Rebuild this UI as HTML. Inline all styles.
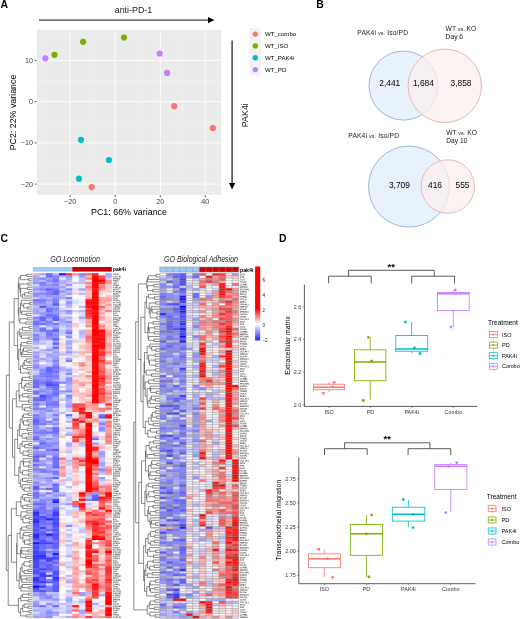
<!DOCTYPE html>
<html lang="en"><head><meta charset="utf-8"><title>Figure</title>
<style>html,body{margin:0;padding:0;background:#fff}svg{display:block}text{font-family:"Liberation Sans", Arial, Helvetica, sans-serif}</style></head><body>
<svg width="520" height="619" viewBox="0 0 520 619">
<rect width="520" height="619" fill="#fff"/>
<defs><filter id="hb" x="-2%" y="-1%" width="104%" height="102%"><feGaussianBlur stdDeviation="0.45"/></filter><filter id="hb1" x="-2%" y="-1%" width="104%" height="102%"><feGaussianBlur stdDeviation="0.6"/></filter></defs>
<g font-weight="bold" font-size="10.4">
<text x="0.5" y="7.7">A</text>
<text x="316.3" y="7.7">B</text>
<text x="0.5" y="242">C</text>
<text x="279" y="241.8">D</text>
</g>
<rect x="36.9" y="29.85" width="184.3" height="165.0" fill="#EBEBEB"/>
<g stroke="#F5F5F5" stroke-width="0.5">
<line x1="47.61" x2="47.61" y1="29.85" y2="194.85"/>
<line x1="92.67" x2="92.67" y1="29.85" y2="194.85"/>
<line x1="137.73" x2="137.73" y1="29.85" y2="194.85"/>
<line x1="182.79" x2="182.79" y1="29.85" y2="194.85"/>
<line y1="39.78" y2="39.78" x1="36.9" x2="221.2"/>
<line y1="81.01" y2="81.01" x1="36.9" x2="221.2"/>
<line y1="122.25" y2="122.25" x1="36.9" x2="221.2"/>
<line y1="163.47" y2="163.47" x1="36.9" x2="221.2"/>
</g>
<g stroke="#FFFFFF" stroke-width="0.9">
<line x1="70.14" x2="70.14" y1="29.85" y2="194.85"/>
<line x1="115.20" x2="115.20" y1="29.85" y2="194.85"/>
<line x1="160.26" x2="160.26" y1="29.85" y2="194.85"/>
<line x1="205.32" x2="205.32" y1="29.85" y2="194.85"/>
<line y1="60.40" y2="60.40" x1="36.9" x2="221.2"/>
<line y1="101.63" y2="101.63" x1="36.9" x2="221.2"/>
<line y1="142.86" y2="142.86" x1="36.9" x2="221.2"/>
<line y1="184.09" y2="184.09" x1="36.9" x2="221.2"/>
</g>
<g stroke="#333" stroke-width="0.7">
<line x1="70.14" x2="70.14" y1="194.85" y2="197.25"/>
<line x1="115.20" x2="115.20" y1="194.85" y2="197.25"/>
<line x1="160.26" x2="160.26" y1="194.85" y2="197.25"/>
<line x1="205.32" x2="205.32" y1="194.85" y2="197.25"/>
<line y1="60.40" y2="60.40" x1="34.40" x2="36.9"/>
<line y1="101.63" y2="101.63" x1="34.40" x2="36.9"/>
<line y1="142.86" y2="142.86" x1="34.40" x2="36.9"/>
<line y1="184.09" y2="184.09" x1="34.40" x2="36.9"/>
</g>
<g font-size="7.2" fill="#444">
<text x="70.14" y="204.4" text-anchor="middle">−20</text>
<text x="115.20" y="204.4" text-anchor="middle">0</text>
<text x="160.26" y="204.4" text-anchor="middle">20</text>
<text x="205.32" y="204.4" text-anchor="middle">40</text>
<text x="32.9" y="63.00" text-anchor="end">10</text>
<text x="32.9" y="104.23" text-anchor="end">0</text>
<text x="32.9" y="145.46" text-anchor="end">−10</text>
<text x="32.9" y="186.69" text-anchor="end">−20</text>
</g>
<text x="129.00" y="214.70" font-size="8.9" text-anchor="middle">PC1: 66% variance</text>
<text x="16.20" y="112.50" font-size="8.85" text-anchor="middle" transform="rotate(-90 16.20 112.50)">PC2: 22% variance</text>
<circle cx="45.3" cy="58.3" r="3.1" fill="#C77CFF"/>
<circle cx="54.5" cy="54.8" r="3.1" fill="#7CAE00"/>
<circle cx="83.1" cy="41.8" r="3.1" fill="#7CAE00"/>
<circle cx="124" cy="37.5" r="3.1" fill="#7CAE00"/>
<circle cx="159.7" cy="53.5" r="3.1" fill="#C77CFF"/>
<circle cx="167.1" cy="72.9" r="3.1" fill="#C77CFF"/>
<circle cx="174.2" cy="106.2" r="3.1" fill="#F8766D"/>
<circle cx="212.9" cy="128" r="3.1" fill="#F8766D"/>
<circle cx="81" cy="139.8" r="3.1" fill="#00BFC4"/>
<circle cx="109" cy="160" r="3.1" fill="#00BFC4"/>
<circle cx="79" cy="178.7" r="3.1" fill="#00BFC4"/>
<circle cx="91.7" cy="187.1" r="3.1" fill="#F8766D"/>
<rect x="249.7" y="28.2" width="11" height="11.83" fill="#F2F2F2"/>
<circle cx="255.3" cy="34.1" r="2.7" fill="#F8766D"/>
<text x="265.00" y="36.30" font-size="6.1">WT_combo</text>
<rect x="249.7" y="40.0" width="11" height="11.83" fill="#F2F2F2"/>
<circle cx="255.3" cy="45.9" r="2.7" fill="#7CAE00"/>
<text x="265.00" y="48.13" font-size="6.1">WT_ISO</text>
<rect x="249.7" y="51.9" width="11" height="11.83" fill="#F2F2F2"/>
<circle cx="255.3" cy="57.8" r="2.7" fill="#00BFC4"/>
<text x="265.00" y="59.96" font-size="6.1">WT_PAK4i</text>
<rect x="249.7" y="63.7" width="11" height="11.83" fill="#F2F2F2"/>
<circle cx="255.3" cy="69.6" r="2.7" fill="#C77CFF"/>
<text x="265.00" y="71.79" font-size="6.1">WT_PD</text>
<line x1="39" x2="209" y1="20.1" y2="20.1" stroke="#404040" stroke-width="1.1"/>
<path d="M214.4 20.1 L208 17 L208 23.2 Z" fill="#000"/>
<text x="133.50" y="13.00" font-size="8.9" fill="#222" text-anchor="middle">anti-PD-1</text>
<line x1="232.1" x2="232.1" y1="40.4" y2="184" stroke="#505050" stroke-width="1.6"/>
<path d="M232.1 189.6 L229 183 L235.2 183 Z" fill="#000"/>
<text x="247.60" y="115.20" font-size="8.9" fill="#222" text-anchor="middle" transform="rotate(-90 247.60 115.20)">PAK4i</text>
<circle cx="403.5" cy="85.6" r="34.5" fill="#E7F2FD" stroke="#9DB7DC" stroke-width="1"/>
<circle cx="444.8" cy="85.8" r="36.7" fill="#FCEFEF" fill-opacity="0.75" stroke="#E3B9B9" stroke-width="1"/>
<g font-size="8.4" fill="#000" text-anchor="middle">
<text x="389.8" y="85.5">2,441</text><text x="423.4" y="85.5">1,684</text><text x="461" y="85.5">3,858</text>
</g>
<circle cx="409" cy="186.6" r="40.5" fill="#E7F2FD" stroke="#9DB7DC" stroke-width="1"/>
<circle cx="447.8" cy="186.5" r="26.7" fill="#FCEFEF" fill-opacity="0.75" stroke="#E3B9B9" stroke-width="1"/>
<g font-size="8.4" fill="#000" text-anchor="middle">
<text x="399.4" y="187.6">3,709</text><text x="435" y="187.6">416</text><text x="462.5" y="187.6">555</text>
</g>
<g font-size="6.7" fill="#1A1A1A">
<text x="357.3" y="34.8" letter-spacing="0.12">PAK4i <tspan font-size="5.5">vs.</tspan> Iso/PD</text>
<text x="445.6" y="30.8">WT <tspan font-size="5.5">vs.</tspan> KO</text>
<text x="445.6" y="39.4">Day 6</text>
<text x="348.3" y="137.6" letter-spacing="0.12">PAK4i <tspan font-size="5.5">vs.</tspan> Iso/PD</text>
<text x="446.2" y="134.5">WT <tspan font-size="5.5">vs.</tspan> KO</text>
<text x="446.2" y="143.1">Day 10</text>
</g>
<text x="75.00" y="261.70" font-size="8.5" fill="#1A1A1A" text-anchor="middle" font-style="italic" textLength="49.7" lengthAdjust="spacingAndGlyphs">GO Locomotion</text>
<rect x="32.80" y="267.0" width="39.50" height="4.60" fill="#9ACBFA"/>
<rect x="72.30" y="267.0" width="39.50" height="4.60" fill="#C60004"/>
<text x="113.00" y="271.10" font-size="5.0" font-weight="bold">pak4i</text>
<g filter="url(#hb1)">
<rect x="32.80" y="273.20" width="6.98" height="2.57" fill="#FFB2B2"/>
<rect x="39.38" y="273.20" width="6.98" height="2.57" fill="#A4A4FF"/>
<rect x="45.97" y="273.20" width="6.98" height="2.57" fill="#6565FF"/>
<rect x="52.55" y="273.20" width="6.98" height="2.57" fill="#B2B2FF"/>
<rect x="59.13" y="273.20" width="6.98" height="2.57" fill="#1919FF"/>
<rect x="65.72" y="273.20" width="6.98" height="2.57" fill="#FF3333"/>
<rect x="72.30" y="273.20" width="6.98" height="2.57" fill="#FF9999"/>
<rect x="78.88" y="273.20" width="6.98" height="2.57" fill="#8080FF"/>
<rect x="85.47" y="273.20" width="6.98" height="2.57" fill="#FF6767"/>
<rect x="92.05" y="273.20" width="6.98" height="2.57" fill="#FF2626"/>
<rect x="98.63" y="273.20" width="6.98" height="2.57" fill="#FFFFFF"/>
<rect x="105.22" y="273.20" width="6.58" height="2.57" fill="#A6A6FF"/>
<rect x="32.80" y="275.37" width="6.98" height="2.57" fill="#A6A6FF"/>
<rect x="39.38" y="275.37" width="6.98" height="2.57" fill="#E2E2FF"/>
<rect x="45.97" y="275.37" width="6.98" height="2.57" fill="#6D6DFF"/>
<rect x="52.55" y="275.37" width="6.98" height="2.57" fill="#8787FF"/>
<rect x="59.13" y="275.37" width="6.98" height="2.57" fill="#B1B1FF"/>
<rect x="65.72" y="275.37" width="6.98" height="2.57" fill="#9393FF"/>
<rect x="72.30" y="275.37" width="6.98" height="2.57" fill="#E8E8FF"/>
<rect x="78.88" y="275.37" width="6.98" height="2.57" fill="#9999FF"/>
<rect x="85.47" y="275.37" width="6.98" height="2.57" fill="#FFB9B9"/>
<rect x="92.05" y="275.37" width="6.98" height="2.57" fill="#FF0909"/>
<rect x="98.63" y="275.37" width="6.98" height="2.57" fill="#FF4F4F"/>
<rect x="105.22" y="275.37" width="6.58" height="2.57" fill="#A6A6FF"/>
<rect x="32.80" y="277.54" width="6.98" height="2.57" fill="#A4A4FF"/>
<rect x="39.38" y="277.54" width="6.98" height="2.57" fill="#8181FF"/>
<rect x="45.97" y="277.54" width="6.98" height="2.57" fill="#A0A0FF"/>
<rect x="52.55" y="277.54" width="6.98" height="2.57" fill="#8080FF"/>
<rect x="59.13" y="277.54" width="6.98" height="2.57" fill="#E4E4FF"/>
<rect x="65.72" y="277.54" width="6.98" height="2.57" fill="#AAAAFF"/>
<rect x="72.30" y="277.54" width="6.98" height="2.57" fill="#FEFEFF"/>
<rect x="78.88" y="277.54" width="6.98" height="2.57" fill="#C2C2FF"/>
<rect x="85.47" y="277.54" width="6.98" height="2.57" fill="#FF8282"/>
<rect x="92.05" y="277.54" width="6.98" height="2.57" fill="#FF0404"/>
<rect x="98.63" y="277.54" width="6.98" height="2.57" fill="#FF4C4C"/>
<rect x="105.22" y="277.54" width="6.58" height="2.57" fill="#D9D9FF"/>
<rect x="32.80" y="279.71" width="6.98" height="2.57" fill="#A4A4FF"/>
<rect x="39.38" y="279.71" width="6.98" height="2.57" fill="#BBBBFF"/>
<rect x="45.97" y="279.71" width="6.98" height="2.57" fill="#8A8AFF"/>
<rect x="52.55" y="279.71" width="6.98" height="2.57" fill="#7070FF"/>
<rect x="59.13" y="279.71" width="6.98" height="2.57" fill="#B5B5FF"/>
<rect x="65.72" y="279.71" width="6.98" height="2.57" fill="#B7B7FF"/>
<rect x="72.30" y="279.71" width="6.98" height="2.57" fill="#FFFCFC"/>
<rect x="78.88" y="279.71" width="6.98" height="2.57" fill="#C1C1FF"/>
<rect x="85.47" y="279.71" width="6.98" height="2.57" fill="#FFE0E0"/>
<rect x="92.05" y="279.71" width="6.98" height="2.57" fill="#FF0000"/>
<rect x="98.63" y="279.71" width="6.98" height="2.57" fill="#FF0505"/>
<rect x="105.22" y="279.71" width="6.58" height="2.57" fill="#FF8B8B"/>
<rect x="32.80" y="281.88" width="6.98" height="2.57" fill="#9898FF"/>
<rect x="39.38" y="281.88" width="6.98" height="2.57" fill="#7F7FFF"/>
<rect x="45.97" y="281.88" width="6.98" height="2.57" fill="#ADADFF"/>
<rect x="52.55" y="281.88" width="6.98" height="2.57" fill="#9494FF"/>
<rect x="59.13" y="281.88" width="6.98" height="2.57" fill="#B1B1FF"/>
<rect x="65.72" y="281.88" width="6.98" height="2.57" fill="#C5C5FF"/>
<rect x="72.30" y="281.88" width="6.98" height="2.57" fill="#C5C5FF"/>
<rect x="78.88" y="281.88" width="6.98" height="2.57" fill="#BEBEFF"/>
<rect x="85.47" y="281.88" width="6.98" height="2.57" fill="#FF8585"/>
<rect x="92.05" y="281.88" width="6.98" height="2.57" fill="#FF0A0A"/>
<rect x="98.63" y="281.88" width="6.98" height="2.57" fill="#FF3B3B"/>
<rect x="105.22" y="281.88" width="6.58" height="2.57" fill="#FF9393"/>
<rect x="32.80" y="284.05" width="6.98" height="2.57" fill="#CECEFF"/>
<rect x="39.38" y="284.05" width="6.98" height="2.57" fill="#8686FF"/>
<rect x="45.97" y="284.05" width="6.98" height="2.57" fill="#9393FF"/>
<rect x="52.55" y="284.05" width="6.98" height="2.57" fill="#8585FF"/>
<rect x="59.13" y="284.05" width="6.98" height="2.57" fill="#C1C1FF"/>
<rect x="65.72" y="284.05" width="6.98" height="2.57" fill="#9898FF"/>
<rect x="72.30" y="284.05" width="6.98" height="2.57" fill="#F5F5FF"/>
<rect x="78.88" y="284.05" width="6.98" height="2.57" fill="#EAEAFF"/>
<rect x="85.47" y="284.05" width="6.98" height="2.57" fill="#FFADAD"/>
<rect x="92.05" y="284.05" width="6.98" height="2.57" fill="#FF0000"/>
<rect x="98.63" y="284.05" width="6.98" height="2.57" fill="#FF9191"/>
<rect x="105.22" y="284.05" width="6.58" height="2.57" fill="#FFCFCF"/>
<rect x="32.80" y="286.22" width="6.98" height="2.57" fill="#ABABFF"/>
<rect x="39.38" y="286.22" width="6.98" height="2.57" fill="#9B9BFF"/>
<rect x="45.97" y="286.22" width="6.98" height="2.57" fill="#9999FF"/>
<rect x="52.55" y="286.22" width="6.98" height="2.57" fill="#9999FF"/>
<rect x="59.13" y="286.22" width="6.98" height="2.57" fill="#9F9FFF"/>
<rect x="65.72" y="286.22" width="6.98" height="2.57" fill="#DCDCFF"/>
<rect x="72.30" y="286.22" width="6.98" height="2.57" fill="#ECECFF"/>
<rect x="78.88" y="286.22" width="6.98" height="2.57" fill="#E9E9FF"/>
<rect x="85.47" y="286.22" width="6.98" height="2.57" fill="#FF7373"/>
<rect x="92.05" y="286.22" width="6.98" height="2.57" fill="#FF0000"/>
<rect x="98.63" y="286.22" width="6.98" height="2.57" fill="#FF7A7A"/>
<rect x="105.22" y="286.22" width="6.58" height="2.57" fill="#FFC1C1"/>
<rect x="32.80" y="288.38" width="6.98" height="2.57" fill="#9191FF"/>
<rect x="39.38" y="288.38" width="6.98" height="2.57" fill="#7F7FFF"/>
<rect x="45.97" y="288.38" width="6.98" height="2.57" fill="#5E5EFF"/>
<rect x="52.55" y="288.38" width="6.98" height="2.57" fill="#7272FF"/>
<rect x="59.13" y="288.38" width="6.98" height="2.57" fill="#B8B8FF"/>
<rect x="65.72" y="288.38" width="6.98" height="2.57" fill="#7C7CFF"/>
<rect x="72.30" y="288.38" width="6.98" height="2.57" fill="#E1E1FF"/>
<rect x="78.88" y="288.38" width="6.98" height="2.57" fill="#9F9FFF"/>
<rect x="85.47" y="288.38" width="6.98" height="2.57" fill="#FFA4A4"/>
<rect x="92.05" y="288.38" width="6.98" height="2.57" fill="#FF1414"/>
<rect x="98.63" y="288.38" width="6.98" height="2.57" fill="#FF9494"/>
<rect x="105.22" y="288.38" width="6.58" height="2.57" fill="#FFD4D4"/>
<rect x="32.80" y="290.55" width="6.98" height="2.57" fill="#B9B9FF"/>
<rect x="39.38" y="290.55" width="6.98" height="2.57" fill="#ADADFF"/>
<rect x="45.97" y="290.55" width="6.98" height="2.57" fill="#8888FF"/>
<rect x="52.55" y="290.55" width="6.98" height="2.57" fill="#6363FF"/>
<rect x="59.13" y="290.55" width="6.98" height="2.57" fill="#9393FF"/>
<rect x="65.72" y="290.55" width="6.98" height="2.57" fill="#C2C2FF"/>
<rect x="72.30" y="290.55" width="6.98" height="2.57" fill="#FFDDDD"/>
<rect x="78.88" y="290.55" width="6.98" height="2.57" fill="#E0E0FF"/>
<rect x="85.47" y="290.55" width="6.98" height="2.57" fill="#FFBDBD"/>
<rect x="92.05" y="290.55" width="6.98" height="2.57" fill="#FF0B0B"/>
<rect x="98.63" y="290.55" width="6.98" height="2.57" fill="#FFD3D3"/>
<rect x="105.22" y="290.55" width="6.58" height="2.57" fill="#FFCACA"/>
<rect x="32.80" y="292.72" width="6.98" height="2.57" fill="#8B8BFF"/>
<rect x="39.38" y="292.72" width="6.98" height="2.57" fill="#8787FF"/>
<rect x="45.97" y="292.72" width="6.98" height="2.57" fill="#7B7BFF"/>
<rect x="52.55" y="292.72" width="6.98" height="2.57" fill="#6565FF"/>
<rect x="59.13" y="292.72" width="6.98" height="2.57" fill="#BDBDFF"/>
<rect x="65.72" y="292.72" width="6.98" height="2.57" fill="#9D9DFF"/>
<rect x="72.30" y="292.72" width="6.98" height="2.57" fill="#FFD0D0"/>
<rect x="78.88" y="292.72" width="6.98" height="2.57" fill="#BABAFF"/>
<rect x="85.47" y="292.72" width="6.98" height="2.57" fill="#FFB9B9"/>
<rect x="92.05" y="292.72" width="6.98" height="2.57" fill="#FF0000"/>
<rect x="98.63" y="292.72" width="6.98" height="2.57" fill="#FFD5D5"/>
<rect x="105.22" y="292.72" width="6.58" height="2.57" fill="#FFF0F0"/>
<rect x="32.80" y="294.89" width="6.98" height="2.57" fill="#9191FF"/>
<rect x="39.38" y="294.89" width="6.98" height="2.57" fill="#ABABFF"/>
<rect x="45.97" y="294.89" width="6.98" height="2.57" fill="#9393FF"/>
<rect x="52.55" y="294.89" width="6.98" height="2.57" fill="#9D9DFF"/>
<rect x="59.13" y="294.89" width="6.98" height="2.57" fill="#B1B1FF"/>
<rect x="65.72" y="294.89" width="6.98" height="2.57" fill="#E1E1FF"/>
<rect x="72.30" y="294.89" width="6.98" height="2.57" fill="#FFFDFD"/>
<rect x="78.88" y="294.89" width="6.98" height="2.57" fill="#F5F5FF"/>
<rect x="85.47" y="294.89" width="6.98" height="2.57" fill="#FFBCBC"/>
<rect x="92.05" y="294.89" width="6.98" height="2.57" fill="#FF0D0D"/>
<rect x="98.63" y="294.89" width="6.98" height="2.57" fill="#FFF1F1"/>
<rect x="105.22" y="294.89" width="6.58" height="2.57" fill="#FFC5C5"/>
<rect x="32.80" y="297.06" width="6.98" height="2.57" fill="#CACAFF"/>
<rect x="39.38" y="297.06" width="6.98" height="2.57" fill="#A2A2FF"/>
<rect x="45.97" y="297.06" width="6.98" height="2.57" fill="#B4B4FF"/>
<rect x="52.55" y="297.06" width="6.98" height="2.57" fill="#8C8CFF"/>
<rect x="59.13" y="297.06" width="6.98" height="2.57" fill="#A9A9FF"/>
<rect x="65.72" y="297.06" width="6.98" height="2.57" fill="#8181FF"/>
<rect x="72.30" y="297.06" width="6.98" height="2.57" fill="#FFFAFA"/>
<rect x="78.88" y="297.06" width="6.98" height="2.57" fill="#FDFDFF"/>
<rect x="85.47" y="297.06" width="6.98" height="2.57" fill="#FFA0A0"/>
<rect x="92.05" y="297.06" width="6.98" height="2.57" fill="#FF0000"/>
<rect x="98.63" y="297.06" width="6.98" height="2.57" fill="#FFAAAA"/>
<rect x="105.22" y="297.06" width="6.58" height="2.57" fill="#FFA5A5"/>
<rect x="32.80" y="299.23" width="6.98" height="2.57" fill="#6F6FFF"/>
<rect x="39.38" y="299.23" width="6.98" height="2.57" fill="#7979FF"/>
<rect x="45.97" y="299.23" width="6.98" height="2.57" fill="#9797FF"/>
<rect x="52.55" y="299.23" width="6.98" height="2.57" fill="#7979FF"/>
<rect x="59.13" y="299.23" width="6.98" height="2.57" fill="#DDDDFF"/>
<rect x="65.72" y="299.23" width="6.98" height="2.57" fill="#C5C5FF"/>
<rect x="72.30" y="299.23" width="6.98" height="2.57" fill="#DFDFFF"/>
<rect x="78.88" y="299.23" width="6.98" height="2.57" fill="#F3F3FF"/>
<rect x="85.47" y="299.23" width="6.98" height="2.57" fill="#FF1414"/>
<rect x="92.05" y="299.23" width="6.98" height="2.57" fill="#FF0404"/>
<rect x="98.63" y="299.23" width="6.98" height="2.57" fill="#FF9999"/>
<rect x="105.22" y="299.23" width="6.58" height="2.57" fill="#FF9292"/>
<rect x="32.80" y="301.40" width="6.98" height="2.57" fill="#9090FF"/>
<rect x="39.38" y="301.40" width="6.98" height="2.57" fill="#8585FF"/>
<rect x="45.97" y="301.40" width="6.98" height="2.57" fill="#B0B0FF"/>
<rect x="52.55" y="301.40" width="6.98" height="2.57" fill="#7A7AFF"/>
<rect x="59.13" y="301.40" width="6.98" height="2.57" fill="#F8F8FF"/>
<rect x="65.72" y="301.40" width="6.98" height="2.57" fill="#8E8EFF"/>
<rect x="72.30" y="301.40" width="6.98" height="2.57" fill="#D7D7FF"/>
<rect x="78.88" y="301.40" width="6.98" height="2.57" fill="#E6E6FF"/>
<rect x="85.47" y="301.40" width="6.98" height="2.57" fill="#FF0000"/>
<rect x="92.05" y="301.40" width="6.98" height="2.57" fill="#FF0000"/>
<rect x="98.63" y="301.40" width="6.98" height="2.57" fill="#FFA0A0"/>
<rect x="105.22" y="301.40" width="6.58" height="2.57" fill="#FFD0D0"/>
<rect x="32.80" y="303.57" width="6.98" height="2.57" fill="#9E9EFF"/>
<rect x="39.38" y="303.57" width="6.98" height="2.57" fill="#A6A6FF"/>
<rect x="45.97" y="303.57" width="6.98" height="2.57" fill="#A4A4FF"/>
<rect x="52.55" y="303.57" width="6.98" height="2.57" fill="#5A5AFF"/>
<rect x="59.13" y="303.57" width="6.98" height="2.57" fill="#D3D3FF"/>
<rect x="65.72" y="303.57" width="6.98" height="2.57" fill="#A9A9FF"/>
<rect x="72.30" y="303.57" width="6.98" height="2.57" fill="#EEEEFF"/>
<rect x="78.88" y="303.57" width="6.98" height="2.57" fill="#FFF7F7"/>
<rect x="85.47" y="303.57" width="6.98" height="2.57" fill="#FF1E1E"/>
<rect x="92.05" y="303.57" width="6.98" height="2.57" fill="#FF0B0B"/>
<rect x="98.63" y="303.57" width="6.98" height="2.57" fill="#FFCFCF"/>
<rect x="105.22" y="303.57" width="6.58" height="2.57" fill="#FF9999"/>
<rect x="32.80" y="305.74" width="6.98" height="2.57" fill="#C2C2FF"/>
<rect x="39.38" y="305.74" width="6.98" height="2.57" fill="#5B5BFF"/>
<rect x="45.97" y="305.74" width="6.98" height="2.57" fill="#9797FF"/>
<rect x="52.55" y="305.74" width="6.98" height="2.57" fill="#A2A2FF"/>
<rect x="59.13" y="305.74" width="6.98" height="2.57" fill="#FFEBEB"/>
<rect x="65.72" y="305.74" width="6.98" height="2.57" fill="#BBBBFF"/>
<rect x="72.30" y="305.74" width="6.98" height="2.57" fill="#FFF8F8"/>
<rect x="78.88" y="305.74" width="6.98" height="2.57" fill="#B5B5FF"/>
<rect x="85.47" y="305.74" width="6.98" height="2.57" fill="#FF1212"/>
<rect x="92.05" y="305.74" width="6.98" height="2.57" fill="#FF0000"/>
<rect x="98.63" y="305.74" width="6.98" height="2.57" fill="#FF6666"/>
<rect x="105.22" y="305.74" width="6.58" height="2.57" fill="#FFD1D1"/>
<rect x="32.80" y="307.91" width="6.98" height="2.57" fill="#AAAAFF"/>
<rect x="39.38" y="307.91" width="6.98" height="2.57" fill="#AFAFFF"/>
<rect x="45.97" y="307.91" width="6.98" height="2.57" fill="#7373FF"/>
<rect x="52.55" y="307.91" width="6.98" height="2.57" fill="#8383FF"/>
<rect x="59.13" y="307.91" width="6.98" height="2.57" fill="#D5D5FF"/>
<rect x="65.72" y="307.91" width="6.98" height="2.57" fill="#E4E4FF"/>
<rect x="72.30" y="307.91" width="6.98" height="2.57" fill="#FFFDFD"/>
<rect x="78.88" y="307.91" width="6.98" height="2.57" fill="#EDEDFF"/>
<rect x="85.47" y="307.91" width="6.98" height="2.57" fill="#FF4C4C"/>
<rect x="92.05" y="307.91" width="6.98" height="2.57" fill="#FF0000"/>
<rect x="98.63" y="307.91" width="6.98" height="2.57" fill="#FFA8A8"/>
<rect x="105.22" y="307.91" width="6.58" height="2.57" fill="#FFCECE"/>
<rect x="32.80" y="310.08" width="6.98" height="2.57" fill="#A0A0FF"/>
<rect x="39.38" y="310.08" width="6.98" height="2.57" fill="#BBBBFF"/>
<rect x="45.97" y="310.08" width="6.98" height="2.57" fill="#6D6DFF"/>
<rect x="52.55" y="310.08" width="6.98" height="2.57" fill="#9292FF"/>
<rect x="59.13" y="310.08" width="6.98" height="2.57" fill="#ABABFF"/>
<rect x="65.72" y="310.08" width="6.98" height="2.57" fill="#8F8FFF"/>
<rect x="72.30" y="310.08" width="6.98" height="2.57" fill="#CECEFF"/>
<rect x="78.88" y="310.08" width="6.98" height="2.57" fill="#B3B3FF"/>
<rect x="85.47" y="310.08" width="6.98" height="2.57" fill="#FF1C1C"/>
<rect x="92.05" y="310.08" width="6.98" height="2.57" fill="#FF1414"/>
<rect x="98.63" y="310.08" width="6.98" height="2.57" fill="#FFC0C0"/>
<rect x="105.22" y="310.08" width="6.58" height="2.57" fill="#FF8282"/>
<rect x="32.80" y="312.25" width="6.98" height="2.57" fill="#A0A0FF"/>
<rect x="39.38" y="312.25" width="6.98" height="2.57" fill="#8F8FFF"/>
<rect x="45.97" y="312.25" width="6.98" height="2.57" fill="#8B8BFF"/>
<rect x="52.55" y="312.25" width="6.98" height="2.57" fill="#8D8DFF"/>
<rect x="59.13" y="312.25" width="6.98" height="2.57" fill="#CBCBFF"/>
<rect x="65.72" y="312.25" width="6.98" height="2.57" fill="#9F9FFF"/>
<rect x="72.30" y="312.25" width="6.98" height="2.57" fill="#FFF1F1"/>
<rect x="78.88" y="312.25" width="6.98" height="2.57" fill="#DBDBFF"/>
<rect x="85.47" y="312.25" width="6.98" height="2.57" fill="#FF2525"/>
<rect x="92.05" y="312.25" width="6.98" height="2.57" fill="#FF0101"/>
<rect x="98.63" y="312.25" width="6.98" height="2.57" fill="#FFA4A4"/>
<rect x="105.22" y="312.25" width="6.58" height="2.57" fill="#FFE2E2"/>
<rect x="32.80" y="314.41" width="6.98" height="2.57" fill="#E3E3FF"/>
<rect x="39.38" y="314.41" width="6.98" height="2.57" fill="#9F9FFF"/>
<rect x="45.97" y="314.41" width="6.98" height="2.57" fill="#6666FF"/>
<rect x="52.55" y="314.41" width="6.98" height="2.57" fill="#7C7CFF"/>
<rect x="59.13" y="314.41" width="6.98" height="2.57" fill="#D7D7FF"/>
<rect x="65.72" y="314.41" width="6.98" height="2.57" fill="#E3E3FF"/>
<rect x="72.30" y="314.41" width="6.98" height="2.57" fill="#FFFBFB"/>
<rect x="78.88" y="314.41" width="6.98" height="2.57" fill="#DFDFFF"/>
<rect x="85.47" y="314.41" width="6.98" height="2.57" fill="#FF3131"/>
<rect x="92.05" y="314.41" width="6.98" height="2.57" fill="#FF0909"/>
<rect x="98.63" y="314.41" width="6.98" height="2.57" fill="#FFC5C5"/>
<rect x="105.22" y="314.41" width="6.58" height="2.57" fill="#FFEDED"/>
<rect x="32.80" y="316.58" width="6.98" height="2.57" fill="#8383FF"/>
<rect x="39.38" y="316.58" width="6.98" height="2.57" fill="#6363FF"/>
<rect x="45.97" y="316.58" width="6.98" height="2.57" fill="#8A8AFF"/>
<rect x="52.55" y="316.58" width="6.98" height="2.57" fill="#6262FF"/>
<rect x="59.13" y="316.58" width="6.98" height="2.57" fill="#C2C2FF"/>
<rect x="65.72" y="316.58" width="6.98" height="2.57" fill="#ADADFF"/>
<rect x="72.30" y="316.58" width="6.98" height="2.57" fill="#EAEAFF"/>
<rect x="78.88" y="316.58" width="6.98" height="2.57" fill="#A1A1FF"/>
<rect x="85.47" y="316.58" width="6.98" height="2.57" fill="#FF4F4F"/>
<rect x="92.05" y="316.58" width="6.98" height="2.57" fill="#FF0707"/>
<rect x="98.63" y="316.58" width="6.98" height="2.57" fill="#FF9E9E"/>
<rect x="105.22" y="316.58" width="6.58" height="2.57" fill="#FFD5D5"/>
<rect x="32.80" y="318.75" width="6.98" height="2.57" fill="#9D9DFF"/>
<rect x="39.38" y="318.75" width="6.98" height="2.57" fill="#6464FF"/>
<rect x="45.97" y="318.75" width="6.98" height="2.57" fill="#ADADFF"/>
<rect x="52.55" y="318.75" width="6.98" height="2.57" fill="#6161FF"/>
<rect x="59.13" y="318.75" width="6.98" height="2.57" fill="#A0A0FF"/>
<rect x="65.72" y="318.75" width="6.98" height="2.57" fill="#C8C8FF"/>
<rect x="72.30" y="318.75" width="6.98" height="2.57" fill="#F6F6FF"/>
<rect x="78.88" y="318.75" width="6.98" height="2.57" fill="#DADAFF"/>
<rect x="85.47" y="318.75" width="6.98" height="2.57" fill="#FFA8A8"/>
<rect x="92.05" y="318.75" width="6.98" height="2.57" fill="#FF0505"/>
<rect x="98.63" y="318.75" width="6.98" height="2.57" fill="#FFB3B3"/>
<rect x="105.22" y="318.75" width="6.58" height="2.57" fill="#FFD6D6"/>
<rect x="32.80" y="320.92" width="6.98" height="2.57" fill="#7777FF"/>
<rect x="39.38" y="320.92" width="6.98" height="2.57" fill="#9393FF"/>
<rect x="45.97" y="320.92" width="6.98" height="2.57" fill="#7D7DFF"/>
<rect x="52.55" y="320.92" width="6.98" height="2.57" fill="#CBCBFF"/>
<rect x="59.13" y="320.92" width="6.98" height="2.57" fill="#A3A3FF"/>
<rect x="65.72" y="320.92" width="6.98" height="2.57" fill="#8E8EFF"/>
<rect x="72.30" y="320.92" width="6.98" height="2.57" fill="#FFF2F2"/>
<rect x="78.88" y="320.92" width="6.98" height="2.57" fill="#DFDFFF"/>
<rect x="85.47" y="320.92" width="6.98" height="2.57" fill="#FF9999"/>
<rect x="92.05" y="320.92" width="6.98" height="2.57" fill="#FF0000"/>
<rect x="98.63" y="320.92" width="6.98" height="2.57" fill="#FFF2F2"/>
<rect x="105.22" y="320.92" width="6.58" height="2.57" fill="#FFC3C3"/>
<rect x="32.80" y="323.09" width="6.98" height="2.57" fill="#7171FF"/>
<rect x="39.38" y="323.09" width="6.98" height="2.57" fill="#7070FF"/>
<rect x="45.97" y="323.09" width="6.98" height="2.57" fill="#8D8DFF"/>
<rect x="52.55" y="323.09" width="6.98" height="2.57" fill="#7777FF"/>
<rect x="59.13" y="323.09" width="6.98" height="2.57" fill="#B5B5FF"/>
<rect x="65.72" y="323.09" width="6.98" height="2.57" fill="#B1B1FF"/>
<rect x="72.30" y="323.09" width="6.98" height="2.57" fill="#FFC2C2"/>
<rect x="78.88" y="323.09" width="6.98" height="2.57" fill="#F2F2FF"/>
<rect x="85.47" y="323.09" width="6.98" height="2.57" fill="#FFB0B0"/>
<rect x="92.05" y="323.09" width="6.98" height="2.57" fill="#FF0606"/>
<rect x="98.63" y="323.09" width="6.98" height="2.57" fill="#FFBBBB"/>
<rect x="105.22" y="323.09" width="6.58" height="2.57" fill="#FFDEDE"/>
<rect x="32.80" y="325.26" width="6.98" height="2.57" fill="#9292FF"/>
<rect x="39.38" y="325.26" width="6.98" height="2.57" fill="#E2E2FF"/>
<rect x="45.97" y="325.26" width="6.98" height="2.57" fill="#A7A7FF"/>
<rect x="52.55" y="325.26" width="6.98" height="2.57" fill="#A8A8FF"/>
<rect x="59.13" y="325.26" width="6.98" height="2.57" fill="#C7C7FF"/>
<rect x="65.72" y="325.26" width="6.98" height="2.57" fill="#A4A4FF"/>
<rect x="72.30" y="325.26" width="6.98" height="2.57" fill="#FFCBCB"/>
<rect x="78.88" y="325.26" width="6.98" height="2.57" fill="#F5F5FF"/>
<rect x="85.47" y="325.26" width="6.98" height="2.57" fill="#FF8383"/>
<rect x="92.05" y="325.26" width="6.98" height="2.57" fill="#FF0101"/>
<rect x="98.63" y="325.26" width="6.98" height="2.57" fill="#FF7A7A"/>
<rect x="105.22" y="325.26" width="6.58" height="2.57" fill="#FFD1D1"/>
<rect x="32.80" y="327.43" width="6.98" height="2.57" fill="#A4A4FF"/>
<rect x="39.38" y="327.43" width="6.98" height="2.57" fill="#7575FF"/>
<rect x="45.97" y="327.43" width="6.98" height="2.57" fill="#D7D7FF"/>
<rect x="52.55" y="327.43" width="6.98" height="2.57" fill="#8585FF"/>
<rect x="59.13" y="327.43" width="6.98" height="2.57" fill="#DDDDFF"/>
<rect x="65.72" y="327.43" width="6.98" height="2.57" fill="#C4C4FF"/>
<rect x="72.30" y="327.43" width="6.98" height="2.57" fill="#F7F7FF"/>
<rect x="78.88" y="327.43" width="6.98" height="2.57" fill="#FFFFFF"/>
<rect x="85.47" y="327.43" width="6.98" height="2.57" fill="#FFFDFD"/>
<rect x="92.05" y="327.43" width="6.98" height="2.57" fill="#FF0707"/>
<rect x="98.63" y="327.43" width="6.98" height="2.57" fill="#FFA8A8"/>
<rect x="105.22" y="327.43" width="6.58" height="2.57" fill="#FFD5D5"/>
<rect x="32.80" y="329.60" width="6.98" height="2.57" fill="#9D9DFF"/>
<rect x="39.38" y="329.60" width="6.98" height="2.57" fill="#7171FF"/>
<rect x="45.97" y="329.60" width="6.98" height="2.57" fill="#7D7DFF"/>
<rect x="52.55" y="329.60" width="6.98" height="2.57" fill="#5D5DFF"/>
<rect x="59.13" y="329.60" width="6.98" height="2.57" fill="#C7C7FF"/>
<rect x="65.72" y="329.60" width="6.98" height="2.57" fill="#9A9AFF"/>
<rect x="72.30" y="329.60" width="6.98" height="2.57" fill="#FFF1F1"/>
<rect x="78.88" y="329.60" width="6.98" height="2.57" fill="#BABAFF"/>
<rect x="85.47" y="329.60" width="6.98" height="2.57" fill="#FF9D9D"/>
<rect x="92.05" y="329.60" width="6.98" height="2.57" fill="#FF0000"/>
<rect x="98.63" y="329.60" width="6.98" height="2.57" fill="#FF0303"/>
<rect x="105.22" y="329.60" width="6.58" height="2.57" fill="#FFA9A9"/>
<rect x="32.80" y="331.77" width="6.98" height="2.57" fill="#BABAFF"/>
<rect x="39.38" y="331.77" width="6.98" height="2.57" fill="#B0B0FF"/>
<rect x="45.97" y="331.77" width="6.98" height="2.57" fill="#7575FF"/>
<rect x="52.55" y="331.77" width="6.98" height="2.57" fill="#9797FF"/>
<rect x="59.13" y="331.77" width="6.98" height="2.57" fill="#C5C5FF"/>
<rect x="65.72" y="331.77" width="6.98" height="2.57" fill="#7575FF"/>
<rect x="72.30" y="331.77" width="6.98" height="2.57" fill="#FFF5F5"/>
<rect x="78.88" y="331.77" width="6.98" height="2.57" fill="#B3B3FF"/>
<rect x="85.47" y="331.77" width="6.98" height="2.57" fill="#FFADAD"/>
<rect x="92.05" y="331.77" width="6.98" height="2.57" fill="#FF0000"/>
<rect x="98.63" y="331.77" width="6.98" height="2.57" fill="#FF1717"/>
<rect x="105.22" y="331.77" width="6.58" height="2.57" fill="#FFA0A0"/>
<rect x="32.80" y="333.94" width="6.98" height="2.57" fill="#8383FF"/>
<rect x="39.38" y="333.94" width="6.98" height="2.57" fill="#BABAFF"/>
<rect x="45.97" y="333.94" width="6.98" height="2.57" fill="#7373FF"/>
<rect x="52.55" y="333.94" width="6.98" height="2.57" fill="#8C8CFF"/>
<rect x="59.13" y="333.94" width="6.98" height="2.57" fill="#D2D2FF"/>
<rect x="65.72" y="333.94" width="6.98" height="2.57" fill="#B3B3FF"/>
<rect x="72.30" y="333.94" width="6.98" height="2.57" fill="#F0F0FF"/>
<rect x="78.88" y="333.94" width="6.98" height="2.57" fill="#C2C2FF"/>
<rect x="85.47" y="333.94" width="6.98" height="2.57" fill="#FF8F8F"/>
<rect x="92.05" y="333.94" width="6.98" height="2.57" fill="#FF0000"/>
<rect x="98.63" y="333.94" width="6.98" height="2.57" fill="#FF1212"/>
<rect x="105.22" y="333.94" width="6.58" height="2.57" fill="#FF9393"/>
<rect x="32.80" y="336.11" width="6.98" height="2.57" fill="#9191FF"/>
<rect x="39.38" y="336.11" width="6.98" height="2.57" fill="#A9A9FF"/>
<rect x="45.97" y="336.11" width="6.98" height="2.57" fill="#8282FF"/>
<rect x="52.55" y="336.11" width="6.98" height="2.57" fill="#8A8AFF"/>
<rect x="59.13" y="336.11" width="6.98" height="2.57" fill="#FFFAFA"/>
<rect x="65.72" y="336.11" width="6.98" height="2.57" fill="#8B8BFF"/>
<rect x="72.30" y="336.11" width="6.98" height="2.57" fill="#FFFCFC"/>
<rect x="78.88" y="336.11" width="6.98" height="2.57" fill="#C1C1FF"/>
<rect x="85.47" y="336.11" width="6.98" height="2.57" fill="#FF6060"/>
<rect x="92.05" y="336.11" width="6.98" height="2.57" fill="#FF0909"/>
<rect x="98.63" y="336.11" width="6.98" height="2.57" fill="#FF1313"/>
<rect x="105.22" y="336.11" width="6.58" height="2.57" fill="#FFAAAA"/>
<rect x="32.80" y="338.28" width="6.98" height="2.57" fill="#7D7DFF"/>
<rect x="39.38" y="338.28" width="6.98" height="2.57" fill="#ABABFF"/>
<rect x="45.97" y="338.28" width="6.98" height="2.57" fill="#9797FF"/>
<rect x="52.55" y="338.28" width="6.98" height="2.57" fill="#5D5DFF"/>
<rect x="59.13" y="338.28" width="6.98" height="2.57" fill="#DDDDFF"/>
<rect x="65.72" y="338.28" width="6.98" height="2.57" fill="#DADAFF"/>
<rect x="72.30" y="338.28" width="6.98" height="2.57" fill="#FFE1E1"/>
<rect x="78.88" y="338.28" width="6.98" height="2.57" fill="#DEDEFF"/>
<rect x="85.47" y="338.28" width="6.98" height="2.57" fill="#FF6F6F"/>
<rect x="92.05" y="338.28" width="6.98" height="2.57" fill="#FF0303"/>
<rect x="98.63" y="338.28" width="6.98" height="2.57" fill="#FF0101"/>
<rect x="105.22" y="338.28" width="6.58" height="2.57" fill="#FFB1B1"/>
<rect x="32.80" y="340.44" width="6.98" height="2.57" fill="#A3A3FF"/>
<rect x="39.38" y="340.44" width="6.98" height="2.57" fill="#CDCDFF"/>
<rect x="45.97" y="340.44" width="6.98" height="2.57" fill="#DBDBFF"/>
<rect x="52.55" y="340.44" width="6.98" height="2.57" fill="#A1A1FF"/>
<rect x="59.13" y="340.44" width="6.98" height="2.57" fill="#FAFAFF"/>
<rect x="65.72" y="340.44" width="6.98" height="2.57" fill="#A1A1FF"/>
<rect x="72.30" y="340.44" width="6.98" height="2.57" fill="#CECEFF"/>
<rect x="78.88" y="340.44" width="6.98" height="2.57" fill="#FFD3D3"/>
<rect x="85.47" y="340.44" width="6.98" height="2.57" fill="#FF8888"/>
<rect x="92.05" y="340.44" width="6.98" height="2.57" fill="#FF0303"/>
<rect x="98.63" y="340.44" width="6.98" height="2.57" fill="#FF1D1D"/>
<rect x="105.22" y="340.44" width="6.58" height="2.57" fill="#FFBDBD"/>
<rect x="32.80" y="342.61" width="6.98" height="2.57" fill="#B3B3FF"/>
<rect x="39.38" y="342.61" width="6.98" height="2.57" fill="#B8B8FF"/>
<rect x="45.97" y="342.61" width="6.98" height="2.57" fill="#D8D8FF"/>
<rect x="52.55" y="342.61" width="6.98" height="2.57" fill="#6262FF"/>
<rect x="59.13" y="342.61" width="6.98" height="2.57" fill="#FFCFCF"/>
<rect x="65.72" y="342.61" width="6.98" height="2.57" fill="#A8A8FF"/>
<rect x="72.30" y="342.61" width="6.98" height="2.57" fill="#FFF5F5"/>
<rect x="78.88" y="342.61" width="6.98" height="2.57" fill="#FFE9E9"/>
<rect x="85.47" y="342.61" width="6.98" height="2.57" fill="#FFB7B7"/>
<rect x="92.05" y="342.61" width="6.98" height="2.57" fill="#FF1F1F"/>
<rect x="98.63" y="342.61" width="6.98" height="2.57" fill="#FF0909"/>
<rect x="105.22" y="342.61" width="6.58" height="2.57" fill="#FFA1A1"/>
<rect x="32.80" y="344.78" width="6.98" height="2.57" fill="#DADAFF"/>
<rect x="39.38" y="344.78" width="6.98" height="2.57" fill="#FFECEC"/>
<rect x="45.97" y="344.78" width="6.98" height="2.57" fill="#D7D7FF"/>
<rect x="52.55" y="344.78" width="6.98" height="2.57" fill="#A8A8FF"/>
<rect x="59.13" y="344.78" width="6.98" height="2.57" fill="#FFD9D9"/>
<rect x="65.72" y="344.78" width="6.98" height="2.57" fill="#BFBFFF"/>
<rect x="72.30" y="344.78" width="6.98" height="2.57" fill="#FFF1F1"/>
<rect x="78.88" y="344.78" width="6.98" height="2.57" fill="#FFC9C9"/>
<rect x="85.47" y="344.78" width="6.98" height="2.57" fill="#FFAEAE"/>
<rect x="92.05" y="344.78" width="6.98" height="2.57" fill="#FF0000"/>
<rect x="98.63" y="344.78" width="6.98" height="2.57" fill="#FF0C0C"/>
<rect x="105.22" y="344.78" width="6.58" height="2.57" fill="#FFA0A0"/>
<rect x="32.80" y="346.95" width="6.98" height="2.57" fill="#B0B0FF"/>
<rect x="39.38" y="346.95" width="6.98" height="2.57" fill="#F3F3FF"/>
<rect x="45.97" y="346.95" width="6.98" height="2.57" fill="#C5C5FF"/>
<rect x="52.55" y="346.95" width="6.98" height="2.57" fill="#6E6EFF"/>
<rect x="59.13" y="346.95" width="6.98" height="2.57" fill="#FFE0E0"/>
<rect x="65.72" y="346.95" width="6.98" height="2.57" fill="#A5A5FF"/>
<rect x="72.30" y="346.95" width="6.98" height="2.57" fill="#F9F9FF"/>
<rect x="78.88" y="346.95" width="6.98" height="2.57" fill="#FFCACA"/>
<rect x="85.47" y="346.95" width="6.98" height="2.57" fill="#FFA9A9"/>
<rect x="92.05" y="346.95" width="6.98" height="2.57" fill="#FF0A0A"/>
<rect x="98.63" y="346.95" width="6.98" height="2.57" fill="#FF1515"/>
<rect x="105.22" y="346.95" width="6.58" height="2.57" fill="#FFB5B5"/>
<rect x="32.80" y="349.12" width="6.98" height="2.57" fill="#DDDDFF"/>
<rect x="39.38" y="349.12" width="6.98" height="2.57" fill="#B5B5FF"/>
<rect x="45.97" y="349.12" width="6.98" height="2.57" fill="#9393FF"/>
<rect x="52.55" y="349.12" width="6.98" height="2.57" fill="#B2B2FF"/>
<rect x="59.13" y="349.12" width="6.98" height="2.57" fill="#FFEEEE"/>
<rect x="65.72" y="349.12" width="6.98" height="2.57" fill="#C1C1FF"/>
<rect x="72.30" y="349.12" width="6.98" height="2.57" fill="#FFE7E7"/>
<rect x="78.88" y="349.12" width="6.98" height="2.57" fill="#FFE6E6"/>
<rect x="85.47" y="349.12" width="6.98" height="2.57" fill="#FFB6B6"/>
<rect x="92.05" y="349.12" width="6.98" height="2.57" fill="#FF0000"/>
<rect x="98.63" y="349.12" width="6.98" height="2.57" fill="#FF5959"/>
<rect x="105.22" y="349.12" width="6.58" height="2.57" fill="#FFB4B4"/>
<rect x="32.80" y="351.29" width="6.98" height="2.57" fill="#9E9EFF"/>
<rect x="39.38" y="351.29" width="6.98" height="2.57" fill="#BCBCFF"/>
<rect x="45.97" y="351.29" width="6.98" height="2.57" fill="#D3D3FF"/>
<rect x="52.55" y="351.29" width="6.98" height="2.57" fill="#9F9FFF"/>
<rect x="59.13" y="351.29" width="6.98" height="2.57" fill="#D5D5FF"/>
<rect x="65.72" y="351.29" width="6.98" height="2.57" fill="#9595FF"/>
<rect x="72.30" y="351.29" width="6.98" height="2.57" fill="#C6C6FF"/>
<rect x="78.88" y="351.29" width="6.98" height="2.57" fill="#FFABAB"/>
<rect x="85.47" y="351.29" width="6.98" height="2.57" fill="#FFA9A9"/>
<rect x="92.05" y="351.29" width="6.98" height="2.57" fill="#FF0000"/>
<rect x="98.63" y="351.29" width="6.98" height="2.57" fill="#FF3B3B"/>
<rect x="105.22" y="351.29" width="6.58" height="2.57" fill="#FF8484"/>
<rect x="32.80" y="353.46" width="6.98" height="2.57" fill="#AFAFFF"/>
<rect x="39.38" y="353.46" width="6.98" height="2.57" fill="#D2D2FF"/>
<rect x="45.97" y="353.46" width="6.98" height="2.57" fill="#9B9BFF"/>
<rect x="52.55" y="353.46" width="6.98" height="2.57" fill="#AFAFFF"/>
<rect x="59.13" y="353.46" width="6.98" height="2.57" fill="#BCBCFF"/>
<rect x="65.72" y="353.46" width="6.98" height="2.57" fill="#C5C5FF"/>
<rect x="72.30" y="353.46" width="6.98" height="2.57" fill="#FFE3E3"/>
<rect x="78.88" y="353.46" width="6.98" height="2.57" fill="#FFCACA"/>
<rect x="85.47" y="353.46" width="6.98" height="2.57" fill="#FFF1F1"/>
<rect x="92.05" y="353.46" width="6.98" height="2.57" fill="#FF0404"/>
<rect x="98.63" y="353.46" width="6.98" height="2.57" fill="#FF2525"/>
<rect x="105.22" y="353.46" width="6.58" height="2.57" fill="#FFB5B5"/>
<rect x="32.80" y="355.63" width="6.98" height="2.57" fill="#9292FF"/>
<rect x="39.38" y="355.63" width="6.98" height="2.57" fill="#E2E2FF"/>
<rect x="45.97" y="355.63" width="6.98" height="2.57" fill="#A8A8FF"/>
<rect x="52.55" y="355.63" width="6.98" height="2.57" fill="#A5A5FF"/>
<rect x="59.13" y="355.63" width="6.98" height="2.57" fill="#FFE9E9"/>
<rect x="65.72" y="355.63" width="6.98" height="2.57" fill="#E0E0FF"/>
<rect x="72.30" y="355.63" width="6.98" height="2.57" fill="#D4D4FF"/>
<rect x="78.88" y="355.63" width="6.98" height="2.57" fill="#FFDEDE"/>
<rect x="85.47" y="355.63" width="6.98" height="2.57" fill="#FFA5A5"/>
<rect x="92.05" y="355.63" width="6.98" height="2.57" fill="#FF0000"/>
<rect x="98.63" y="355.63" width="6.98" height="2.57" fill="#FF6D6D"/>
<rect x="105.22" y="355.63" width="6.58" height="2.57" fill="#FFDCDC"/>
<rect x="32.80" y="357.80" width="6.98" height="2.57" fill="#ADADFF"/>
<rect x="39.38" y="357.80" width="6.98" height="2.57" fill="#A5A5FF"/>
<rect x="45.97" y="357.80" width="6.98" height="2.57" fill="#C0C0FF"/>
<rect x="52.55" y="357.80" width="6.98" height="2.57" fill="#9999FF"/>
<rect x="59.13" y="357.80" width="6.98" height="2.57" fill="#FFDCDC"/>
<rect x="65.72" y="357.80" width="6.98" height="2.57" fill="#A4A4FF"/>
<rect x="72.30" y="357.80" width="6.98" height="2.57" fill="#FFF9F9"/>
<rect x="78.88" y="357.80" width="6.98" height="2.57" fill="#FCFCFF"/>
<rect x="85.47" y="357.80" width="6.98" height="2.57" fill="#FFB7B7"/>
<rect x="92.05" y="357.80" width="6.98" height="2.57" fill="#FF0000"/>
<rect x="98.63" y="357.80" width="6.98" height="2.57" fill="#FF7373"/>
<rect x="105.22" y="357.80" width="6.58" height="2.57" fill="#FCFCFF"/>
<rect x="32.80" y="359.97" width="6.98" height="2.57" fill="#9595FF"/>
<rect x="39.38" y="359.97" width="6.98" height="2.57" fill="#C3C3FF"/>
<rect x="45.97" y="359.97" width="6.98" height="2.57" fill="#AFAFFF"/>
<rect x="52.55" y="359.97" width="6.98" height="2.57" fill="#8181FF"/>
<rect x="59.13" y="359.97" width="6.98" height="2.57" fill="#FFEAEA"/>
<rect x="65.72" y="359.97" width="6.98" height="2.57" fill="#7D7DFF"/>
<rect x="72.30" y="359.97" width="6.98" height="2.57" fill="#FFF8F8"/>
<rect x="78.88" y="359.97" width="6.98" height="2.57" fill="#F3F3FF"/>
<rect x="85.47" y="359.97" width="6.98" height="2.57" fill="#FFC3C3"/>
<rect x="92.05" y="359.97" width="6.98" height="2.57" fill="#FF0000"/>
<rect x="98.63" y="359.97" width="6.98" height="2.57" fill="#FF3636"/>
<rect x="105.22" y="359.97" width="6.58" height="2.57" fill="#FFB5B5"/>
<rect x="32.80" y="362.14" width="6.98" height="2.57" fill="#B0B0FF"/>
<rect x="39.38" y="362.14" width="6.98" height="2.57" fill="#FFF4F4"/>
<rect x="45.97" y="362.14" width="6.98" height="2.57" fill="#CBCBFF"/>
<rect x="52.55" y="362.14" width="6.98" height="2.57" fill="#9797FF"/>
<rect x="59.13" y="362.14" width="6.98" height="2.57" fill="#E6E6FF"/>
<rect x="65.72" y="362.14" width="6.98" height="2.57" fill="#EEEEFF"/>
<rect x="72.30" y="362.14" width="6.98" height="2.57" fill="#FFC7C7"/>
<rect x="78.88" y="362.14" width="6.98" height="2.57" fill="#FF9494"/>
<rect x="85.47" y="362.14" width="6.98" height="2.57" fill="#FFD7D7"/>
<rect x="92.05" y="362.14" width="6.98" height="2.57" fill="#FF0404"/>
<rect x="98.63" y="362.14" width="6.98" height="2.57" fill="#FF5F5F"/>
<rect x="105.22" y="362.14" width="6.58" height="2.57" fill="#FF7373"/>
<rect x="32.80" y="364.31" width="6.98" height="2.57" fill="#8D8DFF"/>
<rect x="39.38" y="364.31" width="6.98" height="2.57" fill="#BEBEFF"/>
<rect x="45.97" y="364.31" width="6.98" height="2.57" fill="#C9C9FF"/>
<rect x="52.55" y="364.31" width="6.98" height="2.57" fill="#7F7FFF"/>
<rect x="59.13" y="364.31" width="6.98" height="2.57" fill="#FFE9E9"/>
<rect x="65.72" y="364.31" width="6.98" height="2.57" fill="#F2F2FF"/>
<rect x="72.30" y="364.31" width="6.98" height="2.57" fill="#FFDADA"/>
<rect x="78.88" y="364.31" width="6.98" height="2.57" fill="#FF7E7E"/>
<rect x="85.47" y="364.31" width="6.98" height="2.57" fill="#FFC2C2"/>
<rect x="92.05" y="364.31" width="6.98" height="2.57" fill="#FF0000"/>
<rect x="98.63" y="364.31" width="6.98" height="2.57" fill="#FF7676"/>
<rect x="105.22" y="364.31" width="6.58" height="2.57" fill="#FFE0E0"/>
<rect x="32.80" y="366.47" width="6.98" height="2.57" fill="#8585FF"/>
<rect x="39.38" y="366.47" width="6.98" height="2.57" fill="#ACACFF"/>
<rect x="45.97" y="366.47" width="6.98" height="2.57" fill="#6F6FFF"/>
<rect x="52.55" y="366.47" width="6.98" height="2.57" fill="#6B6BFF"/>
<rect x="59.13" y="366.47" width="6.98" height="2.57" fill="#B4B4FF"/>
<rect x="65.72" y="366.47" width="6.98" height="2.57" fill="#E1E1FF"/>
<rect x="72.30" y="366.47" width="6.98" height="2.57" fill="#F7F7FF"/>
<rect x="78.88" y="366.47" width="6.98" height="2.57" fill="#FFDADA"/>
<rect x="85.47" y="366.47" width="6.98" height="2.57" fill="#FFD0D0"/>
<rect x="92.05" y="366.47" width="6.98" height="2.57" fill="#FF0000"/>
<rect x="98.63" y="366.47" width="6.98" height="2.57" fill="#FF6C6C"/>
<rect x="105.22" y="366.47" width="6.58" height="2.57" fill="#FFE0E0"/>
<rect x="32.80" y="368.64" width="6.98" height="2.57" fill="#B2B2FF"/>
<rect x="39.38" y="368.64" width="6.98" height="2.57" fill="#8A8AFF"/>
<rect x="45.97" y="368.64" width="6.98" height="2.57" fill="#5D5DFF"/>
<rect x="52.55" y="368.64" width="6.98" height="2.57" fill="#8282FF"/>
<rect x="59.13" y="368.64" width="6.98" height="2.57" fill="#ADADFF"/>
<rect x="65.72" y="368.64" width="6.98" height="2.57" fill="#A1A1FF"/>
<rect x="72.30" y="368.64" width="6.98" height="2.57" fill="#FFD3D3"/>
<rect x="78.88" y="368.64" width="6.98" height="2.57" fill="#FFBCBC"/>
<rect x="85.47" y="368.64" width="6.98" height="2.57" fill="#FFDBDB"/>
<rect x="92.05" y="368.64" width="6.98" height="2.57" fill="#FF0A0A"/>
<rect x="98.63" y="368.64" width="6.98" height="2.57" fill="#FF6363"/>
<rect x="105.22" y="368.64" width="6.58" height="2.57" fill="#FFB9B9"/>
<rect x="32.80" y="370.81" width="6.98" height="2.57" fill="#CECEFF"/>
<rect x="39.38" y="370.81" width="6.98" height="2.57" fill="#8C8CFF"/>
<rect x="45.97" y="370.81" width="6.98" height="2.57" fill="#6A6AFF"/>
<rect x="52.55" y="370.81" width="6.98" height="2.57" fill="#6F6FFF"/>
<rect x="59.13" y="370.81" width="6.98" height="2.57" fill="#CDCDFF"/>
<rect x="65.72" y="370.81" width="6.98" height="2.57" fill="#B1B1FF"/>
<rect x="72.30" y="370.81" width="6.98" height="2.57" fill="#E1E1FF"/>
<rect x="78.88" y="370.81" width="6.98" height="2.57" fill="#FFFFFF"/>
<rect x="85.47" y="370.81" width="6.98" height="2.57" fill="#FFAAAA"/>
<rect x="92.05" y="370.81" width="6.98" height="2.57" fill="#FF0000"/>
<rect x="98.63" y="370.81" width="6.98" height="2.57" fill="#FF4E4E"/>
<rect x="105.22" y="370.81" width="6.58" height="2.57" fill="#FFBABA"/>
<rect x="32.80" y="372.98" width="6.98" height="2.57" fill="#C2C2FF"/>
<rect x="39.38" y="372.98" width="6.98" height="2.57" fill="#7B7BFF"/>
<rect x="45.97" y="372.98" width="6.98" height="2.57" fill="#7878FF"/>
<rect x="52.55" y="372.98" width="6.98" height="2.57" fill="#8C8CFF"/>
<rect x="59.13" y="372.98" width="6.98" height="2.57" fill="#D8D8FF"/>
<rect x="65.72" y="372.98" width="6.98" height="2.57" fill="#8B8BFF"/>
<rect x="72.30" y="372.98" width="6.98" height="2.57" fill="#FFF8F8"/>
<rect x="78.88" y="372.98" width="6.98" height="2.57" fill="#FFCACA"/>
<rect x="85.47" y="372.98" width="6.98" height="2.57" fill="#FFF7F7"/>
<rect x="92.05" y="372.98" width="6.98" height="2.57" fill="#FF0000"/>
<rect x="98.63" y="372.98" width="6.98" height="2.57" fill="#FF6D6D"/>
<rect x="105.22" y="372.98" width="6.58" height="2.57" fill="#FFAFAF"/>
<rect x="32.80" y="375.15" width="6.98" height="2.57" fill="#8A8AFF"/>
<rect x="39.38" y="375.15" width="6.98" height="2.57" fill="#8181FF"/>
<rect x="45.97" y="375.15" width="6.98" height="2.57" fill="#6E6EFF"/>
<rect x="52.55" y="375.15" width="6.98" height="2.57" fill="#7676FF"/>
<rect x="59.13" y="375.15" width="6.98" height="2.57" fill="#D8D8FF"/>
<rect x="65.72" y="375.15" width="6.98" height="2.57" fill="#CDCDFF"/>
<rect x="72.30" y="375.15" width="6.98" height="2.57" fill="#FFBFBF"/>
<rect x="78.88" y="375.15" width="6.98" height="2.57" fill="#FFC8C8"/>
<rect x="85.47" y="375.15" width="6.98" height="2.57" fill="#FF8383"/>
<rect x="92.05" y="375.15" width="6.98" height="2.57" fill="#FF0C0C"/>
<rect x="98.63" y="375.15" width="6.98" height="2.57" fill="#FF3B3B"/>
<rect x="105.22" y="375.15" width="6.58" height="2.57" fill="#FF9191"/>
<rect x="32.80" y="377.32" width="6.98" height="2.57" fill="#8D8DFF"/>
<rect x="39.38" y="377.32" width="6.98" height="2.57" fill="#9696FF"/>
<rect x="45.97" y="377.32" width="6.98" height="2.57" fill="#8686FF"/>
<rect x="52.55" y="377.32" width="6.98" height="2.57" fill="#8484FF"/>
<rect x="59.13" y="377.32" width="6.98" height="2.57" fill="#D3D3FF"/>
<rect x="65.72" y="377.32" width="6.98" height="2.57" fill="#8A8AFF"/>
<rect x="72.30" y="377.32" width="6.98" height="2.57" fill="#FFDEDE"/>
<rect x="78.88" y="377.32" width="6.98" height="2.57" fill="#FFD7D7"/>
<rect x="85.47" y="377.32" width="6.98" height="2.57" fill="#FFBEBE"/>
<rect x="92.05" y="377.32" width="6.98" height="2.57" fill="#FF0707"/>
<rect x="98.63" y="377.32" width="6.98" height="2.57" fill="#FF1313"/>
<rect x="105.22" y="377.32" width="6.58" height="2.57" fill="#FF8686"/>
<rect x="32.80" y="379.49" width="6.98" height="2.57" fill="#7272FF"/>
<rect x="39.38" y="379.49" width="6.98" height="2.57" fill="#8B8BFF"/>
<rect x="45.97" y="379.49" width="6.98" height="2.57" fill="#7F7FFF"/>
<rect x="52.55" y="379.49" width="6.98" height="2.57" fill="#A8A8FF"/>
<rect x="59.13" y="379.49" width="6.98" height="2.57" fill="#CDCDFF"/>
<rect x="65.72" y="379.49" width="6.98" height="2.57" fill="#9090FF"/>
<rect x="72.30" y="379.49" width="6.98" height="2.57" fill="#FFB4B4"/>
<rect x="78.88" y="379.49" width="6.98" height="2.57" fill="#FFDEDE"/>
<rect x="85.47" y="379.49" width="6.98" height="2.57" fill="#FFE2E2"/>
<rect x="92.05" y="379.49" width="6.98" height="2.57" fill="#FF0000"/>
<rect x="98.63" y="379.49" width="6.98" height="2.57" fill="#FF3A3A"/>
<rect x="105.22" y="379.49" width="6.58" height="2.57" fill="#FFC1C1"/>
<rect x="32.80" y="381.66" width="6.98" height="2.57" fill="#6969FF"/>
<rect x="39.38" y="381.66" width="6.98" height="2.57" fill="#7676FF"/>
<rect x="45.97" y="381.66" width="6.98" height="2.57" fill="#5D5DFF"/>
<rect x="52.55" y="381.66" width="6.98" height="2.57" fill="#6F6FFF"/>
<rect x="59.13" y="381.66" width="6.98" height="2.57" fill="#8484FF"/>
<rect x="65.72" y="381.66" width="6.98" height="2.57" fill="#9C9CFF"/>
<rect x="72.30" y="381.66" width="6.98" height="2.57" fill="#FFB8B8"/>
<rect x="78.88" y="381.66" width="6.98" height="2.57" fill="#FFA9A9"/>
<rect x="85.47" y="381.66" width="6.98" height="2.57" fill="#FFABAB"/>
<rect x="92.05" y="381.66" width="6.98" height="2.57" fill="#FF1212"/>
<rect x="98.63" y="381.66" width="6.98" height="2.57" fill="#FF5656"/>
<rect x="105.22" y="381.66" width="6.58" height="2.57" fill="#FF9191"/>
<rect x="32.80" y="383.83" width="6.98" height="2.57" fill="#7373FF"/>
<rect x="39.38" y="383.83" width="6.98" height="2.57" fill="#8C8CFF"/>
<rect x="45.97" y="383.83" width="6.98" height="2.57" fill="#4A4AFF"/>
<rect x="52.55" y="383.83" width="6.98" height="2.57" fill="#5858FF"/>
<rect x="59.13" y="383.83" width="6.98" height="2.57" fill="#EEEEFF"/>
<rect x="65.72" y="383.83" width="6.98" height="2.57" fill="#AAAAFF"/>
<rect x="72.30" y="383.83" width="6.98" height="2.57" fill="#FFD0D0"/>
<rect x="78.88" y="383.83" width="6.98" height="2.57" fill="#FF9898"/>
<rect x="85.47" y="383.83" width="6.98" height="2.57" fill="#FFD4D4"/>
<rect x="92.05" y="383.83" width="6.98" height="2.57" fill="#FF0505"/>
<rect x="98.63" y="383.83" width="6.98" height="2.57" fill="#FF5858"/>
<rect x="105.22" y="383.83" width="6.58" height="2.57" fill="#FFE3E3"/>
<rect x="32.80" y="386.00" width="6.98" height="2.57" fill="#6A6AFF"/>
<rect x="39.38" y="386.00" width="6.98" height="2.57" fill="#B2B2FF"/>
<rect x="45.97" y="386.00" width="6.98" height="2.57" fill="#7575FF"/>
<rect x="52.55" y="386.00" width="6.98" height="2.57" fill="#6C6CFF"/>
<rect x="59.13" y="386.00" width="6.98" height="2.57" fill="#CBCBFF"/>
<rect x="65.72" y="386.00" width="6.98" height="2.57" fill="#B7B7FF"/>
<rect x="72.30" y="386.00" width="6.98" height="2.57" fill="#FFCACA"/>
<rect x="78.88" y="386.00" width="6.98" height="2.57" fill="#FFD6D6"/>
<rect x="85.47" y="386.00" width="6.98" height="2.57" fill="#FFE3E3"/>
<rect x="92.05" y="386.00" width="6.98" height="2.57" fill="#FF0000"/>
<rect x="98.63" y="386.00" width="6.98" height="2.57" fill="#FF8B8B"/>
<rect x="105.22" y="386.00" width="6.58" height="2.57" fill="#FFAFAF"/>
<rect x="32.80" y="388.17" width="6.98" height="2.57" fill="#C9C9FF"/>
<rect x="39.38" y="388.17" width="6.98" height="2.57" fill="#9A9AFF"/>
<rect x="45.97" y="388.17" width="6.98" height="2.57" fill="#8C8CFF"/>
<rect x="52.55" y="388.17" width="6.98" height="2.57" fill="#6868FF"/>
<rect x="59.13" y="388.17" width="6.98" height="2.57" fill="#EDEDFF"/>
<rect x="65.72" y="388.17" width="6.98" height="2.57" fill="#ABABFF"/>
<rect x="72.30" y="388.17" width="6.98" height="2.57" fill="#FFC8C8"/>
<rect x="78.88" y="388.17" width="6.98" height="2.57" fill="#FFFCFC"/>
<rect x="85.47" y="388.17" width="6.98" height="2.57" fill="#FFC7C7"/>
<rect x="92.05" y="388.17" width="6.98" height="2.57" fill="#FF0202"/>
<rect x="98.63" y="388.17" width="6.98" height="2.57" fill="#FF4040"/>
<rect x="105.22" y="388.17" width="6.58" height="2.57" fill="#FFBEBE"/>
<rect x="32.80" y="390.34" width="6.98" height="2.57" fill="#7474FF"/>
<rect x="39.38" y="390.34" width="6.98" height="2.57" fill="#8787FF"/>
<rect x="45.97" y="390.34" width="6.98" height="2.57" fill="#9999FF"/>
<rect x="52.55" y="390.34" width="6.98" height="2.57" fill="#7C7CFF"/>
<rect x="59.13" y="390.34" width="6.98" height="2.57" fill="#9898FF"/>
<rect x="65.72" y="390.34" width="6.98" height="2.57" fill="#8585FF"/>
<rect x="72.30" y="390.34" width="6.98" height="2.57" fill="#FFBCBC"/>
<rect x="78.88" y="390.34" width="6.98" height="2.57" fill="#FFE4E4"/>
<rect x="85.47" y="390.34" width="6.98" height="2.57" fill="#FFBDBD"/>
<rect x="92.05" y="390.34" width="6.98" height="2.57" fill="#FF0000"/>
<rect x="98.63" y="390.34" width="6.98" height="2.57" fill="#FF4F4F"/>
<rect x="105.22" y="390.34" width="6.58" height="2.57" fill="#FFA2A2"/>
<rect x="32.80" y="392.51" width="6.98" height="2.57" fill="#6F6FFF"/>
<rect x="39.38" y="392.51" width="6.98" height="2.57" fill="#AAAAFF"/>
<rect x="45.97" y="392.51" width="6.98" height="2.57" fill="#8C8CFF"/>
<rect x="52.55" y="392.51" width="6.98" height="2.57" fill="#6464FF"/>
<rect x="59.13" y="392.51" width="6.98" height="2.57" fill="#C2C2FF"/>
<rect x="65.72" y="392.51" width="6.98" height="2.57" fill="#DCDCFF"/>
<rect x="72.30" y="392.51" width="6.98" height="2.57" fill="#FFC3C3"/>
<rect x="78.88" y="392.51" width="6.98" height="2.57" fill="#FFB7B7"/>
<rect x="85.47" y="392.51" width="6.98" height="2.57" fill="#FFB8B8"/>
<rect x="92.05" y="392.51" width="6.98" height="2.57" fill="#FF0808"/>
<rect x="98.63" y="392.51" width="6.98" height="2.57" fill="#FF3232"/>
<rect x="105.22" y="392.51" width="6.58" height="2.57" fill="#FF7A7A"/>
<rect x="32.80" y="394.67" width="6.98" height="2.57" fill="#D4D4FF"/>
<rect x="39.38" y="394.67" width="6.98" height="2.57" fill="#4D4DFF"/>
<rect x="45.97" y="394.67" width="6.98" height="2.57" fill="#7676FF"/>
<rect x="52.55" y="394.67" width="6.98" height="2.57" fill="#7B7BFF"/>
<rect x="59.13" y="394.67" width="6.98" height="2.57" fill="#F1F1FF"/>
<rect x="65.72" y="394.67" width="6.98" height="2.57" fill="#8383FF"/>
<rect x="72.30" y="394.67" width="6.98" height="2.57" fill="#FFCBCB"/>
<rect x="78.88" y="394.67" width="6.98" height="2.57" fill="#FFC4C4"/>
<rect x="85.47" y="394.67" width="6.98" height="2.57" fill="#FF9A9A"/>
<rect x="92.05" y="394.67" width="6.98" height="2.57" fill="#FF0000"/>
<rect x="98.63" y="394.67" width="6.98" height="2.57" fill="#FF6969"/>
<rect x="105.22" y="394.67" width="6.58" height="2.57" fill="#FFB7B7"/>
<rect x="32.80" y="396.84" width="6.98" height="2.57" fill="#7474FF"/>
<rect x="39.38" y="396.84" width="6.98" height="2.57" fill="#6161FF"/>
<rect x="45.97" y="396.84" width="6.98" height="2.57" fill="#7777FF"/>
<rect x="52.55" y="396.84" width="6.98" height="2.57" fill="#A0A0FF"/>
<rect x="59.13" y="396.84" width="6.98" height="2.57" fill="#DADAFF"/>
<rect x="65.72" y="396.84" width="6.98" height="2.57" fill="#9696FF"/>
<rect x="72.30" y="396.84" width="6.98" height="2.57" fill="#FFEFEF"/>
<rect x="78.88" y="396.84" width="6.98" height="2.57" fill="#FFC4C4"/>
<rect x="85.47" y="396.84" width="6.98" height="2.57" fill="#FFE3E3"/>
<rect x="92.05" y="396.84" width="6.98" height="2.57" fill="#FF0707"/>
<rect x="98.63" y="396.84" width="6.98" height="2.57" fill="#FF6666"/>
<rect x="105.22" y="396.84" width="6.58" height="2.57" fill="#FF8989"/>
<rect x="32.80" y="399.01" width="6.98" height="2.57" fill="#6A6AFF"/>
<rect x="39.38" y="399.01" width="6.98" height="2.57" fill="#6464FF"/>
<rect x="45.97" y="399.01" width="6.98" height="2.57" fill="#8484FF"/>
<rect x="52.55" y="399.01" width="6.98" height="2.57" fill="#9C9CFF"/>
<rect x="59.13" y="399.01" width="6.98" height="2.57" fill="#C4C4FF"/>
<rect x="65.72" y="399.01" width="6.98" height="2.57" fill="#ACACFF"/>
<rect x="72.30" y="399.01" width="6.98" height="2.57" fill="#FFE4E4"/>
<rect x="78.88" y="399.01" width="6.98" height="2.57" fill="#FFCCCC"/>
<rect x="85.47" y="399.01" width="6.98" height="2.57" fill="#FFC4C4"/>
<rect x="92.05" y="399.01" width="6.98" height="2.57" fill="#FF0000"/>
<rect x="98.63" y="399.01" width="6.98" height="2.57" fill="#FF5858"/>
<rect x="105.22" y="399.01" width="6.58" height="2.57" fill="#FFA6A6"/>
<rect x="32.80" y="401.18" width="6.98" height="2.57" fill="#9191FF"/>
<rect x="39.38" y="401.18" width="6.98" height="2.57" fill="#ACACFF"/>
<rect x="45.97" y="401.18" width="6.98" height="2.57" fill="#7E7EFF"/>
<rect x="52.55" y="401.18" width="6.98" height="2.57" fill="#6D6DFF"/>
<rect x="59.13" y="401.18" width="6.98" height="2.57" fill="#F8F8FF"/>
<rect x="65.72" y="401.18" width="6.98" height="2.57" fill="#B1B1FF"/>
<rect x="72.30" y="401.18" width="6.98" height="2.57" fill="#FFE8E8"/>
<rect x="78.88" y="401.18" width="6.98" height="2.57" fill="#FFDDDD"/>
<rect x="85.47" y="401.18" width="6.98" height="2.57" fill="#FF9898"/>
<rect x="92.05" y="401.18" width="6.98" height="2.57" fill="#FF0000"/>
<rect x="98.63" y="401.18" width="6.98" height="2.57" fill="#FF6E6E"/>
<rect x="105.22" y="401.18" width="6.58" height="2.57" fill="#FFBCBC"/>
<rect x="32.80" y="403.35" width="6.98" height="2.57" fill="#6C6CFF"/>
<rect x="39.38" y="403.35" width="6.98" height="2.57" fill="#A1A1FF"/>
<rect x="45.97" y="403.35" width="6.98" height="2.57" fill="#6D6DFF"/>
<rect x="52.55" y="403.35" width="6.98" height="2.57" fill="#6C6CFF"/>
<rect x="59.13" y="403.35" width="6.98" height="2.57" fill="#DCDCFF"/>
<rect x="65.72" y="403.35" width="6.98" height="2.57" fill="#A3A3FF"/>
<rect x="72.30" y="403.35" width="6.98" height="2.57" fill="#FF4949"/>
<rect x="78.88" y="403.35" width="6.98" height="2.57" fill="#FF4E4E"/>
<rect x="85.47" y="403.35" width="6.98" height="2.57" fill="#FFA3A3"/>
<rect x="92.05" y="403.35" width="6.98" height="2.57" fill="#FF8888"/>
<rect x="98.63" y="403.35" width="6.98" height="2.57" fill="#E5E5FF"/>
<rect x="105.22" y="403.35" width="6.58" height="2.57" fill="#FF2828"/>
<rect x="32.80" y="405.52" width="6.98" height="2.57" fill="#9A9AFF"/>
<rect x="39.38" y="405.52" width="6.98" height="2.57" fill="#EEEEFF"/>
<rect x="45.97" y="405.52" width="6.98" height="2.57" fill="#8F8FFF"/>
<rect x="52.55" y="405.52" width="6.98" height="2.57" fill="#8484FF"/>
<rect x="59.13" y="405.52" width="6.98" height="2.57" fill="#DDDDFF"/>
<rect x="65.72" y="405.52" width="6.98" height="2.57" fill="#9A9AFF"/>
<rect x="72.30" y="405.52" width="6.98" height="2.57" fill="#FF4040"/>
<rect x="78.88" y="405.52" width="6.98" height="2.57" fill="#FF5D5D"/>
<rect x="85.47" y="405.52" width="6.98" height="2.57" fill="#FF9F9F"/>
<rect x="92.05" y="405.52" width="6.98" height="2.57" fill="#FF9D9D"/>
<rect x="98.63" y="405.52" width="6.98" height="2.57" fill="#FBFBFF"/>
<rect x="105.22" y="405.52" width="6.58" height="2.57" fill="#FFACAC"/>
<rect x="32.80" y="407.69" width="6.98" height="2.57" fill="#7B7BFF"/>
<rect x="39.38" y="407.69" width="6.98" height="2.57" fill="#8181FF"/>
<rect x="45.97" y="407.69" width="6.98" height="2.57" fill="#A0A0FF"/>
<rect x="52.55" y="407.69" width="6.98" height="2.57" fill="#BCBCFF"/>
<rect x="59.13" y="407.69" width="6.98" height="2.57" fill="#F2F2FF"/>
<rect x="65.72" y="407.69" width="6.98" height="2.57" fill="#D2D2FF"/>
<rect x="72.30" y="407.69" width="6.98" height="2.57" fill="#FF5F5F"/>
<rect x="78.88" y="407.69" width="6.98" height="2.57" fill="#FF1212"/>
<rect x="85.47" y="407.69" width="6.98" height="2.57" fill="#FFB7B7"/>
<rect x="92.05" y="407.69" width="6.98" height="2.57" fill="#FF9A9A"/>
<rect x="98.63" y="407.69" width="6.98" height="2.57" fill="#FF7777"/>
<rect x="105.22" y="407.69" width="6.58" height="2.57" fill="#FF6464"/>
<rect x="32.80" y="409.86" width="6.98" height="2.57" fill="#A9A9FF"/>
<rect x="39.38" y="409.86" width="6.98" height="2.57" fill="#A0A0FF"/>
<rect x="45.97" y="409.86" width="6.98" height="2.57" fill="#8787FF"/>
<rect x="52.55" y="409.86" width="6.98" height="2.57" fill="#A9A9FF"/>
<rect x="59.13" y="409.86" width="6.98" height="2.57" fill="#E6E6FF"/>
<rect x="65.72" y="409.86" width="6.98" height="2.57" fill="#CFCFFF"/>
<rect x="72.30" y="409.86" width="6.98" height="2.57" fill="#FF5454"/>
<rect x="78.88" y="409.86" width="6.98" height="2.57" fill="#FF3B3B"/>
<rect x="85.47" y="409.86" width="6.98" height="2.57" fill="#FFDADA"/>
<rect x="92.05" y="409.86" width="6.98" height="2.57" fill="#FFB3B3"/>
<rect x="98.63" y="409.86" width="6.98" height="2.57" fill="#FF8585"/>
<rect x="105.22" y="409.86" width="6.58" height="2.57" fill="#FFE1E1"/>
<rect x="32.80" y="412.03" width="6.98" height="2.57" fill="#BBBBFF"/>
<rect x="39.38" y="412.03" width="6.98" height="2.57" fill="#9C9CFF"/>
<rect x="45.97" y="412.03" width="6.98" height="2.57" fill="#C9C9FF"/>
<rect x="52.55" y="412.03" width="6.98" height="2.57" fill="#AEAEFF"/>
<rect x="59.13" y="412.03" width="6.98" height="2.57" fill="#BCBCFF"/>
<rect x="65.72" y="412.03" width="6.98" height="2.57" fill="#F6F6FF"/>
<rect x="72.30" y="412.03" width="6.98" height="2.57" fill="#FFE9E9"/>
<rect x="78.88" y="412.03" width="6.98" height="2.57" fill="#FF1212"/>
<rect x="85.47" y="412.03" width="6.98" height="2.57" fill="#FF0B0B"/>
<rect x="92.05" y="412.03" width="6.98" height="2.57" fill="#FFDDDD"/>
<rect x="98.63" y="412.03" width="6.98" height="2.57" fill="#DEDEFF"/>
<rect x="105.22" y="412.03" width="6.58" height="2.57" fill="#FFEDED"/>
<rect x="32.80" y="414.20" width="6.98" height="2.57" fill="#7878FF"/>
<rect x="39.38" y="414.20" width="6.98" height="2.57" fill="#9C9CFF"/>
<rect x="45.97" y="414.20" width="6.98" height="2.57" fill="#B8B8FF"/>
<rect x="52.55" y="414.20" width="6.98" height="2.57" fill="#7878FF"/>
<rect x="59.13" y="414.20" width="6.98" height="2.57" fill="#FAFAFF"/>
<rect x="65.72" y="414.20" width="6.98" height="2.57" fill="#6565FF"/>
<rect x="72.30" y="414.20" width="6.98" height="2.57" fill="#FFE5E5"/>
<rect x="78.88" y="414.20" width="6.98" height="2.57" fill="#FF8E8E"/>
<rect x="85.47" y="414.20" width="6.98" height="2.57" fill="#FF0000"/>
<rect x="92.05" y="414.20" width="6.98" height="2.57" fill="#FFE1E1"/>
<rect x="98.63" y="414.20" width="6.98" height="2.57" fill="#7171FF"/>
<rect x="105.22" y="414.20" width="6.58" height="2.57" fill="#FF1818"/>
<rect x="32.80" y="416.37" width="6.98" height="2.57" fill="#8585FF"/>
<rect x="39.38" y="416.37" width="6.98" height="2.57" fill="#9292FF"/>
<rect x="45.97" y="416.37" width="6.98" height="2.57" fill="#B0B0FF"/>
<rect x="52.55" y="416.37" width="6.98" height="2.57" fill="#AEAEFF"/>
<rect x="59.13" y="416.37" width="6.98" height="2.57" fill="#FCFCFF"/>
<rect x="65.72" y="416.37" width="6.98" height="2.57" fill="#BBBBFF"/>
<rect x="72.30" y="416.37" width="6.98" height="2.57" fill="#E9E9FF"/>
<rect x="78.88" y="416.37" width="6.98" height="2.57" fill="#FF7777"/>
<rect x="85.47" y="416.37" width="6.98" height="2.57" fill="#FF0202"/>
<rect x="92.05" y="416.37" width="6.98" height="2.57" fill="#FFD3D3"/>
<rect x="98.63" y="416.37" width="6.98" height="2.57" fill="#5252FF"/>
<rect x="105.22" y="416.37" width="6.58" height="2.57" fill="#FF0000"/>
<rect x="32.80" y="418.54" width="6.98" height="2.57" fill="#6B6BFF"/>
<rect x="39.38" y="418.54" width="6.98" height="2.57" fill="#8C8CFF"/>
<rect x="45.97" y="418.54" width="6.98" height="2.57" fill="#E1E1FF"/>
<rect x="52.55" y="418.54" width="6.98" height="2.57" fill="#7676FF"/>
<rect x="59.13" y="418.54" width="6.98" height="2.57" fill="#FFF4F4"/>
<rect x="65.72" y="418.54" width="6.98" height="2.57" fill="#DDDDFF"/>
<rect x="72.30" y="418.54" width="6.98" height="2.57" fill="#FF0A0A"/>
<rect x="78.88" y="418.54" width="6.98" height="2.57" fill="#FF7373"/>
<rect x="85.47" y="418.54" width="6.98" height="2.57" fill="#FFD2D2"/>
<rect x="92.05" y="418.54" width="6.98" height="2.57" fill="#FF8C8C"/>
<rect x="98.63" y="418.54" width="6.98" height="2.57" fill="#E0E0FF"/>
<rect x="105.22" y="418.54" width="6.58" height="2.57" fill="#FFE0E0"/>
<rect x="32.80" y="420.70" width="6.98" height="2.57" fill="#5F5FFF"/>
<rect x="39.38" y="420.70" width="6.98" height="2.57" fill="#9090FF"/>
<rect x="45.97" y="420.70" width="6.98" height="2.57" fill="#8080FF"/>
<rect x="52.55" y="420.70" width="6.98" height="2.57" fill="#ACACFF"/>
<rect x="59.13" y="420.70" width="6.98" height="2.57" fill="#FFFEFE"/>
<rect x="65.72" y="420.70" width="6.98" height="2.57" fill="#B6B6FF"/>
<rect x="72.30" y="420.70" width="6.98" height="2.57" fill="#FF5353"/>
<rect x="78.88" y="420.70" width="6.98" height="2.57" fill="#FF1414"/>
<rect x="85.47" y="420.70" width="6.98" height="2.57" fill="#FF8C8C"/>
<rect x="92.05" y="420.70" width="6.98" height="2.57" fill="#FFADAD"/>
<rect x="98.63" y="420.70" width="6.98" height="2.57" fill="#AFAFFF"/>
<rect x="105.22" y="420.70" width="6.58" height="2.57" fill="#FF7A7A"/>
<rect x="32.80" y="422.87" width="6.98" height="2.57" fill="#6E6EFF"/>
<rect x="39.38" y="422.87" width="6.98" height="2.57" fill="#7777FF"/>
<rect x="45.97" y="422.87" width="6.98" height="2.57" fill="#A0A0FF"/>
<rect x="52.55" y="422.87" width="6.98" height="2.57" fill="#8B8BFF"/>
<rect x="59.13" y="422.87" width="6.98" height="2.57" fill="#FFE7E7"/>
<rect x="65.72" y="422.87" width="6.98" height="2.57" fill="#FBFBFF"/>
<rect x="72.30" y="422.87" width="6.98" height="2.57" fill="#FF3A3A"/>
<rect x="78.88" y="422.87" width="6.98" height="2.57" fill="#FFF3F3"/>
<rect x="85.47" y="422.87" width="6.98" height="2.57" fill="#FF0101"/>
<rect x="92.05" y="422.87" width="6.98" height="2.57" fill="#FFF1F1"/>
<rect x="98.63" y="422.87" width="6.98" height="2.57" fill="#8484FF"/>
<rect x="105.22" y="422.87" width="6.58" height="2.57" fill="#FF8A8A"/>
<rect x="32.80" y="425.04" width="6.98" height="2.57" fill="#9090FF"/>
<rect x="39.38" y="425.04" width="6.98" height="2.57" fill="#C6C6FF"/>
<rect x="45.97" y="425.04" width="6.98" height="2.57" fill="#E9E9FF"/>
<rect x="52.55" y="425.04" width="6.98" height="2.57" fill="#B6B6FF"/>
<rect x="59.13" y="425.04" width="6.98" height="2.57" fill="#FFEDED"/>
<rect x="65.72" y="425.04" width="6.98" height="2.57" fill="#E9E9FF"/>
<rect x="72.30" y="425.04" width="6.98" height="2.57" fill="#FF4646"/>
<rect x="78.88" y="425.04" width="6.98" height="2.57" fill="#FFD3D3"/>
<rect x="85.47" y="425.04" width="6.98" height="2.57" fill="#FF0000"/>
<rect x="92.05" y="425.04" width="6.98" height="2.57" fill="#FFD9D9"/>
<rect x="98.63" y="425.04" width="6.98" height="2.57" fill="#B2B2FF"/>
<rect x="105.22" y="425.04" width="6.58" height="2.57" fill="#FF7878"/>
<rect x="32.80" y="427.21" width="6.98" height="2.57" fill="#8989FF"/>
<rect x="39.38" y="427.21" width="6.98" height="2.57" fill="#B4B4FF"/>
<rect x="45.97" y="427.21" width="6.98" height="2.57" fill="#8E8EFF"/>
<rect x="52.55" y="427.21" width="6.98" height="2.57" fill="#6666FF"/>
<rect x="59.13" y="427.21" width="6.98" height="2.57" fill="#FFDBDB"/>
<rect x="65.72" y="427.21" width="6.98" height="2.57" fill="#A6A6FF"/>
<rect x="72.30" y="427.21" width="6.98" height="2.57" fill="#FF5959"/>
<rect x="78.88" y="427.21" width="6.98" height="2.57" fill="#FFA4A4"/>
<rect x="85.47" y="427.21" width="6.98" height="2.57" fill="#FF0B0B"/>
<rect x="92.05" y="427.21" width="6.98" height="2.57" fill="#FEFEFF"/>
<rect x="98.63" y="427.21" width="6.98" height="2.57" fill="#8383FF"/>
<rect x="105.22" y="427.21" width="6.58" height="2.57" fill="#FFB0B0"/>
<rect x="32.80" y="429.38" width="6.98" height="2.57" fill="#8F8FFF"/>
<rect x="39.38" y="429.38" width="6.98" height="2.57" fill="#8585FF"/>
<rect x="45.97" y="429.38" width="6.98" height="2.57" fill="#A4A4FF"/>
<rect x="52.55" y="429.38" width="6.98" height="2.57" fill="#6666FF"/>
<rect x="59.13" y="429.38" width="6.98" height="2.57" fill="#DCDCFF"/>
<rect x="65.72" y="429.38" width="6.98" height="2.57" fill="#EEEEFF"/>
<rect x="72.30" y="429.38" width="6.98" height="2.57" fill="#FFAEAE"/>
<rect x="78.88" y="429.38" width="6.98" height="2.57" fill="#FF8B8B"/>
<rect x="85.47" y="429.38" width="6.98" height="2.57" fill="#FF0000"/>
<rect x="92.05" y="429.38" width="6.98" height="2.57" fill="#FFFBFB"/>
<rect x="98.63" y="429.38" width="6.98" height="2.57" fill="#8888FF"/>
<rect x="105.22" y="429.38" width="6.58" height="2.57" fill="#FF9393"/>
<rect x="32.80" y="431.55" width="6.98" height="2.57" fill="#7A7AFF"/>
<rect x="39.38" y="431.55" width="6.98" height="2.57" fill="#7777FF"/>
<rect x="45.97" y="431.55" width="6.98" height="2.57" fill="#6D6DFF"/>
<rect x="52.55" y="431.55" width="6.98" height="2.57" fill="#7272FF"/>
<rect x="59.13" y="431.55" width="6.98" height="2.57" fill="#FFF9F9"/>
<rect x="65.72" y="431.55" width="6.98" height="2.57" fill="#C3C3FF"/>
<rect x="72.30" y="431.55" width="6.98" height="2.57" fill="#FFAFAF"/>
<rect x="78.88" y="431.55" width="6.98" height="2.57" fill="#FF8B8B"/>
<rect x="85.47" y="431.55" width="6.98" height="2.57" fill="#FF0000"/>
<rect x="92.05" y="431.55" width="6.98" height="2.57" fill="#FFD7D7"/>
<rect x="98.63" y="431.55" width="6.98" height="2.57" fill="#EAEAFF"/>
<rect x="105.22" y="431.55" width="6.58" height="2.57" fill="#FF9C9C"/>
<rect x="32.80" y="433.72" width="6.98" height="2.57" fill="#9A9AFF"/>
<rect x="39.38" y="433.72" width="6.98" height="2.57" fill="#9292FF"/>
<rect x="45.97" y="433.72" width="6.98" height="2.57" fill="#B3B3FF"/>
<rect x="52.55" y="433.72" width="6.98" height="2.57" fill="#8C8CFF"/>
<rect x="59.13" y="433.72" width="6.98" height="2.57" fill="#DDDDFF"/>
<rect x="65.72" y="433.72" width="6.98" height="2.57" fill="#A2A2FF"/>
<rect x="72.30" y="433.72" width="6.98" height="2.57" fill="#FF8E8E"/>
<rect x="78.88" y="433.72" width="6.98" height="2.57" fill="#FF6464"/>
<rect x="85.47" y="433.72" width="6.98" height="2.57" fill="#FF0000"/>
<rect x="92.05" y="433.72" width="6.98" height="2.57" fill="#FFD6D6"/>
<rect x="98.63" y="433.72" width="6.98" height="2.57" fill="#FFFEFE"/>
<rect x="105.22" y="433.72" width="6.58" height="2.57" fill="#FF8A8A"/>
<rect x="32.80" y="435.89" width="6.98" height="2.57" fill="#7878FF"/>
<rect x="39.38" y="435.89" width="6.98" height="2.57" fill="#B3B3FF"/>
<rect x="45.97" y="435.89" width="6.98" height="2.57" fill="#C5C5FF"/>
<rect x="52.55" y="435.89" width="6.98" height="2.57" fill="#A0A0FF"/>
<rect x="59.13" y="435.89" width="6.98" height="2.57" fill="#FFBEBE"/>
<rect x="65.72" y="435.89" width="6.98" height="2.57" fill="#FAFAFF"/>
<rect x="72.30" y="435.89" width="6.98" height="2.57" fill="#FF2D2D"/>
<rect x="78.88" y="435.89" width="6.98" height="2.57" fill="#FF3F3F"/>
<rect x="85.47" y="435.89" width="6.98" height="2.57" fill="#FF0606"/>
<rect x="92.05" y="435.89" width="6.98" height="2.57" fill="#ACACFF"/>
<rect x="98.63" y="435.89" width="6.98" height="2.57" fill="#FFCCCC"/>
<rect x="105.22" y="435.89" width="6.58" height="2.57" fill="#FF7878"/>
<rect x="32.80" y="438.06" width="6.98" height="2.57" fill="#6464FF"/>
<rect x="39.38" y="438.06" width="6.98" height="2.57" fill="#9E9EFF"/>
<rect x="45.97" y="438.06" width="6.98" height="2.57" fill="#8C8CFF"/>
<rect x="52.55" y="438.06" width="6.98" height="2.57" fill="#A5A5FF"/>
<rect x="59.13" y="438.06" width="6.98" height="2.57" fill="#FFFFFF"/>
<rect x="65.72" y="438.06" width="6.98" height="2.57" fill="#FFF8F8"/>
<rect x="72.30" y="438.06" width="6.98" height="2.57" fill="#FF5B5B"/>
<rect x="78.88" y="438.06" width="6.98" height="2.57" fill="#FFB6B6"/>
<rect x="85.47" y="438.06" width="6.98" height="2.57" fill="#FF0101"/>
<rect x="92.05" y="438.06" width="6.98" height="2.57" fill="#7171FF"/>
<rect x="98.63" y="438.06" width="6.98" height="2.57" fill="#FFC9C9"/>
<rect x="105.22" y="438.06" width="6.58" height="2.57" fill="#FF8D8D"/>
<rect x="32.80" y="440.23" width="6.98" height="2.57" fill="#9797FF"/>
<rect x="39.38" y="440.23" width="6.98" height="2.57" fill="#8585FF"/>
<rect x="45.97" y="440.23" width="6.98" height="2.57" fill="#A7A7FF"/>
<rect x="52.55" y="440.23" width="6.98" height="2.57" fill="#9E9EFF"/>
<rect x="59.13" y="440.23" width="6.98" height="2.57" fill="#FFF3F3"/>
<rect x="65.72" y="440.23" width="6.98" height="2.57" fill="#EBEBFF"/>
<rect x="72.30" y="440.23" width="6.98" height="2.57" fill="#FF3535"/>
<rect x="78.88" y="440.23" width="6.98" height="2.57" fill="#FFB9B9"/>
<rect x="85.47" y="440.23" width="6.98" height="2.57" fill="#FF0000"/>
<rect x="92.05" y="440.23" width="6.98" height="2.57" fill="#F7F7FF"/>
<rect x="98.63" y="440.23" width="6.98" height="2.57" fill="#F7F7FF"/>
<rect x="105.22" y="440.23" width="6.58" height="2.57" fill="#FF7878"/>
<rect x="32.80" y="442.40" width="6.98" height="2.57" fill="#EAEAFF"/>
<rect x="39.38" y="442.40" width="6.98" height="2.57" fill="#6161FF"/>
<rect x="45.97" y="442.40" width="6.98" height="2.57" fill="#8A8AFF"/>
<rect x="52.55" y="442.40" width="6.98" height="2.57" fill="#8585FF"/>
<rect x="59.13" y="442.40" width="6.98" height="2.57" fill="#F9F9FF"/>
<rect x="65.72" y="442.40" width="6.98" height="2.57" fill="#A9A9FF"/>
<rect x="72.30" y="442.40" width="6.98" height="2.57" fill="#FFE2E2"/>
<rect x="78.88" y="442.40" width="6.98" height="2.57" fill="#B1B1FF"/>
<rect x="85.47" y="442.40" width="6.98" height="2.57" fill="#FF0B0B"/>
<rect x="92.05" y="442.40" width="6.98" height="2.57" fill="#9E9EFF"/>
<rect x="98.63" y="442.40" width="6.98" height="2.57" fill="#E2E2FF"/>
<rect x="105.22" y="442.40" width="6.58" height="2.57" fill="#FF9292"/>
<rect x="32.80" y="444.57" width="6.98" height="2.57" fill="#9494FF"/>
<rect x="39.38" y="444.57" width="6.98" height="2.57" fill="#8B8BFF"/>
<rect x="45.97" y="444.57" width="6.98" height="2.57" fill="#8080FF"/>
<rect x="52.55" y="444.57" width="6.98" height="2.57" fill="#9D9DFF"/>
<rect x="59.13" y="444.57" width="6.98" height="2.57" fill="#F3F3FF"/>
<rect x="65.72" y="444.57" width="6.98" height="2.57" fill="#ABABFF"/>
<rect x="72.30" y="444.57" width="6.98" height="2.57" fill="#FFCFCF"/>
<rect x="78.88" y="444.57" width="6.98" height="2.57" fill="#C6C6FF"/>
<rect x="85.47" y="444.57" width="6.98" height="2.57" fill="#FF0202"/>
<rect x="92.05" y="444.57" width="6.98" height="2.57" fill="#FFB1B1"/>
<rect x="98.63" y="444.57" width="6.98" height="2.57" fill="#FFC7C7"/>
<rect x="105.22" y="444.57" width="6.58" height="2.57" fill="#FFFBFB"/>
<rect x="32.80" y="446.73" width="6.98" height="2.57" fill="#5C5CFF"/>
<rect x="39.38" y="446.73" width="6.98" height="2.57" fill="#8484FF"/>
<rect x="45.97" y="446.73" width="6.98" height="2.57" fill="#9B9BFF"/>
<rect x="52.55" y="446.73" width="6.98" height="2.57" fill="#A1A1FF"/>
<rect x="59.13" y="446.73" width="6.98" height="2.57" fill="#FFEAEA"/>
<rect x="65.72" y="446.73" width="6.98" height="2.57" fill="#D5D5FF"/>
<rect x="72.30" y="446.73" width="6.98" height="2.57" fill="#FFDDDD"/>
<rect x="78.88" y="446.73" width="6.98" height="2.57" fill="#F5F5FF"/>
<rect x="85.47" y="446.73" width="6.98" height="2.57" fill="#FF0000"/>
<rect x="92.05" y="446.73" width="6.98" height="2.57" fill="#FF2020"/>
<rect x="98.63" y="446.73" width="6.98" height="2.57" fill="#FFB7B7"/>
<rect x="105.22" y="446.73" width="6.58" height="2.57" fill="#FFD7D7"/>
<rect x="32.80" y="448.90" width="6.98" height="2.57" fill="#ABABFF"/>
<rect x="39.38" y="448.90" width="6.98" height="2.57" fill="#CDCDFF"/>
<rect x="45.97" y="448.90" width="6.98" height="2.57" fill="#7979FF"/>
<rect x="52.55" y="448.90" width="6.98" height="2.57" fill="#5A5AFF"/>
<rect x="59.13" y="448.90" width="6.98" height="2.57" fill="#FFE1E1"/>
<rect x="65.72" y="448.90" width="6.98" height="2.57" fill="#CDCDFF"/>
<rect x="72.30" y="448.90" width="6.98" height="2.57" fill="#FFE4E4"/>
<rect x="78.88" y="448.90" width="6.98" height="2.57" fill="#F6F6FF"/>
<rect x="85.47" y="448.90" width="6.98" height="2.57" fill="#FF0000"/>
<rect x="92.05" y="448.90" width="6.98" height="2.57" fill="#FF3030"/>
<rect x="98.63" y="448.90" width="6.98" height="2.57" fill="#DDDDFF"/>
<rect x="105.22" y="448.90" width="6.58" height="2.57" fill="#ECECFF"/>
<rect x="32.80" y="451.07" width="6.98" height="2.57" fill="#9494FF"/>
<rect x="39.38" y="451.07" width="6.98" height="2.57" fill="#9797FF"/>
<rect x="45.97" y="451.07" width="6.98" height="2.57" fill="#9696FF"/>
<rect x="52.55" y="451.07" width="6.98" height="2.57" fill="#9D9DFF"/>
<rect x="59.13" y="451.07" width="6.98" height="2.57" fill="#FFCECE"/>
<rect x="65.72" y="451.07" width="6.98" height="2.57" fill="#BFBFFF"/>
<rect x="72.30" y="451.07" width="6.98" height="2.57" fill="#FFF4F4"/>
<rect x="78.88" y="451.07" width="6.98" height="2.57" fill="#FFFDFD"/>
<rect x="85.47" y="451.07" width="6.98" height="2.57" fill="#FF0707"/>
<rect x="92.05" y="451.07" width="6.98" height="2.57" fill="#FF9C9C"/>
<rect x="98.63" y="451.07" width="6.98" height="2.57" fill="#9F9FFF"/>
<rect x="105.22" y="451.07" width="6.58" height="2.57" fill="#FDFDFF"/>
<rect x="32.80" y="453.24" width="6.98" height="2.57" fill="#8585FF"/>
<rect x="39.38" y="453.24" width="6.98" height="2.57" fill="#8383FF"/>
<rect x="45.97" y="453.24" width="6.98" height="2.57" fill="#9595FF"/>
<rect x="52.55" y="453.24" width="6.98" height="2.57" fill="#8C8CFF"/>
<rect x="59.13" y="453.24" width="6.98" height="2.57" fill="#FEFEFF"/>
<rect x="65.72" y="453.24" width="6.98" height="2.57" fill="#EBEBFF"/>
<rect x="72.30" y="453.24" width="6.98" height="2.57" fill="#FFE4E4"/>
<rect x="78.88" y="453.24" width="6.98" height="2.57" fill="#F3F3FF"/>
<rect x="85.47" y="453.24" width="6.98" height="2.57" fill="#FF0000"/>
<rect x="92.05" y="453.24" width="6.98" height="2.57" fill="#FFB1B1"/>
<rect x="98.63" y="453.24" width="6.98" height="2.57" fill="#9898FF"/>
<rect x="105.22" y="453.24" width="6.58" height="2.57" fill="#FEFEFF"/>
<rect x="32.80" y="455.41" width="6.98" height="2.57" fill="#6161FF"/>
<rect x="39.38" y="455.41" width="6.98" height="2.57" fill="#7373FF"/>
<rect x="45.97" y="455.41" width="6.98" height="2.57" fill="#D6D6FF"/>
<rect x="52.55" y="455.41" width="6.98" height="2.57" fill="#7B7BFF"/>
<rect x="59.13" y="455.41" width="6.98" height="2.57" fill="#FFF3F3"/>
<rect x="65.72" y="455.41" width="6.98" height="2.57" fill="#E3E3FF"/>
<rect x="72.30" y="455.41" width="6.98" height="2.57" fill="#FFCDCD"/>
<rect x="78.88" y="455.41" width="6.98" height="2.57" fill="#DBDBFF"/>
<rect x="85.47" y="455.41" width="6.98" height="2.57" fill="#FF0000"/>
<rect x="92.05" y="455.41" width="6.98" height="2.57" fill="#FF8787"/>
<rect x="98.63" y="455.41" width="6.98" height="2.57" fill="#A6A6FF"/>
<rect x="105.22" y="455.41" width="6.58" height="2.57" fill="#F7F7FF"/>
<rect x="32.80" y="457.58" width="6.98" height="2.57" fill="#7E7EFF"/>
<rect x="39.38" y="457.58" width="6.98" height="2.57" fill="#DEDEFF"/>
<rect x="45.97" y="457.58" width="6.98" height="2.57" fill="#9191FF"/>
<rect x="52.55" y="457.58" width="6.98" height="2.57" fill="#6565FF"/>
<rect x="59.13" y="457.58" width="6.98" height="2.57" fill="#FF6F6F"/>
<rect x="65.72" y="457.58" width="6.98" height="2.57" fill="#E2E2FF"/>
<rect x="72.30" y="457.58" width="6.98" height="2.57" fill="#FF5050"/>
<rect x="78.88" y="457.58" width="6.98" height="2.57" fill="#FF7E7E"/>
<rect x="85.47" y="457.58" width="6.98" height="2.57" fill="#FF0000"/>
<rect x="92.05" y="457.58" width="6.98" height="2.57" fill="#FF2020"/>
<rect x="98.63" y="457.58" width="6.98" height="2.57" fill="#C5C5FF"/>
<rect x="105.22" y="457.58" width="6.58" height="2.57" fill="#EDEDFF"/>
<rect x="32.80" y="459.75" width="6.98" height="2.57" fill="#6767FF"/>
<rect x="39.38" y="459.75" width="6.98" height="2.57" fill="#A3A3FF"/>
<rect x="45.97" y="459.75" width="6.98" height="2.57" fill="#AAAAFF"/>
<rect x="52.55" y="459.75" width="6.98" height="2.57" fill="#7474FF"/>
<rect x="59.13" y="459.75" width="6.98" height="2.57" fill="#FFC5C5"/>
<rect x="65.72" y="459.75" width="6.98" height="2.57" fill="#B9B9FF"/>
<rect x="72.30" y="459.75" width="6.98" height="2.57" fill="#FF9A9A"/>
<rect x="78.88" y="459.75" width="6.98" height="2.57" fill="#FF3C3C"/>
<rect x="85.47" y="459.75" width="6.98" height="2.57" fill="#FF0000"/>
<rect x="92.05" y="459.75" width="6.98" height="2.57" fill="#FF0000"/>
<rect x="98.63" y="459.75" width="6.98" height="2.57" fill="#C7C7FF"/>
<rect x="105.22" y="459.75" width="6.58" height="2.57" fill="#FFFFFF"/>
<rect x="32.80" y="461.92" width="6.98" height="2.57" fill="#A3A3FF"/>
<rect x="39.38" y="461.92" width="6.98" height="2.57" fill="#9F9FFF"/>
<rect x="45.97" y="461.92" width="6.98" height="2.57" fill="#CACAFF"/>
<rect x="52.55" y="461.92" width="6.98" height="2.57" fill="#7171FF"/>
<rect x="59.13" y="461.92" width="6.98" height="2.57" fill="#FFB0B0"/>
<rect x="65.72" y="461.92" width="6.98" height="2.57" fill="#CBCBFF"/>
<rect x="72.30" y="461.92" width="6.98" height="2.57" fill="#FF9090"/>
<rect x="78.88" y="461.92" width="6.98" height="2.57" fill="#FF8A8A"/>
<rect x="85.47" y="461.92" width="6.98" height="2.57" fill="#FF0808"/>
<rect x="92.05" y="461.92" width="6.98" height="2.57" fill="#FF0000"/>
<rect x="98.63" y="461.92" width="6.98" height="2.57" fill="#A2A2FF"/>
<rect x="105.22" y="461.92" width="6.58" height="2.57" fill="#FFDADA"/>
<rect x="32.80" y="464.09" width="6.98" height="2.57" fill="#6868FF"/>
<rect x="39.38" y="464.09" width="6.98" height="2.57" fill="#8888FF"/>
<rect x="45.97" y="464.09" width="6.98" height="2.57" fill="#A4A4FF"/>
<rect x="52.55" y="464.09" width="6.98" height="2.57" fill="#6B6BFF"/>
<rect x="59.13" y="464.09" width="6.98" height="2.57" fill="#FFC7C7"/>
<rect x="65.72" y="464.09" width="6.98" height="2.57" fill="#CECEFF"/>
<rect x="72.30" y="464.09" width="6.98" height="2.57" fill="#FFA1A1"/>
<rect x="78.88" y="464.09" width="6.98" height="2.57" fill="#FF5F5F"/>
<rect x="85.47" y="464.09" width="6.98" height="2.57" fill="#FF1A1A"/>
<rect x="92.05" y="464.09" width="6.98" height="2.57" fill="#FF3737"/>
<rect x="98.63" y="464.09" width="6.98" height="2.57" fill="#9F9FFF"/>
<rect x="105.22" y="464.09" width="6.58" height="2.57" fill="#FFE9E9"/>
<rect x="32.80" y="466.26" width="6.98" height="2.57" fill="#9999FF"/>
<rect x="39.38" y="466.26" width="6.98" height="2.57" fill="#E5E5FF"/>
<rect x="45.97" y="466.26" width="6.98" height="2.57" fill="#9F9FFF"/>
<rect x="52.55" y="466.26" width="6.98" height="2.57" fill="#5B5BFF"/>
<rect x="59.13" y="466.26" width="6.98" height="2.57" fill="#FF8989"/>
<rect x="65.72" y="466.26" width="6.98" height="2.57" fill="#FFEBEB"/>
<rect x="72.30" y="466.26" width="6.98" height="2.57" fill="#FF8E8E"/>
<rect x="78.88" y="466.26" width="6.98" height="2.57" fill="#FFEEEE"/>
<rect x="85.47" y="466.26" width="6.98" height="2.57" fill="#FF0E0E"/>
<rect x="92.05" y="466.26" width="6.98" height="2.57" fill="#FF7C7C"/>
<rect x="98.63" y="466.26" width="6.98" height="2.57" fill="#C3C3FF"/>
<rect x="105.22" y="466.26" width="6.58" height="2.57" fill="#FFA6A6"/>
<rect x="32.80" y="468.43" width="6.98" height="2.57" fill="#7A7AFF"/>
<rect x="39.38" y="468.43" width="6.98" height="2.57" fill="#7F7FFF"/>
<rect x="45.97" y="468.43" width="6.98" height="2.57" fill="#9C9CFF"/>
<rect x="52.55" y="468.43" width="6.98" height="2.57" fill="#B8B8FF"/>
<rect x="59.13" y="468.43" width="6.98" height="2.57" fill="#FFB2B2"/>
<rect x="65.72" y="468.43" width="6.98" height="2.57" fill="#DFDFFF"/>
<rect x="72.30" y="468.43" width="6.98" height="2.57" fill="#FFBEBE"/>
<rect x="78.88" y="468.43" width="6.98" height="2.57" fill="#FFF6F6"/>
<rect x="85.47" y="468.43" width="6.98" height="2.57" fill="#FF0101"/>
<rect x="92.05" y="468.43" width="6.98" height="2.57" fill="#FF5B5B"/>
<rect x="98.63" y="468.43" width="6.98" height="2.57" fill="#8484FF"/>
<rect x="105.22" y="468.43" width="6.58" height="2.57" fill="#FF8383"/>
<rect x="32.80" y="470.60" width="6.98" height="2.57" fill="#9D9DFF"/>
<rect x="39.38" y="470.60" width="6.98" height="2.57" fill="#7979FF"/>
<rect x="45.97" y="470.60" width="6.98" height="2.57" fill="#8181FF"/>
<rect x="52.55" y="470.60" width="6.98" height="2.57" fill="#7676FF"/>
<rect x="59.13" y="470.60" width="6.98" height="2.57" fill="#FFB3B3"/>
<rect x="65.72" y="470.60" width="6.98" height="2.57" fill="#E3E3FF"/>
<rect x="72.30" y="470.60" width="6.98" height="2.57" fill="#FFB3B3"/>
<rect x="78.88" y="470.60" width="6.98" height="2.57" fill="#DDDDFF"/>
<rect x="85.47" y="470.60" width="6.98" height="2.57" fill="#FF0303"/>
<rect x="92.05" y="470.60" width="6.98" height="2.57" fill="#FFB8B8"/>
<rect x="98.63" y="470.60" width="6.98" height="2.57" fill="#A6A6FF"/>
<rect x="105.22" y="470.60" width="6.58" height="2.57" fill="#FF8A8A"/>
<rect x="32.80" y="472.76" width="6.98" height="2.57" fill="#BABAFF"/>
<rect x="39.38" y="472.76" width="6.98" height="2.57" fill="#C5C5FF"/>
<rect x="45.97" y="472.76" width="6.98" height="2.57" fill="#B6B6FF"/>
<rect x="52.55" y="472.76" width="6.98" height="2.57" fill="#7878FF"/>
<rect x="59.13" y="472.76" width="6.98" height="2.57" fill="#FF9999"/>
<rect x="65.72" y="472.76" width="6.98" height="2.57" fill="#D7D7FF"/>
<rect x="72.30" y="472.76" width="6.98" height="2.57" fill="#FFEBEB"/>
<rect x="78.88" y="472.76" width="6.98" height="2.57" fill="#E9E9FF"/>
<rect x="85.47" y="472.76" width="6.98" height="2.57" fill="#FF0000"/>
<rect x="92.05" y="472.76" width="6.98" height="2.57" fill="#FF7878"/>
<rect x="98.63" y="472.76" width="6.98" height="2.57" fill="#C7C7FF"/>
<rect x="105.22" y="472.76" width="6.58" height="2.57" fill="#FFA2A2"/>
<rect x="32.80" y="474.93" width="6.98" height="2.57" fill="#9393FF"/>
<rect x="39.38" y="474.93" width="6.98" height="2.57" fill="#BABAFF"/>
<rect x="45.97" y="474.93" width="6.98" height="2.57" fill="#BABAFF"/>
<rect x="52.55" y="474.93" width="6.98" height="2.57" fill="#ABABFF"/>
<rect x="59.13" y="474.93" width="6.98" height="2.57" fill="#FF9595"/>
<rect x="65.72" y="474.93" width="6.98" height="2.57" fill="#E9E9FF"/>
<rect x="72.30" y="474.93" width="6.98" height="2.57" fill="#FFC6C6"/>
<rect x="78.88" y="474.93" width="6.98" height="2.57" fill="#ECECFF"/>
<rect x="85.47" y="474.93" width="6.98" height="2.57" fill="#FF0707"/>
<rect x="92.05" y="474.93" width="6.98" height="2.57" fill="#FFB5B5"/>
<rect x="98.63" y="474.93" width="6.98" height="2.57" fill="#FFFFFF"/>
<rect x="105.22" y="474.93" width="6.58" height="2.57" fill="#FFFAFA"/>
<rect x="32.80" y="477.10" width="6.98" height="2.57" fill="#A6A6FF"/>
<rect x="39.38" y="477.10" width="6.98" height="2.57" fill="#9D9DFF"/>
<rect x="45.97" y="477.10" width="6.98" height="2.57" fill="#8C8CFF"/>
<rect x="52.55" y="477.10" width="6.98" height="2.57" fill="#6565FF"/>
<rect x="59.13" y="477.10" width="6.98" height="2.57" fill="#FFFEFE"/>
<rect x="65.72" y="477.10" width="6.98" height="2.57" fill="#D0D0FF"/>
<rect x="72.30" y="477.10" width="6.98" height="2.57" fill="#FFDBDB"/>
<rect x="78.88" y="477.10" width="6.98" height="2.57" fill="#EBEBFF"/>
<rect x="85.47" y="477.10" width="6.98" height="2.57" fill="#FF0000"/>
<rect x="92.05" y="477.10" width="6.98" height="2.57" fill="#FF9A9A"/>
<rect x="98.63" y="477.10" width="6.98" height="2.57" fill="#9494FF"/>
<rect x="105.22" y="477.10" width="6.58" height="2.57" fill="#FFFEFE"/>
<rect x="32.80" y="479.27" width="6.98" height="2.57" fill="#B4B4FF"/>
<rect x="39.38" y="479.27" width="6.98" height="2.57" fill="#AFAFFF"/>
<rect x="45.97" y="479.27" width="6.98" height="2.57" fill="#9595FF"/>
<rect x="52.55" y="479.27" width="6.98" height="2.57" fill="#DDDDFF"/>
<rect x="59.13" y="479.27" width="6.98" height="2.57" fill="#FFB0B0"/>
<rect x="65.72" y="479.27" width="6.98" height="2.57" fill="#C2C2FF"/>
<rect x="72.30" y="479.27" width="6.98" height="2.57" fill="#FFCECE"/>
<rect x="78.88" y="479.27" width="6.98" height="2.57" fill="#FFE6E6"/>
<rect x="85.47" y="479.27" width="6.98" height="2.57" fill="#FF0000"/>
<rect x="92.05" y="479.27" width="6.98" height="2.57" fill="#FF7F7F"/>
<rect x="98.63" y="479.27" width="6.98" height="2.57" fill="#BFBFFF"/>
<rect x="105.22" y="479.27" width="6.58" height="2.57" fill="#FFC4C4"/>
<rect x="32.80" y="481.44" width="6.98" height="2.57" fill="#8888FF"/>
<rect x="39.38" y="481.44" width="6.98" height="2.57" fill="#C4C4FF"/>
<rect x="45.97" y="481.44" width="6.98" height="2.57" fill="#A9A9FF"/>
<rect x="52.55" y="481.44" width="6.98" height="2.57" fill="#BCBCFF"/>
<rect x="59.13" y="481.44" width="6.98" height="2.57" fill="#D0D0FF"/>
<rect x="65.72" y="481.44" width="6.98" height="2.57" fill="#F2F2FF"/>
<rect x="72.30" y="481.44" width="6.98" height="2.57" fill="#FFAEAE"/>
<rect x="78.88" y="481.44" width="6.98" height="2.57" fill="#CFCFFF"/>
<rect x="85.47" y="481.44" width="6.98" height="2.57" fill="#FF0000"/>
<rect x="92.05" y="481.44" width="6.98" height="2.57" fill="#FF5E5E"/>
<rect x="98.63" y="481.44" width="6.98" height="2.57" fill="#DBDBFF"/>
<rect x="105.22" y="481.44" width="6.58" height="2.57" fill="#FFE7E7"/>
<rect x="32.80" y="483.61" width="6.98" height="2.57" fill="#A2A2FF"/>
<rect x="39.38" y="483.61" width="6.98" height="2.57" fill="#9797FF"/>
<rect x="45.97" y="483.61" width="6.98" height="2.57" fill="#B0B0FF"/>
<rect x="52.55" y="483.61" width="6.98" height="2.57" fill="#6565FF"/>
<rect x="59.13" y="483.61" width="6.98" height="2.57" fill="#D0D0FF"/>
<rect x="65.72" y="483.61" width="6.98" height="2.57" fill="#FFFFFF"/>
<rect x="72.30" y="483.61" width="6.98" height="2.57" fill="#FFB6B6"/>
<rect x="78.88" y="483.61" width="6.98" height="2.57" fill="#EEEEFF"/>
<rect x="85.47" y="483.61" width="6.98" height="2.57" fill="#FF0000"/>
<rect x="92.05" y="483.61" width="6.98" height="2.57" fill="#FF5959"/>
<rect x="98.63" y="483.61" width="6.98" height="2.57" fill="#D0D0FF"/>
<rect x="105.22" y="483.61" width="6.58" height="2.57" fill="#FFACAC"/>
<rect x="32.80" y="485.78" width="6.98" height="2.57" fill="#6060FF"/>
<rect x="39.38" y="485.78" width="6.98" height="2.57" fill="#D2D2FF"/>
<rect x="45.97" y="485.78" width="6.98" height="2.57" fill="#BDBDFF"/>
<rect x="52.55" y="485.78" width="6.98" height="2.57" fill="#7979FF"/>
<rect x="59.13" y="485.78" width="6.98" height="2.57" fill="#FCFCFF"/>
<rect x="65.72" y="485.78" width="6.98" height="2.57" fill="#B9B9FF"/>
<rect x="72.30" y="485.78" width="6.98" height="2.57" fill="#FFF0F0"/>
<rect x="78.88" y="485.78" width="6.98" height="2.57" fill="#FDFDFF"/>
<rect x="85.47" y="485.78" width="6.98" height="2.57" fill="#FF0000"/>
<rect x="92.05" y="485.78" width="6.98" height="2.57" fill="#FF4444"/>
<rect x="98.63" y="485.78" width="6.98" height="2.57" fill="#FF7474"/>
<rect x="105.22" y="485.78" width="6.58" height="2.57" fill="#FF7878"/>
<rect x="32.80" y="487.95" width="6.98" height="2.57" fill="#6161FF"/>
<rect x="39.38" y="487.95" width="6.98" height="2.57" fill="#9393FF"/>
<rect x="45.97" y="487.95" width="6.98" height="2.57" fill="#6565FF"/>
<rect x="52.55" y="487.95" width="6.98" height="2.57" fill="#7474FF"/>
<rect x="59.13" y="487.95" width="6.98" height="2.57" fill="#EFEFFF"/>
<rect x="65.72" y="487.95" width="6.98" height="2.57" fill="#E4E4FF"/>
<rect x="72.30" y="487.95" width="6.98" height="2.57" fill="#FFF7F7"/>
<rect x="78.88" y="487.95" width="6.98" height="2.57" fill="#F2F2FF"/>
<rect x="85.47" y="487.95" width="6.98" height="2.57" fill="#FF0505"/>
<rect x="92.05" y="487.95" width="6.98" height="2.57" fill="#FF1A1A"/>
<rect x="98.63" y="487.95" width="6.98" height="2.57" fill="#FFB3B3"/>
<rect x="105.22" y="487.95" width="6.58" height="2.57" fill="#FF7676"/>
<rect x="32.80" y="490.12" width="6.98" height="2.57" fill="#9E9EFF"/>
<rect x="39.38" y="490.12" width="6.98" height="2.57" fill="#F4F4FF"/>
<rect x="45.97" y="490.12" width="6.98" height="2.57" fill="#E6E6FF"/>
<rect x="52.55" y="490.12" width="6.98" height="2.57" fill="#6262FF"/>
<rect x="59.13" y="490.12" width="6.98" height="2.57" fill="#EFEFFF"/>
<rect x="65.72" y="490.12" width="6.98" height="2.57" fill="#FFFEFE"/>
<rect x="72.30" y="490.12" width="6.98" height="2.57" fill="#FFDCDC"/>
<rect x="78.88" y="490.12" width="6.98" height="2.57" fill="#FFD8D8"/>
<rect x="85.47" y="490.12" width="6.98" height="2.57" fill="#FF0606"/>
<rect x="92.05" y="490.12" width="6.98" height="2.57" fill="#FF4848"/>
<rect x="98.63" y="490.12" width="6.98" height="2.57" fill="#FF8F8F"/>
<rect x="105.22" y="490.12" width="6.58" height="2.57" fill="#FF7777"/>
<rect x="32.80" y="492.29" width="6.98" height="2.57" fill="#6969FF"/>
<rect x="39.38" y="492.29" width="6.98" height="2.57" fill="#ACACFF"/>
<rect x="45.97" y="492.29" width="6.98" height="2.57" fill="#7878FF"/>
<rect x="52.55" y="492.29" width="6.98" height="2.57" fill="#AAAAFF"/>
<rect x="59.13" y="492.29" width="6.98" height="2.57" fill="#B9B9FF"/>
<rect x="65.72" y="492.29" width="6.98" height="2.57" fill="#D1D1FF"/>
<rect x="72.30" y="492.29" width="6.98" height="2.57" fill="#FFC5C5"/>
<rect x="78.88" y="492.29" width="6.98" height="2.57" fill="#FF0000"/>
<rect x="85.47" y="492.29" width="6.98" height="2.57" fill="#FF6D6D"/>
<rect x="92.05" y="492.29" width="6.98" height="2.57" fill="#9D9DFF"/>
<rect x="98.63" y="492.29" width="6.98" height="2.57" fill="#FF6969"/>
<rect x="105.22" y="492.29" width="6.58" height="2.57" fill="#FF0000"/>
<rect x="32.80" y="494.46" width="6.98" height="2.57" fill="#7171FF"/>
<rect x="39.38" y="494.46" width="6.98" height="2.57" fill="#8B8BFF"/>
<rect x="45.97" y="494.46" width="6.98" height="2.57" fill="#C3C3FF"/>
<rect x="52.55" y="494.46" width="6.98" height="2.57" fill="#9494FF"/>
<rect x="59.13" y="494.46" width="6.98" height="2.57" fill="#9696FF"/>
<rect x="65.72" y="494.46" width="6.98" height="2.57" fill="#DADAFF"/>
<rect x="72.30" y="494.46" width="6.98" height="2.57" fill="#FFDDDD"/>
<rect x="78.88" y="494.46" width="6.98" height="2.57" fill="#FF1919"/>
<rect x="85.47" y="494.46" width="6.98" height="2.57" fill="#9C9CFF"/>
<rect x="92.05" y="494.46" width="6.98" height="2.57" fill="#6767FF"/>
<rect x="98.63" y="494.46" width="6.98" height="2.57" fill="#FFA9A9"/>
<rect x="105.22" y="494.46" width="6.58" height="2.57" fill="#FF0B0B"/>
<rect x="32.80" y="496.63" width="6.98" height="2.57" fill="#7A7AFF"/>
<rect x="39.38" y="496.63" width="6.98" height="2.57" fill="#B3B3FF"/>
<rect x="45.97" y="496.63" width="6.98" height="2.57" fill="#A3A3FF"/>
<rect x="52.55" y="496.63" width="6.98" height="2.57" fill="#B1B1FF"/>
<rect x="59.13" y="496.63" width="6.98" height="2.57" fill="#F5F5FF"/>
<rect x="65.72" y="496.63" width="6.98" height="2.57" fill="#C5C5FF"/>
<rect x="72.30" y="496.63" width="6.98" height="2.57" fill="#FFDFDF"/>
<rect x="78.88" y="496.63" width="6.98" height="2.57" fill="#FF8B8B"/>
<rect x="85.47" y="496.63" width="6.98" height="2.57" fill="#C5C5FF"/>
<rect x="92.05" y="496.63" width="6.98" height="2.57" fill="#6262FF"/>
<rect x="98.63" y="496.63" width="6.98" height="2.57" fill="#FF0909"/>
<rect x="105.22" y="496.63" width="6.58" height="2.57" fill="#FF3030"/>
<rect x="32.80" y="498.79" width="6.98" height="2.57" fill="#C0C0FF"/>
<rect x="39.38" y="498.79" width="6.98" height="2.57" fill="#8B8BFF"/>
<rect x="45.97" y="498.79" width="6.98" height="2.57" fill="#9191FF"/>
<rect x="52.55" y="498.79" width="6.98" height="2.57" fill="#4747FF"/>
<rect x="59.13" y="498.79" width="6.98" height="2.57" fill="#E3E3FF"/>
<rect x="65.72" y="498.79" width="6.98" height="2.57" fill="#C2C2FF"/>
<rect x="72.30" y="498.79" width="6.98" height="2.57" fill="#FFDCDC"/>
<rect x="78.88" y="498.79" width="6.98" height="2.57" fill="#FF1414"/>
<rect x="85.47" y="498.79" width="6.98" height="2.57" fill="#8181FF"/>
<rect x="92.05" y="498.79" width="6.98" height="2.57" fill="#5656FF"/>
<rect x="98.63" y="498.79" width="6.98" height="2.57" fill="#FF3E3E"/>
<rect x="105.22" y="498.79" width="6.58" height="2.57" fill="#FF5555"/>
<rect x="32.80" y="500.96" width="6.98" height="2.57" fill="#9191FF"/>
<rect x="39.38" y="500.96" width="6.98" height="2.57" fill="#8282FF"/>
<rect x="45.97" y="500.96" width="6.98" height="2.57" fill="#A2A2FF"/>
<rect x="52.55" y="500.96" width="6.98" height="2.57" fill="#2626FF"/>
<rect x="59.13" y="500.96" width="6.98" height="2.57" fill="#D7D7FF"/>
<rect x="65.72" y="500.96" width="6.98" height="2.57" fill="#CFCFFF"/>
<rect x="72.30" y="500.96" width="6.98" height="2.57" fill="#FF5959"/>
<rect x="78.88" y="500.96" width="6.98" height="2.57" fill="#FFBABA"/>
<rect x="85.47" y="500.96" width="6.98" height="2.57" fill="#E9E9FF"/>
<rect x="92.05" y="500.96" width="6.98" height="2.57" fill="#FFF3F3"/>
<rect x="98.63" y="500.96" width="6.98" height="2.57" fill="#FF5555"/>
<rect x="105.22" y="500.96" width="6.58" height="2.57" fill="#FF7D7D"/>
<rect x="32.80" y="503.13" width="6.98" height="2.57" fill="#6363FF"/>
<rect x="39.38" y="503.13" width="6.98" height="2.57" fill="#6A6AFF"/>
<rect x="45.97" y="503.13" width="6.98" height="2.57" fill="#9595FF"/>
<rect x="52.55" y="503.13" width="6.98" height="2.57" fill="#9090FF"/>
<rect x="59.13" y="503.13" width="6.98" height="2.57" fill="#BDBDFF"/>
<rect x="65.72" y="503.13" width="6.98" height="2.57" fill="#9898FF"/>
<rect x="72.30" y="503.13" width="6.98" height="2.57" fill="#FF5151"/>
<rect x="78.88" y="503.13" width="6.98" height="2.57" fill="#FF1111"/>
<rect x="85.47" y="503.13" width="6.98" height="2.57" fill="#C8C8FF"/>
<rect x="92.05" y="503.13" width="6.98" height="2.57" fill="#F2F2FF"/>
<rect x="98.63" y="503.13" width="6.98" height="2.57" fill="#FF6D6D"/>
<rect x="105.22" y="503.13" width="6.58" height="2.57" fill="#FFCECE"/>
<rect x="32.80" y="505.30" width="6.98" height="2.57" fill="#9797FF"/>
<rect x="39.38" y="505.30" width="6.98" height="2.57" fill="#7878FF"/>
<rect x="45.97" y="505.30" width="6.98" height="2.57" fill="#9E9EFF"/>
<rect x="52.55" y="505.30" width="6.98" height="2.57" fill="#8E8EFF"/>
<rect x="59.13" y="505.30" width="6.98" height="2.57" fill="#F2F2FF"/>
<rect x="65.72" y="505.30" width="6.98" height="2.57" fill="#E3E3FF"/>
<rect x="72.30" y="505.30" width="6.98" height="2.57" fill="#8585FF"/>
<rect x="78.88" y="505.30" width="6.98" height="2.57" fill="#FF1111"/>
<rect x="85.47" y="505.30" width="6.98" height="2.57" fill="#E5E5FF"/>
<rect x="92.05" y="505.30" width="6.98" height="2.57" fill="#FFC9C9"/>
<rect x="98.63" y="505.30" width="6.98" height="2.57" fill="#FF5858"/>
<rect x="105.22" y="505.30" width="6.58" height="2.57" fill="#FF8383"/>
<rect x="32.80" y="507.47" width="6.98" height="2.57" fill="#8282FF"/>
<rect x="39.38" y="507.47" width="6.98" height="2.57" fill="#6F6FFF"/>
<rect x="45.97" y="507.47" width="6.98" height="2.57" fill="#B0B0FF"/>
<rect x="52.55" y="507.47" width="6.98" height="2.57" fill="#6E6EFF"/>
<rect x="59.13" y="507.47" width="6.98" height="2.57" fill="#C6C6FF"/>
<rect x="65.72" y="507.47" width="6.98" height="2.57" fill="#F3F3FF"/>
<rect x="72.30" y="507.47" width="6.98" height="2.57" fill="#E2E2FF"/>
<rect x="78.88" y="507.47" width="6.98" height="2.57" fill="#FF4848"/>
<rect x="85.47" y="507.47" width="6.98" height="2.57" fill="#FFB6B6"/>
<rect x="92.05" y="507.47" width="6.98" height="2.57" fill="#FFF2F2"/>
<rect x="98.63" y="507.47" width="6.98" height="2.57" fill="#FF1010"/>
<rect x="105.22" y="507.47" width="6.58" height="2.57" fill="#FF9F9F"/>
<rect x="32.80" y="509.64" width="6.98" height="2.57" fill="#6161FF"/>
<rect x="39.38" y="509.64" width="6.98" height="2.57" fill="#7B7BFF"/>
<rect x="45.97" y="509.64" width="6.98" height="2.57" fill="#7D7DFF"/>
<rect x="52.55" y="509.64" width="6.98" height="2.57" fill="#5D5DFF"/>
<rect x="59.13" y="509.64" width="6.98" height="2.57" fill="#F1F1FF"/>
<rect x="65.72" y="509.64" width="6.98" height="2.57" fill="#D2D2FF"/>
<rect x="72.30" y="509.64" width="6.98" height="2.57" fill="#CBCBFF"/>
<rect x="78.88" y="509.64" width="6.98" height="2.57" fill="#FF8484"/>
<rect x="85.47" y="509.64" width="6.98" height="2.57" fill="#FFB9B9"/>
<rect x="92.05" y="509.64" width="6.98" height="2.57" fill="#FF6C6C"/>
<rect x="98.63" y="509.64" width="6.98" height="2.57" fill="#FFC8C8"/>
<rect x="105.22" y="509.64" width="6.58" height="2.57" fill="#FF0E0E"/>
<rect x="32.80" y="511.81" width="6.98" height="2.57" fill="#2E2EFF"/>
<rect x="39.38" y="511.81" width="6.98" height="2.57" fill="#7B7BFF"/>
<rect x="45.97" y="511.81" width="6.98" height="2.57" fill="#8787FF"/>
<rect x="52.55" y="511.81" width="6.98" height="2.57" fill="#3E3EFF"/>
<rect x="59.13" y="511.81" width="6.98" height="2.57" fill="#FFF0F0"/>
<rect x="65.72" y="511.81" width="6.98" height="2.57" fill="#CACAFF"/>
<rect x="72.30" y="511.81" width="6.98" height="2.57" fill="#FFB5B5"/>
<rect x="78.88" y="511.81" width="6.98" height="2.57" fill="#FFD9D9"/>
<rect x="85.47" y="511.81" width="6.98" height="2.57" fill="#FF3B3B"/>
<rect x="92.05" y="511.81" width="6.98" height="2.57" fill="#FF7575"/>
<rect x="98.63" y="511.81" width="6.98" height="2.57" fill="#FF6767"/>
<rect x="105.22" y="511.81" width="6.58" height="2.57" fill="#FF8383"/>
<rect x="32.80" y="513.98" width="6.98" height="2.57" fill="#3737FF"/>
<rect x="39.38" y="513.98" width="6.98" height="2.57" fill="#8C8CFF"/>
<rect x="45.97" y="513.98" width="6.98" height="2.57" fill="#7777FF"/>
<rect x="52.55" y="513.98" width="6.98" height="2.57" fill="#3939FF"/>
<rect x="59.13" y="513.98" width="6.98" height="2.57" fill="#E4E4FF"/>
<rect x="65.72" y="513.98" width="6.98" height="2.57" fill="#D4D4FF"/>
<rect x="72.30" y="513.98" width="6.98" height="2.57" fill="#FFC5C5"/>
<rect x="78.88" y="513.98" width="6.98" height="2.57" fill="#FFDCDC"/>
<rect x="85.47" y="513.98" width="6.98" height="2.57" fill="#FF5A5A"/>
<rect x="92.05" y="513.98" width="6.98" height="2.57" fill="#FF3939"/>
<rect x="98.63" y="513.98" width="6.98" height="2.57" fill="#FF5C5C"/>
<rect x="105.22" y="513.98" width="6.58" height="2.57" fill="#FFA8A8"/>
<rect x="32.80" y="516.15" width="6.98" height="2.57" fill="#4C4CFF"/>
<rect x="39.38" y="516.15" width="6.98" height="2.57" fill="#4242FF"/>
<rect x="45.97" y="516.15" width="6.98" height="2.57" fill="#7171FF"/>
<rect x="52.55" y="516.15" width="6.98" height="2.57" fill="#5454FF"/>
<rect x="59.13" y="516.15" width="6.98" height="2.57" fill="#FDFDFF"/>
<rect x="65.72" y="516.15" width="6.98" height="2.57" fill="#F4F4FF"/>
<rect x="72.30" y="516.15" width="6.98" height="2.57" fill="#FFB9B9"/>
<rect x="78.88" y="516.15" width="6.98" height="2.57" fill="#FFECEC"/>
<rect x="85.47" y="516.15" width="6.98" height="2.57" fill="#FF7C7C"/>
<rect x="92.05" y="516.15" width="6.98" height="2.57" fill="#FF8181"/>
<rect x="98.63" y="516.15" width="6.98" height="2.57" fill="#FF7474"/>
<rect x="105.22" y="516.15" width="6.58" height="2.57" fill="#FFA5A5"/>
<rect x="32.80" y="518.32" width="6.98" height="2.57" fill="#3434FF"/>
<rect x="39.38" y="518.32" width="6.98" height="2.57" fill="#5B5BFF"/>
<rect x="45.97" y="518.32" width="6.98" height="2.57" fill="#2020FF"/>
<rect x="52.55" y="518.32" width="6.98" height="2.57" fill="#4141FF"/>
<rect x="59.13" y="518.32" width="6.98" height="2.57" fill="#EAEAFF"/>
<rect x="65.72" y="518.32" width="6.98" height="2.57" fill="#F6F6FF"/>
<rect x="72.30" y="518.32" width="6.98" height="2.57" fill="#FFEDED"/>
<rect x="78.88" y="518.32" width="6.98" height="2.57" fill="#FFCECE"/>
<rect x="85.47" y="518.32" width="6.98" height="2.57" fill="#FF7878"/>
<rect x="92.05" y="518.32" width="6.98" height="2.57" fill="#FF5F5F"/>
<rect x="98.63" y="518.32" width="6.98" height="2.57" fill="#FF4242"/>
<rect x="105.22" y="518.32" width="6.58" height="2.57" fill="#EFEFFF"/>
<rect x="32.80" y="520.49" width="6.98" height="2.57" fill="#2424FF"/>
<rect x="39.38" y="520.49" width="6.98" height="2.57" fill="#6F6FFF"/>
<rect x="45.97" y="520.49" width="6.98" height="2.57" fill="#8D8DFF"/>
<rect x="52.55" y="520.49" width="6.98" height="2.57" fill="#5151FF"/>
<rect x="59.13" y="520.49" width="6.98" height="2.57" fill="#F1F1FF"/>
<rect x="65.72" y="520.49" width="6.98" height="2.57" fill="#F7F7FF"/>
<rect x="72.30" y="520.49" width="6.98" height="2.57" fill="#FFDDDD"/>
<rect x="78.88" y="520.49" width="6.98" height="2.57" fill="#FFAFAF"/>
<rect x="85.47" y="520.49" width="6.98" height="2.57" fill="#FF3030"/>
<rect x="92.05" y="520.49" width="6.98" height="2.57" fill="#FF2F2F"/>
<rect x="98.63" y="520.49" width="6.98" height="2.57" fill="#FF6363"/>
<rect x="105.22" y="520.49" width="6.58" height="2.57" fill="#FF5555"/>
<rect x="32.80" y="522.66" width="6.98" height="2.57" fill="#4E4EFF"/>
<rect x="39.38" y="522.66" width="6.98" height="2.57" fill="#7373FF"/>
<rect x="45.97" y="522.66" width="6.98" height="2.57" fill="#7171FF"/>
<rect x="52.55" y="522.66" width="6.98" height="2.57" fill="#4242FF"/>
<rect x="59.13" y="522.66" width="6.98" height="2.57" fill="#FFCACA"/>
<rect x="65.72" y="522.66" width="6.98" height="2.57" fill="#D6D6FF"/>
<rect x="72.30" y="522.66" width="6.98" height="2.57" fill="#FFD9D9"/>
<rect x="78.88" y="522.66" width="6.98" height="2.57" fill="#FFEBEB"/>
<rect x="85.47" y="522.66" width="6.98" height="2.57" fill="#FF4646"/>
<rect x="92.05" y="522.66" width="6.98" height="2.57" fill="#FF1212"/>
<rect x="98.63" y="522.66" width="6.98" height="2.57" fill="#FF3E3E"/>
<rect x="105.22" y="522.66" width="6.58" height="2.57" fill="#FFAFAF"/>
<rect x="32.80" y="524.83" width="6.98" height="2.57" fill="#5050FF"/>
<rect x="39.38" y="524.83" width="6.98" height="2.57" fill="#7B7BFF"/>
<rect x="45.97" y="524.83" width="6.98" height="2.57" fill="#8D8DFF"/>
<rect x="52.55" y="524.83" width="6.98" height="2.57" fill="#5353FF"/>
<rect x="59.13" y="524.83" width="6.98" height="2.57" fill="#FFC7C7"/>
<rect x="65.72" y="524.83" width="6.98" height="2.57" fill="#8686FF"/>
<rect x="72.30" y="524.83" width="6.98" height="2.57" fill="#D6D6FF"/>
<rect x="78.88" y="524.83" width="6.98" height="2.57" fill="#FFEFEF"/>
<rect x="85.47" y="524.83" width="6.98" height="2.57" fill="#FF7171"/>
<rect x="92.05" y="524.83" width="6.98" height="2.57" fill="#FF3535"/>
<rect x="98.63" y="524.83" width="6.98" height="2.57" fill="#FF8181"/>
<rect x="105.22" y="524.83" width="6.58" height="2.57" fill="#FF5555"/>
<rect x="32.80" y="526.99" width="6.98" height="2.57" fill="#6060FF"/>
<rect x="39.38" y="526.99" width="6.98" height="2.57" fill="#4747FF"/>
<rect x="45.97" y="526.99" width="6.98" height="2.57" fill="#8D8DFF"/>
<rect x="52.55" y="526.99" width="6.98" height="2.57" fill="#6161FF"/>
<rect x="59.13" y="526.99" width="6.98" height="2.57" fill="#FFDFDF"/>
<rect x="65.72" y="526.99" width="6.98" height="2.57" fill="#E9E9FF"/>
<rect x="72.30" y="526.99" width="6.98" height="2.57" fill="#ECECFF"/>
<rect x="78.88" y="526.99" width="6.98" height="2.57" fill="#D9D9FF"/>
<rect x="85.47" y="526.99" width="6.98" height="2.57" fill="#FF8888"/>
<rect x="92.05" y="526.99" width="6.98" height="2.57" fill="#FF3F3F"/>
<rect x="98.63" y="526.99" width="6.98" height="2.57" fill="#FF4C4C"/>
<rect x="105.22" y="526.99" width="6.58" height="2.57" fill="#FF5757"/>
<rect x="32.80" y="529.16" width="6.98" height="2.57" fill="#4747FF"/>
<rect x="39.38" y="529.16" width="6.98" height="2.57" fill="#7C7CFF"/>
<rect x="45.97" y="529.16" width="6.98" height="2.57" fill="#5F5FFF"/>
<rect x="52.55" y="529.16" width="6.98" height="2.57" fill="#4D4DFF"/>
<rect x="59.13" y="529.16" width="6.98" height="2.57" fill="#F6F6FF"/>
<rect x="65.72" y="529.16" width="6.98" height="2.57" fill="#C6C6FF"/>
<rect x="72.30" y="529.16" width="6.98" height="2.57" fill="#F3F3FF"/>
<rect x="78.88" y="529.16" width="6.98" height="2.57" fill="#C2C2FF"/>
<rect x="85.47" y="529.16" width="6.98" height="2.57" fill="#FF9E9E"/>
<rect x="92.05" y="529.16" width="6.98" height="2.57" fill="#FF2626"/>
<rect x="98.63" y="529.16" width="6.98" height="2.57" fill="#FF5656"/>
<rect x="105.22" y="529.16" width="6.58" height="2.57" fill="#FF8585"/>
<rect x="32.80" y="531.33" width="6.98" height="2.57" fill="#5D5DFF"/>
<rect x="39.38" y="531.33" width="6.98" height="2.57" fill="#5959FF"/>
<rect x="45.97" y="531.33" width="6.98" height="2.57" fill="#A6A6FF"/>
<rect x="52.55" y="531.33" width="6.98" height="2.57" fill="#6464FF"/>
<rect x="59.13" y="531.33" width="6.98" height="2.57" fill="#FFD0D0"/>
<rect x="65.72" y="531.33" width="6.98" height="2.57" fill="#F6F6FF"/>
<rect x="72.30" y="531.33" width="6.98" height="2.57" fill="#E1E1FF"/>
<rect x="78.88" y="531.33" width="6.98" height="2.57" fill="#BDBDFF"/>
<rect x="85.47" y="531.33" width="6.98" height="2.57" fill="#FFB9B9"/>
<rect x="92.05" y="531.33" width="6.98" height="2.57" fill="#FF3A3A"/>
<rect x="98.63" y="531.33" width="6.98" height="2.57" fill="#FF2D2D"/>
<rect x="105.22" y="531.33" width="6.58" height="2.57" fill="#FF9696"/>
<rect x="32.80" y="533.50" width="6.98" height="2.57" fill="#2B2BFF"/>
<rect x="39.38" y="533.50" width="6.98" height="2.57" fill="#5C5CFF"/>
<rect x="45.97" y="533.50" width="6.98" height="2.57" fill="#1A1AFF"/>
<rect x="52.55" y="533.50" width="6.98" height="2.57" fill="#5050FF"/>
<rect x="59.13" y="533.50" width="6.98" height="2.57" fill="#FFD5D5"/>
<rect x="65.72" y="533.50" width="6.98" height="2.57" fill="#C1C1FF"/>
<rect x="72.30" y="533.50" width="6.98" height="2.57" fill="#FFEFEF"/>
<rect x="78.88" y="533.50" width="6.98" height="2.57" fill="#FFFBFB"/>
<rect x="85.47" y="533.50" width="6.98" height="2.57" fill="#FFD6D6"/>
<rect x="92.05" y="533.50" width="6.98" height="2.57" fill="#FF4D4D"/>
<rect x="98.63" y="533.50" width="6.98" height="2.57" fill="#FF7070"/>
<rect x="105.22" y="533.50" width="6.58" height="2.57" fill="#FF7E7E"/>
<rect x="32.80" y="535.67" width="6.98" height="2.57" fill="#2A2AFF"/>
<rect x="39.38" y="535.67" width="6.98" height="2.57" fill="#7272FF"/>
<rect x="45.97" y="535.67" width="6.98" height="2.57" fill="#6F6FFF"/>
<rect x="52.55" y="535.67" width="6.98" height="2.57" fill="#5555FF"/>
<rect x="59.13" y="535.67" width="6.98" height="2.57" fill="#FFE3E3"/>
<rect x="65.72" y="535.67" width="6.98" height="2.57" fill="#CACAFF"/>
<rect x="72.30" y="535.67" width="6.98" height="2.57" fill="#FFE8E8"/>
<rect x="78.88" y="535.67" width="6.98" height="2.57" fill="#E1E1FF"/>
<rect x="85.47" y="535.67" width="6.98" height="2.57" fill="#FFDDDD"/>
<rect x="92.05" y="535.67" width="6.98" height="2.57" fill="#FF0000"/>
<rect x="98.63" y="535.67" width="6.98" height="2.57" fill="#FF2C2C"/>
<rect x="105.22" y="535.67" width="6.58" height="2.57" fill="#FF8A8A"/>
<rect x="32.80" y="537.84" width="6.98" height="2.57" fill="#4F4FFF"/>
<rect x="39.38" y="537.84" width="6.98" height="2.57" fill="#6D6DFF"/>
<rect x="45.97" y="537.84" width="6.98" height="2.57" fill="#8C8CFF"/>
<rect x="52.55" y="537.84" width="6.98" height="2.57" fill="#5353FF"/>
<rect x="59.13" y="537.84" width="6.98" height="2.57" fill="#FFD5D5"/>
<rect x="65.72" y="537.84" width="6.98" height="2.57" fill="#E5E5FF"/>
<rect x="72.30" y="537.84" width="6.98" height="2.57" fill="#FFE7E7"/>
<rect x="78.88" y="537.84" width="6.98" height="2.57" fill="#F5F5FF"/>
<rect x="85.47" y="537.84" width="6.98" height="2.57" fill="#FF8080"/>
<rect x="92.05" y="537.84" width="6.98" height="2.57" fill="#FF0000"/>
<rect x="98.63" y="537.84" width="6.98" height="2.57" fill="#FF0505"/>
<rect x="105.22" y="537.84" width="6.58" height="2.57" fill="#FF9191"/>
<rect x="32.80" y="540.01" width="6.98" height="2.57" fill="#7373FF"/>
<rect x="39.38" y="540.01" width="6.98" height="2.57" fill="#5050FF"/>
<rect x="45.97" y="540.01" width="6.98" height="2.57" fill="#7575FF"/>
<rect x="52.55" y="540.01" width="6.98" height="2.57" fill="#7171FF"/>
<rect x="59.13" y="540.01" width="6.98" height="2.57" fill="#FFBABA"/>
<rect x="65.72" y="540.01" width="6.98" height="2.57" fill="#BABAFF"/>
<rect x="72.30" y="540.01" width="6.98" height="2.57" fill="#FFEAEA"/>
<rect x="78.88" y="540.01" width="6.98" height="2.57" fill="#F7F7FF"/>
<rect x="85.47" y="540.01" width="6.98" height="2.57" fill="#FF2F2F"/>
<rect x="92.05" y="540.01" width="6.98" height="2.57" fill="#FFF8F8"/>
<rect x="98.63" y="540.01" width="6.98" height="2.57" fill="#FF9191"/>
<rect x="105.22" y="540.01" width="6.58" height="2.57" fill="#FF5C5C"/>
<rect x="32.80" y="542.18" width="6.98" height="2.57" fill="#1616FF"/>
<rect x="39.38" y="542.18" width="6.98" height="2.57" fill="#4242FF"/>
<rect x="45.97" y="542.18" width="6.98" height="2.57" fill="#4141FF"/>
<rect x="52.55" y="542.18" width="6.98" height="2.57" fill="#5959FF"/>
<rect x="59.13" y="542.18" width="6.98" height="2.57" fill="#FFD4D4"/>
<rect x="65.72" y="542.18" width="6.98" height="2.57" fill="#EBEBFF"/>
<rect x="72.30" y="542.18" width="6.98" height="2.57" fill="#FFA0A0"/>
<rect x="78.88" y="542.18" width="6.98" height="2.57" fill="#FFE2E2"/>
<rect x="85.47" y="542.18" width="6.98" height="2.57" fill="#FF3838"/>
<rect x="92.05" y="542.18" width="6.98" height="2.57" fill="#FF8787"/>
<rect x="98.63" y="542.18" width="6.98" height="2.57" fill="#FF7979"/>
<rect x="105.22" y="542.18" width="6.58" height="2.57" fill="#FF4848"/>
<rect x="32.80" y="544.35" width="6.98" height="2.57" fill="#5353FF"/>
<rect x="39.38" y="544.35" width="6.98" height="2.57" fill="#6868FF"/>
<rect x="45.97" y="544.35" width="6.98" height="2.57" fill="#7B7BFF"/>
<rect x="52.55" y="544.35" width="6.98" height="2.57" fill="#5E5EFF"/>
<rect x="59.13" y="544.35" width="6.98" height="2.57" fill="#FFDEDE"/>
<rect x="65.72" y="544.35" width="6.98" height="2.57" fill="#BBBBFF"/>
<rect x="72.30" y="544.35" width="6.98" height="2.57" fill="#FFADAD"/>
<rect x="78.88" y="544.35" width="6.98" height="2.57" fill="#FFD8D8"/>
<rect x="85.47" y="544.35" width="6.98" height="2.57" fill="#FF0C0C"/>
<rect x="92.05" y="544.35" width="6.98" height="2.57" fill="#FFEFEF"/>
<rect x="98.63" y="544.35" width="6.98" height="2.57" fill="#FF9797"/>
<rect x="105.22" y="544.35" width="6.58" height="2.57" fill="#FF3B3B"/>
<rect x="32.80" y="546.52" width="6.98" height="2.57" fill="#4444FF"/>
<rect x="39.38" y="546.52" width="6.98" height="2.57" fill="#6767FF"/>
<rect x="45.97" y="546.52" width="6.98" height="2.57" fill="#7171FF"/>
<rect x="52.55" y="546.52" width="6.98" height="2.57" fill="#5D5DFF"/>
<rect x="59.13" y="546.52" width="6.98" height="2.57" fill="#FCFCFF"/>
<rect x="65.72" y="546.52" width="6.98" height="2.57" fill="#D6D6FF"/>
<rect x="72.30" y="546.52" width="6.98" height="2.57" fill="#FFD5D5"/>
<rect x="78.88" y="546.52" width="6.98" height="2.57" fill="#FFC7C7"/>
<rect x="85.47" y="546.52" width="6.98" height="2.57" fill="#FF0D0D"/>
<rect x="92.05" y="546.52" width="6.98" height="2.57" fill="#FAFAFF"/>
<rect x="98.63" y="546.52" width="6.98" height="2.57" fill="#FFADAD"/>
<rect x="105.22" y="546.52" width="6.58" height="2.57" fill="#FF8D8D"/>
<rect x="32.80" y="548.69" width="6.98" height="2.57" fill="#5858FF"/>
<rect x="39.38" y="548.69" width="6.98" height="2.57" fill="#8181FF"/>
<rect x="45.97" y="548.69" width="6.98" height="2.57" fill="#B1B1FF"/>
<rect x="52.55" y="548.69" width="6.98" height="2.57" fill="#8F8FFF"/>
<rect x="59.13" y="548.69" width="6.98" height="2.57" fill="#FFFFFF"/>
<rect x="65.72" y="548.69" width="6.98" height="2.57" fill="#DEDEFF"/>
<rect x="72.30" y="548.69" width="6.98" height="2.57" fill="#FFE9E9"/>
<rect x="78.88" y="548.69" width="6.98" height="2.57" fill="#FCFCFF"/>
<rect x="85.47" y="548.69" width="6.98" height="2.57" fill="#FF3E3E"/>
<rect x="92.05" y="548.69" width="6.98" height="2.57" fill="#FF5757"/>
<rect x="98.63" y="548.69" width="6.98" height="2.57" fill="#FFBCBC"/>
<rect x="105.22" y="548.69" width="6.58" height="2.57" fill="#FF5F5F"/>
<rect x="32.80" y="550.86" width="6.98" height="2.57" fill="#3C3CFF"/>
<rect x="39.38" y="550.86" width="6.98" height="2.57" fill="#5555FF"/>
<rect x="45.97" y="550.86" width="6.98" height="2.57" fill="#7E7EFF"/>
<rect x="52.55" y="550.86" width="6.98" height="2.57" fill="#7777FF"/>
<rect x="59.13" y="550.86" width="6.98" height="2.57" fill="#FFE8E8"/>
<rect x="65.72" y="550.86" width="6.98" height="2.57" fill="#DBDBFF"/>
<rect x="72.30" y="550.86" width="6.98" height="2.57" fill="#FFA7A7"/>
<rect x="78.88" y="550.86" width="6.98" height="2.57" fill="#FFF5F5"/>
<rect x="85.47" y="550.86" width="6.98" height="2.57" fill="#FF1313"/>
<rect x="92.05" y="550.86" width="6.98" height="2.57" fill="#FF1919"/>
<rect x="98.63" y="550.86" width="6.98" height="2.57" fill="#FFBCBC"/>
<rect x="105.22" y="550.86" width="6.58" height="2.57" fill="#FF0000"/>
<rect x="32.80" y="553.02" width="6.98" height="2.57" fill="#4848FF"/>
<rect x="39.38" y="553.02" width="6.98" height="2.57" fill="#5151FF"/>
<rect x="45.97" y="553.02" width="6.98" height="2.57" fill="#9D9DFF"/>
<rect x="52.55" y="553.02" width="6.98" height="2.57" fill="#2323FF"/>
<rect x="59.13" y="553.02" width="6.98" height="2.57" fill="#FFFAFA"/>
<rect x="65.72" y="553.02" width="6.98" height="2.57" fill="#CFCFFF"/>
<rect x="72.30" y="553.02" width="6.98" height="2.57" fill="#FFB9B9"/>
<rect x="78.88" y="553.02" width="6.98" height="2.57" fill="#FFF5F5"/>
<rect x="85.47" y="553.02" width="6.98" height="2.57" fill="#FF0909"/>
<rect x="92.05" y="553.02" width="6.98" height="2.57" fill="#FFC5C5"/>
<rect x="98.63" y="553.02" width="6.98" height="2.57" fill="#FFBDBD"/>
<rect x="105.22" y="553.02" width="6.58" height="2.57" fill="#FF5050"/>
<rect x="32.80" y="555.19" width="6.98" height="2.57" fill="#2929FF"/>
<rect x="39.38" y="555.19" width="6.98" height="2.57" fill="#2222FF"/>
<rect x="45.97" y="555.19" width="6.98" height="2.57" fill="#9292FF"/>
<rect x="52.55" y="555.19" width="6.98" height="2.57" fill="#6060FF"/>
<rect x="59.13" y="555.19" width="6.98" height="2.57" fill="#E1E1FF"/>
<rect x="65.72" y="555.19" width="6.98" height="2.57" fill="#AEAEFF"/>
<rect x="72.30" y="555.19" width="6.98" height="2.57" fill="#FFB7B7"/>
<rect x="78.88" y="555.19" width="6.98" height="2.57" fill="#FFF9F9"/>
<rect x="85.47" y="555.19" width="6.98" height="2.57" fill="#FF0F0F"/>
<rect x="92.05" y="555.19" width="6.98" height="2.57" fill="#FF5D5D"/>
<rect x="98.63" y="555.19" width="6.98" height="2.57" fill="#FFD9D9"/>
<rect x="105.22" y="555.19" width="6.58" height="2.57" fill="#FF7A7A"/>
<rect x="32.80" y="557.36" width="6.98" height="2.57" fill="#3636FF"/>
<rect x="39.38" y="557.36" width="6.98" height="2.57" fill="#3C3CFF"/>
<rect x="45.97" y="557.36" width="6.98" height="2.57" fill="#4040FF"/>
<rect x="52.55" y="557.36" width="6.98" height="2.57" fill="#3C3CFF"/>
<rect x="59.13" y="557.36" width="6.98" height="2.57" fill="#FFF1F1"/>
<rect x="65.72" y="557.36" width="6.98" height="2.57" fill="#F0F0FF"/>
<rect x="72.30" y="557.36" width="6.98" height="2.57" fill="#FF9191"/>
<rect x="78.88" y="557.36" width="6.98" height="2.57" fill="#FFE3E3"/>
<rect x="85.47" y="557.36" width="6.98" height="2.57" fill="#FF3737"/>
<rect x="92.05" y="557.36" width="6.98" height="2.57" fill="#FF6868"/>
<rect x="98.63" y="557.36" width="6.98" height="2.57" fill="#FFD0D0"/>
<rect x="105.22" y="557.36" width="6.58" height="2.57" fill="#FF7575"/>
<rect x="32.80" y="559.53" width="6.98" height="2.57" fill="#4444FF"/>
<rect x="39.38" y="559.53" width="6.98" height="2.57" fill="#8585FF"/>
<rect x="45.97" y="559.53" width="6.98" height="2.57" fill="#3F3FFF"/>
<rect x="52.55" y="559.53" width="6.98" height="2.57" fill="#8282FF"/>
<rect x="59.13" y="559.53" width="6.98" height="2.57" fill="#FDFDFF"/>
<rect x="65.72" y="559.53" width="6.98" height="2.57" fill="#EDEDFF"/>
<rect x="72.30" y="559.53" width="6.98" height="2.57" fill="#FFBCBC"/>
<rect x="78.88" y="559.53" width="6.98" height="2.57" fill="#FFDEDE"/>
<rect x="85.47" y="559.53" width="6.98" height="2.57" fill="#FF0202"/>
<rect x="92.05" y="559.53" width="6.98" height="2.57" fill="#FF4D4D"/>
<rect x="98.63" y="559.53" width="6.98" height="2.57" fill="#FFC4C4"/>
<rect x="105.22" y="559.53" width="6.58" height="2.57" fill="#FF5151"/>
<rect x="32.80" y="561.70" width="6.98" height="2.57" fill="#4E4EFF"/>
<rect x="39.38" y="561.70" width="6.98" height="2.57" fill="#6A6AFF"/>
<rect x="45.97" y="561.70" width="6.98" height="2.57" fill="#7D7DFF"/>
<rect x="52.55" y="561.70" width="6.98" height="2.57" fill="#6565FF"/>
<rect x="59.13" y="561.70" width="6.98" height="2.57" fill="#FFBDBD"/>
<rect x="65.72" y="561.70" width="6.98" height="2.57" fill="#D1D1FF"/>
<rect x="72.30" y="561.70" width="6.98" height="2.57" fill="#FFBABA"/>
<rect x="78.88" y="561.70" width="6.98" height="2.57" fill="#FFEBEB"/>
<rect x="85.47" y="561.70" width="6.98" height="2.57" fill="#FF0000"/>
<rect x="92.05" y="561.70" width="6.98" height="2.57" fill="#FFC5C5"/>
<rect x="98.63" y="561.70" width="6.98" height="2.57" fill="#FFC0C0"/>
<rect x="105.22" y="561.70" width="6.58" height="2.57" fill="#FF7474"/>
<rect x="32.80" y="563.87" width="6.98" height="2.57" fill="#4F4FFF"/>
<rect x="39.38" y="563.87" width="6.98" height="2.57" fill="#6F6FFF"/>
<rect x="45.97" y="563.87" width="6.98" height="2.57" fill="#5E5EFF"/>
<rect x="52.55" y="563.87" width="6.98" height="2.57" fill="#9797FF"/>
<rect x="59.13" y="563.87" width="6.98" height="2.57" fill="#FFAAAA"/>
<rect x="65.72" y="563.87" width="6.98" height="2.57" fill="#DDDDFF"/>
<rect x="72.30" y="563.87" width="6.98" height="2.57" fill="#FFC7C7"/>
<rect x="78.88" y="563.87" width="6.98" height="2.57" fill="#FFBBBB"/>
<rect x="85.47" y="563.87" width="6.98" height="2.57" fill="#FF0000"/>
<rect x="92.05" y="563.87" width="6.98" height="2.57" fill="#FF5D5D"/>
<rect x="98.63" y="563.87" width="6.98" height="2.57" fill="#FF7676"/>
<rect x="105.22" y="563.87" width="6.58" height="2.57" fill="#FF6B6B"/>
<rect x="32.80" y="566.04" width="6.98" height="2.57" fill="#4545FF"/>
<rect x="39.38" y="566.04" width="6.98" height="2.57" fill="#7676FF"/>
<rect x="45.97" y="566.04" width="6.98" height="2.57" fill="#6363FF"/>
<rect x="52.55" y="566.04" width="6.98" height="2.57" fill="#7373FF"/>
<rect x="59.13" y="566.04" width="6.98" height="2.57" fill="#FFF4F4"/>
<rect x="65.72" y="566.04" width="6.98" height="2.57" fill="#C3C3FF"/>
<rect x="72.30" y="566.04" width="6.98" height="2.57" fill="#FFA3A3"/>
<rect x="78.88" y="566.04" width="6.98" height="2.57" fill="#FAFAFF"/>
<rect x="85.47" y="566.04" width="6.98" height="2.57" fill="#FF2121"/>
<rect x="92.05" y="566.04" width="6.98" height="2.57" fill="#FF5959"/>
<rect x="98.63" y="566.04" width="6.98" height="2.57" fill="#FFC6C6"/>
<rect x="105.22" y="566.04" width="6.58" height="2.57" fill="#FF3838"/>
<rect x="32.80" y="568.21" width="6.98" height="2.57" fill="#5252FF"/>
<rect x="39.38" y="568.21" width="6.98" height="2.57" fill="#3E3EFF"/>
<rect x="45.97" y="568.21" width="6.98" height="2.57" fill="#4F4FFF"/>
<rect x="52.55" y="568.21" width="6.98" height="2.57" fill="#7171FF"/>
<rect x="59.13" y="568.21" width="6.98" height="2.57" fill="#FCFCFF"/>
<rect x="65.72" y="568.21" width="6.98" height="2.57" fill="#DFDFFF"/>
<rect x="72.30" y="568.21" width="6.98" height="2.57" fill="#FF9494"/>
<rect x="78.88" y="568.21" width="6.98" height="2.57" fill="#FFF7F7"/>
<rect x="85.47" y="568.21" width="6.98" height="2.57" fill="#FF8181"/>
<rect x="92.05" y="568.21" width="6.98" height="2.57" fill="#FF6464"/>
<rect x="98.63" y="568.21" width="6.98" height="2.57" fill="#FF8888"/>
<rect x="105.22" y="568.21" width="6.58" height="2.57" fill="#FF2121"/>
<rect x="32.80" y="570.38" width="6.98" height="2.57" fill="#4242FF"/>
<rect x="39.38" y="570.38" width="6.98" height="2.57" fill="#7070FF"/>
<rect x="45.97" y="570.38" width="6.98" height="2.57" fill="#7C7CFF"/>
<rect x="52.55" y="570.38" width="6.98" height="2.57" fill="#5252FF"/>
<rect x="59.13" y="570.38" width="6.98" height="2.57" fill="#FFDCDC"/>
<rect x="65.72" y="570.38" width="6.98" height="2.57" fill="#FBFBFF"/>
<rect x="72.30" y="570.38" width="6.98" height="2.57" fill="#FFABAB"/>
<rect x="78.88" y="570.38" width="6.98" height="2.57" fill="#FFB5B5"/>
<rect x="85.47" y="570.38" width="6.98" height="2.57" fill="#FF6262"/>
<rect x="92.05" y="570.38" width="6.98" height="2.57" fill="#FF8787"/>
<rect x="98.63" y="570.38" width="6.98" height="2.57" fill="#FFBBBB"/>
<rect x="105.22" y="570.38" width="6.58" height="2.57" fill="#FF2F2F"/>
<rect x="32.80" y="572.55" width="6.98" height="2.57" fill="#5757FF"/>
<rect x="39.38" y="572.55" width="6.98" height="2.57" fill="#4040FF"/>
<rect x="45.97" y="572.55" width="6.98" height="2.57" fill="#CFCFFF"/>
<rect x="52.55" y="572.55" width="6.98" height="2.57" fill="#4A4AFF"/>
<rect x="59.13" y="572.55" width="6.98" height="2.57" fill="#E9E9FF"/>
<rect x="65.72" y="572.55" width="6.98" height="2.57" fill="#FEFEFF"/>
<rect x="72.30" y="572.55" width="6.98" height="2.57" fill="#FF9999"/>
<rect x="78.88" y="572.55" width="6.98" height="2.57" fill="#FFE8E8"/>
<rect x="85.47" y="572.55" width="6.98" height="2.57" fill="#FF4141"/>
<rect x="92.05" y="572.55" width="6.98" height="2.57" fill="#FF6B6B"/>
<rect x="98.63" y="572.55" width="6.98" height="2.57" fill="#FFC1C1"/>
<rect x="105.22" y="572.55" width="6.58" height="2.57" fill="#FF3737"/>
<rect x="32.80" y="574.72" width="6.98" height="2.57" fill="#8787FF"/>
<rect x="39.38" y="574.72" width="6.98" height="2.57" fill="#3A3AFF"/>
<rect x="45.97" y="574.72" width="6.98" height="2.57" fill="#4141FF"/>
<rect x="52.55" y="574.72" width="6.98" height="2.57" fill="#6262FF"/>
<rect x="59.13" y="574.72" width="6.98" height="2.57" fill="#FBFBFF"/>
<rect x="65.72" y="574.72" width="6.98" height="2.57" fill="#BABAFF"/>
<rect x="72.30" y="574.72" width="6.98" height="2.57" fill="#FFC1C1"/>
<rect x="78.88" y="574.72" width="6.98" height="2.57" fill="#FFEFEF"/>
<rect x="85.47" y="574.72" width="6.98" height="2.57" fill="#FFCBCB"/>
<rect x="92.05" y="574.72" width="6.98" height="2.57" fill="#FF7676"/>
<rect x="98.63" y="574.72" width="6.98" height="2.57" fill="#FF9A9A"/>
<rect x="105.22" y="574.72" width="6.58" height="2.57" fill="#FF4646"/>
<rect x="32.80" y="576.89" width="6.98" height="2.57" fill="#3737FF"/>
<rect x="39.38" y="576.89" width="6.98" height="2.57" fill="#5D5DFF"/>
<rect x="45.97" y="576.89" width="6.98" height="2.57" fill="#DEDEFF"/>
<rect x="52.55" y="576.89" width="6.98" height="2.57" fill="#2E2EFF"/>
<rect x="59.13" y="576.89" width="6.98" height="2.57" fill="#FFB3B3"/>
<rect x="65.72" y="576.89" width="6.98" height="2.57" fill="#E1E1FF"/>
<rect x="72.30" y="576.89" width="6.98" height="2.57" fill="#FFAEAE"/>
<rect x="78.88" y="576.89" width="6.98" height="2.57" fill="#FFF3F3"/>
<rect x="85.47" y="576.89" width="6.98" height="2.57" fill="#FF7575"/>
<rect x="92.05" y="576.89" width="6.98" height="2.57" fill="#FF8282"/>
<rect x="98.63" y="576.89" width="6.98" height="2.57" fill="#FFB9B9"/>
<rect x="105.22" y="576.89" width="6.58" height="2.57" fill="#FF4C4C"/>
<rect x="32.80" y="579.05" width="6.98" height="2.57" fill="#2727FF"/>
<rect x="39.38" y="579.05" width="6.98" height="2.57" fill="#5E5EFF"/>
<rect x="45.97" y="579.05" width="6.98" height="2.57" fill="#8181FF"/>
<rect x="52.55" y="579.05" width="6.98" height="2.57" fill="#4141FF"/>
<rect x="59.13" y="579.05" width="6.98" height="2.57" fill="#FFD3D3"/>
<rect x="65.72" y="579.05" width="6.98" height="2.57" fill="#BDBDFF"/>
<rect x="72.30" y="579.05" width="6.98" height="2.57" fill="#FFA0A0"/>
<rect x="78.88" y="579.05" width="6.98" height="2.57" fill="#FFD4D4"/>
<rect x="85.47" y="579.05" width="6.98" height="2.57" fill="#FF5A5A"/>
<rect x="92.05" y="579.05" width="6.98" height="2.57" fill="#FF4141"/>
<rect x="98.63" y="579.05" width="6.98" height="2.57" fill="#FF9F9F"/>
<rect x="105.22" y="579.05" width="6.58" height="2.57" fill="#FF2C2C"/>
<rect x="32.80" y="581.22" width="6.98" height="2.57" fill="#4343FF"/>
<rect x="39.38" y="581.22" width="6.98" height="2.57" fill="#3434FF"/>
<rect x="45.97" y="581.22" width="6.98" height="2.57" fill="#5757FF"/>
<rect x="52.55" y="581.22" width="6.98" height="2.57" fill="#5F5FFF"/>
<rect x="59.13" y="581.22" width="6.98" height="2.57" fill="#FFECEC"/>
<rect x="65.72" y="581.22" width="6.98" height="2.57" fill="#A6A6FF"/>
<rect x="72.30" y="581.22" width="6.98" height="2.57" fill="#FF9797"/>
<rect x="78.88" y="581.22" width="6.98" height="2.57" fill="#FFEDED"/>
<rect x="85.47" y="581.22" width="6.98" height="2.57" fill="#FF4646"/>
<rect x="92.05" y="581.22" width="6.98" height="2.57" fill="#FF7171"/>
<rect x="98.63" y="581.22" width="6.98" height="2.57" fill="#FF9999"/>
<rect x="105.22" y="581.22" width="6.58" height="2.57" fill="#FF3B3B"/>
<rect x="32.80" y="583.39" width="6.98" height="2.57" fill="#6666FF"/>
<rect x="39.38" y="583.39" width="6.98" height="2.57" fill="#8484FF"/>
<rect x="45.97" y="583.39" width="6.98" height="2.57" fill="#D7D7FF"/>
<rect x="52.55" y="583.39" width="6.98" height="2.57" fill="#6666FF"/>
<rect x="59.13" y="583.39" width="6.98" height="2.57" fill="#FFE0E0"/>
<rect x="65.72" y="583.39" width="6.98" height="2.57" fill="#EEEEFF"/>
<rect x="72.30" y="583.39" width="6.98" height="2.57" fill="#FFA9A9"/>
<rect x="78.88" y="583.39" width="6.98" height="2.57" fill="#FFB4B4"/>
<rect x="85.47" y="583.39" width="6.98" height="2.57" fill="#FF9797"/>
<rect x="92.05" y="583.39" width="6.98" height="2.57" fill="#FF0808"/>
<rect x="98.63" y="583.39" width="6.98" height="2.57" fill="#FF9393"/>
<rect x="105.22" y="583.39" width="6.58" height="2.57" fill="#FF6262"/>
<rect x="32.80" y="585.56" width="6.98" height="2.57" fill="#1111FF"/>
<rect x="39.38" y="585.56" width="6.98" height="2.57" fill="#3A3AFF"/>
<rect x="45.97" y="585.56" width="6.98" height="2.57" fill="#8686FF"/>
<rect x="52.55" y="585.56" width="6.98" height="2.57" fill="#5858FF"/>
<rect x="59.13" y="585.56" width="6.98" height="2.57" fill="#FFF0F0"/>
<rect x="65.72" y="585.56" width="6.98" height="2.57" fill="#DDDDFF"/>
<rect x="72.30" y="585.56" width="6.98" height="2.57" fill="#FFA1A1"/>
<rect x="78.88" y="585.56" width="6.98" height="2.57" fill="#FF9090"/>
<rect x="85.47" y="585.56" width="6.98" height="2.57" fill="#FF7575"/>
<rect x="92.05" y="585.56" width="6.98" height="2.57" fill="#FF1F1F"/>
<rect x="98.63" y="585.56" width="6.98" height="2.57" fill="#FF7474"/>
<rect x="105.22" y="585.56" width="6.58" height="2.57" fill="#FF5A5A"/>
<rect x="32.80" y="587.73" width="6.98" height="2.57" fill="#4E4EFF"/>
<rect x="39.38" y="587.73" width="6.98" height="2.57" fill="#9696FF"/>
<rect x="45.97" y="587.73" width="6.98" height="2.57" fill="#7B7BFF"/>
<rect x="52.55" y="587.73" width="6.98" height="2.57" fill="#5D5DFF"/>
<rect x="59.13" y="587.73" width="6.98" height="2.57" fill="#FAFAFF"/>
<rect x="65.72" y="587.73" width="6.98" height="2.57" fill="#F3F3FF"/>
<rect x="72.30" y="587.73" width="6.98" height="2.57" fill="#FFBFBF"/>
<rect x="78.88" y="587.73" width="6.98" height="2.57" fill="#FFE4E4"/>
<rect x="85.47" y="587.73" width="6.98" height="2.57" fill="#FF8D8D"/>
<rect x="92.05" y="587.73" width="6.98" height="2.57" fill="#FF1D1D"/>
<rect x="98.63" y="587.73" width="6.98" height="2.57" fill="#FF9494"/>
<rect x="105.22" y="587.73" width="6.58" height="2.57" fill="#FF4848"/>
<rect x="32.80" y="589.90" width="6.98" height="2.57" fill="#6161FF"/>
<rect x="39.38" y="589.90" width="6.98" height="2.57" fill="#5353FF"/>
<rect x="45.97" y="589.90" width="6.98" height="2.57" fill="#8080FF"/>
<rect x="52.55" y="589.90" width="6.98" height="2.57" fill="#5B5BFF"/>
<rect x="59.13" y="589.90" width="6.98" height="2.57" fill="#FEFEFF"/>
<rect x="65.72" y="589.90" width="6.98" height="2.57" fill="#C0C0FF"/>
<rect x="72.30" y="589.90" width="6.98" height="2.57" fill="#FFA4A4"/>
<rect x="78.88" y="589.90" width="6.98" height="2.57" fill="#FCFCFF"/>
<rect x="85.47" y="589.90" width="6.98" height="2.57" fill="#FF9B9B"/>
<rect x="92.05" y="589.90" width="6.98" height="2.57" fill="#FF4343"/>
<rect x="98.63" y="589.90" width="6.98" height="2.57" fill="#FFA8A8"/>
<rect x="105.22" y="589.90" width="6.58" height="2.57" fill="#FF5555"/>
<rect x="32.80" y="592.07" width="6.98" height="2.57" fill="#A6A6FF"/>
<rect x="39.38" y="592.07" width="6.98" height="2.57" fill="#8A8AFF"/>
<rect x="45.97" y="592.07" width="6.98" height="2.57" fill="#C5C5FF"/>
<rect x="52.55" y="592.07" width="6.98" height="2.57" fill="#BDBDFF"/>
<rect x="59.13" y="592.07" width="6.98" height="2.57" fill="#F9F9FF"/>
<rect x="65.72" y="592.07" width="6.98" height="2.57" fill="#D3D3FF"/>
<rect x="72.30" y="592.07" width="6.98" height="2.57" fill="#FF6666"/>
<rect x="78.88" y="592.07" width="6.98" height="2.57" fill="#9999FF"/>
<rect x="85.47" y="592.07" width="6.98" height="2.57" fill="#B2B2FF"/>
<rect x="92.05" y="592.07" width="6.98" height="2.57" fill="#FF3333"/>
<rect x="98.63" y="592.07" width="6.98" height="2.57" fill="#FFCCCC"/>
<rect x="105.22" y="592.07" width="6.58" height="2.57" fill="#FF0808"/>
<rect x="32.80" y="594.24" width="6.98" height="2.57" fill="#9A9AFF"/>
<rect x="39.38" y="594.24" width="6.98" height="2.57" fill="#8484FF"/>
<rect x="45.97" y="594.24" width="6.98" height="2.57" fill="#9E9EFF"/>
<rect x="52.55" y="594.24" width="6.98" height="2.57" fill="#B1B1FF"/>
<rect x="59.13" y="594.24" width="6.98" height="2.57" fill="#FFE8E8"/>
<rect x="65.72" y="594.24" width="6.98" height="2.57" fill="#D8D8FF"/>
<rect x="72.30" y="594.24" width="6.98" height="2.57" fill="#FFB2B2"/>
<rect x="78.88" y="594.24" width="6.98" height="2.57" fill="#9999FF"/>
<rect x="85.47" y="594.24" width="6.98" height="2.57" fill="#FFA8A8"/>
<rect x="92.05" y="594.24" width="6.98" height="2.57" fill="#FF3333"/>
<rect x="98.63" y="594.24" width="6.98" height="2.57" fill="#A6A6FF"/>
<rect x="105.22" y="594.24" width="6.58" height="2.57" fill="#FF0E0E"/>
<rect x="32.80" y="596.41" width="6.98" height="2.57" fill="#D4D4FF"/>
<rect x="39.38" y="596.41" width="6.98" height="2.57" fill="#9494FF"/>
<rect x="45.97" y="596.41" width="6.98" height="2.57" fill="#7D7DFF"/>
<rect x="52.55" y="596.41" width="6.98" height="2.57" fill="#BDBDFF"/>
<rect x="59.13" y="596.41" width="6.98" height="2.57" fill="#FFFFFF"/>
<rect x="65.72" y="596.41" width="6.98" height="2.57" fill="#B1B1FF"/>
<rect x="72.30" y="596.41" width="6.98" height="2.57" fill="#ECECFF"/>
<rect x="78.88" y="596.41" width="6.98" height="2.57" fill="#FFFFFF"/>
<rect x="85.47" y="596.41" width="6.98" height="2.57" fill="#FF9797"/>
<rect x="92.05" y="596.41" width="6.98" height="2.57" fill="#FF4D4D"/>
<rect x="98.63" y="596.41" width="6.98" height="2.57" fill="#F9F9FF"/>
<rect x="105.22" y="596.41" width="6.58" height="2.57" fill="#FF0000"/>
<rect x="32.80" y="598.58" width="6.98" height="2.57" fill="#D4D4FF"/>
<rect x="39.38" y="598.58" width="6.98" height="2.57" fill="#AAAAFF"/>
<rect x="45.97" y="598.58" width="6.98" height="2.57" fill="#AAAAFF"/>
<rect x="52.55" y="598.58" width="6.98" height="2.57" fill="#9090FF"/>
<rect x="59.13" y="598.58" width="6.98" height="2.57" fill="#D8D8FF"/>
<rect x="65.72" y="598.58" width="6.98" height="2.57" fill="#9C9CFF"/>
<rect x="72.30" y="598.58" width="6.98" height="2.57" fill="#F4F4FF"/>
<rect x="78.88" y="598.58" width="6.98" height="2.57" fill="#CDCDFF"/>
<rect x="85.47" y="598.58" width="6.98" height="2.57" fill="#FF5959"/>
<rect x="92.05" y="598.58" width="6.98" height="2.57" fill="#F7F7FF"/>
<rect x="98.63" y="598.58" width="6.98" height="2.57" fill="#FFF4F4"/>
<rect x="105.22" y="598.58" width="6.58" height="2.57" fill="#FF0C0C"/>
<rect x="32.80" y="600.75" width="6.98" height="2.57" fill="#9F9FFF"/>
<rect x="39.38" y="600.75" width="6.98" height="2.57" fill="#D7D7FF"/>
<rect x="45.97" y="600.75" width="6.98" height="2.57" fill="#D2D2FF"/>
<rect x="52.55" y="600.75" width="6.98" height="2.57" fill="#C4C4FF"/>
<rect x="59.13" y="600.75" width="6.98" height="2.57" fill="#FFF9F9"/>
<rect x="65.72" y="600.75" width="6.98" height="2.57" fill="#B1B1FF"/>
<rect x="72.30" y="600.75" width="6.98" height="2.57" fill="#D7D7FF"/>
<rect x="78.88" y="600.75" width="6.98" height="2.57" fill="#B7B7FF"/>
<rect x="85.47" y="600.75" width="6.98" height="2.57" fill="#FF0000"/>
<rect x="92.05" y="600.75" width="6.98" height="2.57" fill="#F0F0FF"/>
<rect x="98.63" y="600.75" width="6.98" height="2.57" fill="#E7E7FF"/>
<rect x="105.22" y="600.75" width="6.58" height="2.57" fill="#FF0000"/>
<rect x="32.80" y="602.92" width="6.98" height="2.57" fill="#9696FF"/>
<rect x="39.38" y="602.92" width="6.98" height="2.57" fill="#DEDEFF"/>
<rect x="45.97" y="602.92" width="6.98" height="2.57" fill="#9494FF"/>
<rect x="52.55" y="602.92" width="6.98" height="2.57" fill="#C0C0FF"/>
<rect x="59.13" y="602.92" width="6.98" height="2.57" fill="#BEBEFF"/>
<rect x="65.72" y="602.92" width="6.98" height="2.57" fill="#C9C9FF"/>
<rect x="72.30" y="602.92" width="6.98" height="2.57" fill="#FFE3E3"/>
<rect x="78.88" y="602.92" width="6.98" height="2.57" fill="#D9D9FF"/>
<rect x="85.47" y="602.92" width="6.98" height="2.57" fill="#FF1414"/>
<rect x="92.05" y="602.92" width="6.98" height="2.57" fill="#A6A6FF"/>
<rect x="98.63" y="602.92" width="6.98" height="2.57" fill="#FFF5F5"/>
<rect x="105.22" y="602.92" width="6.58" height="2.57" fill="#FF0000"/>
<rect x="32.80" y="605.08" width="6.98" height="2.57" fill="#8B8BFF"/>
<rect x="39.38" y="605.08" width="6.98" height="2.57" fill="#7878FF"/>
<rect x="45.97" y="605.08" width="6.98" height="2.57" fill="#C0C0FF"/>
<rect x="52.55" y="605.08" width="6.98" height="2.57" fill="#6D6DFF"/>
<rect x="59.13" y="605.08" width="6.98" height="2.57" fill="#E1E1FF"/>
<rect x="65.72" y="605.08" width="6.98" height="2.57" fill="#B4B4FF"/>
<rect x="72.30" y="605.08" width="6.98" height="2.57" fill="#FF1919"/>
<rect x="78.88" y="605.08" width="6.98" height="2.57" fill="#E8E8FF"/>
<rect x="85.47" y="605.08" width="6.98" height="2.57" fill="#FF0606"/>
<rect x="92.05" y="605.08" width="6.98" height="2.57" fill="#E8E8FF"/>
<rect x="98.63" y="605.08" width="6.98" height="2.57" fill="#CACAFF"/>
<rect x="105.22" y="605.08" width="6.58" height="2.57" fill="#FFA6A6"/>
<rect x="32.80" y="607.25" width="6.98" height="2.57" fill="#C6C6FF"/>
<rect x="39.38" y="607.25" width="6.98" height="2.57" fill="#B1B1FF"/>
<rect x="45.97" y="607.25" width="6.98" height="2.57" fill="#C0C0FF"/>
<rect x="52.55" y="607.25" width="6.98" height="2.57" fill="#B4B4FF"/>
<rect x="59.13" y="607.25" width="6.98" height="2.57" fill="#D3D3FF"/>
<rect x="65.72" y="607.25" width="6.98" height="2.57" fill="#C1C1FF"/>
<rect x="72.30" y="607.25" width="6.98" height="2.57" fill="#FFB2B2"/>
<rect x="78.88" y="607.25" width="6.98" height="2.57" fill="#EDEDFF"/>
<rect x="85.47" y="607.25" width="6.98" height="2.57" fill="#FF1D1D"/>
<rect x="92.05" y="607.25" width="6.98" height="2.57" fill="#FFDADA"/>
<rect x="98.63" y="607.25" width="6.98" height="2.57" fill="#FFF1F1"/>
<rect x="105.22" y="607.25" width="6.58" height="2.57" fill="#FF0101"/>
<rect x="32.80" y="609.42" width="6.98" height="2.57" fill="#A6A6FF"/>
<rect x="39.38" y="609.42" width="6.98" height="2.57" fill="#B7B7FF"/>
<rect x="45.97" y="609.42" width="6.98" height="2.57" fill="#9D9DFF"/>
<rect x="52.55" y="609.42" width="6.98" height="2.57" fill="#D3D3FF"/>
<rect x="59.13" y="609.42" width="6.98" height="2.57" fill="#DBDBFF"/>
<rect x="65.72" y="609.42" width="6.98" height="2.57" fill="#B0B0FF"/>
<rect x="72.30" y="609.42" width="6.98" height="2.57" fill="#FF6666"/>
<rect x="78.88" y="609.42" width="6.98" height="2.57" fill="#A3A3FF"/>
<rect x="85.47" y="609.42" width="6.98" height="2.57" fill="#FF0202"/>
<rect x="92.05" y="609.42" width="6.98" height="2.57" fill="#F8F8FF"/>
<rect x="98.63" y="609.42" width="6.98" height="2.57" fill="#FFB2B2"/>
<rect x="105.22" y="609.42" width="6.58" height="2.57" fill="#FF0000"/>
<rect x="32.80" y="611.59" width="6.98" height="2.57" fill="#D8D8FF"/>
<rect x="39.38" y="611.59" width="6.98" height="2.57" fill="#AFAFFF"/>
<rect x="45.97" y="611.59" width="6.98" height="2.57" fill="#8989FF"/>
<rect x="52.55" y="611.59" width="6.98" height="2.57" fill="#9696FF"/>
<rect x="59.13" y="611.59" width="6.98" height="2.57" fill="#CECEFF"/>
<rect x="65.72" y="611.59" width="6.98" height="2.57" fill="#B1B1FF"/>
<rect x="72.30" y="611.59" width="6.98" height="2.57" fill="#FFF6F6"/>
<rect x="78.88" y="611.59" width="6.98" height="2.57" fill="#A6A6FF"/>
<rect x="85.47" y="611.59" width="6.98" height="2.57" fill="#FF8C8C"/>
<rect x="92.05" y="611.59" width="6.98" height="2.57" fill="#FFB2B2"/>
<rect x="98.63" y="611.59" width="6.98" height="2.57" fill="#FFBABA"/>
<rect x="105.22" y="611.59" width="6.58" height="2.57" fill="#FF1212"/>
<rect x="32.80" y="613.76" width="6.98" height="2.57" fill="#B9B9FF"/>
<rect x="39.38" y="613.76" width="6.98" height="2.57" fill="#A8A8FF"/>
<rect x="45.97" y="613.76" width="6.98" height="2.57" fill="#9C9CFF"/>
<rect x="52.55" y="613.76" width="6.98" height="2.57" fill="#ADADFF"/>
<rect x="59.13" y="613.76" width="6.98" height="2.57" fill="#FFF8F8"/>
<rect x="65.72" y="613.76" width="6.98" height="2.57" fill="#F2F2FF"/>
<rect x="72.30" y="613.76" width="6.98" height="2.57" fill="#FF9999"/>
<rect x="78.88" y="613.76" width="6.98" height="2.57" fill="#C7C7FF"/>
<rect x="85.47" y="613.76" width="6.98" height="2.57" fill="#FFE2E2"/>
<rect x="92.05" y="613.76" width="6.98" height="2.57" fill="#FFB2B2"/>
<rect x="98.63" y="613.76" width="6.98" height="2.57" fill="#FFE1E1"/>
<rect x="105.22" y="613.76" width="6.58" height="2.57" fill="#FF0000"/>
<rect x="32.80" y="615.93" width="6.98" height="2.17" fill="#9F9FFF"/>
<rect x="39.38" y="615.93" width="6.98" height="2.17" fill="#A5A5FF"/>
<rect x="45.97" y="615.93" width="6.98" height="2.17" fill="#8E8EFF"/>
<rect x="52.55" y="615.93" width="6.98" height="2.17" fill="#DFDFFF"/>
<rect x="59.13" y="615.93" width="6.98" height="2.17" fill="#CECEFF"/>
<rect x="65.72" y="615.93" width="6.98" height="2.17" fill="#AFAFFF"/>
<rect x="72.30" y="615.93" width="6.98" height="2.17" fill="#FF8080"/>
<rect x="78.88" y="615.93" width="6.98" height="2.17" fill="#FFB2B2"/>
<rect x="85.47" y="615.93" width="6.98" height="2.17" fill="#FF3434"/>
<rect x="92.05" y="615.93" width="6.98" height="2.17" fill="#FFA6A6"/>
<rect x="98.63" y="615.93" width="6.98" height="2.17" fill="#FF9999"/>
<rect x="105.22" y="615.93" width="6.58" height="2.17" fill="#FF6666"/>
</g>
<g transform="translate(113.10 273.20) scale(0.1)" font-size="21" fill="#2A2A2A" font-weight="bold" text-rendering="geometricPrecision">
<text transform="translate(0 18) rotate(0.4)">CD44</text>
<text transform="translate(0 40) rotate(0.4)">COL5A1</text>
<text transform="translate(0 62) rotate(0.4)">EFNB2</text>
<text transform="translate(0 83) rotate(0.4)">FBN1</text>
<text transform="translate(0 105) rotate(0.4)">HGF</text>
<text transform="translate(0 127) rotate(0.4)">ITGB1</text>
<text transform="translate(0 149) rotate(0.4)">LGALS1</text>
<text transform="translate(0 170) rotate(0.4)">NRP1</text>
<text transform="translate(0 192) rotate(0.4)">PLXND1</text>
<text transform="translate(0 214) rotate(0.4)">SELP</text>
<text transform="translate(0 235) rotate(0.4)">SPARC</text>
<text transform="translate(0 257) rotate(0.4)">THY1</text>
<text transform="translate(0 279) rotate(0.4)">VEGFC</text>
<text transform="translate(0 300) rotate(0.4)">ACVRL1</text>
<text transform="translate(0 322) rotate(0.4)">COL6A1</text>
<text transform="translate(0 344) rotate(0.4)">LAMA2</text>
<text transform="translate(0 365) rotate(0.4)">SOX17</text>
<text transform="translate(0 387) rotate(0.4)">MFAP5</text>
<text transform="translate(0 409) rotate(0.4)">AXL</text>
<text transform="translate(0 431) rotate(0.4)">CD44</text>
<text transform="translate(0 452) rotate(0.4)">COL5A1</text>
<text transform="translate(0 474) rotate(0.4)">EFNB2</text>
<text transform="translate(0 496) rotate(0.4)">FBN1</text>
<text transform="translate(0 517) rotate(0.4)">HGF</text>
<text transform="translate(0 539) rotate(0.4)">ITGB1</text>
<text transform="translate(0 561) rotate(0.4)">LGALS1</text>
<text transform="translate(0 582) rotate(0.4)">NRP1</text>
<text transform="translate(0 604) rotate(0.4)">PLXND1</text>
<text transform="translate(0 626) rotate(0.4)">SELP</text>
<text transform="translate(0 647) rotate(0.4)">SPARC</text>
<text transform="translate(0 669) rotate(0.4)">THY1</text>
<text transform="translate(0 691) rotate(0.4)">VEGFC</text>
<text transform="translate(0 713) rotate(0.4)">ACVRL1</text>
<text transform="translate(0 734) rotate(0.4)">COL6A1</text>
<text transform="translate(0 756) rotate(0.4)">LAMA2</text>
<text transform="translate(0 778) rotate(0.4)">SOX17</text>
<text transform="translate(0 799) rotate(0.4)">MFAP5</text>
<text transform="translate(0 821) rotate(0.4)">AXL</text>
<text transform="translate(0 843) rotate(0.4)">CD44</text>
<text transform="translate(0 864) rotate(0.4)">COL5A1</text>
<text transform="translate(0 886) rotate(0.4)">EFNB2</text>
<text transform="translate(0 908) rotate(0.4)">FBN1</text>
<text transform="translate(0 929) rotate(0.4)">HGF</text>
<text transform="translate(0 951) rotate(0.4)">ITGB1</text>
<text transform="translate(0 973) rotate(0.4)">LGALS1</text>
<text transform="translate(0 995) rotate(0.4)">NRP1</text>
<text transform="translate(0 1016) rotate(0.4)">PLXND1</text>
<text transform="translate(0 1038) rotate(0.4)">SELP</text>
<text transform="translate(0 1060) rotate(0.4)">SPARC</text>
<text transform="translate(0 1081) rotate(0.4)">THY1</text>
<text transform="translate(0 1103) rotate(0.4)">VEGFC</text>
<text transform="translate(0 1125) rotate(0.4)">ACVRL1</text>
<text transform="translate(0 1146) rotate(0.4)">COL6A1</text>
<text transform="translate(0 1168) rotate(0.4)">LAMA2</text>
<text transform="translate(0 1190) rotate(0.4)">SOX17</text>
<text transform="translate(0 1211) rotate(0.4)">MFAP5</text>
<text transform="translate(0 1233) rotate(0.4)">AXL</text>
<text transform="translate(0 1255) rotate(0.4)">CD44</text>
<text transform="translate(0 1277) rotate(0.4)">COL5A1</text>
<text transform="translate(0 1298) rotate(0.4)">EFNB2</text>
<text transform="translate(0 1320) rotate(0.4)">FBN1</text>
<text transform="translate(0 1342) rotate(0.4)">HGF</text>
<text transform="translate(0 1363) rotate(0.4)">ITGB1</text>
<text transform="translate(0 1385) rotate(0.4)">LGALS1</text>
<text transform="translate(0 1407) rotate(0.4)">NRP1</text>
<text transform="translate(0 1428) rotate(0.4)">PLXND1</text>
<text transform="translate(0 1450) rotate(0.4)">SELP</text>
<text transform="translate(0 1472) rotate(0.4)">SPARC</text>
<text transform="translate(0 1493) rotate(0.4)">THY1</text>
<text transform="translate(0 1515) rotate(0.4)">VEGFC</text>
<text transform="translate(0 1537) rotate(0.4)">ACVRL1</text>
<text transform="translate(0 1559) rotate(0.4)">COL6A1</text>
<text transform="translate(0 1580) rotate(0.4)">LAMA2</text>
<text transform="translate(0 1602) rotate(0.4)">SOX17</text>
<text transform="translate(0 1624) rotate(0.4)">MFAP5</text>
<text transform="translate(0 1645) rotate(0.4)">AXL</text>
<text transform="translate(0 1667) rotate(0.4)">CD44</text>
<text transform="translate(0 1689) rotate(0.4)">COL5A1</text>
<text transform="translate(0 1710) rotate(0.4)">EFNB2</text>
<text transform="translate(0 1732) rotate(0.4)">FBN1</text>
<text transform="translate(0 1754) rotate(0.4)">HGF</text>
<text transform="translate(0 1775) rotate(0.4)">ITGB1</text>
<text transform="translate(0 1797) rotate(0.4)">LGALS1</text>
<text transform="translate(0 1819) rotate(0.4)">NRP1</text>
<text transform="translate(0 1841) rotate(0.4)">PLXND1</text>
<text transform="translate(0 1862) rotate(0.4)">SELP</text>
<text transform="translate(0 1884) rotate(0.4)">SPARC</text>
<text transform="translate(0 1906) rotate(0.4)">THY1</text>
<text transform="translate(0 1927) rotate(0.4)">VEGFC</text>
<text transform="translate(0 1949) rotate(0.4)">ACVRL1</text>
<text transform="translate(0 1971) rotate(0.4)">COL6A1</text>
<text transform="translate(0 1992) rotate(0.4)">LAMA2</text>
<text transform="translate(0 2014) rotate(0.4)">SOX17</text>
<text transform="translate(0 2036) rotate(0.4)">MFAP5</text>
<text transform="translate(0 2057) rotate(0.4)">AXL</text>
<text transform="translate(0 2079) rotate(0.4)">CD44</text>
<text transform="translate(0 2101) rotate(0.4)">COL5A1</text>
<text transform="translate(0 2123) rotate(0.4)">EFNB2</text>
<text transform="translate(0 2144) rotate(0.4)">FBN1</text>
<text transform="translate(0 2166) rotate(0.4)">HGF</text>
<text transform="translate(0 2188) rotate(0.4)">ITGB1</text>
<text transform="translate(0 2209) rotate(0.4)">LGALS1</text>
<text transform="translate(0 2231) rotate(0.4)">NRP1</text>
<text transform="translate(0 2253) rotate(0.4)">PLXND1</text>
<text transform="translate(0 2274) rotate(0.4)">SELP</text>
<text transform="translate(0 2296) rotate(0.4)">SPARC</text>
<text transform="translate(0 2318) rotate(0.4)">THY1</text>
<text transform="translate(0 2339) rotate(0.4)">VEGFC</text>
<text transform="translate(0 2361) rotate(0.4)">ACVRL1</text>
<text transform="translate(0 2383) rotate(0.4)">COL6A1</text>
<text transform="translate(0 2405) rotate(0.4)">LAMA2</text>
<text transform="translate(0 2426) rotate(0.4)">SOX17</text>
<text transform="translate(0 2448) rotate(0.4)">MFAP5</text>
<text transform="translate(0 2470) rotate(0.4)">AXL</text>
<text transform="translate(0 2491) rotate(0.4)">CD44</text>
<text transform="translate(0 2513) rotate(0.4)">COL5A1</text>
<text transform="translate(0 2535) rotate(0.4)">EFNB2</text>
<text transform="translate(0 2556) rotate(0.4)">FBN1</text>
<text transform="translate(0 2578) rotate(0.4)">HGF</text>
<text transform="translate(0 2600) rotate(0.4)">ITGB1</text>
<text transform="translate(0 2621) rotate(0.4)">LGALS1</text>
<text transform="translate(0 2643) rotate(0.4)">NRP1</text>
<text transform="translate(0 2665) rotate(0.4)">PLXND1</text>
<text transform="translate(0 2687) rotate(0.4)">SELP</text>
<text transform="translate(0 2708) rotate(0.4)">SPARC</text>
<text transform="translate(0 2730) rotate(0.4)">THY1</text>
<text transform="translate(0 2752) rotate(0.4)">VEGFC</text>
<text transform="translate(0 2773) rotate(0.4)">ACVRL1</text>
<text transform="translate(0 2795) rotate(0.4)">COL6A1</text>
<text transform="translate(0 2817) rotate(0.4)">LAMA2</text>
<text transform="translate(0 2838) rotate(0.4)">SOX17</text>
<text transform="translate(0 2860) rotate(0.4)">MFAP5</text>
<text transform="translate(0 2882) rotate(0.4)">AXL</text>
<text transform="translate(0 2903) rotate(0.4)">CD44</text>
<text transform="translate(0 2925) rotate(0.4)">COL5A1</text>
<text transform="translate(0 2947) rotate(0.4)">EFNB2</text>
<text transform="translate(0 2968) rotate(0.4)">FBN1</text>
<text transform="translate(0 2990) rotate(0.4)">HGF</text>
<text transform="translate(0 3012) rotate(0.4)">ITGB1</text>
<text transform="translate(0 3034) rotate(0.4)">LGALS1</text>
<text transform="translate(0 3055) rotate(0.4)">NRP1</text>
<text transform="translate(0 3077) rotate(0.4)">PLXND1</text>
<text transform="translate(0 3099) rotate(0.4)">SELP</text>
<text transform="translate(0 3120) rotate(0.4)">SPARC</text>
<text transform="translate(0 3142) rotate(0.4)">THY1</text>
<text transform="translate(0 3164) rotate(0.4)">VEGFC</text>
<text transform="translate(0 3185) rotate(0.4)">ACVRL1</text>
<text transform="translate(0 3207) rotate(0.4)">COL6A1</text>
<text transform="translate(0 3229) rotate(0.4)">LAMA2</text>
<text transform="translate(0 3250) rotate(0.4)">SOX17</text>
<text transform="translate(0 3272) rotate(0.4)">MFAP5</text>
<text transform="translate(0 3294) rotate(0.4)">AXL</text>
<text transform="translate(0 3316) rotate(0.4)">CD44</text>
<text transform="translate(0 3337) rotate(0.4)">COL5A1</text>
<text transform="translate(0 3359) rotate(0.4)">EFNB2</text>
<text transform="translate(0 3381) rotate(0.4)">FBN1</text>
<text transform="translate(0 3402) rotate(0.4)">HGF</text>
<text transform="translate(0 3424) rotate(0.4)">ITGB1</text>
<text transform="translate(0 3446) rotate(0.4)">LGALS1</text>
</g>
<path d="M32.5 274.3H26.7M32.5 276.5H26.7M26.7 274.3V276.5M32.5 278.6H28.7M32.5 280.8H28.7M28.7 278.6V280.8M26.7 275.4H20.6M28.7 279.7H20.6M20.6 275.4V279.7M32.5 283.0H27.8M32.5 285.1H27.8M27.8 283.0V285.1M32.5 287.3H27.2M32.5 289.5H27.2M27.2 287.3V289.5M32.5 291.6H28.6M32.5 293.8H28.6M28.6 291.6V293.8M28.6 292.7H24.6M32.5 296.0H24.6M24.6 292.7V296.0M24.6 294.3H22.4M32.5 298.1H22.4M22.4 294.3V298.1M27.2 288.4H20.6M22.4 296.2H20.6M20.6 288.4V296.2M27.8 284.0H19.9M20.6 292.3H19.9M19.9 284.0V292.3M20.6 277.5H18.8M19.9 288.2H18.8M18.8 277.5V288.2M32.5 302.5H29.8M32.5 304.7H29.8M29.8 302.5V304.7M32.5 306.8H27.6M32.5 309.0H27.6M27.6 306.8V309.0M29.8 303.6H23.7M27.6 307.9H23.7M23.7 303.6V307.9M32.5 300.3H21.6M23.7 305.7H21.6M21.6 300.3V305.7M32.5 313.3H26.4M32.5 315.5H26.4M26.4 313.3V315.5M32.5 311.2H21.7M26.4 314.4H21.7M21.7 311.2V314.4M21.6 303.0H20.5M21.7 312.8H20.5M20.5 303.0V312.8M32.5 317.7H27.2M32.5 319.8H27.2M27.2 317.7V319.8M32.5 322.0H25.6M32.5 324.2H25.6M25.6 322.0V324.2M27.2 318.8H19.8M25.6 323.1H19.8M19.8 318.8V323.1M20.5 307.9H18.9M19.8 320.9H18.9M18.9 307.9V320.9M32.5 326.3H29.0M32.5 328.5H29.0M29.0 326.3V328.5M29.0 327.4H22.4M32.5 330.7H22.4M22.4 327.4V330.7M32.5 337.2H28.3M32.5 339.4H28.3M28.3 337.2V339.4M32.5 335.0H21.6M28.3 338.3H21.6M21.6 335.0V338.3M32.5 332.9H20.1M21.6 336.6H20.1M20.1 332.9V336.6M22.4 329.1H19.3M20.1 334.8H19.3M19.3 329.1V334.8M32.5 341.5H26.9M32.5 343.7H26.9M26.9 341.5V343.7M26.9 342.6H21.3M32.5 345.9H21.3M21.3 342.6V345.9M32.5 350.2H27.2M32.5 352.4H27.2M27.2 350.2V352.4M32.5 348.0H23.5M27.2 351.3H23.5M23.5 348.0V351.3M23.5 349.7H22.7M32.5 354.5H22.7M22.7 349.7V354.5M22.7 352.1H21.4M32.5 356.7H21.4M21.4 352.1V356.7M21.3 344.2H20.5M21.4 354.4H20.5M20.5 344.2V354.4M32.5 361.1H29.0M32.5 363.2H29.0M29.0 361.1V363.2M32.5 358.9H26.3M29.0 362.1H26.3M26.3 358.9V362.1M26.3 360.5H24.3M32.5 365.4H24.3M24.3 360.5V365.4M32.5 367.6H26.8M32.5 369.7H26.8M26.8 367.6V369.7M24.3 362.9H23.0M26.8 368.6H23.0M23.0 362.9V368.6M32.5 371.9H28.6M32.5 374.1H28.6M28.6 371.9V374.1M23.0 365.8H20.5M28.6 373.0H20.5M20.5 365.8V373.0M20.5 349.3H18.7M20.5 369.4H18.7M18.7 349.3V369.4M32.5 376.2H29.3M32.5 378.4H29.3M29.3 376.2V378.4M29.3 377.3H22.4M32.5 380.6H22.4M22.4 377.3V380.6M32.5 382.7H28.7M32.5 384.9H28.7M28.7 382.7V384.9M28.7 383.8H25.7M32.5 387.1H25.7M25.7 383.8V387.1M32.5 389.3H27.6M32.5 391.4H27.6M27.6 389.3V391.4M25.7 385.5H24.2M27.6 390.3H24.2M24.2 385.5V390.3M22.4 378.9H21.6M24.2 387.9H21.6M21.6 378.9V387.9M32.5 395.8H27.8M32.5 397.9H27.8M27.8 395.8V397.9M32.5 393.6H22.7M27.8 396.8H22.7M22.7 393.6V396.8M32.5 400.1H28.5M32.5 402.3H28.5M28.5 400.1V402.3M22.7 395.2H19.7M28.5 401.2H19.7M19.7 395.2V401.2M21.6 383.4H19.0M19.7 398.2H19.0M19.0 383.4V398.2M32.5 406.6H30.0M32.5 408.8H30.0M30.0 406.6V408.8M30.0 407.7H24.6M32.5 410.9H24.6M24.6 407.7V410.9M32.5 404.4H22.3M24.6 409.3H22.3M22.3 404.4V409.3M32.5 413.1H28.2M32.5 415.3H28.2M28.2 413.1V415.3M28.2 414.2H23.4M32.5 417.5H23.4M23.4 414.2V417.5M32.5 419.6H27.3M32.5 421.8H27.3M27.3 419.6V421.8M32.5 424.0H28.4M32.5 426.1H28.4M28.4 424.0V426.1M27.3 420.7H23.5M28.4 425.0H23.5M23.5 420.7V425.0M23.4 415.8H22.2M23.5 422.9H22.2M22.2 415.8V422.9M32.5 428.3H27.2M32.5 430.5H27.2M27.2 428.3V430.5M22.2 419.3H20.2M27.2 429.4H20.2M20.2 419.3V429.4M32.5 432.6H28.4M32.5 434.8H28.4M28.4 432.6V434.8M32.5 437.0H26.3M32.5 439.1H26.3M26.3 437.0V439.1M28.4 433.7H22.0M26.3 438.1H22.0M22.0 433.7V438.1M20.2 424.4H19.3M22.0 435.9H19.3M19.3 424.4V435.9M32.5 443.5H28.7M32.5 445.6H28.7M28.7 443.5V445.6M28.7 444.6H24.7M32.5 447.8H24.7M24.7 444.6V447.8M32.5 441.3H22.1M24.7 446.2H22.1M22.1 441.3V446.2M32.5 450.0H27.9M32.5 452.2H27.9M27.9 450.0V452.2M32.5 454.3H28.3M32.5 456.5H28.3M28.3 454.3V456.5M27.9 451.1H23.0M28.3 455.4H23.0M23.0 451.1V455.4M22.1 443.8H20.0M23.0 453.2H20.0M20.0 443.8V453.2M32.5 460.8H29.2M32.5 463.0H29.2M29.2 460.8V463.0M32.5 465.2H28.6M32.5 467.3H28.6M28.6 465.2V467.3M29.2 461.9H23.6M28.6 466.3H23.6M23.6 461.9V466.3M32.5 458.7H23.1M23.6 464.1H23.1M23.1 458.7V464.1M32.5 469.5H28.4M32.5 471.7H28.4M28.4 469.5V471.7M32.5 473.8H28.5M32.5 476.0H28.5M28.5 473.8V476.0M28.4 470.6H22.5M28.5 474.9H22.5M22.5 470.6V474.9M23.1 461.4H20.2M22.5 472.8H20.2M20.2 461.4V472.8M32.5 480.4H27.3M32.5 482.5H27.3M27.3 480.4V482.5M32.5 478.2H22.6M27.3 481.4H22.6M22.6 478.2V481.4M32.5 486.9H29.4M32.5 489.0H29.4M29.4 486.9V489.0M29.4 487.9H24.1M32.5 491.2H24.1M24.1 487.9V491.2M32.5 484.7H22.2M24.1 489.6H22.2M22.2 484.7V489.6M22.6 479.8H20.6M22.2 487.1H20.6M20.6 479.8V487.1M20.2 467.1H18.8M20.6 483.5H18.8M18.8 467.1V483.5M32.5 493.4H27.6M32.5 495.5H27.6M27.6 493.4V495.5M32.5 499.9H29.3M32.5 502.0H29.3M29.3 499.9V502.0M32.5 497.7H24.6M29.3 501.0H24.6M24.6 497.7V501.0M27.6 494.5H22.8M24.6 499.3H22.8M22.8 494.5V499.3M32.5 504.2H27.1M32.5 506.4H27.1M27.1 504.2V506.4M27.1 505.3H22.8M32.5 508.6H22.8M22.8 505.3V508.6M22.8 496.9H20.9M22.8 506.9H20.9M20.9 496.9V506.9M32.5 510.7H26.8M32.5 512.9H26.8M26.8 510.7V512.9M32.5 517.2H29.1M32.5 519.4H29.1M29.1 517.2V519.4M32.5 515.1H25.0M29.1 518.3H25.0M25.0 515.1V518.3M32.5 521.6H29.1M32.5 523.7H29.1M29.1 521.6V523.7M25.0 516.7H22.9M29.1 522.7H22.9M22.9 516.7V522.7M26.8 511.8H21.0M22.9 519.7H21.0M21.0 511.8V519.7M32.5 525.9H26.6M32.5 528.1H26.6M26.6 525.9V528.1M26.6 527.0H21.6M32.5 530.2H21.6M21.6 527.0V530.2M32.5 534.6H29.2M32.5 536.8H29.2M29.2 534.6V536.8M32.5 532.4H23.8M29.2 535.7H23.8M23.8 532.4V535.7M32.5 538.9H29.1M32.5 541.1H29.1M29.1 538.9V541.1M32.5 543.3H29.1M32.5 545.4H29.1M29.1 543.3V545.4M29.1 540.0H24.5M29.1 544.3H24.5M24.5 540.0V544.3M23.8 534.0H22.9M24.5 542.2H22.9M22.9 534.0V542.2M21.6 528.6H20.1M22.9 538.1H20.1M20.1 528.6V538.1M32.5 549.8H27.9M32.5 551.9H27.9M27.9 549.8V551.9M27.9 550.9H21.8M32.5 554.1H21.8M21.8 550.9V554.1M32.5 547.6H21.2M21.8 552.5H21.2M21.2 547.6V552.5M32.5 556.3H25.5M32.5 558.4H25.5M25.5 556.3V558.4M21.2 550.0H20.5M25.5 557.4H20.5M20.5 550.0V557.4M20.1 533.4H17.1M20.5 553.7H17.1M17.1 533.4V553.7M32.5 560.6H29.4M32.5 562.8H29.4M29.4 560.6V562.8M32.5 565.0H29.8M32.5 567.1H29.8M29.8 565.0V567.1M29.4 561.7H24.0M29.8 566.0H24.0M24.0 561.7V566.0M32.5 569.3H27.9M32.5 571.5H27.9M27.9 569.3V571.5M27.9 570.4H24.1M32.5 573.6H24.1M24.1 570.4V573.6M24.0 563.9H22.1M24.1 572.0H22.1M22.1 563.9V572.0M32.5 578.0H26.5M32.5 580.1H26.5M26.5 578.0V580.1M26.5 579.1H21.9M32.5 582.3H21.9M21.9 579.1V582.3M32.5 575.8H21.1M21.9 580.7H21.1M21.1 575.8V580.7M22.1 567.9H20.3M21.1 578.2H20.3M20.3 567.9V578.2M32.5 586.6H28.9M32.5 588.8H28.9M28.9 586.6V588.8M32.5 584.5H22.2M28.9 587.7H22.2M22.2 584.5V587.7M22.2 586.1H21.0M32.5 591.0H21.0M21.0 586.1V591.0M20.3 573.1H19.2M21.0 588.5H19.2M19.2 573.1V588.5M32.5 593.2H28.4M32.5 595.3H28.4M28.4 593.2V595.3M28.4 594.2H22.3M32.5 597.5H22.3M22.3 594.2V597.5M32.5 599.7H28.1M32.5 601.8H28.1M28.1 599.7V601.8M22.3 595.9H20.8M28.1 600.7H20.8M20.8 595.9V600.7M32.5 606.2H27.9M32.5 608.3H27.9M27.9 606.2V608.3M32.5 604.0H24.1M27.9 607.3H24.1M24.1 604.0V607.3M32.5 610.5H29.1M32.5 612.7H29.1M29.1 610.5V612.7M24.1 605.6H22.7M29.1 611.6H22.7M22.7 605.6V611.6M32.5 614.8H26.1M32.5 617.0H26.1M26.1 614.8V617.0M22.7 608.6H20.6M26.1 615.9H20.6M20.6 608.6V615.9M20.8 598.3H18.4M20.6 612.3H18.4M18.4 598.3V612.3M18.8 282.9H18.3M18.9 314.4H18.3M18.3 282.9V314.4M19.3 331.9H17.6M18.7 359.4H17.6M17.6 331.9V359.4M18.3 298.6H14.1M17.6 345.6H14.1M14.1 298.6V345.6M19.0 390.8H16.3M22.3 406.9H16.3M16.3 390.8V406.9M19.3 430.1H17.6M20.0 448.5H17.6M17.6 430.1V448.5M17.6 439.3H14.7M18.8 475.3H14.7M14.7 439.3V475.3M16.3 398.8H12.5M14.7 457.3H12.5M12.5 398.8V457.3M14.1 322.1H9.3M12.5 428.1H9.3M9.3 322.1V428.1M20.9 501.9H16.3M21.0 515.7H16.3M16.3 501.9V515.7M17.1 543.5H16.6M19.2 580.8H16.6M16.6 543.5V580.8M16.3 508.8H11.4M16.6 562.2H11.4M11.4 508.8V562.2M11.4 535.5H8.2M18.4 605.3H8.2M8.2 535.5V605.3M9.3 375.1H6.3M8.2 570.4H6.3M6.3 375.1V570.4" fill="none" stroke="#2A2A2A" stroke-width="0.55"/>
<text x="201.00" y="261.70" font-size="8.5" fill="#1A1A1A" text-anchor="middle" font-style="italic" textLength="73.9" lengthAdjust="spacingAndGlyphs">GO Biological Adhesion</text>
<rect x="159.80" y="267.0" width="39.45" height="5.00" fill="#9ACBFA"/>
<rect x="199.25" y="267.0" width="39.45" height="5.00" fill="#C60004"/>
<path d="M159.80 267.0V272.0M166.38 267.0V272.0M172.95 267.0V272.0M179.53 267.0V272.0M186.10 267.0V272.0M192.68 267.0V272.0M199.25 267.0V272.0M205.82 267.0V272.0M212.40 267.0V272.0M218.97 267.0V272.0M225.55 267.0V272.0M232.12 267.0V272.0M238.70 267.0V272.0M159.80 267.0H238.70M159.80 272.0H238.70" stroke="#939393" stroke-width="0.5" fill="none"/>
<text x="239.90" y="271.50" font-size="5.3" font-weight="bold">pak4i</text>
<g filter="url(#hb)">
<rect x="159.80" y="273.20" width="6.97" height="2.88" fill="#FAFAFF"/>
<rect x="166.38" y="273.20" width="6.97" height="2.88" fill="#8181FF"/>
<rect x="172.95" y="273.20" width="6.97" height="2.88" fill="#6F6FFF"/>
<rect x="179.53" y="273.20" width="6.97" height="2.88" fill="#5353FF"/>
<rect x="186.10" y="273.20" width="6.97" height="2.88" fill="#F2F2FF"/>
<rect x="192.68" y="273.20" width="6.97" height="2.88" fill="#8080FF"/>
<rect x="199.25" y="273.20" width="6.97" height="2.88" fill="#FF4D4D"/>
<rect x="205.82" y="273.20" width="6.97" height="2.88" fill="#F2F2FF"/>
<rect x="212.40" y="273.20" width="6.97" height="2.88" fill="#FF2626"/>
<rect x="218.97" y="273.20" width="6.97" height="2.88" fill="#FF3333"/>
<rect x="225.55" y="273.20" width="6.97" height="2.88" fill="#FFE6E6"/>
<rect x="232.12" y="273.20" width="6.57" height="2.88" fill="#9999FF"/>
<rect x="159.80" y="275.68" width="6.97" height="2.88" fill="#D1D1FF"/>
<rect x="166.38" y="275.68" width="6.97" height="2.88" fill="#A0A0FF"/>
<rect x="172.95" y="275.68" width="6.97" height="2.88" fill="#6060FF"/>
<rect x="179.53" y="275.68" width="6.97" height="2.88" fill="#5151FF"/>
<rect x="186.10" y="275.68" width="6.97" height="2.88" fill="#B1B1FF"/>
<rect x="192.68" y="275.68" width="6.97" height="2.88" fill="#6666FF"/>
<rect x="199.25" y="275.68" width="6.97" height="2.88" fill="#FFFFFF"/>
<rect x="205.82" y="275.68" width="6.97" height="2.88" fill="#FF1919"/>
<rect x="212.40" y="275.68" width="6.97" height="2.88" fill="#FF9999"/>
<rect x="218.97" y="275.68" width="6.97" height="2.88" fill="#FF6666"/>
<rect x="225.55" y="275.68" width="6.97" height="2.88" fill="#FFD9D9"/>
<rect x="232.12" y="275.68" width="6.57" height="2.88" fill="#FFCCCC"/>
<rect x="159.80" y="278.17" width="6.97" height="2.88" fill="#A3A3FF"/>
<rect x="166.38" y="278.17" width="6.97" height="2.88" fill="#C2C2FF"/>
<rect x="172.95" y="278.17" width="6.97" height="2.88" fill="#9393FF"/>
<rect x="179.53" y="278.17" width="6.97" height="2.88" fill="#3D3DFF"/>
<rect x="186.10" y="278.17" width="6.97" height="2.88" fill="#F0F0FF"/>
<rect x="192.68" y="278.17" width="6.97" height="2.88" fill="#CCCCFF"/>
<rect x="199.25" y="278.17" width="6.97" height="2.88" fill="#FF9999"/>
<rect x="205.82" y="278.17" width="6.97" height="2.88" fill="#FF6666"/>
<rect x="212.40" y="278.17" width="6.97" height="2.88" fill="#FF8080"/>
<rect x="218.97" y="278.17" width="6.97" height="2.88" fill="#FF4D4D"/>
<rect x="225.55" y="278.17" width="6.97" height="2.88" fill="#FFFFFF"/>
<rect x="232.12" y="278.17" width="6.57" height="2.88" fill="#FFD9D9"/>
<rect x="159.80" y="280.65" width="6.97" height="2.88" fill="#CECEFF"/>
<rect x="166.38" y="280.65" width="6.97" height="2.88" fill="#5A5AFF"/>
<rect x="172.95" y="280.65" width="6.97" height="2.88" fill="#8C8CFF"/>
<rect x="179.53" y="280.65" width="6.97" height="2.88" fill="#4747FF"/>
<rect x="186.10" y="280.65" width="6.97" height="2.88" fill="#EAEAFF"/>
<rect x="192.68" y="280.65" width="6.97" height="2.88" fill="#E6E6FF"/>
<rect x="199.25" y="280.65" width="6.97" height="2.88" fill="#FF6666"/>
<rect x="205.82" y="280.65" width="6.97" height="2.88" fill="#FF3333"/>
<rect x="212.40" y="280.65" width="6.97" height="2.88" fill="#FF7373"/>
<rect x="218.97" y="280.65" width="6.97" height="2.88" fill="#FFB2B2"/>
<rect x="225.55" y="280.65" width="6.97" height="2.88" fill="#FFFFFF"/>
<rect x="232.12" y="280.65" width="6.57" height="2.88" fill="#FFFFFF"/>
<rect x="159.80" y="283.13" width="6.97" height="2.88" fill="#8C8CFF"/>
<rect x="166.38" y="283.13" width="6.97" height="2.88" fill="#E0E0FF"/>
<rect x="172.95" y="283.13" width="6.97" height="2.88" fill="#7F7FFF"/>
<rect x="179.53" y="283.13" width="6.97" height="2.88" fill="#4646FF"/>
<rect x="186.10" y="283.13" width="6.97" height="2.88" fill="#D6D6FF"/>
<rect x="192.68" y="283.13" width="6.97" height="2.88" fill="#D9D9FF"/>
<rect x="199.25" y="283.13" width="6.97" height="2.88" fill="#FF8080"/>
<rect x="205.82" y="283.13" width="6.97" height="2.88" fill="#E6E6FF"/>
<rect x="212.40" y="283.13" width="6.97" height="2.88" fill="#FF9999"/>
<rect x="218.97" y="283.13" width="6.97" height="2.88" fill="#FF0D0D"/>
<rect x="225.55" y="283.13" width="6.97" height="2.88" fill="#FFFFFF"/>
<rect x="232.12" y="283.13" width="6.57" height="2.88" fill="#FF6666"/>
<rect x="159.80" y="285.62" width="6.97" height="2.88" fill="#8C8CFF"/>
<rect x="166.38" y="285.62" width="6.97" height="2.88" fill="#9696FF"/>
<rect x="172.95" y="285.62" width="6.97" height="2.88" fill="#6969FF"/>
<rect x="179.53" y="285.62" width="6.97" height="2.88" fill="#D3D3FF"/>
<rect x="186.10" y="285.62" width="6.97" height="2.88" fill="#BCBCFF"/>
<rect x="192.68" y="285.62" width="6.97" height="2.88" fill="#FFFFFF"/>
<rect x="199.25" y="285.62" width="6.97" height="2.88" fill="#FF4D4D"/>
<rect x="205.82" y="285.62" width="6.97" height="2.88" fill="#FFF2F2"/>
<rect x="212.40" y="285.62" width="6.97" height="2.88" fill="#FFFFFF"/>
<rect x="218.97" y="285.62" width="6.97" height="2.88" fill="#FF0D0D"/>
<rect x="225.55" y="285.62" width="6.97" height="2.88" fill="#F2F2FF"/>
<rect x="232.12" y="285.62" width="6.57" height="2.88" fill="#F2F2FF"/>
<rect x="159.80" y="288.10" width="6.97" height="2.88" fill="#9E9EFF"/>
<rect x="166.38" y="288.10" width="6.97" height="2.88" fill="#EAEAFF"/>
<rect x="172.95" y="288.10" width="6.97" height="2.88" fill="#A6A6FF"/>
<rect x="179.53" y="288.10" width="6.97" height="2.88" fill="#4949FF"/>
<rect x="186.10" y="288.10" width="6.97" height="2.88" fill="#D0D0FF"/>
<rect x="192.68" y="288.10" width="6.97" height="2.88" fill="#A6A6FF"/>
<rect x="199.25" y="288.10" width="6.97" height="2.88" fill="#D9D9FF"/>
<rect x="205.82" y="288.10" width="6.97" height="2.88" fill="#FFFFFF"/>
<rect x="212.40" y="288.10" width="6.97" height="2.88" fill="#D9D9FF"/>
<rect x="218.97" y="288.10" width="6.97" height="2.88" fill="#FF0D0D"/>
<rect x="225.55" y="288.10" width="6.97" height="2.88" fill="#FF0D0D"/>
<rect x="232.12" y="288.10" width="6.57" height="2.88" fill="#FF9999"/>
<rect x="159.80" y="290.58" width="6.97" height="2.88" fill="#ADADFF"/>
<rect x="166.38" y="290.58" width="6.97" height="2.88" fill="#E6E6FF"/>
<rect x="172.95" y="290.58" width="6.97" height="2.88" fill="#7C7CFF"/>
<rect x="179.53" y="290.58" width="6.97" height="2.88" fill="#6A6AFF"/>
<rect x="186.10" y="290.58" width="6.97" height="2.88" fill="#F6F6FF"/>
<rect x="192.68" y="290.58" width="6.97" height="2.88" fill="#E6E6FF"/>
<rect x="199.25" y="290.58" width="6.97" height="2.88" fill="#FFF2F2"/>
<rect x="205.82" y="290.58" width="6.97" height="2.88" fill="#E6E6FF"/>
<rect x="212.40" y="290.58" width="6.97" height="2.88" fill="#FF9999"/>
<rect x="218.97" y="290.58" width="6.97" height="2.88" fill="#FF1919"/>
<rect x="225.55" y="290.58" width="6.97" height="2.88" fill="#FF6666"/>
<rect x="232.12" y="290.58" width="6.57" height="2.88" fill="#FF9999"/>
<rect x="159.80" y="293.07" width="6.97" height="2.88" fill="#7C7CFF"/>
<rect x="166.38" y="293.07" width="6.97" height="2.88" fill="#8C8CFF"/>
<rect x="172.95" y="293.07" width="6.97" height="2.88" fill="#ABABFF"/>
<rect x="179.53" y="293.07" width="6.97" height="2.88" fill="#8282FF"/>
<rect x="186.10" y="293.07" width="6.97" height="2.88" fill="#FFD7D7"/>
<rect x="192.68" y="293.07" width="6.97" height="2.88" fill="#6666FF"/>
<rect x="199.25" y="293.07" width="6.97" height="2.88" fill="#FFFFFF"/>
<rect x="205.82" y="293.07" width="6.97" height="2.88" fill="#CCCCFF"/>
<rect x="212.40" y="293.07" width="6.97" height="2.88" fill="#FF9999"/>
<rect x="218.97" y="293.07" width="6.97" height="2.88" fill="#FF0D0D"/>
<rect x="225.55" y="293.07" width="6.97" height="2.88" fill="#FF9999"/>
<rect x="232.12" y="293.07" width="6.57" height="2.88" fill="#FF8080"/>
<rect x="159.80" y="295.55" width="6.97" height="2.88" fill="#6666FF"/>
<rect x="166.38" y="295.55" width="6.97" height="2.88" fill="#8C8CFF"/>
<rect x="172.95" y="295.55" width="6.97" height="2.88" fill="#9696FF"/>
<rect x="179.53" y="295.55" width="6.97" height="2.88" fill="#1818FF"/>
<rect x="186.10" y="295.55" width="6.97" height="2.88" fill="#F7F7FF"/>
<rect x="192.68" y="295.55" width="6.97" height="2.88" fill="#6666FF"/>
<rect x="199.25" y="295.55" width="6.97" height="2.88" fill="#FFE6E6"/>
<rect x="205.82" y="295.55" width="6.97" height="2.88" fill="#8C8CFF"/>
<rect x="212.40" y="295.55" width="6.97" height="2.88" fill="#FF9999"/>
<rect x="218.97" y="295.55" width="6.97" height="2.88" fill="#FF3333"/>
<rect x="225.55" y="295.55" width="6.97" height="2.88" fill="#FF6666"/>
<rect x="232.12" y="295.55" width="6.57" height="2.88" fill="#FFA6A6"/>
<rect x="159.80" y="298.03" width="6.97" height="2.88" fill="#7676FF"/>
<rect x="166.38" y="298.03" width="6.97" height="2.88" fill="#8686FF"/>
<rect x="172.95" y="298.03" width="6.97" height="2.88" fill="#9393FF"/>
<rect x="179.53" y="298.03" width="6.97" height="2.88" fill="#0B0BFF"/>
<rect x="186.10" y="298.03" width="6.97" height="2.88" fill="#E6E6FF"/>
<rect x="192.68" y="298.03" width="6.97" height="2.88" fill="#9999FF"/>
<rect x="199.25" y="298.03" width="6.97" height="2.88" fill="#FF6666"/>
<rect x="205.82" y="298.03" width="6.97" height="2.88" fill="#FF8080"/>
<rect x="212.40" y="298.03" width="6.97" height="2.88" fill="#FFD9D9"/>
<rect x="218.97" y="298.03" width="6.97" height="2.88" fill="#FF8080"/>
<rect x="225.55" y="298.03" width="6.97" height="2.88" fill="#FF9999"/>
<rect x="232.12" y="298.03" width="6.57" height="2.88" fill="#FF6666"/>
<rect x="159.80" y="300.52" width="6.97" height="2.88" fill="#9191FF"/>
<rect x="166.38" y="300.52" width="6.97" height="2.88" fill="#D0D0FF"/>
<rect x="172.95" y="300.52" width="6.97" height="2.88" fill="#A0A0FF"/>
<rect x="179.53" y="300.52" width="6.97" height="2.88" fill="#3A3AFF"/>
<rect x="186.10" y="300.52" width="6.97" height="2.88" fill="#EDEDFF"/>
<rect x="192.68" y="300.52" width="6.97" height="2.88" fill="#B2B2FF"/>
<rect x="199.25" y="300.52" width="6.97" height="2.88" fill="#FFA6A6"/>
<rect x="205.82" y="300.52" width="6.97" height="2.88" fill="#FFCCCC"/>
<rect x="212.40" y="300.52" width="6.97" height="2.88" fill="#FFB2B2"/>
<rect x="218.97" y="300.52" width="6.97" height="2.88" fill="#FF6666"/>
<rect x="225.55" y="300.52" width="6.97" height="2.88" fill="#FF2626"/>
<rect x="232.12" y="300.52" width="6.57" height="2.88" fill="#FF8080"/>
<rect x="159.80" y="303.00" width="6.97" height="2.88" fill="#8080FF"/>
<rect x="166.38" y="303.00" width="6.97" height="2.88" fill="#5252FF"/>
<rect x="172.95" y="303.00" width="6.97" height="2.88" fill="#4B4BFF"/>
<rect x="179.53" y="303.00" width="6.97" height="2.88" fill="#7E7EFF"/>
<rect x="186.10" y="303.00" width="6.97" height="2.88" fill="#D0D0FF"/>
<rect x="192.68" y="303.00" width="6.97" height="2.88" fill="#CCCCFF"/>
<rect x="199.25" y="303.00" width="6.97" height="2.88" fill="#FF6666"/>
<rect x="205.82" y="303.00" width="6.97" height="2.88" fill="#FFF2F2"/>
<rect x="212.40" y="303.00" width="6.97" height="2.88" fill="#FF9999"/>
<rect x="218.97" y="303.00" width="6.97" height="2.88" fill="#FFFFFF"/>
<rect x="225.55" y="303.00" width="6.97" height="2.88" fill="#FF4D4D"/>
<rect x="232.12" y="303.00" width="6.57" height="2.88" fill="#FF9999"/>
<rect x="159.80" y="305.48" width="6.97" height="2.88" fill="#AFAFFF"/>
<rect x="166.38" y="305.48" width="6.97" height="2.88" fill="#A7A7FF"/>
<rect x="172.95" y="305.48" width="6.97" height="2.88" fill="#8E8EFF"/>
<rect x="179.53" y="305.48" width="6.97" height="2.88" fill="#0000FF"/>
<rect x="186.10" y="305.48" width="6.97" height="2.88" fill="#E0E0FF"/>
<rect x="192.68" y="305.48" width="6.97" height="2.88" fill="#CCCCFF"/>
<rect x="199.25" y="305.48" width="6.97" height="2.88" fill="#FFA6A6"/>
<rect x="205.82" y="305.48" width="6.97" height="2.88" fill="#FFBFBF"/>
<rect x="212.40" y="305.48" width="6.97" height="2.88" fill="#FFB2B2"/>
<rect x="218.97" y="305.48" width="6.97" height="2.88" fill="#FF6666"/>
<rect x="225.55" y="305.48" width="6.97" height="2.88" fill="#FF8080"/>
<rect x="232.12" y="305.48" width="6.57" height="2.88" fill="#FF9999"/>
<rect x="159.80" y="307.97" width="6.97" height="2.88" fill="#8080FF"/>
<rect x="166.38" y="307.97" width="6.97" height="2.88" fill="#7F7FFF"/>
<rect x="172.95" y="307.97" width="6.97" height="2.88" fill="#5858FF"/>
<rect x="179.53" y="307.97" width="6.97" height="2.88" fill="#2121FF"/>
<rect x="186.10" y="307.97" width="6.97" height="2.88" fill="#FFDEDE"/>
<rect x="192.68" y="307.97" width="6.97" height="2.88" fill="#EDEDFF"/>
<rect x="199.25" y="307.97" width="6.97" height="2.88" fill="#FFE1E1"/>
<rect x="205.82" y="307.97" width="6.97" height="2.88" fill="#FFB0B0"/>
<rect x="212.40" y="307.97" width="6.97" height="2.88" fill="#FF9999"/>
<rect x="218.97" y="307.97" width="6.97" height="2.88" fill="#FF3E3E"/>
<rect x="225.55" y="307.97" width="6.97" height="2.88" fill="#FF4141"/>
<rect x="232.12" y="307.97" width="6.57" height="2.88" fill="#FFA8A8"/>
<rect x="159.80" y="310.45" width="6.97" height="2.88" fill="#8B8BFF"/>
<rect x="166.38" y="310.45" width="6.97" height="2.88" fill="#8E8EFF"/>
<rect x="172.95" y="310.45" width="6.97" height="2.88" fill="#6565FF"/>
<rect x="179.53" y="310.45" width="6.97" height="2.88" fill="#1C1CFF"/>
<rect x="186.10" y="310.45" width="6.97" height="2.88" fill="#D1D1FF"/>
<rect x="192.68" y="310.45" width="6.97" height="2.88" fill="#BABAFF"/>
<rect x="199.25" y="310.45" width="6.97" height="2.88" fill="#FF8585"/>
<rect x="205.82" y="310.45" width="6.97" height="2.88" fill="#FFE7E7"/>
<rect x="212.40" y="310.45" width="6.97" height="2.88" fill="#FF9B9B"/>
<rect x="218.97" y="310.45" width="6.97" height="2.88" fill="#FF7C7C"/>
<rect x="225.55" y="310.45" width="6.97" height="2.88" fill="#FF3131"/>
<rect x="232.12" y="310.45" width="6.57" height="2.88" fill="#FF7878"/>
<rect x="159.80" y="312.94" width="6.97" height="2.88" fill="#2020FF"/>
<rect x="166.38" y="312.94" width="6.97" height="2.88" fill="#7F7FFF"/>
<rect x="172.95" y="312.94" width="6.97" height="2.88" fill="#8080FF"/>
<rect x="179.53" y="312.94" width="6.97" height="2.88" fill="#5353FF"/>
<rect x="186.10" y="312.94" width="6.97" height="2.88" fill="#FFEEEE"/>
<rect x="192.68" y="312.94" width="6.97" height="2.88" fill="#F6F6FF"/>
<rect x="199.25" y="312.94" width="6.97" height="2.88" fill="#FFEEEE"/>
<rect x="205.82" y="312.94" width="6.97" height="2.88" fill="#FFE3E3"/>
<rect x="212.40" y="312.94" width="6.97" height="2.88" fill="#FF9A9A"/>
<rect x="218.97" y="312.94" width="6.97" height="2.88" fill="#FF2A2A"/>
<rect x="225.55" y="312.94" width="6.97" height="2.88" fill="#FF5757"/>
<rect x="232.12" y="312.94" width="6.57" height="2.88" fill="#FF9090"/>
<rect x="159.80" y="315.42" width="6.97" height="2.88" fill="#7D7DFF"/>
<rect x="166.38" y="315.42" width="6.97" height="2.88" fill="#5B5BFF"/>
<rect x="172.95" y="315.42" width="6.97" height="2.88" fill="#9D9DFF"/>
<rect x="179.53" y="315.42" width="6.97" height="2.88" fill="#4646FF"/>
<rect x="186.10" y="315.42" width="6.97" height="2.88" fill="#D1D1FF"/>
<rect x="192.68" y="315.42" width="6.97" height="2.88" fill="#DBDBFF"/>
<rect x="199.25" y="315.42" width="6.97" height="2.88" fill="#FF7A7A"/>
<rect x="205.82" y="315.42" width="6.97" height="2.88" fill="#FFD4D4"/>
<rect x="212.40" y="315.42" width="6.97" height="2.88" fill="#FF8E8E"/>
<rect x="218.97" y="315.42" width="6.97" height="2.88" fill="#FF7979"/>
<rect x="225.55" y="315.42" width="6.97" height="2.88" fill="#FF5353"/>
<rect x="232.12" y="315.42" width="6.57" height="2.88" fill="#FFCDCD"/>
<rect x="159.80" y="317.90" width="6.97" height="2.88" fill="#ACACFF"/>
<rect x="166.38" y="317.90" width="6.97" height="2.88" fill="#7070FF"/>
<rect x="172.95" y="317.90" width="6.97" height="2.88" fill="#7373FF"/>
<rect x="179.53" y="317.90" width="6.97" height="2.88" fill="#5A5AFF"/>
<rect x="186.10" y="317.90" width="6.97" height="2.88" fill="#DCDCFF"/>
<rect x="192.68" y="317.90" width="6.97" height="2.88" fill="#9C9CFF"/>
<rect x="199.25" y="317.90" width="6.97" height="2.88" fill="#FFC5C5"/>
<rect x="205.82" y="317.90" width="6.97" height="2.88" fill="#FF8B8B"/>
<rect x="212.40" y="317.90" width="6.97" height="2.88" fill="#FFEBEB"/>
<rect x="218.97" y="317.90" width="6.97" height="2.88" fill="#FF3C3C"/>
<rect x="225.55" y="317.90" width="6.97" height="2.88" fill="#FF5151"/>
<rect x="232.12" y="317.90" width="6.57" height="2.88" fill="#FF8787"/>
<rect x="159.80" y="320.39" width="6.97" height="2.88" fill="#B3B3FF"/>
<rect x="166.38" y="320.39" width="6.97" height="2.88" fill="#6666FF"/>
<rect x="172.95" y="320.39" width="6.97" height="2.88" fill="#7D7DFF"/>
<rect x="179.53" y="320.39" width="6.97" height="2.88" fill="#4343FF"/>
<rect x="186.10" y="320.39" width="6.97" height="2.88" fill="#FFE1E1"/>
<rect x="192.68" y="320.39" width="6.97" height="2.88" fill="#BCBCFF"/>
<rect x="199.25" y="320.39" width="6.97" height="2.88" fill="#FF7272"/>
<rect x="205.82" y="320.39" width="6.97" height="2.88" fill="#FF9191"/>
<rect x="212.40" y="320.39" width="6.97" height="2.88" fill="#FF6363"/>
<rect x="218.97" y="320.39" width="6.97" height="2.88" fill="#FF7474"/>
<rect x="225.55" y="320.39" width="6.97" height="2.88" fill="#FF3A3A"/>
<rect x="232.12" y="320.39" width="6.57" height="2.88" fill="#FF9696"/>
<rect x="159.80" y="322.87" width="6.97" height="2.88" fill="#7C7CFF"/>
<rect x="166.38" y="322.87" width="6.97" height="2.88" fill="#6262FF"/>
<rect x="172.95" y="322.87" width="6.97" height="2.88" fill="#8686FF"/>
<rect x="179.53" y="322.87" width="6.97" height="2.88" fill="#2A2AFF"/>
<rect x="186.10" y="322.87" width="6.97" height="2.88" fill="#FEFEFF"/>
<rect x="192.68" y="322.87" width="6.97" height="2.88" fill="#AFAFFF"/>
<rect x="199.25" y="322.87" width="6.97" height="2.88" fill="#FF7F7F"/>
<rect x="205.82" y="322.87" width="6.97" height="2.88" fill="#FF9393"/>
<rect x="212.40" y="322.87" width="6.97" height="2.88" fill="#FF8B8B"/>
<rect x="218.97" y="322.87" width="6.97" height="2.88" fill="#FF2F2F"/>
<rect x="225.55" y="322.87" width="6.97" height="2.88" fill="#FF4D4D"/>
<rect x="232.12" y="322.87" width="6.57" height="2.88" fill="#FFB8B8"/>
<rect x="159.80" y="325.35" width="6.97" height="2.88" fill="#A1A1FF"/>
<rect x="166.38" y="325.35" width="6.97" height="2.88" fill="#5252FF"/>
<rect x="172.95" y="325.35" width="6.97" height="2.88" fill="#7878FF"/>
<rect x="179.53" y="325.35" width="6.97" height="2.88" fill="#5959FF"/>
<rect x="186.10" y="325.35" width="6.97" height="2.88" fill="#F2F2FF"/>
<rect x="192.68" y="325.35" width="6.97" height="2.88" fill="#8080FF"/>
<rect x="199.25" y="325.35" width="6.97" height="2.88" fill="#FF9F9F"/>
<rect x="205.82" y="325.35" width="6.97" height="2.88" fill="#FFB3B3"/>
<rect x="212.40" y="325.35" width="6.97" height="2.88" fill="#FF7B7B"/>
<rect x="218.97" y="325.35" width="6.97" height="2.88" fill="#FF6E6E"/>
<rect x="225.55" y="325.35" width="6.97" height="2.88" fill="#FF2828"/>
<rect x="232.12" y="325.35" width="6.57" height="2.88" fill="#FFE8E8"/>
<rect x="159.80" y="327.84" width="6.97" height="2.88" fill="#9F9FFF"/>
<rect x="166.38" y="327.84" width="6.97" height="2.88" fill="#6161FF"/>
<rect x="172.95" y="327.84" width="6.97" height="2.88" fill="#5050FF"/>
<rect x="179.53" y="327.84" width="6.97" height="2.88" fill="#1616FF"/>
<rect x="186.10" y="327.84" width="6.97" height="2.88" fill="#E6E6FF"/>
<rect x="192.68" y="327.84" width="6.97" height="2.88" fill="#BCBCFF"/>
<rect x="199.25" y="327.84" width="6.97" height="2.88" fill="#FF9595"/>
<rect x="205.82" y="327.84" width="6.97" height="2.88" fill="#FFBBBB"/>
<rect x="212.40" y="327.84" width="6.97" height="2.88" fill="#FF9191"/>
<rect x="218.97" y="327.84" width="6.97" height="2.88" fill="#FF4C4C"/>
<rect x="225.55" y="327.84" width="6.97" height="2.88" fill="#FF0000"/>
<rect x="232.12" y="327.84" width="6.57" height="2.88" fill="#FF5B5B"/>
<rect x="159.80" y="330.32" width="6.97" height="2.88" fill="#6E6EFF"/>
<rect x="166.38" y="330.32" width="6.97" height="2.88" fill="#6A6AFF"/>
<rect x="172.95" y="330.32" width="6.97" height="2.88" fill="#8989FF"/>
<rect x="179.53" y="330.32" width="6.97" height="2.88" fill="#4646FF"/>
<rect x="186.10" y="330.32" width="6.97" height="2.88" fill="#E4E4FF"/>
<rect x="192.68" y="330.32" width="6.97" height="2.88" fill="#EAEAFF"/>
<rect x="199.25" y="330.32" width="6.97" height="2.88" fill="#FFECEC"/>
<rect x="205.82" y="330.32" width="6.97" height="2.88" fill="#FF8484"/>
<rect x="212.40" y="330.32" width="6.97" height="2.88" fill="#FFC4C4"/>
<rect x="218.97" y="330.32" width="6.97" height="2.88" fill="#FF2B2B"/>
<rect x="225.55" y="330.32" width="6.97" height="2.88" fill="#FF0303"/>
<rect x="232.12" y="330.32" width="6.57" height="2.88" fill="#FFA8A8"/>
<rect x="159.80" y="332.80" width="6.97" height="2.88" fill="#9292FF"/>
<rect x="166.38" y="332.80" width="6.97" height="2.88" fill="#8C8CFF"/>
<rect x="172.95" y="332.80" width="6.97" height="2.88" fill="#8989FF"/>
<rect x="179.53" y="332.80" width="6.97" height="2.88" fill="#3E3EFF"/>
<rect x="186.10" y="332.80" width="6.97" height="2.88" fill="#D2D2FF"/>
<rect x="192.68" y="332.80" width="6.97" height="2.88" fill="#ECECFF"/>
<rect x="199.25" y="332.80" width="6.97" height="2.88" fill="#FFD2D2"/>
<rect x="205.82" y="332.80" width="6.97" height="2.88" fill="#FF9D9D"/>
<rect x="212.40" y="332.80" width="6.97" height="2.88" fill="#FFF6F6"/>
<rect x="218.97" y="332.80" width="6.97" height="2.88" fill="#FF7A7A"/>
<rect x="225.55" y="332.80" width="6.97" height="2.88" fill="#FF2525"/>
<rect x="232.12" y="332.80" width="6.57" height="2.88" fill="#FF6C6C"/>
<rect x="159.80" y="335.29" width="6.97" height="2.88" fill="#A8A8FF"/>
<rect x="166.38" y="335.29" width="6.97" height="2.88" fill="#7474FF"/>
<rect x="172.95" y="335.29" width="6.97" height="2.88" fill="#A2A2FF"/>
<rect x="179.53" y="335.29" width="6.97" height="2.88" fill="#0000FF"/>
<rect x="186.10" y="335.29" width="6.97" height="2.88" fill="#FFF3F3"/>
<rect x="192.68" y="335.29" width="6.97" height="2.88" fill="#8282FF"/>
<rect x="199.25" y="335.29" width="6.97" height="2.88" fill="#FF6B6B"/>
<rect x="205.82" y="335.29" width="6.97" height="2.88" fill="#FFB2B2"/>
<rect x="212.40" y="335.29" width="6.97" height="2.88" fill="#FFAFAF"/>
<rect x="218.97" y="335.29" width="6.97" height="2.88" fill="#FF3434"/>
<rect x="225.55" y="335.29" width="6.97" height="2.88" fill="#FF0000"/>
<rect x="232.12" y="335.29" width="6.57" height="2.88" fill="#FFACAC"/>
<rect x="159.80" y="337.77" width="6.97" height="2.88" fill="#9393FF"/>
<rect x="166.38" y="337.77" width="6.97" height="2.88" fill="#7272FF"/>
<rect x="172.95" y="337.77" width="6.97" height="2.88" fill="#8585FF"/>
<rect x="179.53" y="337.77" width="6.97" height="2.88" fill="#5555FF"/>
<rect x="186.10" y="337.77" width="6.97" height="2.88" fill="#F0F0FF"/>
<rect x="192.68" y="337.77" width="6.97" height="2.88" fill="#BBBBFF"/>
<rect x="199.25" y="337.77" width="6.97" height="2.88" fill="#FF6767"/>
<rect x="205.82" y="337.77" width="6.97" height="2.88" fill="#FFDCDC"/>
<rect x="212.40" y="337.77" width="6.97" height="2.88" fill="#FFABAB"/>
<rect x="218.97" y="337.77" width="6.97" height="2.88" fill="#FF6060"/>
<rect x="225.55" y="337.77" width="6.97" height="2.88" fill="#FF1717"/>
<rect x="232.12" y="337.77" width="6.57" height="2.88" fill="#FFE1E1"/>
<rect x="159.80" y="340.25" width="6.97" height="2.88" fill="#5C5CFF"/>
<rect x="166.38" y="340.25" width="6.97" height="2.88" fill="#B7B7FF"/>
<rect x="172.95" y="340.25" width="6.97" height="2.88" fill="#ACACFF"/>
<rect x="179.53" y="340.25" width="6.97" height="2.88" fill="#1414FF"/>
<rect x="186.10" y="340.25" width="6.97" height="2.88" fill="#FFF8F8"/>
<rect x="192.68" y="340.25" width="6.97" height="2.88" fill="#ECECFF"/>
<rect x="199.25" y="340.25" width="6.97" height="2.88" fill="#FFB1B1"/>
<rect x="205.82" y="340.25" width="6.97" height="2.88" fill="#FFB0B0"/>
<rect x="212.40" y="340.25" width="6.97" height="2.88" fill="#FFFAFA"/>
<rect x="218.97" y="340.25" width="6.97" height="2.88" fill="#FF3A3A"/>
<rect x="225.55" y="340.25" width="6.97" height="2.88" fill="#FF1919"/>
<rect x="232.12" y="340.25" width="6.57" height="2.88" fill="#FFA9A9"/>
<rect x="159.80" y="342.74" width="6.97" height="2.88" fill="#9B9BFF"/>
<rect x="166.38" y="342.74" width="6.97" height="2.88" fill="#7878FF"/>
<rect x="172.95" y="342.74" width="6.97" height="2.88" fill="#7878FF"/>
<rect x="179.53" y="342.74" width="6.97" height="2.88" fill="#8C8CFF"/>
<rect x="186.10" y="342.74" width="6.97" height="2.88" fill="#D5D5FF"/>
<rect x="192.68" y="342.74" width="6.97" height="2.88" fill="#E2E2FF"/>
<rect x="199.25" y="342.74" width="6.97" height="2.88" fill="#FF2B2B"/>
<rect x="205.82" y="342.74" width="6.97" height="2.88" fill="#F3F3FF"/>
<rect x="212.40" y="342.74" width="6.97" height="2.88" fill="#C4C4FF"/>
<rect x="218.97" y="342.74" width="6.97" height="2.88" fill="#FFA8A8"/>
<rect x="225.55" y="342.74" width="6.97" height="2.88" fill="#FF0B0B"/>
<rect x="232.12" y="342.74" width="6.57" height="2.88" fill="#FFF8F8"/>
<rect x="159.80" y="345.22" width="6.97" height="2.88" fill="#8D8DFF"/>
<rect x="166.38" y="345.22" width="6.97" height="2.88" fill="#5F5FFF"/>
<rect x="172.95" y="345.22" width="6.97" height="2.88" fill="#9191FF"/>
<rect x="179.53" y="345.22" width="6.97" height="2.88" fill="#7878FF"/>
<rect x="186.10" y="345.22" width="6.97" height="2.88" fill="#DDDDFF"/>
<rect x="192.68" y="345.22" width="6.97" height="2.88" fill="#E1E1FF"/>
<rect x="199.25" y="345.22" width="6.97" height="2.88" fill="#FF6767"/>
<rect x="205.82" y="345.22" width="6.97" height="2.88" fill="#D3D3FF"/>
<rect x="212.40" y="345.22" width="6.97" height="2.88" fill="#E1E1FF"/>
<rect x="218.97" y="345.22" width="6.97" height="2.88" fill="#FF7C7C"/>
<rect x="225.55" y="345.22" width="6.97" height="2.88" fill="#FF0606"/>
<rect x="232.12" y="345.22" width="6.57" height="2.88" fill="#FFCACA"/>
<rect x="159.80" y="347.70" width="6.97" height="2.88" fill="#6969FF"/>
<rect x="166.38" y="347.70" width="6.97" height="2.88" fill="#8888FF"/>
<rect x="172.95" y="347.70" width="6.97" height="2.88" fill="#8D8DFF"/>
<rect x="179.53" y="347.70" width="6.97" height="2.88" fill="#6969FF"/>
<rect x="186.10" y="347.70" width="6.97" height="2.88" fill="#A0A0FF"/>
<rect x="192.68" y="347.70" width="6.97" height="2.88" fill="#F8F8FF"/>
<rect x="199.25" y="347.70" width="6.97" height="2.88" fill="#FF0000"/>
<rect x="205.82" y="347.70" width="6.97" height="2.88" fill="#FFE8E8"/>
<rect x="212.40" y="347.70" width="6.97" height="2.88" fill="#FDFDFF"/>
<rect x="218.97" y="347.70" width="6.97" height="2.88" fill="#FFDCDC"/>
<rect x="225.55" y="347.70" width="6.97" height="2.88" fill="#FFCDCD"/>
<rect x="232.12" y="347.70" width="6.57" height="2.88" fill="#FFC6C6"/>
<rect x="159.80" y="350.19" width="6.97" height="2.88" fill="#B0B0FF"/>
<rect x="166.38" y="350.19" width="6.97" height="2.88" fill="#8282FF"/>
<rect x="172.95" y="350.19" width="6.97" height="2.88" fill="#8080FF"/>
<rect x="179.53" y="350.19" width="6.97" height="2.88" fill="#A2A2FF"/>
<rect x="186.10" y="350.19" width="6.97" height="2.88" fill="#FFF7F7"/>
<rect x="192.68" y="350.19" width="6.97" height="2.88" fill="#CFCFFF"/>
<rect x="199.25" y="350.19" width="6.97" height="2.88" fill="#FF0000"/>
<rect x="205.82" y="350.19" width="6.97" height="2.88" fill="#FFE7E7"/>
<rect x="212.40" y="350.19" width="6.97" height="2.88" fill="#FFE5E5"/>
<rect x="218.97" y="350.19" width="6.97" height="2.88" fill="#FF9393"/>
<rect x="225.55" y="350.19" width="6.97" height="2.88" fill="#FF0000"/>
<rect x="232.12" y="350.19" width="6.57" height="2.88" fill="#E3E3FF"/>
<rect x="159.80" y="352.67" width="6.97" height="2.88" fill="#8A8AFF"/>
<rect x="166.38" y="352.67" width="6.97" height="2.88" fill="#9292FF"/>
<rect x="172.95" y="352.67" width="6.97" height="2.88" fill="#D5D5FF"/>
<rect x="179.53" y="352.67" width="6.97" height="2.88" fill="#8686FF"/>
<rect x="186.10" y="352.67" width="6.97" height="2.88" fill="#F2F2FF"/>
<rect x="192.68" y="352.67" width="6.97" height="2.88" fill="#9A9AFF"/>
<rect x="199.25" y="352.67" width="6.97" height="2.88" fill="#FF1919"/>
<rect x="205.82" y="352.67" width="6.97" height="2.88" fill="#FFCBCB"/>
<rect x="212.40" y="352.67" width="6.97" height="2.88" fill="#FFF7F7"/>
<rect x="218.97" y="352.67" width="6.97" height="2.88" fill="#FFBDBD"/>
<rect x="225.55" y="352.67" width="6.97" height="2.88" fill="#FF0000"/>
<rect x="232.12" y="352.67" width="6.57" height="2.88" fill="#FFE9E9"/>
<rect x="159.80" y="355.15" width="6.97" height="2.88" fill="#7F7FFF"/>
<rect x="166.38" y="355.15" width="6.97" height="2.88" fill="#7D7DFF"/>
<rect x="172.95" y="355.15" width="6.97" height="2.88" fill="#A1A1FF"/>
<rect x="179.53" y="355.15" width="6.97" height="2.88" fill="#6666FF"/>
<rect x="186.10" y="355.15" width="6.97" height="2.88" fill="#FFF6F6"/>
<rect x="192.68" y="355.15" width="6.97" height="2.88" fill="#9191FF"/>
<rect x="199.25" y="355.15" width="6.97" height="2.88" fill="#FF7575"/>
<rect x="205.82" y="355.15" width="6.97" height="2.88" fill="#FFE2E2"/>
<rect x="212.40" y="355.15" width="6.97" height="2.88" fill="#B0B0FF"/>
<rect x="218.97" y="355.15" width="6.97" height="2.88" fill="#FF3131"/>
<rect x="225.55" y="355.15" width="6.97" height="2.88" fill="#FF0000"/>
<rect x="232.12" y="355.15" width="6.57" height="2.88" fill="#E9E9FF"/>
<rect x="159.80" y="357.64" width="6.97" height="2.88" fill="#9090FF"/>
<rect x="166.38" y="357.64" width="6.97" height="2.88" fill="#B9B9FF"/>
<rect x="172.95" y="357.64" width="6.97" height="2.88" fill="#9292FF"/>
<rect x="179.53" y="357.64" width="6.97" height="2.88" fill="#7E7EFF"/>
<rect x="186.10" y="357.64" width="6.97" height="2.88" fill="#CFCFFF"/>
<rect x="192.68" y="357.64" width="6.97" height="2.88" fill="#ADADFF"/>
<rect x="199.25" y="357.64" width="6.97" height="2.88" fill="#FF9494"/>
<rect x="205.82" y="357.64" width="6.97" height="2.88" fill="#D1D1FF"/>
<rect x="212.40" y="357.64" width="6.97" height="2.88" fill="#D6D6FF"/>
<rect x="218.97" y="357.64" width="6.97" height="2.88" fill="#FFB9B9"/>
<rect x="225.55" y="357.64" width="6.97" height="2.88" fill="#FF0000"/>
<rect x="232.12" y="357.64" width="6.57" height="2.88" fill="#FFF6F6"/>
<rect x="159.80" y="360.12" width="6.97" height="2.88" fill="#7272FF"/>
<rect x="166.38" y="360.12" width="6.97" height="2.88" fill="#B2B2FF"/>
<rect x="172.95" y="360.12" width="6.97" height="2.88" fill="#8C8CFF"/>
<rect x="179.53" y="360.12" width="6.97" height="2.88" fill="#8888FF"/>
<rect x="186.10" y="360.12" width="6.97" height="2.88" fill="#FBFBFF"/>
<rect x="192.68" y="360.12" width="6.97" height="2.88" fill="#A7A7FF"/>
<rect x="199.25" y="360.12" width="6.97" height="2.88" fill="#FF5B5B"/>
<rect x="205.82" y="360.12" width="6.97" height="2.88" fill="#D5D5FF"/>
<rect x="212.40" y="360.12" width="6.97" height="2.88" fill="#CBCBFF"/>
<rect x="218.97" y="360.12" width="6.97" height="2.88" fill="#FFF1F1"/>
<rect x="225.55" y="360.12" width="6.97" height="2.88" fill="#FF0000"/>
<rect x="232.12" y="360.12" width="6.57" height="2.88" fill="#FFC3C3"/>
<rect x="159.80" y="362.60" width="6.97" height="2.88" fill="#9797FF"/>
<rect x="166.38" y="362.60" width="6.97" height="2.88" fill="#9292FF"/>
<rect x="172.95" y="362.60" width="6.97" height="2.88" fill="#7171FF"/>
<rect x="179.53" y="362.60" width="6.97" height="2.88" fill="#A0A0FF"/>
<rect x="186.10" y="362.60" width="6.97" height="2.88" fill="#FFF4F4"/>
<rect x="192.68" y="362.60" width="6.97" height="2.88" fill="#E8E8FF"/>
<rect x="199.25" y="362.60" width="6.97" height="2.88" fill="#FF1A1A"/>
<rect x="205.82" y="362.60" width="6.97" height="2.88" fill="#FCFCFF"/>
<rect x="212.40" y="362.60" width="6.97" height="2.88" fill="#EEEEFF"/>
<rect x="218.97" y="362.60" width="6.97" height="2.88" fill="#FF9393"/>
<rect x="225.55" y="362.60" width="6.97" height="2.88" fill="#FF0202"/>
<rect x="232.12" y="362.60" width="6.57" height="2.88" fill="#FFE2E2"/>
<rect x="159.80" y="365.09" width="6.97" height="2.88" fill="#8787FF"/>
<rect x="166.38" y="365.09" width="6.97" height="2.88" fill="#A3A3FF"/>
<rect x="172.95" y="365.09" width="6.97" height="2.88" fill="#AAAAFF"/>
<rect x="179.53" y="365.09" width="6.97" height="2.88" fill="#B0B0FF"/>
<rect x="186.10" y="365.09" width="6.97" height="2.88" fill="#D9D9FF"/>
<rect x="192.68" y="365.09" width="6.97" height="2.88" fill="#ACACFF"/>
<rect x="199.25" y="365.09" width="6.97" height="2.88" fill="#FF0808"/>
<rect x="205.82" y="365.09" width="6.97" height="2.88" fill="#F9F9FF"/>
<rect x="212.40" y="365.09" width="6.97" height="2.88" fill="#AFAFFF"/>
<rect x="218.97" y="365.09" width="6.97" height="2.88" fill="#FF3737"/>
<rect x="225.55" y="365.09" width="6.97" height="2.88" fill="#FF0A0A"/>
<rect x="232.12" y="365.09" width="6.57" height="2.88" fill="#FFBBBB"/>
<rect x="159.80" y="367.57" width="6.97" height="2.88" fill="#9999FF"/>
<rect x="166.38" y="367.57" width="6.97" height="2.88" fill="#8C8CFF"/>
<rect x="172.95" y="367.57" width="6.97" height="2.88" fill="#B3B3FF"/>
<rect x="179.53" y="367.57" width="6.97" height="2.88" fill="#3E3EFF"/>
<rect x="186.10" y="367.57" width="6.97" height="2.88" fill="#F8F8FF"/>
<rect x="192.68" y="367.57" width="6.97" height="2.88" fill="#BDBDFF"/>
<rect x="199.25" y="367.57" width="6.97" height="2.88" fill="#FF2A2A"/>
<rect x="205.82" y="367.57" width="6.97" height="2.88" fill="#FFEAEA"/>
<rect x="212.40" y="367.57" width="6.97" height="2.88" fill="#E8E8FF"/>
<rect x="218.97" y="367.57" width="6.97" height="2.88" fill="#FFB7B7"/>
<rect x="225.55" y="367.57" width="6.97" height="2.88" fill="#FF0000"/>
<rect x="232.12" y="367.57" width="6.57" height="2.88" fill="#FFF3F3"/>
<rect x="159.80" y="370.05" width="6.97" height="2.88" fill="#9696FF"/>
<rect x="166.38" y="370.05" width="6.97" height="2.88" fill="#9494FF"/>
<rect x="172.95" y="370.05" width="6.97" height="2.88" fill="#A6A6FF"/>
<rect x="179.53" y="370.05" width="6.97" height="2.88" fill="#7676FF"/>
<rect x="186.10" y="370.05" width="6.97" height="2.88" fill="#E0E0FF"/>
<rect x="192.68" y="370.05" width="6.97" height="2.88" fill="#E9E9FF"/>
<rect x="199.25" y="370.05" width="6.97" height="2.88" fill="#FF0000"/>
<rect x="205.82" y="370.05" width="6.97" height="2.88" fill="#D7D7FF"/>
<rect x="212.40" y="370.05" width="6.97" height="2.88" fill="#C6C6FF"/>
<rect x="218.97" y="370.05" width="6.97" height="2.88" fill="#FF7777"/>
<rect x="225.55" y="370.05" width="6.97" height="2.88" fill="#FF0F0F"/>
<rect x="232.12" y="370.05" width="6.57" height="2.88" fill="#FFCDCD"/>
<rect x="159.80" y="372.54" width="6.97" height="2.88" fill="#D9D9FF"/>
<rect x="166.38" y="372.54" width="6.97" height="2.88" fill="#9494FF"/>
<rect x="172.95" y="372.54" width="6.97" height="2.88" fill="#9292FF"/>
<rect x="179.53" y="372.54" width="6.97" height="2.88" fill="#9999FF"/>
<rect x="186.10" y="372.54" width="6.97" height="2.88" fill="#FFF5F5"/>
<rect x="192.68" y="372.54" width="6.97" height="2.88" fill="#D5D5FF"/>
<rect x="199.25" y="372.54" width="6.97" height="2.88" fill="#FF2222"/>
<rect x="205.82" y="372.54" width="6.97" height="2.88" fill="#FFF1F1"/>
<rect x="212.40" y="372.54" width="6.97" height="2.88" fill="#B5B5FF"/>
<rect x="218.97" y="372.54" width="6.97" height="2.88" fill="#FFA9A9"/>
<rect x="225.55" y="372.54" width="6.97" height="2.88" fill="#FF0000"/>
<rect x="232.12" y="372.54" width="6.57" height="2.88" fill="#DFDFFF"/>
<rect x="159.80" y="375.02" width="6.97" height="2.88" fill="#6363FF"/>
<rect x="166.38" y="375.02" width="6.97" height="2.88" fill="#F6F6FF"/>
<rect x="172.95" y="375.02" width="6.97" height="2.88" fill="#7777FF"/>
<rect x="179.53" y="375.02" width="6.97" height="2.88" fill="#7F7FFF"/>
<rect x="186.10" y="375.02" width="6.97" height="2.88" fill="#D4D4FF"/>
<rect x="192.68" y="375.02" width="6.97" height="2.88" fill="#ACACFF"/>
<rect x="199.25" y="375.02" width="6.97" height="2.88" fill="#FF0000"/>
<rect x="205.82" y="375.02" width="6.97" height="2.88" fill="#FFFCFC"/>
<rect x="212.40" y="375.02" width="6.97" height="2.88" fill="#D0D0FF"/>
<rect x="218.97" y="375.02" width="6.97" height="2.88" fill="#FF9292"/>
<rect x="225.55" y="375.02" width="6.97" height="2.88" fill="#FF0F0F"/>
<rect x="232.12" y="375.02" width="6.57" height="2.88" fill="#FBFBFF"/>
<rect x="159.80" y="377.51" width="6.97" height="2.88" fill="#A3A3FF"/>
<rect x="166.38" y="377.51" width="6.97" height="2.88" fill="#9494FF"/>
<rect x="172.95" y="377.51" width="6.97" height="2.88" fill="#CECEFF"/>
<rect x="179.53" y="377.51" width="6.97" height="2.88" fill="#9191FF"/>
<rect x="186.10" y="377.51" width="6.97" height="2.88" fill="#FFFAFA"/>
<rect x="192.68" y="377.51" width="6.97" height="2.88" fill="#E0E0FF"/>
<rect x="199.25" y="377.51" width="6.97" height="2.88" fill="#FF8989"/>
<rect x="205.82" y="377.51" width="6.97" height="2.88" fill="#FF6B6B"/>
<rect x="212.40" y="377.51" width="6.97" height="2.88" fill="#FFC1C1"/>
<rect x="218.97" y="377.51" width="6.97" height="2.88" fill="#FFCDCD"/>
<rect x="225.55" y="377.51" width="6.97" height="2.88" fill="#FF0000"/>
<rect x="232.12" y="377.51" width="6.57" height="2.88" fill="#FFCFCF"/>
<rect x="159.80" y="379.99" width="6.97" height="2.88" fill="#6A6AFF"/>
<rect x="166.38" y="379.99" width="6.97" height="2.88" fill="#7878FF"/>
<rect x="172.95" y="379.99" width="6.97" height="2.88" fill="#B0B0FF"/>
<rect x="179.53" y="379.99" width="6.97" height="2.88" fill="#7171FF"/>
<rect x="186.10" y="379.99" width="6.97" height="2.88" fill="#E1E1FF"/>
<rect x="192.68" y="379.99" width="6.97" height="2.88" fill="#EDEDFF"/>
<rect x="199.25" y="379.99" width="6.97" height="2.88" fill="#FF7D7D"/>
<rect x="205.82" y="379.99" width="6.97" height="2.88" fill="#FF2A2A"/>
<rect x="212.40" y="379.99" width="6.97" height="2.88" fill="#FF9F9F"/>
<rect x="218.97" y="379.99" width="6.97" height="2.88" fill="#FFBCBC"/>
<rect x="225.55" y="379.99" width="6.97" height="2.88" fill="#FF0000"/>
<rect x="232.12" y="379.99" width="6.57" height="2.88" fill="#EFEFFF"/>
<rect x="159.80" y="382.47" width="6.97" height="2.88" fill="#8B8BFF"/>
<rect x="166.38" y="382.47" width="6.97" height="2.88" fill="#A4A4FF"/>
<rect x="172.95" y="382.47" width="6.97" height="2.88" fill="#E2E2FF"/>
<rect x="179.53" y="382.47" width="6.97" height="2.88" fill="#8D8DFF"/>
<rect x="186.10" y="382.47" width="6.97" height="2.88" fill="#FFFFFF"/>
<rect x="192.68" y="382.47" width="6.97" height="2.88" fill="#D9D9FF"/>
<rect x="199.25" y="382.47" width="6.97" height="2.88" fill="#FF9595"/>
<rect x="205.82" y="382.47" width="6.97" height="2.88" fill="#FF8181"/>
<rect x="212.40" y="382.47" width="6.97" height="2.88" fill="#FF9797"/>
<rect x="218.97" y="382.47" width="6.97" height="2.88" fill="#FF9292"/>
<rect x="225.55" y="382.47" width="6.97" height="2.88" fill="#FF0202"/>
<rect x="232.12" y="382.47" width="6.57" height="2.88" fill="#F9F9FF"/>
<rect x="159.80" y="384.96" width="6.97" height="2.88" fill="#6D6DFF"/>
<rect x="166.38" y="384.96" width="6.97" height="2.88" fill="#A8A8FF"/>
<rect x="172.95" y="384.96" width="6.97" height="2.88" fill="#6464FF"/>
<rect x="179.53" y="384.96" width="6.97" height="2.88" fill="#B4B4FF"/>
<rect x="186.10" y="384.96" width="6.97" height="2.88" fill="#F0F0FF"/>
<rect x="192.68" y="384.96" width="6.97" height="2.88" fill="#8585FF"/>
<rect x="199.25" y="384.96" width="6.97" height="2.88" fill="#FFD3D3"/>
<rect x="205.82" y="384.96" width="6.97" height="2.88" fill="#FFA0A0"/>
<rect x="212.40" y="384.96" width="6.97" height="2.88" fill="#FFE9E9"/>
<rect x="218.97" y="384.96" width="6.97" height="2.88" fill="#FFF6F6"/>
<rect x="225.55" y="384.96" width="6.97" height="2.88" fill="#FF0303"/>
<rect x="232.12" y="384.96" width="6.57" height="2.88" fill="#FF0000"/>
<rect x="159.80" y="387.44" width="6.97" height="2.88" fill="#8F8FFF"/>
<rect x="166.38" y="387.44" width="6.97" height="2.88" fill="#8E8EFF"/>
<rect x="172.95" y="387.44" width="6.97" height="2.88" fill="#8989FF"/>
<rect x="179.53" y="387.44" width="6.97" height="2.88" fill="#7474FF"/>
<rect x="186.10" y="387.44" width="6.97" height="2.88" fill="#FFFCFC"/>
<rect x="192.68" y="387.44" width="6.97" height="2.88" fill="#AEAEFF"/>
<rect x="199.25" y="387.44" width="6.97" height="2.88" fill="#7F7FFF"/>
<rect x="205.82" y="387.44" width="6.97" height="2.88" fill="#FFC7C7"/>
<rect x="212.40" y="387.44" width="6.97" height="2.88" fill="#E6E6FF"/>
<rect x="218.97" y="387.44" width="6.97" height="2.88" fill="#FFE8E8"/>
<rect x="225.55" y="387.44" width="6.97" height="2.88" fill="#FF0404"/>
<rect x="232.12" y="387.44" width="6.57" height="2.88" fill="#FF6464"/>
<rect x="159.80" y="389.92" width="6.97" height="2.88" fill="#8E8EFF"/>
<rect x="166.38" y="389.92" width="6.97" height="2.88" fill="#7A7AFF"/>
<rect x="172.95" y="389.92" width="6.97" height="2.88" fill="#BFBFFF"/>
<rect x="179.53" y="389.92" width="6.97" height="2.88" fill="#A2A2FF"/>
<rect x="186.10" y="389.92" width="6.97" height="2.88" fill="#FBFBFF"/>
<rect x="192.68" y="389.92" width="6.97" height="2.88" fill="#E9E9FF"/>
<rect x="199.25" y="389.92" width="6.97" height="2.88" fill="#DFDFFF"/>
<rect x="205.82" y="389.92" width="6.97" height="2.88" fill="#FDFDFF"/>
<rect x="212.40" y="389.92" width="6.97" height="2.88" fill="#C5C5FF"/>
<rect x="218.97" y="389.92" width="6.97" height="2.88" fill="#FFBDBD"/>
<rect x="225.55" y="389.92" width="6.97" height="2.88" fill="#FF1212"/>
<rect x="232.12" y="389.92" width="6.57" height="2.88" fill="#FFAAAA"/>
<rect x="159.80" y="392.41" width="6.97" height="2.88" fill="#9B9BFF"/>
<rect x="166.38" y="392.41" width="6.97" height="2.88" fill="#C9C9FF"/>
<rect x="172.95" y="392.41" width="6.97" height="2.88" fill="#B3B3FF"/>
<rect x="179.53" y="392.41" width="6.97" height="2.88" fill="#B0B0FF"/>
<rect x="186.10" y="392.41" width="6.97" height="2.88" fill="#DEDEFF"/>
<rect x="192.68" y="392.41" width="6.97" height="2.88" fill="#B4B4FF"/>
<rect x="199.25" y="392.41" width="6.97" height="2.88" fill="#DEDEFF"/>
<rect x="205.82" y="392.41" width="6.97" height="2.88" fill="#ACACFF"/>
<rect x="212.40" y="392.41" width="6.97" height="2.88" fill="#B9B9FF"/>
<rect x="218.97" y="392.41" width="6.97" height="2.88" fill="#FFF4F4"/>
<rect x="225.55" y="392.41" width="6.97" height="2.88" fill="#FF0707"/>
<rect x="232.12" y="392.41" width="6.57" height="2.88" fill="#FFA1A1"/>
<rect x="159.80" y="394.89" width="6.97" height="2.88" fill="#D4D4FF"/>
<rect x="166.38" y="394.89" width="6.97" height="2.88" fill="#8A8AFF"/>
<rect x="172.95" y="394.89" width="6.97" height="2.88" fill="#9898FF"/>
<rect x="179.53" y="394.89" width="6.97" height="2.88" fill="#3838FF"/>
<rect x="186.10" y="394.89" width="6.97" height="2.88" fill="#FBFBFF"/>
<rect x="192.68" y="394.89" width="6.97" height="2.88" fill="#A6A6FF"/>
<rect x="199.25" y="394.89" width="6.97" height="2.88" fill="#FDFDFF"/>
<rect x="205.82" y="394.89" width="6.97" height="2.88" fill="#B2B2FF"/>
<rect x="212.40" y="394.89" width="6.97" height="2.88" fill="#FFD5D5"/>
<rect x="218.97" y="394.89" width="6.97" height="2.88" fill="#FFE1E1"/>
<rect x="225.55" y="394.89" width="6.97" height="2.88" fill="#FF0000"/>
<rect x="232.12" y="394.89" width="6.57" height="2.88" fill="#FFA9A9"/>
<rect x="159.80" y="397.37" width="6.97" height="2.88" fill="#DADAFF"/>
<rect x="166.38" y="397.37" width="6.97" height="2.88" fill="#7474FF"/>
<rect x="172.95" y="397.37" width="6.97" height="2.88" fill="#6060FF"/>
<rect x="179.53" y="397.37" width="6.97" height="2.88" fill="#6F6FFF"/>
<rect x="186.10" y="397.37" width="6.97" height="2.88" fill="#F9F9FF"/>
<rect x="192.68" y="397.37" width="6.97" height="2.88" fill="#C1C1FF"/>
<rect x="199.25" y="397.37" width="6.97" height="2.88" fill="#FF3D3D"/>
<rect x="205.82" y="397.37" width="6.97" height="2.88" fill="#BCBCFF"/>
<rect x="212.40" y="397.37" width="6.97" height="2.88" fill="#BBBBFF"/>
<rect x="218.97" y="397.37" width="6.97" height="2.88" fill="#B1B1FF"/>
<rect x="225.55" y="397.37" width="6.97" height="2.88" fill="#FF0000"/>
<rect x="232.12" y="397.37" width="6.57" height="2.88" fill="#FF8888"/>
<rect x="159.80" y="399.86" width="6.97" height="2.88" fill="#C2C2FF"/>
<rect x="166.38" y="399.86" width="6.97" height="2.88" fill="#9A9AFF"/>
<rect x="172.95" y="399.86" width="6.97" height="2.88" fill="#6161FF"/>
<rect x="179.53" y="399.86" width="6.97" height="2.88" fill="#A9A9FF"/>
<rect x="186.10" y="399.86" width="6.97" height="2.88" fill="#A0A0FF"/>
<rect x="192.68" y="399.86" width="6.97" height="2.88" fill="#BBBBFF"/>
<rect x="199.25" y="399.86" width="6.97" height="2.88" fill="#FF9595"/>
<rect x="205.82" y="399.86" width="6.97" height="2.88" fill="#E9E9FF"/>
<rect x="212.40" y="399.86" width="6.97" height="2.88" fill="#FFABAB"/>
<rect x="218.97" y="399.86" width="6.97" height="2.88" fill="#FFE6E6"/>
<rect x="225.55" y="399.86" width="6.97" height="2.88" fill="#FF0000"/>
<rect x="232.12" y="399.86" width="6.57" height="2.88" fill="#FFA8A8"/>
<rect x="159.80" y="402.34" width="6.97" height="2.88" fill="#9B9BFF"/>
<rect x="166.38" y="402.34" width="6.97" height="2.88" fill="#8383FF"/>
<rect x="172.95" y="402.34" width="6.97" height="2.88" fill="#A6A6FF"/>
<rect x="179.53" y="402.34" width="6.97" height="2.88" fill="#8D8DFF"/>
<rect x="186.10" y="402.34" width="6.97" height="2.88" fill="#BDBDFF"/>
<rect x="192.68" y="402.34" width="6.97" height="2.88" fill="#BCBCFF"/>
<rect x="199.25" y="402.34" width="6.97" height="2.88" fill="#FF4C4C"/>
<rect x="205.82" y="402.34" width="6.97" height="2.88" fill="#FCFCFF"/>
<rect x="212.40" y="402.34" width="6.97" height="2.88" fill="#FFB8B8"/>
<rect x="218.97" y="402.34" width="6.97" height="2.88" fill="#FFF7F7"/>
<rect x="225.55" y="402.34" width="6.97" height="2.88" fill="#FF0000"/>
<rect x="232.12" y="402.34" width="6.57" height="2.88" fill="#FF9090"/>
<rect x="159.80" y="404.82" width="6.97" height="2.88" fill="#4E4EFF"/>
<rect x="166.38" y="404.82" width="6.97" height="2.88" fill="#4C4CFF"/>
<rect x="172.95" y="404.82" width="6.97" height="2.88" fill="#5C5CFF"/>
<rect x="179.53" y="404.82" width="6.97" height="2.88" fill="#A5A5FF"/>
<rect x="186.10" y="404.82" width="6.97" height="2.88" fill="#B8B8FF"/>
<rect x="192.68" y="404.82" width="6.97" height="2.88" fill="#9898FF"/>
<rect x="199.25" y="404.82" width="6.97" height="2.88" fill="#FFABAB"/>
<rect x="205.82" y="404.82" width="6.97" height="2.88" fill="#FFF0F0"/>
<rect x="212.40" y="404.82" width="6.97" height="2.88" fill="#FF7E7E"/>
<rect x="218.97" y="404.82" width="6.97" height="2.88" fill="#FFEEEE"/>
<rect x="225.55" y="404.82" width="6.97" height="2.88" fill="#FF0202"/>
<rect x="232.12" y="404.82" width="6.57" height="2.88" fill="#FFF4F4"/>
<rect x="159.80" y="407.31" width="6.97" height="2.88" fill="#9494FF"/>
<rect x="166.38" y="407.31" width="6.97" height="2.88" fill="#9898FF"/>
<rect x="172.95" y="407.31" width="6.97" height="2.88" fill="#5E5EFF"/>
<rect x="179.53" y="407.31" width="6.97" height="2.88" fill="#AAAAFF"/>
<rect x="186.10" y="407.31" width="6.97" height="2.88" fill="#B5B5FF"/>
<rect x="192.68" y="407.31" width="6.97" height="2.88" fill="#6F6FFF"/>
<rect x="199.25" y="407.31" width="6.97" height="2.88" fill="#FF3838"/>
<rect x="205.82" y="407.31" width="6.97" height="2.88" fill="#ECECFF"/>
<rect x="212.40" y="407.31" width="6.97" height="2.88" fill="#FF5555"/>
<rect x="218.97" y="407.31" width="6.97" height="2.88" fill="#FF9C9C"/>
<rect x="225.55" y="407.31" width="6.97" height="2.88" fill="#FF0D0D"/>
<rect x="232.12" y="407.31" width="6.57" height="2.88" fill="#FF8E8E"/>
<rect x="159.80" y="409.79" width="6.97" height="2.88" fill="#8D8DFF"/>
<rect x="166.38" y="409.79" width="6.97" height="2.88" fill="#8A8AFF"/>
<rect x="172.95" y="409.79" width="6.97" height="2.88" fill="#CBCBFF"/>
<rect x="179.53" y="409.79" width="6.97" height="2.88" fill="#5555FF"/>
<rect x="186.10" y="409.79" width="6.97" height="2.88" fill="#C4C4FF"/>
<rect x="192.68" y="409.79" width="6.97" height="2.88" fill="#C4C4FF"/>
<rect x="199.25" y="409.79" width="6.97" height="2.88" fill="#FFE4E4"/>
<rect x="205.82" y="409.79" width="6.97" height="2.88" fill="#FFF8F8"/>
<rect x="212.40" y="409.79" width="6.97" height="2.88" fill="#FFDCDC"/>
<rect x="218.97" y="409.79" width="6.97" height="2.88" fill="#FF6F6F"/>
<rect x="225.55" y="409.79" width="6.97" height="2.88" fill="#FF1111"/>
<rect x="232.12" y="409.79" width="6.57" height="2.88" fill="#FF6464"/>
<rect x="159.80" y="412.27" width="6.97" height="2.88" fill="#9292FF"/>
<rect x="166.38" y="412.27" width="6.97" height="2.88" fill="#4F4FFF"/>
<rect x="172.95" y="412.27" width="6.97" height="2.88" fill="#4545FF"/>
<rect x="179.53" y="412.27" width="6.97" height="2.88" fill="#D1D1FF"/>
<rect x="186.10" y="412.27" width="6.97" height="2.88" fill="#D2D2FF"/>
<rect x="192.68" y="412.27" width="6.97" height="2.88" fill="#8181FF"/>
<rect x="199.25" y="412.27" width="6.97" height="2.88" fill="#FFA8A8"/>
<rect x="205.82" y="412.27" width="6.97" height="2.88" fill="#FFFFFF"/>
<rect x="212.40" y="412.27" width="6.97" height="2.88" fill="#FFD8D8"/>
<rect x="218.97" y="412.27" width="6.97" height="2.88" fill="#FFA5A5"/>
<rect x="225.55" y="412.27" width="6.97" height="2.88" fill="#FF0000"/>
<rect x="232.12" y="412.27" width="6.57" height="2.88" fill="#FF7979"/>
<rect x="159.80" y="414.76" width="6.97" height="2.88" fill="#8282FF"/>
<rect x="166.38" y="414.76" width="6.97" height="2.88" fill="#E4E4FF"/>
<rect x="172.95" y="414.76" width="6.97" height="2.88" fill="#C8C8FF"/>
<rect x="179.53" y="414.76" width="6.97" height="2.88" fill="#7272FF"/>
<rect x="186.10" y="414.76" width="6.97" height="2.88" fill="#FFF7F7"/>
<rect x="192.68" y="414.76" width="6.97" height="2.88" fill="#9A9AFF"/>
<rect x="199.25" y="414.76" width="6.97" height="2.88" fill="#FF9090"/>
<rect x="205.82" y="414.76" width="6.97" height="2.88" fill="#FFF8F8"/>
<rect x="212.40" y="414.76" width="6.97" height="2.88" fill="#FEFEFF"/>
<rect x="218.97" y="414.76" width="6.97" height="2.88" fill="#FF8787"/>
<rect x="225.55" y="414.76" width="6.97" height="2.88" fill="#FF0000"/>
<rect x="232.12" y="414.76" width="6.57" height="2.88" fill="#FF8282"/>
<rect x="159.80" y="417.24" width="6.97" height="2.88" fill="#7171FF"/>
<rect x="166.38" y="417.24" width="6.97" height="2.88" fill="#B8B8FF"/>
<rect x="172.95" y="417.24" width="6.97" height="2.88" fill="#8F8FFF"/>
<rect x="179.53" y="417.24" width="6.97" height="2.88" fill="#DDDDFF"/>
<rect x="186.10" y="417.24" width="6.97" height="2.88" fill="#FFCECE"/>
<rect x="192.68" y="417.24" width="6.97" height="2.88" fill="#9E9EFF"/>
<rect x="199.25" y="417.24" width="6.97" height="2.88" fill="#FF8585"/>
<rect x="205.82" y="417.24" width="6.97" height="2.88" fill="#FFF6F6"/>
<rect x="212.40" y="417.24" width="6.97" height="2.88" fill="#EBEBFF"/>
<rect x="218.97" y="417.24" width="6.97" height="2.88" fill="#FF8C8C"/>
<rect x="225.55" y="417.24" width="6.97" height="2.88" fill="#FF0202"/>
<rect x="232.12" y="417.24" width="6.57" height="2.88" fill="#FF3A3A"/>
<rect x="159.80" y="419.72" width="6.97" height="2.88" fill="#E1E1FF"/>
<rect x="166.38" y="419.72" width="6.97" height="2.88" fill="#8989FF"/>
<rect x="172.95" y="419.72" width="6.97" height="2.88" fill="#7D7DFF"/>
<rect x="179.53" y="419.72" width="6.97" height="2.88" fill="#7D7DFF"/>
<rect x="186.10" y="419.72" width="6.97" height="2.88" fill="#D9D9FF"/>
<rect x="192.68" y="419.72" width="6.97" height="2.88" fill="#9D9DFF"/>
<rect x="199.25" y="419.72" width="6.97" height="2.88" fill="#FFA9A9"/>
<rect x="205.82" y="419.72" width="6.97" height="2.88" fill="#A5A5FF"/>
<rect x="212.40" y="419.72" width="6.97" height="2.88" fill="#EBEBFF"/>
<rect x="218.97" y="419.72" width="6.97" height="2.88" fill="#FF7F7F"/>
<rect x="225.55" y="419.72" width="6.97" height="2.88" fill="#FF0000"/>
<rect x="232.12" y="419.72" width="6.57" height="2.88" fill="#FFB0B0"/>
<rect x="159.80" y="422.21" width="6.97" height="2.88" fill="#A0A0FF"/>
<rect x="166.38" y="422.21" width="6.97" height="2.88" fill="#9696FF"/>
<rect x="172.95" y="422.21" width="6.97" height="2.88" fill="#8E8EFF"/>
<rect x="179.53" y="422.21" width="6.97" height="2.88" fill="#8686FF"/>
<rect x="186.10" y="422.21" width="6.97" height="2.88" fill="#FFBABA"/>
<rect x="192.68" y="422.21" width="6.97" height="2.88" fill="#A9A9FF"/>
<rect x="199.25" y="422.21" width="6.97" height="2.88" fill="#FF9D9D"/>
<rect x="205.82" y="422.21" width="6.97" height="2.88" fill="#EFEFFF"/>
<rect x="212.40" y="422.21" width="6.97" height="2.88" fill="#FFE1E1"/>
<rect x="218.97" y="422.21" width="6.97" height="2.88" fill="#FFC9C9"/>
<rect x="225.55" y="422.21" width="6.97" height="2.88" fill="#FF0F0F"/>
<rect x="232.12" y="422.21" width="6.57" height="2.88" fill="#FF9A9A"/>
<rect x="159.80" y="424.69" width="6.97" height="2.88" fill="#9898FF"/>
<rect x="166.38" y="424.69" width="6.97" height="2.88" fill="#A5A5FF"/>
<rect x="172.95" y="424.69" width="6.97" height="2.88" fill="#9E9EFF"/>
<rect x="179.53" y="424.69" width="6.97" height="2.88" fill="#4747FF"/>
<rect x="186.10" y="424.69" width="6.97" height="2.88" fill="#EFEFFF"/>
<rect x="192.68" y="424.69" width="6.97" height="2.88" fill="#8C8CFF"/>
<rect x="199.25" y="424.69" width="6.97" height="2.88" fill="#FFA2A2"/>
<rect x="205.82" y="424.69" width="6.97" height="2.88" fill="#F1F1FF"/>
<rect x="212.40" y="424.69" width="6.97" height="2.88" fill="#FEFEFF"/>
<rect x="218.97" y="424.69" width="6.97" height="2.88" fill="#FF9090"/>
<rect x="225.55" y="424.69" width="6.97" height="2.88" fill="#FF0000"/>
<rect x="232.12" y="424.69" width="6.57" height="2.88" fill="#FF4B4B"/>
<rect x="159.80" y="427.17" width="6.97" height="2.88" fill="#6E6EFF"/>
<rect x="166.38" y="427.17" width="6.97" height="2.88" fill="#8989FF"/>
<rect x="172.95" y="427.17" width="6.97" height="2.88" fill="#8080FF"/>
<rect x="179.53" y="427.17" width="6.97" height="2.88" fill="#6D6DFF"/>
<rect x="186.10" y="427.17" width="6.97" height="2.88" fill="#C2C2FF"/>
<rect x="192.68" y="427.17" width="6.97" height="2.88" fill="#AFAFFF"/>
<rect x="199.25" y="427.17" width="6.97" height="2.88" fill="#FFA9A9"/>
<rect x="205.82" y="427.17" width="6.97" height="2.88" fill="#FFDADA"/>
<rect x="212.40" y="427.17" width="6.97" height="2.88" fill="#FFE3E3"/>
<rect x="218.97" y="427.17" width="6.97" height="2.88" fill="#FFEAEA"/>
<rect x="225.55" y="427.17" width="6.97" height="2.88" fill="#FF0F0F"/>
<rect x="232.12" y="427.17" width="6.57" height="2.88" fill="#FFB7B7"/>
<rect x="159.80" y="429.66" width="6.97" height="2.88" fill="#8E8EFF"/>
<rect x="166.38" y="429.66" width="6.97" height="2.88" fill="#9191FF"/>
<rect x="172.95" y="429.66" width="6.97" height="2.88" fill="#C9C9FF"/>
<rect x="179.53" y="429.66" width="6.97" height="2.88" fill="#8D8DFF"/>
<rect x="186.10" y="429.66" width="6.97" height="2.88" fill="#A1A1FF"/>
<rect x="192.68" y="429.66" width="6.97" height="2.88" fill="#8080FF"/>
<rect x="199.25" y="429.66" width="6.97" height="2.88" fill="#FFBDBD"/>
<rect x="205.82" y="429.66" width="6.97" height="2.88" fill="#FFB3B3"/>
<rect x="212.40" y="429.66" width="6.97" height="2.88" fill="#FFDADA"/>
<rect x="218.97" y="429.66" width="6.97" height="2.88" fill="#FFF1F1"/>
<rect x="225.55" y="429.66" width="6.97" height="2.88" fill="#FF0606"/>
<rect x="232.12" y="429.66" width="6.57" height="2.88" fill="#FFF9F9"/>
<rect x="159.80" y="432.14" width="6.97" height="2.88" fill="#A9A9FF"/>
<rect x="166.38" y="432.14" width="6.97" height="2.88" fill="#E9E9FF"/>
<rect x="172.95" y="432.14" width="6.97" height="2.88" fill="#ABABFF"/>
<rect x="179.53" y="432.14" width="6.97" height="2.88" fill="#6868FF"/>
<rect x="186.10" y="432.14" width="6.97" height="2.88" fill="#DFDFFF"/>
<rect x="192.68" y="432.14" width="6.97" height="2.88" fill="#B3B3FF"/>
<rect x="199.25" y="432.14" width="6.97" height="2.88" fill="#FFBBBB"/>
<rect x="205.82" y="432.14" width="6.97" height="2.88" fill="#FF9999"/>
<rect x="212.40" y="432.14" width="6.97" height="2.88" fill="#EFEFFF"/>
<rect x="218.97" y="432.14" width="6.97" height="2.88" fill="#FFEDED"/>
<rect x="225.55" y="432.14" width="6.97" height="2.88" fill="#FF0C0C"/>
<rect x="232.12" y="432.14" width="6.57" height="2.88" fill="#FAFAFF"/>
<rect x="159.80" y="434.62" width="6.97" height="2.88" fill="#5151FF"/>
<rect x="166.38" y="434.62" width="6.97" height="2.88" fill="#4444FF"/>
<rect x="172.95" y="434.62" width="6.97" height="2.88" fill="#8989FF"/>
<rect x="179.53" y="434.62" width="6.97" height="2.88" fill="#7575FF"/>
<rect x="186.10" y="434.62" width="6.97" height="2.88" fill="#B4B4FF"/>
<rect x="192.68" y="434.62" width="6.97" height="2.88" fill="#A4A4FF"/>
<rect x="199.25" y="434.62" width="6.97" height="2.88" fill="#FFA9A9"/>
<rect x="205.82" y="434.62" width="6.97" height="2.88" fill="#FF9292"/>
<rect x="212.40" y="434.62" width="6.97" height="2.88" fill="#B8B8FF"/>
<rect x="218.97" y="434.62" width="6.97" height="2.88" fill="#FFCECE"/>
<rect x="225.55" y="434.62" width="6.97" height="2.88" fill="#FF0000"/>
<rect x="232.12" y="434.62" width="6.57" height="2.88" fill="#FAFAFF"/>
<rect x="159.80" y="437.11" width="6.97" height="2.88" fill="#7878FF"/>
<rect x="166.38" y="437.11" width="6.97" height="2.88" fill="#9B9BFF"/>
<rect x="172.95" y="437.11" width="6.97" height="2.88" fill="#5A5AFF"/>
<rect x="179.53" y="437.11" width="6.97" height="2.88" fill="#C5C5FF"/>
<rect x="186.10" y="437.11" width="6.97" height="2.88" fill="#DEDEFF"/>
<rect x="192.68" y="437.11" width="6.97" height="2.88" fill="#A2A2FF"/>
<rect x="199.25" y="437.11" width="6.97" height="2.88" fill="#FFF9F9"/>
<rect x="205.82" y="437.11" width="6.97" height="2.88" fill="#FFA4A4"/>
<rect x="212.40" y="437.11" width="6.97" height="2.88" fill="#FFDBDB"/>
<rect x="218.97" y="437.11" width="6.97" height="2.88" fill="#FFC2C2"/>
<rect x="225.55" y="437.11" width="6.97" height="2.88" fill="#FF0E0E"/>
<rect x="232.12" y="437.11" width="6.57" height="2.88" fill="#FFD0D0"/>
<rect x="159.80" y="439.59" width="6.97" height="2.88" fill="#D0D0FF"/>
<rect x="166.38" y="439.59" width="6.97" height="2.88" fill="#7B7BFF"/>
<rect x="172.95" y="439.59" width="6.97" height="2.88" fill="#9292FF"/>
<rect x="179.53" y="439.59" width="6.97" height="2.88" fill="#8888FF"/>
<rect x="186.10" y="439.59" width="6.97" height="2.88" fill="#CECEFF"/>
<rect x="192.68" y="439.59" width="6.97" height="2.88" fill="#8B8BFF"/>
<rect x="199.25" y="439.59" width="6.97" height="2.88" fill="#FF6565"/>
<rect x="205.82" y="439.59" width="6.97" height="2.88" fill="#FFE3E3"/>
<rect x="212.40" y="439.59" width="6.97" height="2.88" fill="#CBCBFF"/>
<rect x="218.97" y="439.59" width="6.97" height="2.88" fill="#FFF4F4"/>
<rect x="225.55" y="439.59" width="6.97" height="2.88" fill="#FF0B0B"/>
<rect x="232.12" y="439.59" width="6.57" height="2.88" fill="#FFF2F2"/>
<rect x="159.80" y="442.07" width="6.97" height="2.88" fill="#6E6EFF"/>
<rect x="166.38" y="442.07" width="6.97" height="2.88" fill="#9090FF"/>
<rect x="172.95" y="442.07" width="6.97" height="2.88" fill="#D9D9FF"/>
<rect x="179.53" y="442.07" width="6.97" height="2.88" fill="#5656FF"/>
<rect x="186.10" y="442.07" width="6.97" height="2.88" fill="#CACAFF"/>
<rect x="192.68" y="442.07" width="6.97" height="2.88" fill="#C3C3FF"/>
<rect x="199.25" y="442.07" width="6.97" height="2.88" fill="#FFA7A7"/>
<rect x="205.82" y="442.07" width="6.97" height="2.88" fill="#FFE8E8"/>
<rect x="212.40" y="442.07" width="6.97" height="2.88" fill="#9F9FFF"/>
<rect x="218.97" y="442.07" width="6.97" height="2.88" fill="#FFD6D6"/>
<rect x="225.55" y="442.07" width="6.97" height="2.88" fill="#FF0000"/>
<rect x="232.12" y="442.07" width="6.57" height="2.88" fill="#FFF5F5"/>
<rect x="159.80" y="444.56" width="6.97" height="2.88" fill="#8A8AFF"/>
<rect x="166.38" y="444.56" width="6.97" height="2.88" fill="#7E7EFF"/>
<rect x="172.95" y="444.56" width="6.97" height="2.88" fill="#6767FF"/>
<rect x="179.53" y="444.56" width="6.97" height="2.88" fill="#8C8CFF"/>
<rect x="186.10" y="444.56" width="6.97" height="2.88" fill="#FFEDED"/>
<rect x="192.68" y="444.56" width="6.97" height="2.88" fill="#AAAAFF"/>
<rect x="199.25" y="444.56" width="6.97" height="2.88" fill="#FFA3A3"/>
<rect x="205.82" y="444.56" width="6.97" height="2.88" fill="#FFB7B7"/>
<rect x="212.40" y="444.56" width="6.97" height="2.88" fill="#FFD9D9"/>
<rect x="218.97" y="444.56" width="6.97" height="2.88" fill="#F5F5FF"/>
<rect x="225.55" y="444.56" width="6.97" height="2.88" fill="#FF0000"/>
<rect x="232.12" y="444.56" width="6.57" height="2.88" fill="#FFB7B7"/>
<rect x="159.80" y="447.04" width="6.97" height="2.88" fill="#7F7FFF"/>
<rect x="166.38" y="447.04" width="6.97" height="2.88" fill="#8E8EFF"/>
<rect x="172.95" y="447.04" width="6.97" height="2.88" fill="#ADADFF"/>
<rect x="179.53" y="447.04" width="6.97" height="2.88" fill="#A9A9FF"/>
<rect x="186.10" y="447.04" width="6.97" height="2.88" fill="#DBDBFF"/>
<rect x="192.68" y="447.04" width="6.97" height="2.88" fill="#B8B8FF"/>
<rect x="199.25" y="447.04" width="6.97" height="2.88" fill="#FFAEAE"/>
<rect x="205.82" y="447.04" width="6.97" height="2.88" fill="#FFDADA"/>
<rect x="212.40" y="447.04" width="6.97" height="2.88" fill="#FCFCFF"/>
<rect x="218.97" y="447.04" width="6.97" height="2.88" fill="#FFF3F3"/>
<rect x="225.55" y="447.04" width="6.97" height="2.88" fill="#FF0707"/>
<rect x="232.12" y="447.04" width="6.57" height="2.88" fill="#FFDCDC"/>
<rect x="159.80" y="449.53" width="6.97" height="2.88" fill="#6565FF"/>
<rect x="166.38" y="449.53" width="6.97" height="2.88" fill="#4545FF"/>
<rect x="172.95" y="449.53" width="6.97" height="2.88" fill="#9B9BFF"/>
<rect x="179.53" y="449.53" width="6.97" height="2.88" fill="#7E7EFF"/>
<rect x="186.10" y="449.53" width="6.97" height="2.88" fill="#CFCFFF"/>
<rect x="192.68" y="449.53" width="6.97" height="2.88" fill="#C1C1FF"/>
<rect x="199.25" y="449.53" width="6.97" height="2.88" fill="#FF7070"/>
<rect x="205.82" y="449.53" width="6.97" height="2.88" fill="#FFBFBF"/>
<rect x="212.40" y="449.53" width="6.97" height="2.88" fill="#D2D2FF"/>
<rect x="218.97" y="449.53" width="6.97" height="2.88" fill="#FFAFAF"/>
<rect x="225.55" y="449.53" width="6.97" height="2.88" fill="#FF0000"/>
<rect x="232.12" y="449.53" width="6.57" height="2.88" fill="#FF9898"/>
<rect x="159.80" y="452.01" width="6.97" height="2.88" fill="#C4C4FF"/>
<rect x="166.38" y="452.01" width="6.97" height="2.88" fill="#7777FF"/>
<rect x="172.95" y="452.01" width="6.97" height="2.88" fill="#ACACFF"/>
<rect x="179.53" y="452.01" width="6.97" height="2.88" fill="#5858FF"/>
<rect x="186.10" y="452.01" width="6.97" height="2.88" fill="#E5E5FF"/>
<rect x="192.68" y="452.01" width="6.97" height="2.88" fill="#B2B2FF"/>
<rect x="199.25" y="452.01" width="6.97" height="2.88" fill="#FF0D0D"/>
<rect x="205.82" y="452.01" width="6.97" height="2.88" fill="#FFEDED"/>
<rect x="212.40" y="452.01" width="6.97" height="2.88" fill="#BDBDFF"/>
<rect x="218.97" y="452.01" width="6.97" height="2.88" fill="#FFB7B7"/>
<rect x="225.55" y="452.01" width="6.97" height="2.88" fill="#FF0000"/>
<rect x="232.12" y="452.01" width="6.57" height="2.88" fill="#FF8E8E"/>
<rect x="159.80" y="454.49" width="6.97" height="2.88" fill="#8B8BFF"/>
<rect x="166.38" y="454.49" width="6.97" height="2.88" fill="#4949FF"/>
<rect x="172.95" y="454.49" width="6.97" height="2.88" fill="#8C8CFF"/>
<rect x="179.53" y="454.49" width="6.97" height="2.88" fill="#D6D6FF"/>
<rect x="186.10" y="454.49" width="6.97" height="2.88" fill="#EEEEFF"/>
<rect x="192.68" y="454.49" width="6.97" height="2.88" fill="#9595FF"/>
<rect x="199.25" y="454.49" width="6.97" height="2.88" fill="#FF4646"/>
<rect x="205.82" y="454.49" width="6.97" height="2.88" fill="#F6F6FF"/>
<rect x="212.40" y="454.49" width="6.97" height="2.88" fill="#BDBDFF"/>
<rect x="218.97" y="454.49" width="6.97" height="2.88" fill="#FFE3E3"/>
<rect x="225.55" y="454.49" width="6.97" height="2.88" fill="#FF0707"/>
<rect x="232.12" y="454.49" width="6.57" height="2.88" fill="#FFC4C4"/>
<rect x="159.80" y="456.98" width="6.97" height="2.88" fill="#8B8BFF"/>
<rect x="166.38" y="456.98" width="6.97" height="2.88" fill="#E9E9FF"/>
<rect x="172.95" y="456.98" width="6.97" height="2.88" fill="#7C7CFF"/>
<rect x="179.53" y="456.98" width="6.97" height="2.88" fill="#A6A6FF"/>
<rect x="186.10" y="456.98" width="6.97" height="2.88" fill="#FFFFFF"/>
<rect x="192.68" y="456.98" width="6.97" height="2.88" fill="#DADAFF"/>
<rect x="199.25" y="456.98" width="6.97" height="2.88" fill="#FF0D0D"/>
<rect x="205.82" y="456.98" width="6.97" height="2.88" fill="#FFB6B6"/>
<rect x="212.40" y="456.98" width="6.97" height="2.88" fill="#B9B9FF"/>
<rect x="218.97" y="456.98" width="6.97" height="2.88" fill="#FFA8A8"/>
<rect x="225.55" y="456.98" width="6.97" height="2.88" fill="#FF0202"/>
<rect x="232.12" y="456.98" width="6.57" height="2.88" fill="#FFC9C9"/>
<rect x="159.80" y="459.46" width="6.97" height="2.88" fill="#A8A8FF"/>
<rect x="166.38" y="459.46" width="6.97" height="2.88" fill="#8888FF"/>
<rect x="172.95" y="459.46" width="6.97" height="2.88" fill="#B0B0FF"/>
<rect x="179.53" y="459.46" width="6.97" height="2.88" fill="#DCDCFF"/>
<rect x="186.10" y="459.46" width="6.97" height="2.88" fill="#FFE0E0"/>
<rect x="192.68" y="459.46" width="6.97" height="2.88" fill="#FFF6F6"/>
<rect x="199.25" y="459.46" width="6.97" height="2.88" fill="#E5E5FF"/>
<rect x="205.82" y="459.46" width="6.97" height="2.88" fill="#FFF2F2"/>
<rect x="212.40" y="459.46" width="6.97" height="2.88" fill="#FFB3B3"/>
<rect x="218.97" y="459.46" width="6.97" height="2.88" fill="#FF1919"/>
<rect x="225.55" y="459.46" width="6.97" height="2.88" fill="#EBEBFF"/>
<rect x="232.12" y="459.46" width="6.57" height="2.88" fill="#FF0202"/>
<rect x="159.80" y="461.94" width="6.97" height="2.88" fill="#C7C7FF"/>
<rect x="166.38" y="461.94" width="6.97" height="2.88" fill="#4E4EFF"/>
<rect x="172.95" y="461.94" width="6.97" height="2.88" fill="#9F9FFF"/>
<rect x="179.53" y="461.94" width="6.97" height="2.88" fill="#7B7BFF"/>
<rect x="186.10" y="461.94" width="6.97" height="2.88" fill="#E6E6FF"/>
<rect x="192.68" y="461.94" width="6.97" height="2.88" fill="#B5B5FF"/>
<rect x="199.25" y="461.94" width="6.97" height="2.88" fill="#FFEEEE"/>
<rect x="205.82" y="461.94" width="6.97" height="2.88" fill="#FFD6D6"/>
<rect x="212.40" y="461.94" width="6.97" height="2.88" fill="#FF7777"/>
<rect x="218.97" y="461.94" width="6.97" height="2.88" fill="#FF5454"/>
<rect x="225.55" y="461.94" width="6.97" height="2.88" fill="#E0E0FF"/>
<rect x="232.12" y="461.94" width="6.57" height="2.88" fill="#FF0F0F"/>
<rect x="159.80" y="464.43" width="6.97" height="2.88" fill="#A4A4FF"/>
<rect x="166.38" y="464.43" width="6.97" height="2.88" fill="#A3A3FF"/>
<rect x="172.95" y="464.43" width="6.97" height="2.88" fill="#7878FF"/>
<rect x="179.53" y="464.43" width="6.97" height="2.88" fill="#5555FF"/>
<rect x="186.10" y="464.43" width="6.97" height="2.88" fill="#F6F6FF"/>
<rect x="192.68" y="464.43" width="6.97" height="2.88" fill="#D7D7FF"/>
<rect x="199.25" y="464.43" width="6.97" height="2.88" fill="#FFAEAE"/>
<rect x="205.82" y="464.43" width="6.97" height="2.88" fill="#FFEFEF"/>
<rect x="212.40" y="464.43" width="6.97" height="2.88" fill="#FFA4A4"/>
<rect x="218.97" y="464.43" width="6.97" height="2.88" fill="#FFD0D0"/>
<rect x="225.55" y="464.43" width="6.97" height="2.88" fill="#D6D6FF"/>
<rect x="232.12" y="464.43" width="6.57" height="2.88" fill="#FF0000"/>
<rect x="159.80" y="466.91" width="6.97" height="2.88" fill="#8989FF"/>
<rect x="166.38" y="466.91" width="6.97" height="2.88" fill="#EAEAFF"/>
<rect x="172.95" y="466.91" width="6.97" height="2.88" fill="#A0A0FF"/>
<rect x="179.53" y="466.91" width="6.97" height="2.88" fill="#8282FF"/>
<rect x="186.10" y="466.91" width="6.97" height="2.88" fill="#FFD2D2"/>
<rect x="192.68" y="466.91" width="6.97" height="2.88" fill="#BBBBFF"/>
<rect x="199.25" y="466.91" width="6.97" height="2.88" fill="#EFEFFF"/>
<rect x="205.82" y="466.91" width="6.97" height="2.88" fill="#E4E4FF"/>
<rect x="212.40" y="466.91" width="6.97" height="2.88" fill="#FFD3D3"/>
<rect x="218.97" y="466.91" width="6.97" height="2.88" fill="#FF3333"/>
<rect x="225.55" y="466.91" width="6.97" height="2.88" fill="#FCFCFF"/>
<rect x="232.12" y="466.91" width="6.57" height="2.88" fill="#FF0000"/>
<rect x="159.80" y="469.39" width="6.97" height="2.88" fill="#D2D2FF"/>
<rect x="166.38" y="469.39" width="6.97" height="2.88" fill="#7B7BFF"/>
<rect x="172.95" y="469.39" width="6.97" height="2.88" fill="#7E7EFF"/>
<rect x="179.53" y="469.39" width="6.97" height="2.88" fill="#8484FF"/>
<rect x="186.10" y="469.39" width="6.97" height="2.88" fill="#FFF9F9"/>
<rect x="192.68" y="469.39" width="6.97" height="2.88" fill="#F6F6FF"/>
<rect x="199.25" y="469.39" width="6.97" height="2.88" fill="#FCFCFF"/>
<rect x="205.82" y="469.39" width="6.97" height="2.88" fill="#FFC9C9"/>
<rect x="212.40" y="469.39" width="6.97" height="2.88" fill="#FF9B9B"/>
<rect x="218.97" y="469.39" width="6.97" height="2.88" fill="#FFE3E3"/>
<rect x="225.55" y="469.39" width="6.97" height="2.88" fill="#FFEAEA"/>
<rect x="232.12" y="469.39" width="6.57" height="2.88" fill="#FF0101"/>
<rect x="159.80" y="471.88" width="6.97" height="2.88" fill="#B3B3FF"/>
<rect x="166.38" y="471.88" width="6.97" height="2.88" fill="#A6A6FF"/>
<rect x="172.95" y="471.88" width="6.97" height="2.88" fill="#9C9CFF"/>
<rect x="179.53" y="471.88" width="6.97" height="2.88" fill="#7E7EFF"/>
<rect x="186.10" y="471.88" width="6.97" height="2.88" fill="#DEDEFF"/>
<rect x="192.68" y="471.88" width="6.97" height="2.88" fill="#FFE3E3"/>
<rect x="199.25" y="471.88" width="6.97" height="2.88" fill="#F8F8FF"/>
<rect x="205.82" y="471.88" width="6.97" height="2.88" fill="#FFCFCF"/>
<rect x="212.40" y="471.88" width="6.97" height="2.88" fill="#FFACAC"/>
<rect x="218.97" y="471.88" width="6.97" height="2.88" fill="#FF7373"/>
<rect x="225.55" y="471.88" width="6.97" height="2.88" fill="#ECECFF"/>
<rect x="232.12" y="471.88" width="6.57" height="2.88" fill="#FF0000"/>
<rect x="159.80" y="474.36" width="6.97" height="2.88" fill="#6C6CFF"/>
<rect x="166.38" y="474.36" width="6.97" height="2.88" fill="#B2B2FF"/>
<rect x="172.95" y="474.36" width="6.97" height="2.88" fill="#9494FF"/>
<rect x="179.53" y="474.36" width="6.97" height="2.88" fill="#7878FF"/>
<rect x="186.10" y="474.36" width="6.97" height="2.88" fill="#ECECFF"/>
<rect x="192.68" y="474.36" width="6.97" height="2.88" fill="#BBBBFF"/>
<rect x="199.25" y="474.36" width="6.97" height="2.88" fill="#FFDEDE"/>
<rect x="205.82" y="474.36" width="6.97" height="2.88" fill="#FEFEFF"/>
<rect x="212.40" y="474.36" width="6.97" height="2.88" fill="#FF8E8E"/>
<rect x="218.97" y="474.36" width="6.97" height="2.88" fill="#FF6C6C"/>
<rect x="225.55" y="474.36" width="6.97" height="2.88" fill="#CACAFF"/>
<rect x="232.12" y="474.36" width="6.57" height="2.88" fill="#FF0000"/>
<rect x="159.80" y="476.84" width="6.97" height="2.88" fill="#B7B7FF"/>
<rect x="166.38" y="476.84" width="6.97" height="2.88" fill="#9C9CFF"/>
<rect x="172.95" y="476.84" width="6.97" height="2.88" fill="#A1A1FF"/>
<rect x="179.53" y="476.84" width="6.97" height="2.88" fill="#7777FF"/>
<rect x="186.10" y="476.84" width="6.97" height="2.88" fill="#FFDFDF"/>
<rect x="192.68" y="476.84" width="6.97" height="2.88" fill="#9696FF"/>
<rect x="199.25" y="476.84" width="6.97" height="2.88" fill="#FFDADA"/>
<rect x="205.82" y="476.84" width="6.97" height="2.88" fill="#FFE9E9"/>
<rect x="212.40" y="476.84" width="6.97" height="2.88" fill="#FFD0D0"/>
<rect x="218.97" y="476.84" width="6.97" height="2.88" fill="#FF6E6E"/>
<rect x="225.55" y="476.84" width="6.97" height="2.88" fill="#FFCCCC"/>
<rect x="232.12" y="476.84" width="6.57" height="2.88" fill="#FF0303"/>
<rect x="159.80" y="479.33" width="6.97" height="2.88" fill="#9F9FFF"/>
<rect x="166.38" y="479.33" width="6.97" height="2.88" fill="#7D7DFF"/>
<rect x="172.95" y="479.33" width="6.97" height="2.88" fill="#ABABFF"/>
<rect x="179.53" y="479.33" width="6.97" height="2.88" fill="#A5A5FF"/>
<rect x="186.10" y="479.33" width="6.97" height="2.88" fill="#EDEDFF"/>
<rect x="192.68" y="479.33" width="6.97" height="2.88" fill="#FFFBFB"/>
<rect x="199.25" y="479.33" width="6.97" height="2.88" fill="#FF7777"/>
<rect x="205.82" y="479.33" width="6.97" height="2.88" fill="#EEEEFF"/>
<rect x="212.40" y="479.33" width="6.97" height="2.88" fill="#FFB7B7"/>
<rect x="218.97" y="479.33" width="6.97" height="2.88" fill="#FF9191"/>
<rect x="225.55" y="479.33" width="6.97" height="2.88" fill="#FFBABA"/>
<rect x="232.12" y="479.33" width="6.57" height="2.88" fill="#FF0000"/>
<rect x="159.80" y="481.81" width="6.97" height="2.88" fill="#8282FF"/>
<rect x="166.38" y="481.81" width="6.97" height="2.88" fill="#7676FF"/>
<rect x="172.95" y="481.81" width="6.97" height="2.88" fill="#B5B5FF"/>
<rect x="179.53" y="481.81" width="6.97" height="2.88" fill="#8C8CFF"/>
<rect x="186.10" y="481.81" width="6.97" height="2.88" fill="#F6F6FF"/>
<rect x="192.68" y="481.81" width="6.97" height="2.88" fill="#E1E1FF"/>
<rect x="199.25" y="481.81" width="6.97" height="2.88" fill="#FFFCFC"/>
<rect x="205.82" y="481.81" width="6.97" height="2.88" fill="#E8E8FF"/>
<rect x="212.40" y="481.81" width="6.97" height="2.88" fill="#FF1919"/>
<rect x="218.97" y="481.81" width="6.97" height="2.88" fill="#FF8181"/>
<rect x="225.55" y="481.81" width="6.97" height="2.88" fill="#FFEEEE"/>
<rect x="232.12" y="481.81" width="6.57" height="2.88" fill="#FFCFCF"/>
<rect x="159.80" y="484.29" width="6.97" height="2.88" fill="#9B9BFF"/>
<rect x="166.38" y="484.29" width="6.97" height="2.88" fill="#9797FF"/>
<rect x="172.95" y="484.29" width="6.97" height="2.88" fill="#9696FF"/>
<rect x="179.53" y="484.29" width="6.97" height="2.88" fill="#5454FF"/>
<rect x="186.10" y="484.29" width="6.97" height="2.88" fill="#FFFCFC"/>
<rect x="192.68" y="484.29" width="6.97" height="2.88" fill="#F3F3FF"/>
<rect x="199.25" y="484.29" width="6.97" height="2.88" fill="#F3F3FF"/>
<rect x="205.82" y="484.29" width="6.97" height="2.88" fill="#FFD8D8"/>
<rect x="212.40" y="484.29" width="6.97" height="2.88" fill="#FF1919"/>
<rect x="218.97" y="484.29" width="6.97" height="2.88" fill="#FF0505"/>
<rect x="225.55" y="484.29" width="6.97" height="2.88" fill="#FFD6D6"/>
<rect x="232.12" y="484.29" width="6.57" height="2.88" fill="#FF4949"/>
<rect x="159.80" y="486.78" width="6.97" height="2.88" fill="#5555FF"/>
<rect x="166.38" y="486.78" width="6.97" height="2.88" fill="#8484FF"/>
<rect x="172.95" y="486.78" width="6.97" height="2.88" fill="#E5E5FF"/>
<rect x="179.53" y="486.78" width="6.97" height="2.88" fill="#8383FF"/>
<rect x="186.10" y="486.78" width="6.97" height="2.88" fill="#FFD1D1"/>
<rect x="192.68" y="486.78" width="6.97" height="2.88" fill="#D8D8FF"/>
<rect x="199.25" y="486.78" width="6.97" height="2.88" fill="#FFECEC"/>
<rect x="205.82" y="486.78" width="6.97" height="2.88" fill="#FFE2E2"/>
<rect x="212.40" y="486.78" width="6.97" height="2.88" fill="#FF3333"/>
<rect x="218.97" y="486.78" width="6.97" height="2.88" fill="#FF4242"/>
<rect x="225.55" y="486.78" width="6.97" height="2.88" fill="#FFE3E3"/>
<rect x="232.12" y="486.78" width="6.57" height="2.88" fill="#FF7D7D"/>
<rect x="159.80" y="489.26" width="6.97" height="2.88" fill="#9A9AFF"/>
<rect x="166.38" y="489.26" width="6.97" height="2.88" fill="#7070FF"/>
<rect x="172.95" y="489.26" width="6.97" height="2.88" fill="#A8A8FF"/>
<rect x="179.53" y="489.26" width="6.97" height="2.88" fill="#7C7CFF"/>
<rect x="186.10" y="489.26" width="6.97" height="2.88" fill="#FFE3E3"/>
<rect x="192.68" y="489.26" width="6.97" height="2.88" fill="#F2F2FF"/>
<rect x="199.25" y="489.26" width="6.97" height="2.88" fill="#B1B1FF"/>
<rect x="205.82" y="489.26" width="6.97" height="2.88" fill="#FF1919"/>
<rect x="212.40" y="489.26" width="6.97" height="2.88" fill="#FF6565"/>
<rect x="218.97" y="489.26" width="6.97" height="2.88" fill="#FFF0F0"/>
<rect x="225.55" y="489.26" width="6.97" height="2.88" fill="#FFC7C7"/>
<rect x="232.12" y="489.26" width="6.57" height="2.88" fill="#FFD2D2"/>
<rect x="159.80" y="491.74" width="6.97" height="2.88" fill="#5C5CFF"/>
<rect x="166.38" y="491.74" width="6.97" height="2.88" fill="#4848FF"/>
<rect x="172.95" y="491.74" width="6.97" height="2.88" fill="#8484FF"/>
<rect x="179.53" y="491.74" width="6.97" height="2.88" fill="#5E5EFF"/>
<rect x="186.10" y="491.74" width="6.97" height="2.88" fill="#FFF8F8"/>
<rect x="192.68" y="491.74" width="6.97" height="2.88" fill="#EEEEFF"/>
<rect x="199.25" y="491.74" width="6.97" height="2.88" fill="#FEFEFF"/>
<rect x="205.82" y="491.74" width="6.97" height="2.88" fill="#FF3333"/>
<rect x="212.40" y="491.74" width="6.97" height="2.88" fill="#FF9999"/>
<rect x="218.97" y="491.74" width="6.97" height="2.88" fill="#FF5A5A"/>
<rect x="225.55" y="491.74" width="6.97" height="2.88" fill="#FFABAB"/>
<rect x="232.12" y="491.74" width="6.57" height="2.88" fill="#FF5656"/>
<rect x="159.80" y="494.23" width="6.97" height="2.88" fill="#B6B6FF"/>
<rect x="166.38" y="494.23" width="6.97" height="2.88" fill="#9898FF"/>
<rect x="172.95" y="494.23" width="6.97" height="2.88" fill="#8A8AFF"/>
<rect x="179.53" y="494.23" width="6.97" height="2.88" fill="#7171FF"/>
<rect x="186.10" y="494.23" width="6.97" height="2.88" fill="#FFBABA"/>
<rect x="192.68" y="494.23" width="6.97" height="2.88" fill="#FFC2C2"/>
<rect x="199.25" y="494.23" width="6.97" height="2.88" fill="#F4F4FF"/>
<rect x="205.82" y="494.23" width="6.97" height="2.88" fill="#FF6464"/>
<rect x="212.40" y="494.23" width="6.97" height="2.88" fill="#FFBABA"/>
<rect x="218.97" y="494.23" width="6.97" height="2.88" fill="#FF8484"/>
<rect x="225.55" y="494.23" width="6.97" height="2.88" fill="#FFCFCF"/>
<rect x="232.12" y="494.23" width="6.57" height="2.88" fill="#FF4747"/>
<rect x="159.80" y="496.71" width="6.97" height="2.88" fill="#5252FF"/>
<rect x="166.38" y="496.71" width="6.97" height="2.88" fill="#8080FF"/>
<rect x="172.95" y="496.71" width="6.97" height="2.88" fill="#9292FF"/>
<rect x="179.53" y="496.71" width="6.97" height="2.88" fill="#D6D6FF"/>
<rect x="186.10" y="496.71" width="6.97" height="2.88" fill="#FF9696"/>
<rect x="192.68" y="496.71" width="6.97" height="2.88" fill="#F8F8FF"/>
<rect x="199.25" y="496.71" width="6.97" height="2.88" fill="#FFF9F9"/>
<rect x="205.82" y="496.71" width="6.97" height="2.88" fill="#FF7676"/>
<rect x="212.40" y="496.71" width="6.97" height="2.88" fill="#FF9191"/>
<rect x="218.97" y="496.71" width="6.97" height="2.88" fill="#FF7B7B"/>
<rect x="225.55" y="496.71" width="6.97" height="2.88" fill="#FF9C9C"/>
<rect x="232.12" y="496.71" width="6.57" height="2.88" fill="#FF5F5F"/>
<rect x="159.80" y="499.19" width="6.97" height="2.88" fill="#DFDFFF"/>
<rect x="166.38" y="499.19" width="6.97" height="2.88" fill="#9898FF"/>
<rect x="172.95" y="499.19" width="6.97" height="2.88" fill="#5F5FFF"/>
<rect x="179.53" y="499.19" width="6.97" height="2.88" fill="#6060FF"/>
<rect x="186.10" y="499.19" width="6.97" height="2.88" fill="#FFF7F7"/>
<rect x="192.68" y="499.19" width="6.97" height="2.88" fill="#FCFCFF"/>
<rect x="199.25" y="499.19" width="6.97" height="2.88" fill="#E8E8FF"/>
<rect x="205.82" y="499.19" width="6.97" height="2.88" fill="#FF6767"/>
<rect x="212.40" y="499.19" width="6.97" height="2.88" fill="#FF7474"/>
<rect x="218.97" y="499.19" width="6.97" height="2.88" fill="#FF9494"/>
<rect x="225.55" y="499.19" width="6.97" height="2.88" fill="#FF9595"/>
<rect x="232.12" y="499.19" width="6.57" height="2.88" fill="#FF4848"/>
<rect x="159.80" y="501.68" width="6.97" height="2.88" fill="#7676FF"/>
<rect x="166.38" y="501.68" width="6.97" height="2.88" fill="#8888FF"/>
<rect x="172.95" y="501.68" width="6.97" height="2.88" fill="#7979FF"/>
<rect x="179.53" y="501.68" width="6.97" height="2.88" fill="#6666FF"/>
<rect x="186.10" y="501.68" width="6.97" height="2.88" fill="#FFD2D2"/>
<rect x="192.68" y="501.68" width="6.97" height="2.88" fill="#D1D1FF"/>
<rect x="199.25" y="501.68" width="6.97" height="2.88" fill="#FFDDDD"/>
<rect x="205.82" y="501.68" width="6.97" height="2.88" fill="#FFADAD"/>
<rect x="212.40" y="501.68" width="6.97" height="2.88" fill="#FFA0A0"/>
<rect x="218.97" y="501.68" width="6.97" height="2.88" fill="#FF6464"/>
<rect x="225.55" y="501.68" width="6.97" height="2.88" fill="#FF6161"/>
<rect x="232.12" y="501.68" width="6.57" height="2.88" fill="#FF7474"/>
<rect x="159.80" y="504.16" width="6.97" height="2.88" fill="#9191FF"/>
<rect x="166.38" y="504.16" width="6.97" height="2.88" fill="#7272FF"/>
<rect x="172.95" y="504.16" width="6.97" height="2.88" fill="#A6A6FF"/>
<rect x="179.53" y="504.16" width="6.97" height="2.88" fill="#6E6EFF"/>
<rect x="186.10" y="504.16" width="6.97" height="2.88" fill="#FFD0D0"/>
<rect x="192.68" y="504.16" width="6.97" height="2.88" fill="#B0B0FF"/>
<rect x="199.25" y="504.16" width="6.97" height="2.88" fill="#FFC0C0"/>
<rect x="205.82" y="504.16" width="6.97" height="2.88" fill="#FF9191"/>
<rect x="212.40" y="504.16" width="6.97" height="2.88" fill="#FF6F6F"/>
<rect x="218.97" y="504.16" width="6.97" height="2.88" fill="#FF7C7C"/>
<rect x="225.55" y="504.16" width="6.97" height="2.88" fill="#FF7A7A"/>
<rect x="232.12" y="504.16" width="6.57" height="2.88" fill="#FF3D3D"/>
<rect x="159.80" y="506.64" width="6.97" height="2.88" fill="#6363FF"/>
<rect x="166.38" y="506.64" width="6.97" height="2.88" fill="#8484FF"/>
<rect x="172.95" y="506.64" width="6.97" height="2.88" fill="#5B5BFF"/>
<rect x="179.53" y="506.64" width="6.97" height="2.88" fill="#7E7EFF"/>
<rect x="186.10" y="506.64" width="6.97" height="2.88" fill="#FCFCFF"/>
<rect x="192.68" y="506.64" width="6.97" height="2.88" fill="#F5F5FF"/>
<rect x="199.25" y="506.64" width="6.97" height="2.88" fill="#FCFCFF"/>
<rect x="205.82" y="506.64" width="6.97" height="2.88" fill="#FFD8D8"/>
<rect x="212.40" y="506.64" width="6.97" height="2.88" fill="#FFA6A6"/>
<rect x="218.97" y="506.64" width="6.97" height="2.88" fill="#FFE8E8"/>
<rect x="225.55" y="506.64" width="6.97" height="2.88" fill="#FF8181"/>
<rect x="232.12" y="506.64" width="6.57" height="2.88" fill="#FF3A3A"/>
<rect x="159.80" y="509.13" width="6.97" height="2.88" fill="#B3B3FF"/>
<rect x="166.38" y="509.13" width="6.97" height="2.88" fill="#4D4DFF"/>
<rect x="172.95" y="509.13" width="6.97" height="2.88" fill="#7D7DFF"/>
<rect x="179.53" y="509.13" width="6.97" height="2.88" fill="#5757FF"/>
<rect x="186.10" y="509.13" width="6.97" height="2.88" fill="#FFB8B8"/>
<rect x="192.68" y="509.13" width="6.97" height="2.88" fill="#EBEBFF"/>
<rect x="199.25" y="509.13" width="6.97" height="2.88" fill="#FFF4F4"/>
<rect x="205.82" y="509.13" width="6.97" height="2.88" fill="#FF7676"/>
<rect x="212.40" y="509.13" width="6.97" height="2.88" fill="#FF8E8E"/>
<rect x="218.97" y="509.13" width="6.97" height="2.88" fill="#FF4444"/>
<rect x="225.55" y="509.13" width="6.97" height="2.88" fill="#FFA8A8"/>
<rect x="232.12" y="509.13" width="6.57" height="2.88" fill="#FF6C6C"/>
<rect x="159.80" y="511.61" width="6.97" height="2.88" fill="#7B7BFF"/>
<rect x="166.38" y="511.61" width="6.97" height="2.88" fill="#7878FF"/>
<rect x="172.95" y="511.61" width="6.97" height="2.88" fill="#8282FF"/>
<rect x="179.53" y="511.61" width="6.97" height="2.88" fill="#9C9CFF"/>
<rect x="186.10" y="511.61" width="6.97" height="2.88" fill="#FFE9E9"/>
<rect x="192.68" y="511.61" width="6.97" height="2.88" fill="#FFF6F6"/>
<rect x="199.25" y="511.61" width="6.97" height="2.88" fill="#F2F2FF"/>
<rect x="205.82" y="511.61" width="6.97" height="2.88" fill="#FF4646"/>
<rect x="212.40" y="511.61" width="6.97" height="2.88" fill="#FF9F9F"/>
<rect x="218.97" y="511.61" width="6.97" height="2.88" fill="#FF7171"/>
<rect x="225.55" y="511.61" width="6.97" height="2.88" fill="#FF6B6B"/>
<rect x="232.12" y="511.61" width="6.57" height="2.88" fill="#FF4545"/>
<rect x="159.80" y="514.09" width="6.97" height="2.88" fill="#8181FF"/>
<rect x="166.38" y="514.09" width="6.97" height="2.88" fill="#6D6DFF"/>
<rect x="172.95" y="514.09" width="6.97" height="2.88" fill="#A8A8FF"/>
<rect x="179.53" y="514.09" width="6.97" height="2.88" fill="#DEDEFF"/>
<rect x="186.10" y="514.09" width="6.97" height="2.88" fill="#FFDFDF"/>
<rect x="192.68" y="514.09" width="6.97" height="2.88" fill="#BDBDFF"/>
<rect x="199.25" y="514.09" width="6.97" height="2.88" fill="#FF0505"/>
<rect x="205.82" y="514.09" width="6.97" height="2.88" fill="#FFDCDC"/>
<rect x="212.40" y="514.09" width="6.97" height="2.88" fill="#FFDEDE"/>
<rect x="218.97" y="514.09" width="6.97" height="2.88" fill="#AEAEFF"/>
<rect x="225.55" y="514.09" width="6.97" height="2.88" fill="#CFCFFF"/>
<rect x="232.12" y="514.09" width="6.57" height="2.88" fill="#FF4F4F"/>
<rect x="159.80" y="516.58" width="6.97" height="2.88" fill="#7676FF"/>
<rect x="166.38" y="516.58" width="6.97" height="2.88" fill="#D4D4FF"/>
<rect x="172.95" y="516.58" width="6.97" height="2.88" fill="#8484FF"/>
<rect x="179.53" y="516.58" width="6.97" height="2.88" fill="#9999FF"/>
<rect x="186.10" y="516.58" width="6.97" height="2.88" fill="#FFE5E5"/>
<rect x="192.68" y="516.58" width="6.97" height="2.88" fill="#FFFEFE"/>
<rect x="199.25" y="516.58" width="6.97" height="2.88" fill="#FF3737"/>
<rect x="205.82" y="516.58" width="6.97" height="2.88" fill="#DCDCFF"/>
<rect x="212.40" y="516.58" width="6.97" height="2.88" fill="#F0F0FF"/>
<rect x="218.97" y="516.58" width="6.97" height="2.88" fill="#FF6C6C"/>
<rect x="225.55" y="516.58" width="6.97" height="2.88" fill="#FF9191"/>
<rect x="232.12" y="516.58" width="6.57" height="2.88" fill="#FF2020"/>
<rect x="159.80" y="519.06" width="6.97" height="2.88" fill="#BEBEFF"/>
<rect x="166.38" y="519.06" width="6.97" height="2.88" fill="#5B5BFF"/>
<rect x="172.95" y="519.06" width="6.97" height="2.88" fill="#4949FF"/>
<rect x="179.53" y="519.06" width="6.97" height="2.88" fill="#6868FF"/>
<rect x="186.10" y="519.06" width="6.97" height="2.88" fill="#E0E0FF"/>
<rect x="192.68" y="519.06" width="6.97" height="2.88" fill="#B3B3FF"/>
<rect x="199.25" y="519.06" width="6.97" height="2.88" fill="#FF9B9B"/>
<rect x="205.82" y="519.06" width="6.97" height="2.88" fill="#D7D7FF"/>
<rect x="212.40" y="519.06" width="6.97" height="2.88" fill="#EEEEFF"/>
<rect x="218.97" y="519.06" width="6.97" height="2.88" fill="#FF5353"/>
<rect x="225.55" y="519.06" width="6.97" height="2.88" fill="#FFB3B3"/>
<rect x="232.12" y="519.06" width="6.57" height="2.88" fill="#FF0F0F"/>
<rect x="159.80" y="521.55" width="6.97" height="2.88" fill="#BCBCFF"/>
<rect x="166.38" y="521.55" width="6.97" height="2.88" fill="#B4B4FF"/>
<rect x="172.95" y="521.55" width="6.97" height="2.88" fill="#B9B9FF"/>
<rect x="179.53" y="521.55" width="6.97" height="2.88" fill="#8585FF"/>
<rect x="186.10" y="521.55" width="6.97" height="2.88" fill="#FFEEEE"/>
<rect x="192.68" y="521.55" width="6.97" height="2.88" fill="#CFCFFF"/>
<rect x="199.25" y="521.55" width="6.97" height="2.88" fill="#FF4242"/>
<rect x="205.82" y="521.55" width="6.97" height="2.88" fill="#FFE2E2"/>
<rect x="212.40" y="521.55" width="6.97" height="2.88" fill="#E9E9FF"/>
<rect x="218.97" y="521.55" width="6.97" height="2.88" fill="#FF5757"/>
<rect x="225.55" y="521.55" width="6.97" height="2.88" fill="#FFA1A1"/>
<rect x="232.12" y="521.55" width="6.57" height="2.88" fill="#FF0000"/>
<rect x="159.80" y="524.03" width="6.97" height="2.88" fill="#4747FF"/>
<rect x="166.38" y="524.03" width="6.97" height="2.88" fill="#8B8BFF"/>
<rect x="172.95" y="524.03" width="6.97" height="2.88" fill="#7474FF"/>
<rect x="179.53" y="524.03" width="6.97" height="2.88" fill="#4242FF"/>
<rect x="186.10" y="524.03" width="6.97" height="2.88" fill="#FFC7C7"/>
<rect x="192.68" y="524.03" width="6.97" height="2.88" fill="#C0C0FF"/>
<rect x="199.25" y="524.03" width="6.97" height="2.88" fill="#FF1F1F"/>
<rect x="205.82" y="524.03" width="6.97" height="2.88" fill="#CECEFF"/>
<rect x="212.40" y="524.03" width="6.97" height="2.88" fill="#FFE8E8"/>
<rect x="218.97" y="524.03" width="6.97" height="2.88" fill="#FF5B5B"/>
<rect x="225.55" y="524.03" width="6.97" height="2.88" fill="#FF9F9F"/>
<rect x="232.12" y="524.03" width="6.57" height="2.88" fill="#FF0000"/>
<rect x="159.80" y="526.51" width="6.97" height="2.88" fill="#FFB2B2"/>
<rect x="166.38" y="526.51" width="6.97" height="2.88" fill="#FFA6A6"/>
<rect x="172.95" y="526.51" width="6.97" height="2.88" fill="#9A9AFF"/>
<rect x="179.53" y="526.51" width="6.97" height="2.88" fill="#2121FF"/>
<rect x="186.10" y="526.51" width="6.97" height="2.88" fill="#C9C9FF"/>
<rect x="192.68" y="526.51" width="6.97" height="2.88" fill="#E9E9FF"/>
<rect x="199.25" y="526.51" width="6.97" height="2.88" fill="#FFDDDD"/>
<rect x="205.82" y="526.51" width="6.97" height="2.88" fill="#4D4DFF"/>
<rect x="212.40" y="526.51" width="6.97" height="2.88" fill="#BFBFFF"/>
<rect x="218.97" y="526.51" width="6.97" height="2.88" fill="#FFB4B4"/>
<rect x="225.55" y="526.51" width="6.97" height="2.88" fill="#FF1313"/>
<rect x="232.12" y="526.51" width="6.57" height="2.88" fill="#FF2F2F"/>
<rect x="159.80" y="529.00" width="6.97" height="2.88" fill="#A4A4FF"/>
<rect x="166.38" y="529.00" width="6.97" height="2.88" fill="#6363FF"/>
<rect x="172.95" y="529.00" width="6.97" height="2.88" fill="#7878FF"/>
<rect x="179.53" y="529.00" width="6.97" height="2.88" fill="#9F9FFF"/>
<rect x="186.10" y="529.00" width="6.97" height="2.88" fill="#FFB5B5"/>
<rect x="192.68" y="529.00" width="6.97" height="2.88" fill="#EFEFFF"/>
<rect x="199.25" y="529.00" width="6.97" height="2.88" fill="#A6A6FF"/>
<rect x="205.82" y="529.00" width="6.97" height="2.88" fill="#FF9696"/>
<rect x="212.40" y="529.00" width="6.97" height="2.88" fill="#FFC5C5"/>
<rect x="218.97" y="529.00" width="6.97" height="2.88" fill="#D4D4FF"/>
<rect x="225.55" y="529.00" width="6.97" height="2.88" fill="#FF3131"/>
<rect x="232.12" y="529.00" width="6.57" height="2.88" fill="#FF1717"/>
<rect x="159.80" y="531.48" width="6.97" height="2.88" fill="#4949FF"/>
<rect x="166.38" y="531.48" width="6.97" height="2.88" fill="#8888FF"/>
<rect x="172.95" y="531.48" width="6.97" height="2.88" fill="#9191FF"/>
<rect x="179.53" y="531.48" width="6.97" height="2.88" fill="#8A8AFF"/>
<rect x="186.10" y="531.48" width="6.97" height="2.88" fill="#D9D9FF"/>
<rect x="192.68" y="531.48" width="6.97" height="2.88" fill="#D7D7FF"/>
<rect x="199.25" y="531.48" width="6.97" height="2.88" fill="#E9E9FF"/>
<rect x="205.82" y="531.48" width="6.97" height="2.88" fill="#FF9D9D"/>
<rect x="212.40" y="531.48" width="6.97" height="2.88" fill="#FFDFDF"/>
<rect x="218.97" y="531.48" width="6.97" height="2.88" fill="#FFE7E7"/>
<rect x="225.55" y="531.48" width="6.97" height="2.88" fill="#FF1C1C"/>
<rect x="232.12" y="531.48" width="6.57" height="2.88" fill="#FF1313"/>
<rect x="159.80" y="533.96" width="6.97" height="2.88" fill="#A1A1FF"/>
<rect x="166.38" y="533.96" width="6.97" height="2.88" fill="#D7D7FF"/>
<rect x="172.95" y="533.96" width="6.97" height="2.88" fill="#8E8EFF"/>
<rect x="179.53" y="533.96" width="6.97" height="2.88" fill="#9999FF"/>
<rect x="186.10" y="533.96" width="6.97" height="2.88" fill="#FFE1E1"/>
<rect x="192.68" y="533.96" width="6.97" height="2.88" fill="#C7C7FF"/>
<rect x="199.25" y="533.96" width="6.97" height="2.88" fill="#F9F9FF"/>
<rect x="205.82" y="533.96" width="6.97" height="2.88" fill="#FF8D8D"/>
<rect x="212.40" y="533.96" width="6.97" height="2.88" fill="#FFF3F3"/>
<rect x="218.97" y="533.96" width="6.97" height="2.88" fill="#D7D7FF"/>
<rect x="225.55" y="533.96" width="6.97" height="2.88" fill="#FF3535"/>
<rect x="232.12" y="533.96" width="6.57" height="2.88" fill="#FF1D1D"/>
<rect x="159.80" y="536.45" width="6.97" height="2.88" fill="#7272FF"/>
<rect x="166.38" y="536.45" width="6.97" height="2.88" fill="#DFDFFF"/>
<rect x="172.95" y="536.45" width="6.97" height="2.88" fill="#D0D0FF"/>
<rect x="179.53" y="536.45" width="6.97" height="2.88" fill="#9494FF"/>
<rect x="186.10" y="536.45" width="6.97" height="2.88" fill="#FFF3F3"/>
<rect x="192.68" y="536.45" width="6.97" height="2.88" fill="#E7E7FF"/>
<rect x="199.25" y="536.45" width="6.97" height="2.88" fill="#AEAEFF"/>
<rect x="205.82" y="536.45" width="6.97" height="2.88" fill="#FFA4A4"/>
<rect x="212.40" y="536.45" width="6.97" height="2.88" fill="#FFC3C3"/>
<rect x="218.97" y="536.45" width="6.97" height="2.88" fill="#BDBDFF"/>
<rect x="225.55" y="536.45" width="6.97" height="2.88" fill="#FF1616"/>
<rect x="232.12" y="536.45" width="6.57" height="2.88" fill="#FF0505"/>
<rect x="159.80" y="538.93" width="6.97" height="2.88" fill="#A5A5FF"/>
<rect x="166.38" y="538.93" width="6.97" height="2.88" fill="#DBDBFF"/>
<rect x="172.95" y="538.93" width="6.97" height="2.88" fill="#6969FF"/>
<rect x="179.53" y="538.93" width="6.97" height="2.88" fill="#5353FF"/>
<rect x="186.10" y="538.93" width="6.97" height="2.88" fill="#FFFDFD"/>
<rect x="192.68" y="538.93" width="6.97" height="2.88" fill="#C9C9FF"/>
<rect x="199.25" y="538.93" width="6.97" height="2.88" fill="#A0A0FF"/>
<rect x="205.82" y="538.93" width="6.97" height="2.88" fill="#C7C7FF"/>
<rect x="212.40" y="538.93" width="6.97" height="2.88" fill="#FFCFCF"/>
<rect x="218.97" y="538.93" width="6.97" height="2.88" fill="#DBDBFF"/>
<rect x="225.55" y="538.93" width="6.97" height="2.88" fill="#FF3636"/>
<rect x="232.12" y="538.93" width="6.57" height="2.88" fill="#FF0707"/>
<rect x="159.80" y="541.41" width="6.97" height="2.88" fill="#7373FF"/>
<rect x="166.38" y="541.41" width="6.97" height="2.88" fill="#8181FF"/>
<rect x="172.95" y="541.41" width="6.97" height="2.88" fill="#8585FF"/>
<rect x="179.53" y="541.41" width="6.97" height="2.88" fill="#8383FF"/>
<rect x="186.10" y="541.41" width="6.97" height="2.88" fill="#FFD7D7"/>
<rect x="192.68" y="541.41" width="6.97" height="2.88" fill="#E0E0FF"/>
<rect x="199.25" y="541.41" width="6.97" height="2.88" fill="#FFFFFF"/>
<rect x="205.82" y="541.41" width="6.97" height="2.88" fill="#EAEAFF"/>
<rect x="212.40" y="541.41" width="6.97" height="2.88" fill="#FF6060"/>
<rect x="218.97" y="541.41" width="6.97" height="2.88" fill="#CBCBFF"/>
<rect x="225.55" y="541.41" width="6.97" height="2.88" fill="#FF0000"/>
<rect x="232.12" y="541.41" width="6.57" height="2.88" fill="#FF6868"/>
<rect x="159.80" y="543.90" width="6.97" height="2.88" fill="#9A9AFF"/>
<rect x="166.38" y="543.90" width="6.97" height="2.88" fill="#8181FF"/>
<rect x="172.95" y="543.90" width="6.97" height="2.88" fill="#A5A5FF"/>
<rect x="179.53" y="543.90" width="6.97" height="2.88" fill="#8E8EFF"/>
<rect x="186.10" y="543.90" width="6.97" height="2.88" fill="#FFD5D5"/>
<rect x="192.68" y="543.90" width="6.97" height="2.88" fill="#FFFEFE"/>
<rect x="199.25" y="543.90" width="6.97" height="2.88" fill="#E0E0FF"/>
<rect x="205.82" y="543.90" width="6.97" height="2.88" fill="#FFFAFA"/>
<rect x="212.40" y="543.90" width="6.97" height="2.88" fill="#FFAEAE"/>
<rect x="218.97" y="543.90" width="6.97" height="2.88" fill="#FFFDFD"/>
<rect x="225.55" y="543.90" width="6.97" height="2.88" fill="#FF5858"/>
<rect x="232.12" y="543.90" width="6.57" height="2.88" fill="#FF2727"/>
<rect x="159.80" y="546.38" width="6.97" height="2.88" fill="#E1E1FF"/>
<rect x="166.38" y="546.38" width="6.97" height="2.88" fill="#D8D8FF"/>
<rect x="172.95" y="546.38" width="6.97" height="2.88" fill="#9F9FFF"/>
<rect x="179.53" y="546.38" width="6.97" height="2.88" fill="#5D5DFF"/>
<rect x="186.10" y="546.38" width="6.97" height="2.88" fill="#FF9494"/>
<rect x="192.68" y="546.38" width="6.97" height="2.88" fill="#F4F4FF"/>
<rect x="199.25" y="546.38" width="6.97" height="2.88" fill="#ECECFF"/>
<rect x="205.82" y="546.38" width="6.97" height="2.88" fill="#FFC5C5"/>
<rect x="212.40" y="546.38" width="6.97" height="2.88" fill="#FF9797"/>
<rect x="218.97" y="546.38" width="6.97" height="2.88" fill="#FBFBFF"/>
<rect x="225.55" y="546.38" width="6.97" height="2.88" fill="#FF4040"/>
<rect x="232.12" y="546.38" width="6.57" height="2.88" fill="#FF4747"/>
<rect x="159.80" y="548.86" width="6.97" height="2.88" fill="#C1C1FF"/>
<rect x="166.38" y="548.86" width="6.97" height="2.88" fill="#8888FF"/>
<rect x="172.95" y="548.86" width="6.97" height="2.88" fill="#8E8EFF"/>
<rect x="179.53" y="548.86" width="6.97" height="2.88" fill="#5555FF"/>
<rect x="186.10" y="548.86" width="6.97" height="2.88" fill="#E2E2FF"/>
<rect x="192.68" y="548.86" width="6.97" height="2.88" fill="#E3E3FF"/>
<rect x="199.25" y="548.86" width="6.97" height="2.88" fill="#C4C4FF"/>
<rect x="205.82" y="548.86" width="6.97" height="2.88" fill="#FFB3B3"/>
<rect x="212.40" y="548.86" width="6.97" height="2.88" fill="#FF0F0F"/>
<rect x="218.97" y="548.86" width="6.97" height="2.88" fill="#D6D6FF"/>
<rect x="225.55" y="548.86" width="6.97" height="2.88" fill="#FF0000"/>
<rect x="232.12" y="548.86" width="6.57" height="2.88" fill="#FF1515"/>
<rect x="159.80" y="551.35" width="6.97" height="2.88" fill="#5353FF"/>
<rect x="166.38" y="551.35" width="6.97" height="2.88" fill="#9292FF"/>
<rect x="172.95" y="551.35" width="6.97" height="2.88" fill="#F2F2FF"/>
<rect x="179.53" y="551.35" width="6.97" height="2.88" fill="#6767FF"/>
<rect x="186.10" y="551.35" width="6.97" height="2.88" fill="#E8E8FF"/>
<rect x="192.68" y="551.35" width="6.97" height="2.88" fill="#DFDFFF"/>
<rect x="199.25" y="551.35" width="6.97" height="2.88" fill="#CCCCFF"/>
<rect x="205.82" y="551.35" width="6.97" height="2.88" fill="#FFD0D0"/>
<rect x="212.40" y="551.35" width="6.97" height="2.88" fill="#FF9999"/>
<rect x="218.97" y="551.35" width="6.97" height="2.88" fill="#C8C8FF"/>
<rect x="225.55" y="551.35" width="6.97" height="2.88" fill="#FF5F5F"/>
<rect x="232.12" y="551.35" width="6.57" height="2.88" fill="#FF6565"/>
<rect x="159.80" y="553.83" width="6.97" height="2.88" fill="#B3B3FF"/>
<rect x="166.38" y="553.83" width="6.97" height="2.88" fill="#7979FF"/>
<rect x="172.95" y="553.83" width="6.97" height="2.88" fill="#A1A1FF"/>
<rect x="179.53" y="553.83" width="6.97" height="2.88" fill="#7474FF"/>
<rect x="186.10" y="553.83" width="6.97" height="2.88" fill="#FF9898"/>
<rect x="192.68" y="553.83" width="6.97" height="2.88" fill="#EEEEFF"/>
<rect x="199.25" y="553.83" width="6.97" height="2.88" fill="#FFB7B7"/>
<rect x="205.82" y="553.83" width="6.97" height="2.88" fill="#DFDFFF"/>
<rect x="212.40" y="553.83" width="6.97" height="2.88" fill="#FF9E9E"/>
<rect x="218.97" y="553.83" width="6.97" height="2.88" fill="#FFE4E4"/>
<rect x="225.55" y="553.83" width="6.97" height="2.88" fill="#FF3838"/>
<rect x="232.12" y="553.83" width="6.57" height="2.88" fill="#FF2323"/>
<rect x="159.80" y="556.31" width="6.97" height="2.88" fill="#7373FF"/>
<rect x="166.38" y="556.31" width="6.97" height="2.88" fill="#B9B9FF"/>
<rect x="172.95" y="556.31" width="6.97" height="2.88" fill="#C2C2FF"/>
<rect x="179.53" y="556.31" width="6.97" height="2.88" fill="#7A7AFF"/>
<rect x="186.10" y="556.31" width="6.97" height="2.88" fill="#FFC8C8"/>
<rect x="192.68" y="556.31" width="6.97" height="2.88" fill="#EBEBFF"/>
<rect x="199.25" y="556.31" width="6.97" height="2.88" fill="#FF7575"/>
<rect x="205.82" y="556.31" width="6.97" height="2.88" fill="#FFF5F5"/>
<rect x="212.40" y="556.31" width="6.97" height="2.88" fill="#FF7D7D"/>
<rect x="218.97" y="556.31" width="6.97" height="2.88" fill="#FFBDBD"/>
<rect x="225.55" y="556.31" width="6.97" height="2.88" fill="#FF0000"/>
<rect x="232.12" y="556.31" width="6.57" height="2.88" fill="#FF0D0D"/>
<rect x="159.80" y="558.80" width="6.97" height="2.88" fill="#7676FF"/>
<rect x="166.38" y="558.80" width="6.97" height="2.88" fill="#8D8DFF"/>
<rect x="172.95" y="558.80" width="6.97" height="2.88" fill="#9494FF"/>
<rect x="179.53" y="558.80" width="6.97" height="2.88" fill="#6060FF"/>
<rect x="186.10" y="558.80" width="6.97" height="2.88" fill="#FFF7F7"/>
<rect x="192.68" y="558.80" width="6.97" height="2.88" fill="#FFE7E7"/>
<rect x="199.25" y="558.80" width="6.97" height="2.88" fill="#FFBBBB"/>
<rect x="205.82" y="558.80" width="6.97" height="2.88" fill="#E1E1FF"/>
<rect x="212.40" y="558.80" width="6.97" height="2.88" fill="#FFB4B4"/>
<rect x="218.97" y="558.80" width="6.97" height="2.88" fill="#FFCBCB"/>
<rect x="225.55" y="558.80" width="6.97" height="2.88" fill="#FF6464"/>
<rect x="232.12" y="558.80" width="6.57" height="2.88" fill="#FF0404"/>
<rect x="159.80" y="561.28" width="6.97" height="2.88" fill="#A9A9FF"/>
<rect x="166.38" y="561.28" width="6.97" height="2.88" fill="#5454FF"/>
<rect x="172.95" y="561.28" width="6.97" height="2.88" fill="#8484FF"/>
<rect x="179.53" y="561.28" width="6.97" height="2.88" fill="#9494FF"/>
<rect x="186.10" y="561.28" width="6.97" height="2.88" fill="#FF8888"/>
<rect x="192.68" y="561.28" width="6.97" height="2.88" fill="#D6D6FF"/>
<rect x="199.25" y="561.28" width="6.97" height="2.88" fill="#FFB1B1"/>
<rect x="205.82" y="561.28" width="6.97" height="2.88" fill="#FEFEFF"/>
<rect x="212.40" y="561.28" width="6.97" height="2.88" fill="#FF4848"/>
<rect x="218.97" y="561.28" width="6.97" height="2.88" fill="#FFD1D1"/>
<rect x="225.55" y="561.28" width="6.97" height="2.88" fill="#FF0000"/>
<rect x="232.12" y="561.28" width="6.57" height="2.88" fill="#FF0000"/>
<rect x="159.80" y="563.76" width="6.97" height="2.88" fill="#8A8AFF"/>
<rect x="166.38" y="563.76" width="6.97" height="2.88" fill="#9999FF"/>
<rect x="172.95" y="563.76" width="6.97" height="2.88" fill="#7878FF"/>
<rect x="179.53" y="563.76" width="6.97" height="2.88" fill="#7272FF"/>
<rect x="186.10" y="563.76" width="6.97" height="2.88" fill="#FFC2C2"/>
<rect x="192.68" y="563.76" width="6.97" height="2.88" fill="#BDBDFF"/>
<rect x="199.25" y="563.76" width="6.97" height="2.88" fill="#FFA4A4"/>
<rect x="205.82" y="563.76" width="6.97" height="2.88" fill="#F6F6FF"/>
<rect x="212.40" y="563.76" width="6.97" height="2.88" fill="#FFB8B8"/>
<rect x="218.97" y="563.76" width="6.97" height="2.88" fill="#FFBABA"/>
<rect x="225.55" y="563.76" width="6.97" height="2.88" fill="#FF2D2D"/>
<rect x="232.12" y="563.76" width="6.57" height="2.88" fill="#FF1E1E"/>
<rect x="159.80" y="566.25" width="6.97" height="2.88" fill="#B2B2FF"/>
<rect x="166.38" y="566.25" width="6.97" height="2.88" fill="#6161FF"/>
<rect x="172.95" y="566.25" width="6.97" height="2.88" fill="#C1C1FF"/>
<rect x="179.53" y="566.25" width="6.97" height="2.88" fill="#8484FF"/>
<rect x="186.10" y="566.25" width="6.97" height="2.88" fill="#FFFEFE"/>
<rect x="192.68" y="566.25" width="6.97" height="2.88" fill="#BEBEFF"/>
<rect x="199.25" y="566.25" width="6.97" height="2.88" fill="#FFCDCD"/>
<rect x="205.82" y="566.25" width="6.97" height="2.88" fill="#EEEEFF"/>
<rect x="212.40" y="566.25" width="6.97" height="2.88" fill="#FFF7F7"/>
<rect x="218.97" y="566.25" width="6.97" height="2.88" fill="#FFB9B9"/>
<rect x="225.55" y="566.25" width="6.97" height="2.88" fill="#FF5F5F"/>
<rect x="232.12" y="566.25" width="6.57" height="2.88" fill="#FF1717"/>
<rect x="159.80" y="568.73" width="6.97" height="2.88" fill="#9898FF"/>
<rect x="166.38" y="568.73" width="6.97" height="2.88" fill="#DCDCFF"/>
<rect x="172.95" y="568.73" width="6.97" height="2.88" fill="#8383FF"/>
<rect x="179.53" y="568.73" width="6.97" height="2.88" fill="#2D2DFF"/>
<rect x="186.10" y="568.73" width="6.97" height="2.88" fill="#FFEBEB"/>
<rect x="192.68" y="568.73" width="6.97" height="2.88" fill="#FFFEFE"/>
<rect x="199.25" y="568.73" width="6.97" height="2.88" fill="#FFD8D8"/>
<rect x="205.82" y="568.73" width="6.97" height="2.88" fill="#FFFFFF"/>
<rect x="212.40" y="568.73" width="6.97" height="2.88" fill="#FF6868"/>
<rect x="218.97" y="568.73" width="6.97" height="2.88" fill="#FFABAB"/>
<rect x="225.55" y="568.73" width="6.97" height="2.88" fill="#FF4F4F"/>
<rect x="232.12" y="568.73" width="6.57" height="2.88" fill="#FF0B0B"/>
<rect x="159.80" y="571.21" width="6.97" height="2.88" fill="#6969FF"/>
<rect x="166.38" y="571.21" width="6.97" height="2.88" fill="#7878FF"/>
<rect x="172.95" y="571.21" width="6.97" height="2.88" fill="#9898FF"/>
<rect x="179.53" y="571.21" width="6.97" height="2.88" fill="#D1D1FF"/>
<rect x="186.10" y="571.21" width="6.97" height="2.88" fill="#FFD1D1"/>
<rect x="192.68" y="571.21" width="6.97" height="2.88" fill="#EDEDFF"/>
<rect x="199.25" y="571.21" width="6.97" height="2.88" fill="#FFBFBF"/>
<rect x="205.82" y="571.21" width="6.97" height="2.88" fill="#E2E2FF"/>
<rect x="212.40" y="571.21" width="6.97" height="2.88" fill="#DEDEFF"/>
<rect x="218.97" y="571.21" width="6.97" height="2.88" fill="#FF8484"/>
<rect x="225.55" y="571.21" width="6.97" height="2.88" fill="#FF6B6B"/>
<rect x="232.12" y="571.21" width="6.57" height="2.88" fill="#FF5555"/>
<rect x="159.80" y="573.70" width="6.97" height="2.88" fill="#B0B0FF"/>
<rect x="166.38" y="573.70" width="6.97" height="2.88" fill="#8F8FFF"/>
<rect x="172.95" y="573.70" width="6.97" height="2.88" fill="#5C5CFF"/>
<rect x="179.53" y="573.70" width="6.97" height="2.88" fill="#6A6AFF"/>
<rect x="186.10" y="573.70" width="6.97" height="2.88" fill="#FFE8E8"/>
<rect x="192.68" y="573.70" width="6.97" height="2.88" fill="#C1C1FF"/>
<rect x="199.25" y="573.70" width="6.97" height="2.88" fill="#FFE1E1"/>
<rect x="205.82" y="573.70" width="6.97" height="2.88" fill="#F4F4FF"/>
<rect x="212.40" y="573.70" width="6.97" height="2.88" fill="#FFE5E5"/>
<rect x="218.97" y="573.70" width="6.97" height="2.88" fill="#FF5C5C"/>
<rect x="225.55" y="573.70" width="6.97" height="2.88" fill="#FF5757"/>
<rect x="232.12" y="573.70" width="6.57" height="2.88" fill="#FF1D1D"/>
<rect x="159.80" y="576.18" width="6.97" height="2.88" fill="#9898FF"/>
<rect x="166.38" y="576.18" width="6.97" height="2.88" fill="#A8A8FF"/>
<rect x="172.95" y="576.18" width="6.97" height="2.88" fill="#D0D0FF"/>
<rect x="179.53" y="576.18" width="6.97" height="2.88" fill="#CCCCFF"/>
<rect x="186.10" y="576.18" width="6.97" height="2.88" fill="#FFADAD"/>
<rect x="192.68" y="576.18" width="6.97" height="2.88" fill="#ADADFF"/>
<rect x="199.25" y="576.18" width="6.97" height="2.88" fill="#FFC8C8"/>
<rect x="205.82" y="576.18" width="6.97" height="2.88" fill="#FFD1D1"/>
<rect x="212.40" y="576.18" width="6.97" height="2.88" fill="#FFD3D3"/>
<rect x="218.97" y="576.18" width="6.97" height="2.88" fill="#FF7878"/>
<rect x="225.55" y="576.18" width="6.97" height="2.88" fill="#FF5A5A"/>
<rect x="232.12" y="576.18" width="6.57" height="2.88" fill="#FF0808"/>
<rect x="159.80" y="578.66" width="6.97" height="2.88" fill="#8E8EFF"/>
<rect x="166.38" y="578.66" width="6.97" height="2.88" fill="#6767FF"/>
<rect x="172.95" y="578.66" width="6.97" height="2.88" fill="#9191FF"/>
<rect x="179.53" y="578.66" width="6.97" height="2.88" fill="#5C5CFF"/>
<rect x="186.10" y="578.66" width="6.97" height="2.88" fill="#FEFEFF"/>
<rect x="192.68" y="578.66" width="6.97" height="2.88" fill="#E9E9FF"/>
<rect x="199.25" y="578.66" width="6.97" height="2.88" fill="#FFE4E4"/>
<rect x="205.82" y="578.66" width="6.97" height="2.88" fill="#D3D3FF"/>
<rect x="212.40" y="578.66" width="6.97" height="2.88" fill="#FFCFCF"/>
<rect x="218.97" y="578.66" width="6.97" height="2.88" fill="#FFD2D2"/>
<rect x="225.55" y="578.66" width="6.97" height="2.88" fill="#FF1919"/>
<rect x="232.12" y="578.66" width="6.57" height="2.88" fill="#FF0000"/>
<rect x="159.80" y="581.15" width="6.97" height="2.88" fill="#9696FF"/>
<rect x="166.38" y="581.15" width="6.97" height="2.88" fill="#7B7BFF"/>
<rect x="172.95" y="581.15" width="6.97" height="2.88" fill="#C2C2FF"/>
<rect x="179.53" y="581.15" width="6.97" height="2.88" fill="#5050FF"/>
<rect x="186.10" y="581.15" width="6.97" height="2.88" fill="#FFDDDD"/>
<rect x="192.68" y="581.15" width="6.97" height="2.88" fill="#CDCDFF"/>
<rect x="199.25" y="581.15" width="6.97" height="2.88" fill="#FF7878"/>
<rect x="205.82" y="581.15" width="6.97" height="2.88" fill="#C4C4FF"/>
<rect x="212.40" y="581.15" width="6.97" height="2.88" fill="#FFE0E0"/>
<rect x="218.97" y="581.15" width="6.97" height="2.88" fill="#FFCECE"/>
<rect x="225.55" y="581.15" width="6.97" height="2.88" fill="#FF0000"/>
<rect x="232.12" y="581.15" width="6.57" height="2.88" fill="#FF0909"/>
<rect x="159.80" y="583.63" width="6.97" height="2.88" fill="#D3D3FF"/>
<rect x="166.38" y="583.63" width="6.97" height="2.88" fill="#8686FF"/>
<rect x="172.95" y="583.63" width="6.97" height="2.88" fill="#5656FF"/>
<rect x="179.53" y="583.63" width="6.97" height="2.88" fill="#AAAAFF"/>
<rect x="186.10" y="583.63" width="6.97" height="2.88" fill="#9C9CFF"/>
<rect x="192.68" y="583.63" width="6.97" height="2.88" fill="#FFDADA"/>
<rect x="199.25" y="583.63" width="6.97" height="2.88" fill="#FF8383"/>
<rect x="205.82" y="583.63" width="6.97" height="2.88" fill="#BCBCFF"/>
<rect x="212.40" y="583.63" width="6.97" height="2.88" fill="#FF9090"/>
<rect x="218.97" y="583.63" width="6.97" height="2.88" fill="#FF5454"/>
<rect x="225.55" y="583.63" width="6.97" height="2.88" fill="#FF3D3D"/>
<rect x="232.12" y="583.63" width="6.57" height="2.88" fill="#FF2121"/>
<rect x="159.80" y="586.12" width="6.97" height="2.88" fill="#E4E4FF"/>
<rect x="166.38" y="586.12" width="6.97" height="2.88" fill="#ACACFF"/>
<rect x="172.95" y="586.12" width="6.97" height="2.88" fill="#CFCFFF"/>
<rect x="179.53" y="586.12" width="6.97" height="2.88" fill="#FFE6E6"/>
<rect x="186.10" y="586.12" width="6.97" height="2.88" fill="#C2C2FF"/>
<rect x="192.68" y="586.12" width="6.97" height="2.88" fill="#9D9DFF"/>
<rect x="199.25" y="586.12" width="6.97" height="2.88" fill="#EFEFFF"/>
<rect x="205.82" y="586.12" width="6.97" height="2.88" fill="#E0E0FF"/>
<rect x="212.40" y="586.12" width="6.97" height="2.88" fill="#FFACAC"/>
<rect x="218.97" y="586.12" width="6.97" height="2.88" fill="#FFA1A1"/>
<rect x="225.55" y="586.12" width="6.97" height="2.88" fill="#FF0000"/>
<rect x="232.12" y="586.12" width="6.57" height="2.88" fill="#FF7A7A"/>
<rect x="159.80" y="588.60" width="6.97" height="2.88" fill="#B4B4FF"/>
<rect x="166.38" y="588.60" width="6.97" height="2.88" fill="#5B5BFF"/>
<rect x="172.95" y="588.60" width="6.97" height="2.88" fill="#3B3BFF"/>
<rect x="179.53" y="588.60" width="6.97" height="2.88" fill="#FFFDFD"/>
<rect x="186.10" y="588.60" width="6.97" height="2.88" fill="#D9D9FF"/>
<rect x="192.68" y="588.60" width="6.97" height="2.88" fill="#E7E7FF"/>
<rect x="199.25" y="588.60" width="6.97" height="2.88" fill="#FFC6C6"/>
<rect x="205.82" y="588.60" width="6.97" height="2.88" fill="#FFFBFB"/>
<rect x="212.40" y="588.60" width="6.97" height="2.88" fill="#FF8B8B"/>
<rect x="218.97" y="588.60" width="6.97" height="2.88" fill="#FF7A7A"/>
<rect x="225.55" y="588.60" width="6.97" height="2.88" fill="#FF1717"/>
<rect x="232.12" y="588.60" width="6.57" height="2.88" fill="#FF5757"/>
<rect x="159.80" y="591.08" width="6.97" height="2.88" fill="#ADADFF"/>
<rect x="166.38" y="591.08" width="6.97" height="2.88" fill="#D1D1FF"/>
<rect x="172.95" y="591.08" width="6.97" height="2.88" fill="#7B7BFF"/>
<rect x="179.53" y="591.08" width="6.97" height="2.88" fill="#ECECFF"/>
<rect x="186.10" y="591.08" width="6.97" height="2.88" fill="#F2F2FF"/>
<rect x="192.68" y="591.08" width="6.97" height="2.88" fill="#9595FF"/>
<rect x="199.25" y="591.08" width="6.97" height="2.88" fill="#FFD8D8"/>
<rect x="205.82" y="591.08" width="6.97" height="2.88" fill="#B1B1FF"/>
<rect x="212.40" y="591.08" width="6.97" height="2.88" fill="#FFAAAA"/>
<rect x="218.97" y="591.08" width="6.97" height="2.88" fill="#FFA4A4"/>
<rect x="225.55" y="591.08" width="6.97" height="2.88" fill="#FF1515"/>
<rect x="232.12" y="591.08" width="6.57" height="2.88" fill="#FF3E3E"/>
<rect x="159.80" y="593.57" width="6.97" height="2.88" fill="#F6F6FF"/>
<rect x="166.38" y="593.57" width="6.97" height="2.88" fill="#4949FF"/>
<rect x="172.95" y="593.57" width="6.97" height="2.88" fill="#2D2DFF"/>
<rect x="179.53" y="593.57" width="6.97" height="2.88" fill="#A6A6FF"/>
<rect x="186.10" y="593.57" width="6.97" height="2.88" fill="#8080FF"/>
<rect x="192.68" y="593.57" width="6.97" height="2.88" fill="#E0E0FF"/>
<rect x="199.25" y="593.57" width="6.97" height="2.88" fill="#FFA6A6"/>
<rect x="205.82" y="593.57" width="6.97" height="2.88" fill="#FF5C5C"/>
<rect x="212.40" y="593.57" width="6.97" height="2.88" fill="#FFBCBC"/>
<rect x="218.97" y="593.57" width="6.97" height="2.88" fill="#FF9A9A"/>
<rect x="225.55" y="593.57" width="6.97" height="2.88" fill="#FF2D2D"/>
<rect x="232.12" y="593.57" width="6.57" height="2.88" fill="#FF3030"/>
<rect x="159.80" y="596.05" width="6.97" height="2.88" fill="#C5C5FF"/>
<rect x="166.38" y="596.05" width="6.97" height="2.88" fill="#6060FF"/>
<rect x="172.95" y="596.05" width="6.97" height="2.88" fill="#2A2AFF"/>
<rect x="179.53" y="596.05" width="6.97" height="2.88" fill="#EBEBFF"/>
<rect x="186.10" y="596.05" width="6.97" height="2.88" fill="#A2A2FF"/>
<rect x="192.68" y="596.05" width="6.97" height="2.88" fill="#C0C0FF"/>
<rect x="199.25" y="596.05" width="6.97" height="2.88" fill="#FFDDDD"/>
<rect x="205.82" y="596.05" width="6.97" height="2.88" fill="#E2E2FF"/>
<rect x="212.40" y="596.05" width="6.97" height="2.88" fill="#FFE0E0"/>
<rect x="218.97" y="596.05" width="6.97" height="2.88" fill="#FFC3C3"/>
<rect x="225.55" y="596.05" width="6.97" height="2.88" fill="#FF3030"/>
<rect x="232.12" y="596.05" width="6.57" height="2.88" fill="#FF3F3F"/>
<rect x="159.80" y="598.53" width="6.97" height="2.88" fill="#BABAFF"/>
<rect x="166.38" y="598.53" width="6.97" height="2.88" fill="#A6A6FF"/>
<rect x="172.95" y="598.53" width="6.97" height="2.88" fill="#FF0000"/>
<rect x="179.53" y="598.53" width="6.97" height="2.88" fill="#FF0000"/>
<rect x="186.10" y="598.53" width="6.97" height="2.88" fill="#F4F4FF"/>
<rect x="192.68" y="598.53" width="6.97" height="2.88" fill="#DFDFFF"/>
<rect x="199.25" y="598.53" width="6.97" height="2.88" fill="#FFFFFF"/>
<rect x="205.82" y="598.53" width="6.97" height="2.88" fill="#B2B2FF"/>
<rect x="212.40" y="598.53" width="6.97" height="2.88" fill="#B2B2FF"/>
<rect x="218.97" y="598.53" width="6.97" height="2.88" fill="#A6A6FF"/>
<rect x="225.55" y="598.53" width="6.97" height="2.88" fill="#FFFFFF"/>
<rect x="232.12" y="598.53" width="6.57" height="2.88" fill="#FFFFFF"/>
<rect x="159.80" y="601.02" width="6.97" height="2.88" fill="#C8C8FF"/>
<rect x="166.38" y="601.02" width="6.97" height="2.88" fill="#D7D7FF"/>
<rect x="172.95" y="601.02" width="6.97" height="2.88" fill="#DEDEFF"/>
<rect x="179.53" y="601.02" width="6.97" height="2.88" fill="#D5D5FF"/>
<rect x="186.10" y="601.02" width="6.97" height="2.88" fill="#D5D5FF"/>
<rect x="192.68" y="601.02" width="6.97" height="2.88" fill="#E4E4FF"/>
<rect x="199.25" y="601.02" width="6.97" height="2.88" fill="#FF0D0D"/>
<rect x="205.82" y="601.02" width="6.97" height="2.88" fill="#FF3333"/>
<rect x="212.40" y="601.02" width="6.97" height="2.88" fill="#FFFFFF"/>
<rect x="218.97" y="601.02" width="6.97" height="2.88" fill="#FF4D4D"/>
<rect x="225.55" y="601.02" width="6.97" height="2.88" fill="#B2B2FF"/>
<rect x="232.12" y="601.02" width="6.57" height="2.88" fill="#BFBFFF"/>
<rect x="159.80" y="603.50" width="6.97" height="2.88" fill="#6868FF"/>
<rect x="166.38" y="603.50" width="6.97" height="2.88" fill="#D6D6FF"/>
<rect x="172.95" y="603.50" width="6.97" height="2.88" fill="#9494FF"/>
<rect x="179.53" y="603.50" width="6.97" height="2.88" fill="#8D8DFF"/>
<rect x="186.10" y="603.50" width="6.97" height="2.88" fill="#FFF9F9"/>
<rect x="192.68" y="603.50" width="6.97" height="2.88" fill="#FFE3E3"/>
<rect x="199.25" y="603.50" width="6.97" height="2.88" fill="#FF8080"/>
<rect x="205.82" y="603.50" width="6.97" height="2.88" fill="#FF0D0D"/>
<rect x="212.40" y="603.50" width="6.97" height="2.88" fill="#BFBFFF"/>
<rect x="218.97" y="603.50" width="6.97" height="2.88" fill="#FFB2B2"/>
<rect x="225.55" y="603.50" width="6.97" height="2.88" fill="#FFCCCC"/>
<rect x="232.12" y="603.50" width="6.57" height="2.88" fill="#F2F2FF"/>
<rect x="159.80" y="605.98" width="6.97" height="2.88" fill="#9090FF"/>
<rect x="166.38" y="605.98" width="6.97" height="2.88" fill="#A8A8FF"/>
<rect x="172.95" y="605.98" width="6.97" height="2.88" fill="#6161FF"/>
<rect x="179.53" y="605.98" width="6.97" height="2.88" fill="#7878FF"/>
<rect x="186.10" y="605.98" width="6.97" height="2.88" fill="#FFCFCF"/>
<rect x="192.68" y="605.98" width="6.97" height="2.88" fill="#E5E5FF"/>
<rect x="199.25" y="605.98" width="6.97" height="2.88" fill="#FFAEAE"/>
<rect x="205.82" y="605.98" width="6.97" height="2.88" fill="#FF0D0D"/>
<rect x="212.40" y="605.98" width="6.97" height="2.88" fill="#FFFDFD"/>
<rect x="218.97" y="605.98" width="6.97" height="2.88" fill="#FFD5D5"/>
<rect x="225.55" y="605.98" width="6.97" height="2.88" fill="#FFFCFC"/>
<rect x="232.12" y="605.98" width="6.57" height="2.88" fill="#FFF4F4"/>
<rect x="159.80" y="608.47" width="6.97" height="2.88" fill="#A8A8FF"/>
<rect x="166.38" y="608.47" width="6.97" height="2.88" fill="#C3C3FF"/>
<rect x="172.95" y="608.47" width="6.97" height="2.88" fill="#E0E0FF"/>
<rect x="179.53" y="608.47" width="6.97" height="2.88" fill="#A3A3FF"/>
<rect x="186.10" y="608.47" width="6.97" height="2.88" fill="#FBFBFF"/>
<rect x="192.68" y="608.47" width="6.97" height="2.88" fill="#FDFDFF"/>
<rect x="199.25" y="608.47" width="6.97" height="2.88" fill="#FFB9B9"/>
<rect x="205.82" y="608.47" width="6.97" height="2.88" fill="#FF0D0D"/>
<rect x="212.40" y="608.47" width="6.97" height="2.88" fill="#FFE9E9"/>
<rect x="218.97" y="608.47" width="6.97" height="2.88" fill="#FFDADA"/>
<rect x="225.55" y="608.47" width="6.97" height="2.88" fill="#FFE9E9"/>
<rect x="232.12" y="608.47" width="6.57" height="2.88" fill="#FFCDCD"/>
<rect x="159.80" y="610.95" width="6.97" height="2.88" fill="#C6C6FF"/>
<rect x="166.38" y="610.95" width="6.97" height="2.88" fill="#C8C8FF"/>
<rect x="172.95" y="610.95" width="6.97" height="2.88" fill="#7D7DFF"/>
<rect x="179.53" y="610.95" width="6.97" height="2.88" fill="#E3E3FF"/>
<rect x="186.10" y="610.95" width="6.97" height="2.88" fill="#9F9FFF"/>
<rect x="192.68" y="610.95" width="6.97" height="2.88" fill="#D0D0FF"/>
<rect x="199.25" y="610.95" width="6.97" height="2.88" fill="#FF9F9F"/>
<rect x="205.82" y="610.95" width="6.97" height="2.88" fill="#FF1919"/>
<rect x="212.40" y="610.95" width="6.97" height="2.88" fill="#FFDEDE"/>
<rect x="218.97" y="610.95" width="6.97" height="2.88" fill="#FFE3E3"/>
<rect x="225.55" y="610.95" width="6.97" height="2.88" fill="#FFF6F6"/>
<rect x="232.12" y="610.95" width="6.57" height="2.88" fill="#FFD2D2"/>
<rect x="159.80" y="613.43" width="6.97" height="2.88" fill="#9F9FFF"/>
<rect x="166.38" y="613.43" width="6.97" height="2.88" fill="#C4C4FF"/>
<rect x="172.95" y="613.43" width="6.97" height="2.88" fill="#BDBDFF"/>
<rect x="179.53" y="613.43" width="6.97" height="2.88" fill="#A5A5FF"/>
<rect x="186.10" y="613.43" width="6.97" height="2.88" fill="#FF0000"/>
<rect x="192.68" y="613.43" width="6.97" height="2.88" fill="#C2C2FF"/>
<rect x="199.25" y="613.43" width="6.97" height="2.88" fill="#FFCACA"/>
<rect x="205.82" y="613.43" width="6.97" height="2.88" fill="#FFB2B2"/>
<rect x="212.40" y="613.43" width="6.97" height="2.88" fill="#FAFAFF"/>
<rect x="218.97" y="613.43" width="6.97" height="2.88" fill="#FFF9F9"/>
<rect x="225.55" y="613.43" width="6.97" height="2.88" fill="#FFE2E2"/>
<rect x="232.12" y="613.43" width="6.57" height="2.88" fill="#FFE3E3"/>
<rect x="159.80" y="615.92" width="6.97" height="2.48" fill="#D1D1FF"/>
<rect x="166.38" y="615.92" width="6.97" height="2.48" fill="#BDBDFF"/>
<rect x="172.95" y="615.92" width="6.97" height="2.48" fill="#BABAFF"/>
<rect x="179.53" y="615.92" width="6.97" height="2.48" fill="#9696FF"/>
<rect x="186.10" y="615.92" width="6.97" height="2.48" fill="#A6A6FF"/>
<rect x="192.68" y="615.92" width="6.97" height="2.48" fill="#FF0000"/>
<rect x="199.25" y="615.92" width="6.97" height="2.48" fill="#FFA3A3"/>
<rect x="205.82" y="615.92" width="6.97" height="2.48" fill="#FFCACA"/>
<rect x="212.40" y="615.92" width="6.97" height="2.48" fill="#FF8D8D"/>
<rect x="218.97" y="615.92" width="6.97" height="2.48" fill="#FFDFDF"/>
<rect x="225.55" y="615.92" width="6.97" height="2.48" fill="#FF8888"/>
<rect x="232.12" y="615.92" width="6.57" height="2.48" fill="#DEDEFF"/>
</g>
<path d="M159.80 273.20V618.40M166.38 273.20V618.40M172.95 273.20V618.40M179.53 273.20V618.40M186.10 273.20V618.40M192.68 273.20V618.40M199.25 273.20V618.40M205.82 273.20V618.40M212.40 273.20V618.40M218.97 273.20V618.40M225.55 273.20V618.40M232.12 273.20V618.40M238.70 273.20V618.40M159.80 273.20H238.70M159.80 275.68H238.70M159.80 278.17H238.70M159.80 280.65H238.70M159.80 283.13H238.70M159.80 285.62H238.70M159.80 288.10H238.70M159.80 290.58H238.70M159.80 293.07H238.70M159.80 295.55H238.70M159.80 298.03H238.70M159.80 300.52H238.70M159.80 303.00H238.70M159.80 305.48H238.70M159.80 307.97H238.70M159.80 310.45H238.70M159.80 312.94H238.70M159.80 315.42H238.70M159.80 317.90H238.70M159.80 320.39H238.70M159.80 322.87H238.70M159.80 325.35H238.70M159.80 327.84H238.70M159.80 330.32H238.70M159.80 332.80H238.70M159.80 335.29H238.70M159.80 337.77H238.70M159.80 340.25H238.70M159.80 342.74H238.70M159.80 345.22H238.70M159.80 347.70H238.70M159.80 350.19H238.70M159.80 352.67H238.70M159.80 355.15H238.70M159.80 357.64H238.70M159.80 360.12H238.70M159.80 362.60H238.70M159.80 365.09H238.70M159.80 367.57H238.70M159.80 370.05H238.70M159.80 372.54H238.70M159.80 375.02H238.70M159.80 377.51H238.70M159.80 379.99H238.70M159.80 382.47H238.70M159.80 384.96H238.70M159.80 387.44H238.70M159.80 389.92H238.70M159.80 392.41H238.70M159.80 394.89H238.70M159.80 397.37H238.70M159.80 399.86H238.70M159.80 402.34H238.70M159.80 404.82H238.70M159.80 407.31H238.70M159.80 409.79H238.70M159.80 412.27H238.70M159.80 414.76H238.70M159.80 417.24H238.70M159.80 419.72H238.70M159.80 422.21H238.70M159.80 424.69H238.70M159.80 427.17H238.70M159.80 429.66H238.70M159.80 432.14H238.70M159.80 434.62H238.70M159.80 437.11H238.70M159.80 439.59H238.70M159.80 442.07H238.70M159.80 444.56H238.70M159.80 447.04H238.70M159.80 449.53H238.70M159.80 452.01H238.70M159.80 454.49H238.70M159.80 456.98H238.70M159.80 459.46H238.70M159.80 461.94H238.70M159.80 464.43H238.70M159.80 466.91H238.70M159.80 469.39H238.70M159.80 471.88H238.70M159.80 474.36H238.70M159.80 476.84H238.70M159.80 479.33H238.70M159.80 481.81H238.70M159.80 484.29H238.70M159.80 486.78H238.70M159.80 489.26H238.70M159.80 491.74H238.70M159.80 494.23H238.70M159.80 496.71H238.70M159.80 499.19H238.70M159.80 501.68H238.70M159.80 504.16H238.70M159.80 506.64H238.70M159.80 509.13H238.70M159.80 511.61H238.70M159.80 514.09H238.70M159.80 516.58H238.70M159.80 519.06H238.70M159.80 521.55H238.70M159.80 524.03H238.70M159.80 526.51H238.70M159.80 529.00H238.70M159.80 531.48H238.70M159.80 533.96H238.70M159.80 536.45H238.70M159.80 538.93H238.70M159.80 541.41H238.70M159.80 543.90H238.70M159.80 546.38H238.70M159.80 548.86H238.70M159.80 551.35H238.70M159.80 553.83H238.70M159.80 556.31H238.70M159.80 558.80H238.70M159.80 561.28H238.70M159.80 563.76H238.70M159.80 566.25H238.70M159.80 568.73H238.70M159.80 571.21H238.70M159.80 573.70H238.70M159.80 576.18H238.70M159.80 578.66H238.70M159.80 581.15H238.70M159.80 583.63H238.70M159.80 586.12H238.70M159.80 588.60H238.70M159.80 591.08H238.70M159.80 593.57H238.70M159.80 596.05H238.70M159.80 598.53H238.70M159.80 601.02H238.70M159.80 603.50H238.70M159.80 605.98H238.70M159.80 608.47H238.70M159.80 610.95H238.70M159.80 613.43H238.70M159.80 615.92H238.70M159.80 618.40H238.70" stroke="#939393" stroke-width="0.5" fill="none"/>
<g transform="translate(240.00 273.20) scale(0.1)" font-size="22" fill="#2A2A2A" font-weight="bold" text-rendering="geometricPrecision">
<text transform="translate(0 21) rotate(0.4)">DCN</text>
<text transform="translate(0 45) rotate(0.4)">FAP</text>
<text transform="translate(0 70) rotate(0.4)">GLI1</text>
<text transform="translate(0 95) rotate(0.4)">ITGA5</text>
<text transform="translate(0 120) rotate(0.4)">LAMB1</text>
<text transform="translate(0 145) rotate(0.4)">MMP14</text>
<text transform="translate(0 170) rotate(0.4)">PECAM1</text>
<text transform="translate(0 194) rotate(0.4)">S1PR1</text>
<text transform="translate(0 219) rotate(0.4)">SNAI1</text>
<text transform="translate(0 244) rotate(0.4)">THBS1</text>
<text transform="translate(0 269) rotate(0.4)">VCAN</text>
<text transform="translate(0 294) rotate(0.4)">ZEB2</text>
<text transform="translate(0 319) rotate(0.4)">COL4A1</text>
<text transform="translate(0 343) rotate(0.4)">HSPG2</text>
<text transform="translate(0 368) rotate(0.4)">PLVAP</text>
<text transform="translate(0 393) rotate(0.4)">EMILIN1</text>
<text transform="translate(0 418) rotate(0.4)">ANXA1</text>
<text transform="translate(0 443) rotate(0.4)">CCR2</text>
<text transform="translate(0 468) rotate(0.4)">COL1A1</text>
<text transform="translate(0 492) rotate(0.4)">DCN</text>
<text transform="translate(0 517) rotate(0.4)">FAP</text>
<text transform="translate(0 542) rotate(0.4)">GLI1</text>
<text transform="translate(0 567) rotate(0.4)">ITGA5</text>
<text transform="translate(0 592) rotate(0.4)">LAMB1</text>
<text transform="translate(0 617) rotate(0.4)">MMP14</text>
<text transform="translate(0 641) rotate(0.4)">PECAM1</text>
<text transform="translate(0 666) rotate(0.4)">S1PR1</text>
<text transform="translate(0 691) rotate(0.4)">SNAI1</text>
<text transform="translate(0 716) rotate(0.4)">THBS1</text>
<text transform="translate(0 741) rotate(0.4)">VCAN</text>
<text transform="translate(0 766) rotate(0.4)">ZEB2</text>
<text transform="translate(0 790) rotate(0.4)">COL4A1</text>
<text transform="translate(0 815) rotate(0.4)">HSPG2</text>
<text transform="translate(0 840) rotate(0.4)">PLVAP</text>
<text transform="translate(0 865) rotate(0.4)">EMILIN1</text>
<text transform="translate(0 890) rotate(0.4)">ANXA1</text>
<text transform="translate(0 915) rotate(0.4)">CCR2</text>
<text transform="translate(0 939) rotate(0.4)">COL1A1</text>
<text transform="translate(0 964) rotate(0.4)">DCN</text>
<text transform="translate(0 989) rotate(0.4)">FAP</text>
<text transform="translate(0 1014) rotate(0.4)">GLI1</text>
<text transform="translate(0 1039) rotate(0.4)">ITGA5</text>
<text transform="translate(0 1064) rotate(0.4)">LAMB1</text>
<text transform="translate(0 1088) rotate(0.4)">MMP14</text>
<text transform="translate(0 1113) rotate(0.4)">PECAM1</text>
<text transform="translate(0 1138) rotate(0.4)">S1PR1</text>
<text transform="translate(0 1163) rotate(0.4)">SNAI1</text>
<text transform="translate(0 1188) rotate(0.4)">THBS1</text>
<text transform="translate(0 1213) rotate(0.4)">VCAN</text>
<text transform="translate(0 1237) rotate(0.4)">ZEB2</text>
<text transform="translate(0 1262) rotate(0.4)">COL4A1</text>
<text transform="translate(0 1287) rotate(0.4)">HSPG2</text>
<text transform="translate(0 1312) rotate(0.4)">PLVAP</text>
<text transform="translate(0 1337) rotate(0.4)">EMILIN1</text>
<text transform="translate(0 1362) rotate(0.4)">ANXA1</text>
<text transform="translate(0 1386) rotate(0.4)">CCR2</text>
<text transform="translate(0 1411) rotate(0.4)">COL1A1</text>
<text transform="translate(0 1436) rotate(0.4)">DCN</text>
<text transform="translate(0 1461) rotate(0.4)">FAP</text>
<text transform="translate(0 1486) rotate(0.4)">GLI1</text>
<text transform="translate(0 1511) rotate(0.4)">ITGA5</text>
<text transform="translate(0 1535) rotate(0.4)">LAMB1</text>
<text transform="translate(0 1560) rotate(0.4)">MMP14</text>
<text transform="translate(0 1585) rotate(0.4)">PECAM1</text>
<text transform="translate(0 1610) rotate(0.4)">S1PR1</text>
<text transform="translate(0 1635) rotate(0.4)">SNAI1</text>
<text transform="translate(0 1660) rotate(0.4)">THBS1</text>
<text transform="translate(0 1684) rotate(0.4)">VCAN</text>
<text transform="translate(0 1709) rotate(0.4)">ZEB2</text>
<text transform="translate(0 1734) rotate(0.4)">COL4A1</text>
<text transform="translate(0 1759) rotate(0.4)">HSPG2</text>
<text transform="translate(0 1784) rotate(0.4)">PLVAP</text>
<text transform="translate(0 1809) rotate(0.4)">EMILIN1</text>
<text transform="translate(0 1833) rotate(0.4)">ANXA1</text>
<text transform="translate(0 1858) rotate(0.4)">CCR2</text>
<text transform="translate(0 1883) rotate(0.4)">COL1A1</text>
<text transform="translate(0 1908) rotate(0.4)">DCN</text>
<text transform="translate(0 1933) rotate(0.4)">FAP</text>
<text transform="translate(0 1958) rotate(0.4)">GLI1</text>
<text transform="translate(0 1982) rotate(0.4)">ITGA5</text>
<text transform="translate(0 2007) rotate(0.4)">LAMB1</text>
<text transform="translate(0 2032) rotate(0.4)">MMP14</text>
<text transform="translate(0 2057) rotate(0.4)">PECAM1</text>
<text transform="translate(0 2082) rotate(0.4)">S1PR1</text>
<text transform="translate(0 2107) rotate(0.4)">SNAI1</text>
<text transform="translate(0 2131) rotate(0.4)">THBS1</text>
<text transform="translate(0 2156) rotate(0.4)">VCAN</text>
<text transform="translate(0 2181) rotate(0.4)">ZEB2</text>
<text transform="translate(0 2206) rotate(0.4)">COL4A1</text>
<text transform="translate(0 2231) rotate(0.4)">HSPG2</text>
<text transform="translate(0 2256) rotate(0.4)">PLVAP</text>
<text transform="translate(0 2280) rotate(0.4)">EMILIN1</text>
<text transform="translate(0 2305) rotate(0.4)">ANXA1</text>
<text transform="translate(0 2330) rotate(0.4)">CCR2</text>
<text transform="translate(0 2355) rotate(0.4)">COL1A1</text>
<text transform="translate(0 2380) rotate(0.4)">DCN</text>
<text transform="translate(0 2405) rotate(0.4)">FAP</text>
<text transform="translate(0 2429) rotate(0.4)">GLI1</text>
<text transform="translate(0 2454) rotate(0.4)">ITGA5</text>
<text transform="translate(0 2479) rotate(0.4)">LAMB1</text>
<text transform="translate(0 2504) rotate(0.4)">MMP14</text>
<text transform="translate(0 2529) rotate(0.4)">PECAM1</text>
<text transform="translate(0 2554) rotate(0.4)">S1PR1</text>
<text transform="translate(0 2578) rotate(0.4)">SNAI1</text>
<text transform="translate(0 2603) rotate(0.4)">THBS1</text>
<text transform="translate(0 2628) rotate(0.4)">VCAN</text>
<text transform="translate(0 2653) rotate(0.4)">ZEB2</text>
<text transform="translate(0 2678) rotate(0.4)">COL4A1</text>
<text transform="translate(0 2703) rotate(0.4)">HSPG2</text>
<text transform="translate(0 2727) rotate(0.4)">PLVAP</text>
<text transform="translate(0 2752) rotate(0.4)">EMILIN1</text>
<text transform="translate(0 2777) rotate(0.4)">ANXA1</text>
<text transform="translate(0 2802) rotate(0.4)">CCR2</text>
<text transform="translate(0 2827) rotate(0.4)">COL1A1</text>
<text transform="translate(0 2852) rotate(0.4)">DCN</text>
<text transform="translate(0 2876) rotate(0.4)">FAP</text>
<text transform="translate(0 2901) rotate(0.4)">GLI1</text>
<text transform="translate(0 2926) rotate(0.4)">ITGA5</text>
<text transform="translate(0 2951) rotate(0.4)">LAMB1</text>
<text transform="translate(0 2976) rotate(0.4)">MMP14</text>
<text transform="translate(0 3001) rotate(0.4)">PECAM1</text>
<text transform="translate(0 3025) rotate(0.4)">S1PR1</text>
<text transform="translate(0 3050) rotate(0.4)">SNAI1</text>
<text transform="translate(0 3075) rotate(0.4)">THBS1</text>
<text transform="translate(0 3100) rotate(0.4)">VCAN</text>
<text transform="translate(0 3125) rotate(0.4)">ZEB2</text>
<text transform="translate(0 3150) rotate(0.4)">COL4A1</text>
<text transform="translate(0 3175) rotate(0.4)">HSPG2</text>
<text transform="translate(0 3199) rotate(0.4)">PLVAP</text>
<text transform="translate(0 3224) rotate(0.4)">EMILIN1</text>
<text transform="translate(0 3249) rotate(0.4)">ANXA1</text>
<text transform="translate(0 3274) rotate(0.4)">CCR2</text>
<text transform="translate(0 3299) rotate(0.4)">COL1A1</text>
<text transform="translate(0 3324) rotate(0.4)">DCN</text>
<text transform="translate(0 3348) rotate(0.4)">FAP</text>
<text transform="translate(0 3373) rotate(0.4)">GLI1</text>
<text transform="translate(0 3398) rotate(0.4)">ITGA5</text>
<text transform="translate(0 3423) rotate(0.4)">LAMB1</text>
<text transform="translate(0 3448) rotate(0.4)">MMP14</text>
</g>
<path d="M159.5 274.4H156.0M159.5 276.9H156.0M156.0 274.4V276.9M156.0 275.7H148.3M159.5 279.4H148.3M148.3 275.7V279.4M148.3 277.5H147.5M159.5 281.9H147.5M147.5 277.5V281.9M159.5 284.4H153.6M159.5 286.9H153.6M153.6 284.4V286.9M159.5 289.3H152.7M159.5 291.8H152.7M152.7 289.3V291.8M153.6 285.6H147.5M152.7 290.6H147.5M147.5 285.6V290.6M147.5 279.7H146.7M147.5 288.1H146.7M146.7 279.7V288.1M159.5 296.8H154.3M159.5 299.3H154.3M154.3 296.8V299.3M159.5 294.3H148.4M154.3 298.0H148.4M148.4 294.3V298.0M159.5 301.8H155.6M159.5 304.2H155.6M155.6 301.8V304.2M159.5 311.7H157.0M159.5 314.2H157.0M157.0 311.7V314.2M159.5 309.2H152.1M157.0 312.9H152.1M152.1 309.2V312.9M159.5 306.7H151.1M152.1 311.1H151.1M151.1 306.7V311.1M159.5 316.7H156.7M159.5 319.1H156.7M156.7 316.7V319.1M151.1 308.9H150.2M156.7 317.9H150.2M150.2 308.9V317.9M155.6 303.0H149.2M150.2 313.4H149.2M149.2 303.0V313.4M148.4 296.2H146.6M149.2 308.2H146.6M146.6 296.2V308.2M159.5 321.6H153.3M159.5 324.1H153.3M153.3 321.6V324.1M159.5 326.6H154.7M159.5 329.1H154.7M154.7 326.6V329.1M159.5 331.6H154.3M159.5 334.0H154.3M154.3 331.6V334.0M154.7 327.8H149.2M154.3 332.8H149.2M149.2 327.8V332.8M153.3 322.9H148.5M149.2 330.3H148.5M148.5 322.9V330.3M159.5 339.0H154.0M159.5 341.5H154.0M154.0 339.0V341.5M159.5 336.5H148.6M154.0 340.3H148.6M148.6 336.5V340.3M148.5 326.6H147.9M148.6 338.4H147.9M147.9 326.6V338.4M159.5 348.9H155.7M159.5 351.4H155.7M155.7 348.9V351.4M159.5 346.5H151.7M155.7 350.2H151.7M151.7 346.5V350.2M159.5 344.0H149.9M151.7 348.3H149.9M149.9 344.0V348.3M159.5 353.9H155.1M159.5 356.4H155.1M155.1 353.9V356.4M159.5 358.9H155.1M159.5 361.4H155.1M155.1 358.9V361.4M159.5 363.8H155.6M159.5 366.3H155.6M155.6 363.8V366.3M155.1 360.1H149.5M155.6 365.1H149.5M149.5 360.1V365.1M155.1 355.2H148.6M149.5 362.6H148.6M148.6 355.2V362.6M149.9 346.2H147.1M148.6 358.9H147.1M147.1 346.2V358.9M159.5 368.8H155.3M159.5 371.3H155.3M155.3 368.8V371.3M159.5 373.8H151.6M159.5 376.3H151.6M151.6 373.8V376.3M155.3 370.1H146.1M151.6 375.0H146.1M146.1 370.1V375.0M147.1 352.5H144.5M146.1 372.5H144.5M144.5 352.5V372.5M159.5 378.7H153.7M159.5 381.2H153.7M153.7 378.7V381.2M153.7 380.0H148.7M159.5 383.7H148.7M148.7 380.0V383.7M159.5 391.2H156.3M159.5 393.6H156.3M156.3 391.2V393.6M159.5 388.7H150.6M156.3 392.4H150.6M150.6 388.7V392.4M159.5 386.2H150.1M150.6 390.5H150.1M150.1 386.2V390.5M159.5 398.6H155.2M159.5 401.1H155.2M155.2 398.6V401.1M159.5 396.1H151.4M155.2 399.9H151.4M151.4 396.1V399.9M151.4 398.0H150.0M159.5 403.6H150.0M150.0 398.0V403.6M159.5 406.1H155.6M159.5 408.5H155.6M155.6 406.1V408.5M150.0 400.8H147.9M155.6 407.3H147.9M147.9 400.8V407.3M150.1 388.4H147.1M147.9 404.0H147.1M147.1 388.4V404.0M148.7 381.9H145.2M147.1 396.2H145.2M145.2 381.9V396.2M159.5 411.0H155.3M159.5 413.5H155.3M155.3 411.0V413.5M159.5 416.0H156.6M159.5 418.5H156.6M156.6 416.0V418.5M155.3 412.3H152.3M156.6 417.2H152.3M152.3 412.3V417.2M152.3 414.8H151.2M159.5 421.0H151.2M151.2 414.8V421.0M159.5 423.4H153.3M159.5 425.9H153.3M153.3 423.4V425.9M151.2 417.9H148.7M153.3 424.7H148.7M148.7 417.9V424.7M159.5 430.9H156.6M159.5 433.4H156.6M156.6 430.9V433.4M159.5 428.4H150.4M156.6 432.1H150.4M150.4 428.4V432.1M159.5 435.9H155.5M159.5 438.3H155.5M155.5 435.9V438.3M150.4 430.3H147.9M155.5 437.1H147.9M147.9 430.3V437.1M148.7 421.3H145.3M147.9 433.7H145.3M145.3 421.3V433.7M159.5 440.8H153.4M159.5 443.3H153.4M153.4 440.8V443.3M159.5 445.8H156.3M159.5 448.3H156.3M156.3 445.8V448.3M156.3 447.0H151.0M159.5 450.8H151.0M151.0 447.0V450.8M153.4 442.1H149.2M151.0 448.9H149.2M149.2 442.1V448.9M159.5 453.3H154.1M159.5 455.7H154.1M154.1 453.3V455.7M154.1 454.5H147.1M159.5 458.2H147.1M147.1 454.5V458.2M149.2 445.5H146.0M147.1 456.4H146.0M146.0 445.5V456.4M159.5 463.2H156.9M159.5 465.7H156.9M156.9 463.2V465.7M159.5 460.7H151.8M156.9 464.4H151.8M151.8 460.7V464.4M151.8 462.6H151.1M159.5 468.2H151.1M151.1 462.6V468.2M159.5 470.6H156.3M159.5 473.1H156.3M156.3 470.6V473.1M156.3 471.9H150.0M159.5 475.6H150.0M150.0 471.9V475.6M159.5 478.1H155.0M159.5 480.6H155.0M155.0 478.1V480.6M150.0 473.7H149.0M155.0 479.3H149.0M149.0 473.7V479.3M151.1 465.4H148.4M149.0 476.5H148.4M148.4 465.4V476.5M159.5 485.5H152.7M159.5 488.0H152.7M152.7 485.5V488.0M159.5 483.1H148.2M152.7 486.8H148.2M148.2 483.1V486.8M159.5 490.5H153.9M159.5 493.0H153.9M153.9 490.5V493.0M159.5 495.5H154.7M159.5 498.0H154.7M154.7 495.5V498.0M153.9 491.7H148.7M154.7 496.7H148.7M148.7 491.7V496.7M159.5 500.4H154.6M159.5 502.9H154.6M154.6 500.4V502.9M148.7 494.2H146.8M154.6 501.7H146.8M146.8 494.2V501.7M148.2 484.9H146.1M146.8 498.0H146.1M146.1 484.9V498.0M159.5 505.4H153.0M159.5 507.9H153.0M153.0 505.4V507.9M159.5 510.4H155.7M159.5 512.9H155.7M155.7 510.4V512.9M155.7 511.6H150.1M159.5 515.3H150.1M150.1 511.6V515.3M153.0 506.6H148.4M150.1 513.5H148.4M148.4 506.6V513.5M159.5 522.8H155.3M159.5 525.3H155.3M155.3 522.8V525.3M159.5 520.3H151.6M155.3 524.0H151.6M151.6 520.3V524.0M151.6 522.2H150.8M159.5 527.8H150.8M150.8 522.2V527.8M159.5 517.8H150.1M150.8 525.0H150.1M150.1 517.8V525.0M148.4 510.1H147.8M150.1 521.4H147.8M147.8 510.1V521.4M159.5 530.2H155.4M159.5 532.7H155.4M155.4 530.2V532.7M159.5 535.2H154.6M159.5 537.7H154.6M154.6 535.2V537.7M155.4 531.5H150.3M154.6 536.4H150.3M150.3 531.5V536.4M159.5 540.2H154.1M159.5 542.7H154.1M154.1 540.2V542.7M154.1 541.4H150.3M159.5 545.1H150.3M150.3 541.4V545.1M150.3 534.0H148.1M150.3 543.3H148.1M148.1 534.0V543.3M159.5 550.1H155.6M159.5 552.6H155.6M155.6 550.1V552.6M159.5 547.6H149.2M155.6 551.3H149.2M149.2 547.6V551.3M159.5 555.1H153.5M159.5 557.6H153.5M153.5 555.1V557.6M149.2 549.5H147.5M153.5 556.3H147.5M147.5 549.5V556.3M148.1 538.6H145.7M147.5 552.9H145.7M145.7 538.6V552.9M159.5 560.0H153.2M159.5 562.5H153.2M153.2 560.0V562.5M159.5 565.0H154.1M159.5 567.5H154.1M154.1 565.0V567.5M154.1 566.2H149.7M159.5 570.0H149.7M149.7 566.2V570.0M153.2 561.3H147.5M149.7 568.1H147.5M147.5 561.3V568.1M159.5 572.5H152.3M159.5 574.9H152.3M152.3 572.5V574.9M152.3 573.7H147.4M159.5 577.4H147.4M147.4 573.7V577.4M147.5 564.7H145.9M147.4 575.6H145.9M145.9 564.7V575.6M159.5 579.9H155.3M159.5 582.4H155.3M155.3 579.9V582.4M155.3 581.1H150.1M159.5 584.9H150.1M150.1 581.1V584.9M159.5 587.4H154.8M159.5 589.8H154.8M154.8 587.4V589.8M154.8 588.6H150.5M159.5 592.3H150.5M150.5 588.6V592.3M150.1 583.0H149.5M150.5 590.5H149.5M149.5 583.0V590.5M159.5 594.8H155.0M159.5 597.3H155.0M155.0 594.8V597.3M149.5 586.7H146.7M155.0 596.0H146.7M146.7 586.7V596.0M145.9 570.1H144.5M146.7 591.4H144.5M144.5 570.1V591.4M159.5 599.8H154.9M159.5 602.3H154.9M154.9 599.8V602.3M154.9 601.0H150.2M159.5 604.7H150.2M150.2 601.0V604.7M159.5 607.2H154.2M159.5 609.7H154.2M154.2 607.2V609.7M150.2 602.9H149.2M154.2 608.5H149.2M149.2 602.9V608.5M159.5 614.7H155.3M159.5 617.2H155.3M155.3 614.7V617.2M159.5 612.2H149.9M155.3 615.9H149.9M149.9 612.2V615.9M149.2 605.7H147.2M149.9 614.1H147.2M147.2 605.7V614.1M146.6 302.2H144.9M147.9 332.5H144.9M144.9 302.2V332.5M144.5 362.5H144.0M145.2 389.0H144.0M144.0 362.5V389.0M144.0 375.8H143.1M145.3 427.5H143.1M143.1 375.8V427.5M144.9 317.3H140.9M143.1 401.6H140.9M140.9 317.3V401.6M146.7 283.9H138.3M140.9 359.5H138.3M138.3 283.9V359.5M146.0 450.9H145.5M148.4 470.9H145.5M145.5 450.9V470.9M146.1 491.4H144.9M147.8 515.7H144.9M144.9 491.4V515.7M145.5 460.9H141.5M144.9 503.6H141.5M141.5 460.9V503.6M145.7 545.8H143.6M144.5 580.8H143.6M143.6 545.8V580.8M141.5 482.3H138.8M143.6 563.3H138.8M138.8 482.3V563.3M138.3 321.7H135.7M138.8 522.8H135.7M135.7 321.7V522.8M135.7 422.2H133.8M147.2 609.9H133.8M133.8 422.2V609.9" fill="none" stroke="#2A2A2A" stroke-width="0.55"/>
<defs><linearGradient id="cb" x1="0" y1="0" x2="0" y2="1"><stop offset="0" stop-color="#FF0000"/><stop offset="0.57" stop-color="#FF0000"/><stop offset="0.78" stop-color="#FFFFFF"/><stop offset="1" stop-color="#2020FF"/></linearGradient></defs>
<rect x="255.1" y="266.5" width="5.1" height="74" fill="url(#cb)"/>
<g font-size="4.5" fill="#222">
<text x="262.4" y="282.4">6</text>
<text x="262.4" y="297.2">4</text>
<text x="262.4" y="312.0">2</text>
<text x="262.4" y="326.8">0</text>
<text x="262.4" y="341.6">−2</text>
</g>
<path d="M304.4 284.7 V406.4 H477.3" fill="none" stroke="#333" stroke-width="0.8"/>
<g stroke="#333" stroke-width="0.5">
<line x1="302.8" x2="304.4" y1="306.9" y2="306.9"/>
<line x1="302.8" x2="304.4" y1="339.5" y2="339.5"/>
<line x1="302.8" x2="304.4" y1="372.1" y2="372.1"/>
<line x1="302.8" x2="304.4" y1="404.7" y2="404.7"/>
<line x1="329.1" x2="329.1" y1="406.4" y2="408.0"/>
<line x1="370.4" x2="370.4" y1="406.4" y2="408.0"/>
<line x1="411.7" x2="411.7" y1="406.4" y2="408.0"/>
<line x1="453.3" x2="453.3" y1="406.4" y2="408.0"/>
</g>
<g font-size="5.4" fill="#333">
<text x="301.3" y="308.8" text-anchor="end">2.6</text>
<text x="301.3" y="341.4" text-anchor="end">2.4</text>
<text x="301.3" y="374.0" text-anchor="end">2.2</text>
<text x="301.3" y="406.6" text-anchor="end">2.0</text>
<text x="329.1" y="413.6" text-anchor="middle">ISO</text>
<text x="370.4" y="413.6" text-anchor="middle">PD</text>
<text x="411.7" y="413.6" text-anchor="middle">PAK4i</text>
<text x="453.3" y="413.6" text-anchor="middle">Combo</text>
</g>
<text x="290.10" y="345.40" font-size="6.9" text-anchor="middle" transform="rotate(-90 290.10 345.40)">Extracellular matrix</text>
<g stroke="#F8766D" fill="none" stroke-width="0.85">
<line x1="329.1" x2="329.1" y1="381.6" y2="384.2"/>
<line x1="329.1" x2="329.1" y1="389.7" y2="392.0"/>
<rect x="313.5" y="384.2" width="31.1" height="5.5" fill="#fff"/>
<line x1="313.5" x2="344.6" y1="387.2" y2="387.2" stroke-width="1.5"/>
</g>
<circle cx="334.2" cy="382.3" r="1.4" fill="#F8766D"/>
<circle cx="332.6" cy="386.9" r="1.4" fill="#F8766D"/>
<circle cx="323.4" cy="393.2" r="1.4" fill="#F8766D"/>
<g stroke="#7CAE00" fill="none" stroke-width="0.85">
<line x1="370.2" x2="370.2" y1="337.3" y2="349.8"/>
<line x1="370.2" x2="370.2" y1="380.7" y2="399.6"/>
<rect x="354.5" y="349.8" width="31.4" height="30.9" fill="#fff"/>
<line x1="354.5" x2="385.9" y1="362.0" y2="362.0" stroke-width="1.5"/>
</g>
<circle cx="368.4" cy="337.3" r="1.4" fill="#7CAE00"/>
<circle cx="371.6" cy="360.8" r="1.4" fill="#7CAE00"/>
<circle cx="363.3" cy="400.5" r="1.4" fill="#7CAE00"/>
<g stroke="#00BFC4" fill="none" stroke-width="0.85">
<line x1="411.6" x2="411.6" y1="322.0" y2="335.5"/>
<line x1="411.6" x2="411.6" y1="351.2" y2="353.0"/>
<rect x="395.8" y="335.5" width="31.9" height="15.7" fill="#fff"/>
<line x1="395.8" x2="427.7" y1="349.0" y2="349.0" stroke-width="1.5"/>
</g>
<circle cx="405.5" cy="322.0" r="1.4" fill="#00BFC4"/>
<circle cx="414.5" cy="348.0" r="1.4" fill="#00BFC4"/>
<circle cx="420.0" cy="353.5" r="1.4" fill="#00BFC4"/>
<g stroke="#C77CFF" fill="none" stroke-width="0.85">
<line x1="453.3" x2="453.3" y1="290.0" y2="292.5"/>
<line x1="453.3" x2="453.3" y1="310.5" y2="327.0"/>
<rect x="437.5" y="292.5" width="31.7" height="18.0" fill="#fff"/>
<line x1="437.5" x2="469.2" y1="293.8" y2="293.8" stroke-width="1.5"/>
</g>
<circle cx="455.3" cy="290.0" r="1.4" fill="#C77CFF"/>
<circle cx="455.8" cy="293.2" r="1.4" fill="#C77CFF"/>
<circle cx="451.0" cy="327.0" r="1.4" fill="#C77CFF"/>
<path d="M328.6 283.3 V276.2 H371.2 V283.3" fill="none" stroke="#333" stroke-width="0.8"/>
<path d="M411.8 283.3 V276.2 H454.5 V283.3" fill="none" stroke="#333" stroke-width="0.8"/>
<path d="M348.6 276.2 V270.3 H434.2 V276.2" fill="none" stroke="#333" stroke-width="0.8"/>
<text x="391.20" y="270.00" font-size="9.5" text-anchor="middle" font-weight="bold">**</text>
<text x="488.00" y="325.00" font-size="6.6">Treatment</text>
<g stroke="#F8766D" stroke-width="0.75" fill="none">
<line x1="493.4" x2="493.4" y1="330.3" y2="338.7"/>
<rect x="489.5" y="331.5" width="7.8" height="6" fill="#fff"/>
<line x1="489.5" x2="497.3" y1="334.5" y2="334.5"/>
</g>
<circle cx="493.4" cy="334.5" r="1" fill="#F8766D"/>
<text x="502.00" y="336.50" font-size="5.5">ISO</text>
<g stroke="#7CAE00" stroke-width="0.75" fill="none">
<line x1="493.4" x2="493.4" y1="340.9" y2="349.3"/>
<rect x="489.5" y="342.1" width="7.8" height="6" fill="#fff"/>
<line x1="489.5" x2="497.3" y1="345.1" y2="345.1"/>
</g>
<circle cx="493.4" cy="345.1" r="1" fill="#7CAE00"/>
<text x="502.00" y="347.10" font-size="5.5">PD</text>
<g stroke="#00BFC4" stroke-width="0.75" fill="none">
<line x1="493.4" x2="493.4" y1="351.5" y2="359.9"/>
<rect x="489.5" y="352.7" width="7.8" height="6" fill="#fff"/>
<line x1="489.5" x2="497.3" y1="355.7" y2="355.7"/>
</g>
<circle cx="493.4" cy="355.7" r="1" fill="#00BFC4"/>
<text x="502.00" y="357.70" font-size="5.5">PAK4i</text>
<g stroke="#C77CFF" stroke-width="0.75" fill="none">
<line x1="493.4" x2="493.4" y1="362.1" y2="370.5"/>
<rect x="489.5" y="363.3" width="7.8" height="6" fill="#fff"/>
<line x1="489.5" x2="497.3" y1="366.3" y2="366.3"/>
</g>
<circle cx="493.4" cy="366.3" r="1" fill="#C77CFF"/>
<text x="502.00" y="368.30" font-size="5.5">Combo</text>
<path d="M298.8 457.5 V583.7 H475.4" fill="none" stroke="#333" stroke-width="0.8"/>
<g stroke="#333" stroke-width="0.5">
<line x1="297.2" x2="298.8" y1="478.7" y2="478.7"/>
<line x1="297.2" x2="298.8" y1="503.0" y2="503.0"/>
<line x1="297.2" x2="298.8" y1="527.3" y2="527.3"/>
<line x1="297.2" x2="298.8" y1="551.3" y2="551.3"/>
<line x1="297.2" x2="298.8" y1="575.4" y2="575.4"/>
<line x1="324.3" x2="324.3" y1="583.7" y2="585.3"/>
<line x1="366.4" x2="366.4" y1="583.7" y2="585.3"/>
<line x1="408.4" x2="408.4" y1="583.7" y2="585.3"/>
<line x1="450.8" x2="450.8" y1="583.7" y2="585.3"/>
</g>
<g font-size="5.4" fill="#333">
<text x="295.7" y="480.6" text-anchor="end">2.75</text>
<text x="295.7" y="504.9" text-anchor="end">2.50</text>
<text x="295.7" y="529.2" text-anchor="end">2.25</text>
<text x="295.7" y="553.2" text-anchor="end">2.00</text>
<text x="295.7" y="577.3" text-anchor="end">1.75</text>
<text x="324.3" y="590.9" text-anchor="middle">ISO</text>
<text x="366.4" y="590.9" text-anchor="middle">PD</text>
<text x="408.4" y="590.9" text-anchor="middle">PAK4i</text>
<text x="450.8" y="590.9" text-anchor="middle">Combo</text>
</g>
<text x="281.00" y="520.20" font-size="6.9" text-anchor="middle" transform="rotate(-90 281.00 520.20)">Transendothelial migration</text>
<g stroke="#F8766D" fill="none" stroke-width="0.85">
<line x1="324.3" x2="324.3" y1="549.4" y2="553.9"/>
<line x1="324.3" x2="324.3" y1="567.7" y2="577.0"/>
<rect x="308.4" y="553.9" width="32.0" height="13.8" fill="#fff"/>
<line x1="308.4" x2="340.4" y1="558.7" y2="558.7" stroke-width="1.5"/>
</g>
<circle cx="318.6" cy="549.2" r="1.4" fill="#F8766D"/>
<circle cx="327.4" cy="558.7" r="1.4" fill="#F8766D"/>
<circle cx="332.7" cy="577.3" r="1.4" fill="#F8766D"/>
<g stroke="#7CAE00" fill="none" stroke-width="0.85">
<line x1="366.4" x2="366.4" y1="514.9" y2="524.5"/>
<line x1="366.4" x2="366.4" y1="555.3" y2="577.0"/>
<rect x="350.3" y="524.5" width="32.2" height="30.8" fill="#fff"/>
<line x1="350.3" x2="382.5" y1="533.8" y2="533.8" stroke-width="1.5"/>
</g>
<circle cx="371.7" cy="514.9" r="1.4" fill="#7CAE00"/>
<circle cx="366.4" cy="533.8" r="1.4" fill="#7CAE00"/>
<circle cx="368.9" cy="577.0" r="1.4" fill="#7CAE00"/>
<g stroke="#00BFC4" fill="none" stroke-width="0.85">
<line x1="408.4" x2="408.4" y1="499.9" y2="507.2"/>
<line x1="408.4" x2="408.4" y1="521.1" y2="527.3"/>
<rect x="392.3" y="507.2" width="32.5" height="13.9" fill="#fff"/>
<line x1="392.3" x2="424.8" y1="514.3" y2="514.3" stroke-width="1.5"/>
</g>
<circle cx="403.3" cy="499.5" r="1.4" fill="#00BFC4"/>
<circle cx="413.2" cy="514.3" r="1.4" fill="#00BFC4"/>
<circle cx="413.0" cy="527.6" r="1.4" fill="#00BFC4"/>
<g stroke="#C77CFF" fill="none" stroke-width="0.85">
<line x1="450.8" x2="450.8" y1="462.6" y2="464.6"/>
<line x1="450.8" x2="450.8" y1="489.4" y2="512.0"/>
<rect x="434.7" y="464.6" width="32.2" height="24.8" fill="#fff"/>
<line x1="434.7" x2="466.9" y1="466.3" y2="466.3" stroke-width="1.5"/>
</g>
<circle cx="456.7" cy="462.6" r="1.4" fill="#C77CFF"/>
<circle cx="448.5" cy="466.3" r="1.4" fill="#C77CFF"/>
<circle cx="445.7" cy="512.6" r="1.4" fill="#C77CFF"/>
<path d="M324.5 455 V448.7 H367.2 V455" fill="none" stroke="#333" stroke-width="0.8"/>
<path d="M408.1 455 V448.7 H450.8 V455" fill="none" stroke="#333" stroke-width="0.8"/>
<path d="M344.6 448.7 V442.8 H429.9 V448.7" fill="none" stroke="#333" stroke-width="0.8"/>
<text x="387.30" y="441.90" font-size="9.5" text-anchor="middle" font-weight="bold">**</text>
<text x="486.70" y="498.80" font-size="6.6">Treatment</text>
<g stroke="#F8766D" stroke-width="0.75" fill="none">
<line x1="492.1" x2="492.1" y1="504.5" y2="512.9"/>
<rect x="488.2" y="505.7" width="7.8" height="6" fill="#fff"/>
<line x1="488.2" x2="496.0" y1="508.7" y2="508.7"/>
</g>
<circle cx="492.1" cy="508.7" r="1" fill="#F8766D"/>
<text x="501.60" y="510.70" font-size="5.5">ISO</text>
<g stroke="#7CAE00" stroke-width="0.75" fill="none">
<line x1="492.1" x2="492.1" y1="515.8" y2="524.2"/>
<rect x="488.2" y="517.0" width="7.8" height="6" fill="#fff"/>
<line x1="488.2" x2="496.0" y1="520.0" y2="520.0"/>
</g>
<circle cx="492.1" cy="520.0" r="1" fill="#7CAE00"/>
<text x="501.60" y="522.00" font-size="5.5">PD</text>
<g stroke="#00BFC4" stroke-width="0.75" fill="none">
<line x1="492.1" x2="492.1" y1="526.8" y2="535.2"/>
<rect x="488.2" y="528.0" width="7.8" height="6" fill="#fff"/>
<line x1="488.2" x2="496.0" y1="531.0" y2="531.0"/>
</g>
<circle cx="492.1" cy="531.0" r="1" fill="#00BFC4"/>
<text x="501.60" y="533.00" font-size="5.5">PAK4i</text>
<g stroke="#C77CFF" stroke-width="0.75" fill="none">
<line x1="492.1" x2="492.1" y1="537.8" y2="546.2"/>
<rect x="488.2" y="539.0" width="7.8" height="6" fill="#fff"/>
<line x1="488.2" x2="496.0" y1="542.0" y2="542.0"/>
</g>
<circle cx="492.1" cy="542.0" r="1" fill="#C77CFF"/>
<text x="501.60" y="544.00" font-size="5.5">Combo</text>
</svg></body></html>
